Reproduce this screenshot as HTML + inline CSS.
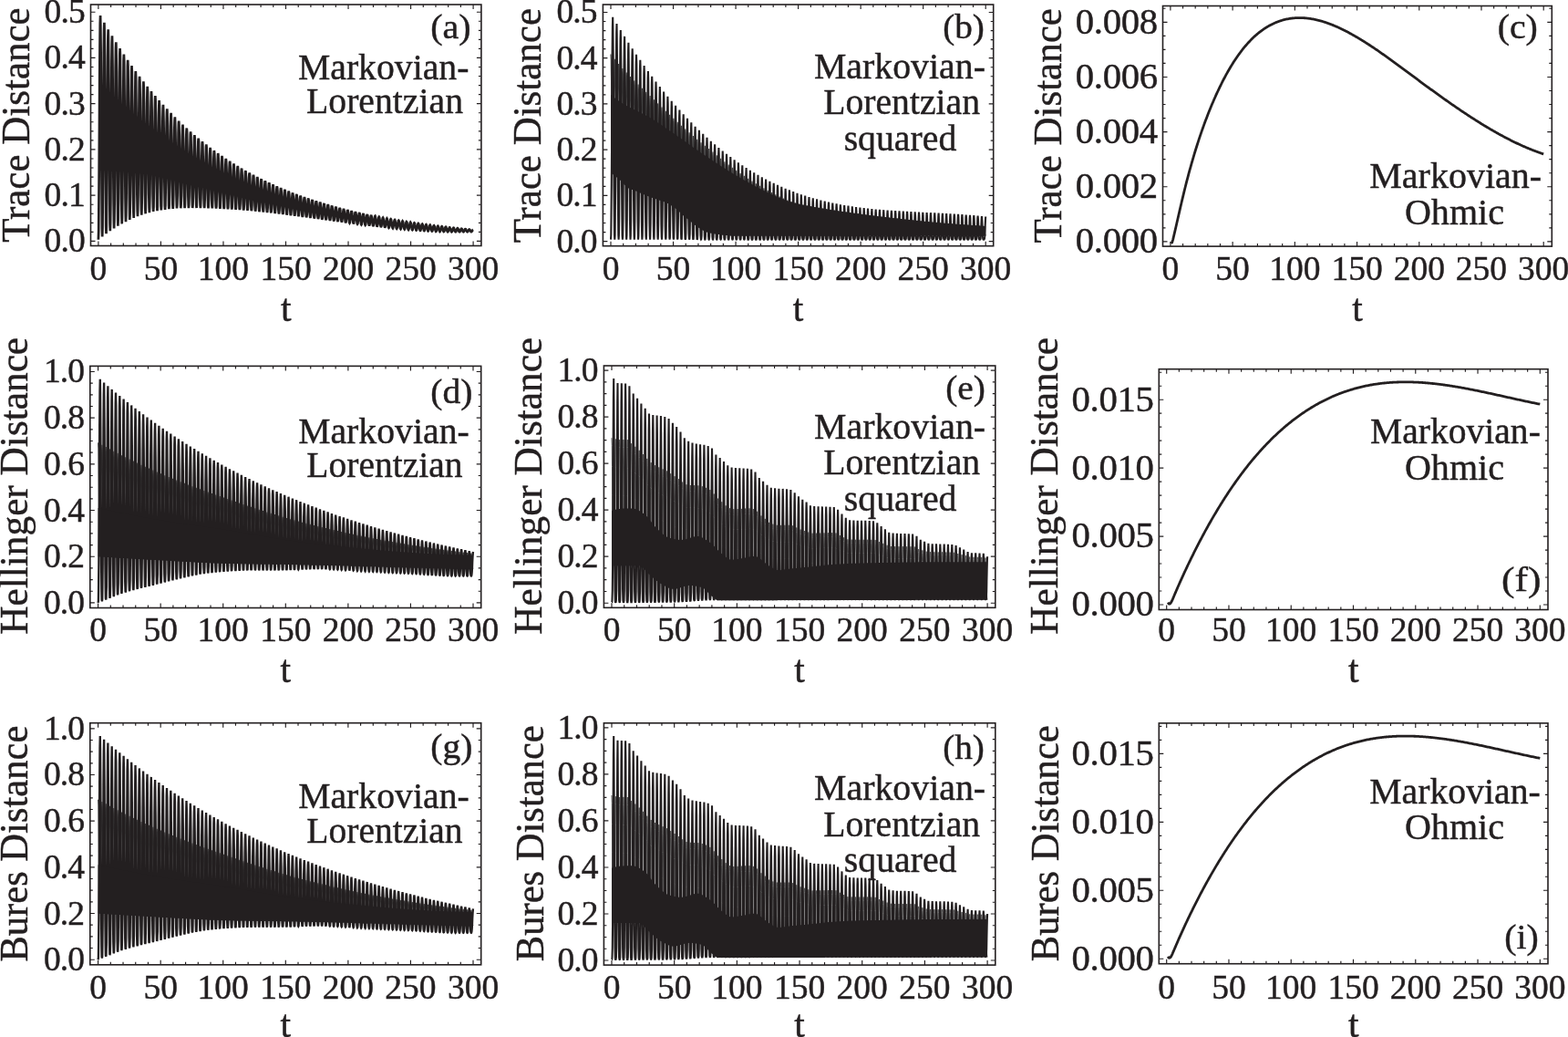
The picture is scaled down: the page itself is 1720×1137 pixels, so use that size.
<!DOCTYPE html><html><head><meta charset="utf-8"><title>Distance measures</title><style>html,body{margin:0;padding:0;background:#fff;overflow:hidden}svg{display:block}text{font-family:'Liberation Serif', 'Times New Roman', serif;fill:#231f20;stroke:#231f20;stroke-width:0.45px}</style></head><body>
<svg width="1720" height="1137" viewBox="0 0 1720 1137">
<rect width="1720" height="1137" fill="#fff"/>
<path d="M107.9 262.7 108.2 253.0 108.4 226.0 108.7 185.7 109.0 138.5 109.2 91.6 109.5 52.1 109.8 25.9 110.1 17.1 110.3 26.9 110.6 53.6 110.9 93.2 111.1 139.6 111.4 185.8 111.7 224.7 111.9 250.5 112.2 259.4 112.5 250.2 112.7 224.3 113.0 185.8 113.3 140.7 113.6 95.9 113.8 58.1 114.1 33.2 114.4 24.8 114.6 34.1 114.9 59.6 115.2 97.5 115.4 141.8 115.7 185.9 116.0 223.1 116.2 247.8 116.5 256.3 116.8 247.4 117.1 222.7 117.3 186.0 117.6 142.9 117.9 100.1 118.1 64.0 118.4 40.2 118.7 32.2 118.9 41.1 119.2 65.5 119.5 101.6 119.7 144.0 120.0 186.1 120.3 221.6 120.5 245.2 120.8 253.3 121.1 244.9 121.4 221.3 121.6 186.2 121.9 145.1 122.2 104.2 122.4 69.8 122.7 47.0 123.0 39.4 123.2 47.9 123.5 71.2 123.8 105.7 124.0 146.1 124.3 186.4 124.6 220.2 124.9 242.7 125.1 250.5 125.4 242.4 125.7 219.9 125.9 186.4 126.2 147.2 126.5 108.2 126.7 75.3 127.0 53.6 127.3 46.3 127.5 54.4 127.8 76.7 128.1 109.7 128.4 148.3 128.6 186.6 128.9 219.0 129.2 240.4 129.4 247.8 129.7 240.2 130.0 218.7 130.2 186.7 130.5 149.3 130.8 112.1 131.0 80.7 131.3 60.0 131.6 53.1 131.9 60.8 132.1 82.1 132.4 113.5 132.7 150.3 132.9 187.0 133.2 217.8 133.5 238.3 133.7 245.4 134.0 238.1 134.3 217.6 134.5 187.1 134.8 151.4 135.1 115.9 135.4 86.0 135.6 66.2 135.9 59.6 136.2 67.0 136.4 87.3 136.7 117.3 137.0 152.4 137.2 187.4 137.5 216.8 137.8 236.3 138.0 243.1 138.3 236.1 138.6 216.6 138.8 187.5 139.1 153.5 139.4 119.6 139.7 91.1 139.9 72.3 140.2 65.9 140.5 73.0 140.7 92.3 141.0 121.0 141.3 154.5 141.5 187.8 141.8 215.9 142.1 234.5 142.3 241.0 142.6 234.3 142.9 215.7 143.2 188.0 143.4 155.5 143.7 123.2 144.0 96.0 144.2 78.1 144.5 72.1 144.8 78.8 145.0 97.3 145.3 124.6 145.6 156.5 145.8 188.3 146.1 215.1 146.4 232.9 146.7 239.0 146.9 232.7 147.2 214.9 147.5 188.5 147.7 157.6 148.0 126.8 148.3 100.9 148.5 83.8 148.8 78.0 149.1 84.5 149.3 102.1 149.6 128.1 149.9 158.6 150.2 188.9 150.4 214.5 150.7 231.4 151.0 237.3 151.2 231.2 151.5 214.3 151.8 189.1 152.0 159.6 152.3 130.3 152.6 105.6 152.8 89.3 153.1 83.8 153.4 89.9 153.7 106.7 153.9 131.6 154.2 160.6 154.5 189.5 154.7 213.9 155.0 230.1 155.3 235.7 155.5 230.0 155.8 213.8 156.1 189.8 156.3 161.7 156.6 133.7 156.9 110.1 157.2 94.6 157.4 89.4 157.7 95.2 158.0 111.3 158.2 134.9 158.5 162.7 158.8 190.3 159.0 213.5 159.3 229.0 159.6 234.3 159.8 228.8 160.1 213.4 160.4 190.6 160.6 163.7 160.9 137.0 161.2 114.6 161.5 99.8 161.7 94.8 162.0 100.4 162.3 115.7 162.5 138.3 162.8 164.7 163.1 191.1 163.3 213.3 163.6 228.0 163.9 233.1 164.1 227.9 164.4 213.2 164.7 191.4 165.0 165.8 165.2 140.3 165.5 118.9 165.8 104.8 166.0 100.0 166.3 105.4 166.6 120.0 166.8 141.5 167.1 166.8 167.4 191.9 167.6 213.1 167.9 227.2 168.2 232.0 168.5 227.1 168.7 213.1 169.0 192.3 169.3 167.8 169.5 143.5 169.8 123.1 170.1 109.6 170.3 105.1 170.6 110.2 170.9 124.1 171.1 144.7 171.4 168.9 171.7 192.8 172.0 213.0 172.2 226.5 172.5 231.1 172.8 226.4 173.0 213.1 173.3 193.2 173.6 169.9 173.8 146.7 174.1 127.2 174.4 114.3 174.6 110.0 174.9 114.9 175.2 128.2 175.5 147.9 175.7 170.9 176.0 193.8 176.3 213.1 176.5 225.9 176.8 230.4 177.1 225.9 177.3 213.1 177.6 194.2 177.9 171.9 178.1 149.8 178.4 131.2 178.7 118.9 179.0 114.8 179.2 119.5 179.5 132.2 179.8 151.0 180.0 172.9 180.3 194.8 180.6 213.2 180.8 225.5 181.1 229.8 181.4 225.4 181.6 213.3 181.9 195.2 182.2 174.0 182.4 152.8 182.7 135.1 183.0 123.4 183.3 119.4 183.5 123.9 183.8 136.0 184.1 154.0 184.3 175.0 184.6 195.8 184.9 213.5 185.1 225.2 185.4 229.2 185.7 225.1 185.9 213.5 186.2 196.2 186.5 176.0 186.8 155.8 187.0 138.8 187.3 127.7 187.6 123.9 187.8 128.2 188.1 139.8 188.4 156.9 188.6 177.0 188.9 196.9 189.2 213.8 189.4 224.9 189.7 228.8 190.0 224.9 190.3 213.8 190.5 197.3 190.8 178.0 191.1 158.7 191.3 142.5 191.6 131.8 191.9 128.3 192.1 132.3 192.4 143.4 192.7 159.8 192.9 179.0 193.2 198.0 193.5 214.1 193.8 224.8 194.0 228.5 194.3 224.8 194.6 214.2 194.8 198.4 195.1 180.0 195.4 161.6 195.6 146.1 195.9 135.9 196.2 132.5 196.4 136.4 196.7 147.0 197.0 162.6 197.3 180.9 197.5 199.2 197.8 214.5 198.1 224.7 198.3 228.3 198.6 224.7 198.9 214.6 199.1 199.6 199.4 181.9 199.7 164.3 199.9 149.6 200.2 139.8 200.5 136.6 200.7 140.3 201.0 150.4 201.3 165.4 201.6 182.9 201.8 200.3 202.1 215.0 202.4 224.7 202.6 228.2 202.9 224.8 203.2 215.1 203.4 200.7 203.7 183.8 204.0 167.0 204.2 152.9 204.5 143.6 204.8 140.5 205.1 144.1 205.3 153.8 205.6 168.0 205.9 184.8 206.1 201.4 206.4 215.5 206.7 224.8 206.9 228.1 207.2 224.8 207.5 215.6 207.7 201.9 208.0 185.7 208.3 169.7 208.6 156.2 208.8 147.3 209.1 144.3 209.4 147.8 209.6 157.0 209.9 170.7 210.2 186.7 210.4 202.6 210.7 216.0 211.0 224.9 211.2 228.0 211.5 224.9 211.8 216.1 212.1 203.0 212.3 187.6 212.6 172.3 212.9 159.4 213.1 150.9 213.4 148.1 213.7 151.3 213.9 160.2 214.2 173.2 214.5 188.5 214.7 203.7 215.0 216.5 215.3 225.1 215.6 228.0 215.8 225.1 216.1 216.7 216.4 204.1 216.6 189.4 216.9 174.8 217.2 162.5 217.4 154.3 217.7 151.7 218.0 154.8 218.2 163.2 218.5 175.7 218.8 190.3 219.1 204.8 219.3 217.1 219.6 225.2 219.9 228.1 220.1 225.3 220.4 217.2 220.7 205.2 220.9 191.2 221.2 177.2 221.5 165.5 221.7 157.7 222.0 155.1 222.3 158.1 222.5 166.2 222.8 178.1 223.1 192.1 223.4 205.9 223.6 217.6 223.9 225.4 224.2 228.2 224.4 225.5 224.7 217.8 225.0 206.3 225.2 192.9 225.5 179.6 225.8 168.4 226.0 161.0 226.3 158.5 226.6 161.4 226.9 169.1 227.1 180.5 227.4 193.8 227.7 207.0 227.9 218.2 228.2 225.6 228.5 228.3 228.7 225.7 229.0 218.4 229.3 207.4 229.5 194.6 229.8 181.9 230.1 171.2 230.4 164.1 230.6 161.8 230.9 164.5 231.2 171.9 231.4 182.8 231.7 195.5 232.0 208.1 232.2 218.8 232.5 225.9 232.8 228.4 233.0 225.9 233.3 218.9 233.6 208.5 233.9 196.3 234.1 184.2 234.4 173.9 234.7 167.2 234.9 165.0 235.2 167.6 235.5 174.6 235.7 185.0 236.0 197.1 236.3 209.2 236.5 219.4 236.8 226.2 237.1 228.6 237.4 226.2 237.6 219.5 237.9 209.6 238.2 197.9 238.4 186.3 238.7 176.6 239.0 170.2 239.2 168.0 239.5 170.5 239.8 177.2 240.0 187.2 240.3 198.7 240.6 210.3 240.9 220.0 241.1 226.5 241.4 228.7 241.7 226.5 241.9 220.2 242.2 210.7 242.5 199.5 242.7 188.5 243.0 179.2 243.3 173.0 243.5 171.0 243.8 173.4 244.1 179.8 244.3 189.3 244.6 200.3 244.9 211.3 245.2 220.6 245.4 226.8 245.7 229.0 246.0 226.8 246.2 220.8 246.5 211.7 246.8 201.1 247.0 190.6 247.3 181.7 247.6 175.8 247.8 173.9 248.1 176.2 248.4 182.3 248.7 191.3 248.9 201.9 249.2 212.4 249.5 221.2 249.7 227.1 250.0 229.2 250.3 227.2 250.5 221.4 250.8 212.8 251.1 202.7 251.3 192.6 251.6 184.1 251.9 178.5 252.2 176.7 252.4 178.9 252.7 184.7 253.0 193.3 253.2 203.4 253.5 213.4 253.8 221.9 254.0 227.5 254.3 229.5 254.6 227.6 254.8 222.0 255.1 213.8 255.4 204.2 255.7 194.6 255.9 186.5 256.2 181.2 256.5 179.4 256.7 181.5 257.0 187.1 257.3 195.3 257.5 204.9 257.8 214.5 258.1 222.5 258.3 227.9 258.6 229.8 258.9 228.0 259.2 222.7 259.4 214.8 259.7 205.6 260.0 196.5 260.2 188.8 260.5 183.7 260.8 182.0 261.0 184.0 261.3 189.3 261.6 197.2 261.8 206.4 262.1 215.5 262.4 223.2 262.6 228.3 262.9 230.1 263.2 228.4 263.5 223.3 263.7 215.9 264.0 207.1 264.3 198.4 264.5 191.0 264.8 186.2 265.1 184.6 265.3 186.5 265.6 191.6 265.9 199.0 266.1 207.8 266.4 216.5 266.7 223.8 267.0 228.7 267.2 230.5 267.5 228.8 267.8 224.0 268.0 216.9 268.3 208.5 268.6 200.2 268.8 193.2 269.1 188.6 269.4 187.1 269.6 188.9 269.9 193.7 270.2 200.9 270.5 209.2 270.7 217.5 271.0 224.5 271.3 229.2 271.5 230.8 271.8 229.2 272.1 224.7 272.3 217.9 272.6 209.9 272.9 202.0 273.1 195.3 273.4 190.9 273.7 189.5 274.0 191.2 274.2 195.8 274.5 202.6 274.8 210.6 275.0 218.5 275.3 225.2 275.6 229.6 275.8 231.2 276.1 229.7 276.4 225.4 276.6 218.9 276.9 211.3 277.2 203.7 277.5 197.3 277.7 193.1 278.0 191.8 278.3 193.4 278.5 197.8 278.8 204.3 279.1 211.9 279.3 219.5 279.6 225.9 279.9 230.1 280.1 231.6 280.4 230.2 280.7 226.0 281.0 219.9 281.2 212.6 281.5 205.4 281.8 199.3 282.0 195.3 282.3 194.0 282.6 195.6 282.8 199.8 283.1 206.0 283.4 213.3 283.6 220.5 283.9 226.6 284.2 230.6 284.4 232.1 284.7 230.7 285.0 226.7 285.3 220.8 285.5 213.9 285.8 207.0 286.1 201.2 286.3 197.4 286.6 196.2 286.9 197.7 287.1 201.7 287.4 207.6 287.7 214.6 287.9 221.4 288.2 227.2 288.5 231.1 288.8 232.5 289.0 231.2 289.3 227.4 289.6 221.8 289.8 215.2 290.1 208.6 290.4 203.1 290.6 199.5 290.9 198.3 291.2 199.7 291.4 203.6 291.7 209.2 292.0 215.8 292.3 222.4 292.5 227.9 292.8 231.6 293.1 233.0 293.3 231.7 293.6 228.1 293.9 222.8 294.1 216.5 294.4 210.2 294.7 204.9 294.9 201.5 295.2 200.4 295.5 201.7 295.8 205.4 296.0 210.8 296.3 217.1 296.6 223.4 296.8 228.6 297.1 232.2 297.4 233.4 297.6 232.2 297.9 228.8 298.2 223.7 298.4 217.7 298.7 211.7 299.0 206.7 299.3 203.4 299.5 202.3 299.8 203.6 300.1 207.1 300.3 212.3 300.6 218.3 300.9 224.3 301.1 229.3 301.4 232.7 301.7 233.9 301.9 232.8 302.2 229.5 302.5 224.6 302.7 218.9 303.0 213.2 303.3 208.4 303.6 205.3 303.8 204.3 304.1 205.5 304.4 208.8 304.6 213.8 304.9 219.5 305.2 225.2 305.4 230.1 305.7 233.3 306.0 234.4 306.2 233.3 306.5 230.2 306.8 225.6 307.1 220.1 307.3 214.7 307.6 210.1 307.9 207.1 308.1 206.1 308.4 207.3 308.7 210.5 308.9 215.2 309.2 220.7 309.5 226.2 309.7 230.8 310.0 233.8 310.3 234.9 310.6 233.9 310.8 230.9 311.1 226.5 311.4 221.3 311.6 216.1 311.9 211.7 312.2 208.8 312.4 207.9 312.7 209.1 313.0 212.1 313.2 216.6 313.5 221.8 313.8 227.1 314.1 231.5 314.3 234.4 314.6 235.5 314.9 234.5 315.1 231.7 315.4 227.4 315.7 222.4 315.9 217.5 316.2 213.3 316.5 210.5 316.7 209.7 317.0 210.8 317.3 213.7 317.6 218.0 317.8 223.0 318.1 228.0 318.4 232.2 318.6 235.0 318.9 236.0 319.2 235.1 319.4 232.4 319.7 228.3 320.0 223.5 320.2 218.8 320.5 214.8 320.8 212.2 321.1 211.4 321.3 212.4 321.6 215.2 321.9 219.3 322.1 224.1 322.4 228.9 322.7 232.9 322.9 235.6 323.2 236.6 323.5 235.7 323.7 233.1 324.0 229.2 324.3 224.6 324.5 220.1 324.8 216.3 325.1 213.8 325.4 213.0 325.6 214.0 325.9 216.7 326.2 220.6 326.4 225.2 326.7 229.8 327.0 233.6 327.2 236.2 327.5 237.1 327.8 236.3 328.0 233.8 328.3 230.1 328.6 225.7 328.9 221.4 329.1 217.7 329.4 215.4 329.7 214.6 329.9 215.5 330.2 218.1 330.5 221.9 330.7 226.3 331.0 230.6 331.3 234.3 331.5 236.8 331.8 237.7 332.1 236.9 332.4 234.5 332.6 230.9 332.9 226.8 333.2 222.6 333.4 219.1 333.7 216.9 334.0 216.1 334.2 217.0 334.5 219.5 334.8 223.1 335.0 227.3 335.3 231.5 335.6 235.0 335.9 237.4 336.1 238.2 336.4 237.5 336.7 235.2 336.9 231.8 337.2 227.8 337.5 223.8 337.7 220.5 338.0 218.3 338.3 217.6 338.5 218.5 338.8 220.8 339.1 224.3 339.4 228.3 339.6 232.3 339.9 235.7 340.2 238.0 340.4 238.8 340.7 238.1 341.0 235.9 341.2 232.7 341.5 228.8 341.8 225.0 342.0 221.8 342.3 219.7 342.6 219.1 342.9 219.9 343.1 222.2 343.4 225.5 343.7 229.3 343.9 233.2 344.2 236.4 344.5 238.6 344.7 239.4 345.0 238.7 345.3 236.6 345.5 233.5 345.8 229.8 346.1 226.2 346.3 223.1 346.6 221.1 346.9 220.5 347.2 221.3 347.4 223.4 347.7 226.6 348.0 230.3 348.2 234.0 348.5 237.1 348.8 239.2 349.0 240.0 349.3 239.3 349.6 237.3 349.8 234.3 350.1 230.8 350.4 227.3 350.7 224.4 350.9 222.4 351.2 221.8 351.5 222.6 351.7 224.7 352.0 227.7 352.3 231.3 352.5 234.8 352.8 237.8 353.1 239.8 353.3 240.6 353.6 239.9 353.9 238.0 354.2 235.1 354.4 231.8 354.7 228.4 355.0 225.6 355.2 223.7 355.5 223.1 355.8 223.9 356.0 225.9 356.3 228.8 356.6 232.2 356.8 235.6 357.1 238.5 357.4 240.4 357.7 241.1 357.9 240.5 358.2 238.7 358.5 235.9 358.7 232.7 359.0 229.5 359.3 226.8 359.5 225.0 359.8 224.4 360.1 225.1 360.3 227.1 360.6 229.9 360.9 233.2 361.2 236.4 361.4 239.2 361.7 241.1 362.0 241.7 362.2 241.1 362.5 239.4 362.8 236.7 363.0 233.6 363.3 230.5 363.6 227.9 363.8 226.2 364.1 225.7 364.4 226.4 364.6 228.2 364.9 230.9 365.2 234.1 365.5 237.2 365.7 239.9 366.0 241.7 366.3 242.3 366.5 241.7 366.8 240.1 367.1 237.5 367.3 234.5 367.6 231.5 367.9 229.0 368.1 227.4 368.4 226.9 368.7 227.5 369.0 229.3 369.2 231.9 369.5 235.0 369.8 238.0 370.0 240.6 370.3 242.3 370.6 242.9 370.8 242.3 371.1 240.7 371.4 238.3 371.6 235.4 371.9 232.5 372.2 230.1 372.5 228.5 372.7 228.0 373.0 228.7 373.3 230.4 373.5 232.9 373.8 235.8 374.1 238.7 374.3 241.2 374.6 242.9 374.9 243.5 375.1 242.9 375.4 241.4 375.7 239.0 376.0 236.2 376.2 233.5 376.5 231.2 376.8 229.6 377.0 229.1 377.3 229.8 377.6 231.4 377.8 233.8 378.1 236.7 378.4 239.5 378.6 241.9 378.9 243.5 379.2 244.1 379.5 243.5 379.7 242.0 380.0 239.8 380.3 237.1 380.5 234.4 380.8 232.2 381.1 230.7 381.3 230.2 381.6 230.8 381.9 232.4 382.1 234.8 382.4 237.5 382.7 240.2 383.0 242.5 383.2 244.1 383.5 244.6 383.8 244.1 384.0 242.7 384.3 240.5 384.6 237.9 384.8 235.3 385.1 233.2 385.4 231.7 385.6 231.3 385.9 231.9 386.2 233.4 386.4 235.7 386.7 238.3 387.0 240.9 387.3 243.1 387.5 244.6 387.8 245.2 388.1 244.7 388.3 243.3 388.6 241.2 388.9 238.7 389.1 236.2 389.4 234.1 389.7 232.7 389.9 232.3 390.2 232.9 390.5 234.4 390.8 236.5 391.0 239.1 391.3 241.6 391.6 243.8 391.8 245.2 392.1 245.7 392.4 245.3 392.6 243.9 392.9 241.9 393.2 239.5 393.4 237.1 393.7 235.1 394.0 233.7 394.3 233.3 394.5 233.8 394.8 235.3 395.1 237.4 395.3 239.9 395.6 242.3 395.9 244.4 396.1 245.8 396.4 246.3 396.7 245.9 396.9 244.5 397.2 242.6 397.5 240.2 397.8 237.9 398.0 236.0 398.3 234.7 398.6 234.3 398.8 234.8 399.1 236.2 399.4 238.2 399.6 240.6 399.9 243.0 400.2 245.0 400.4 246.3 400.7 246.8 401.0 246.4 401.3 245.1 401.5 243.2 401.8 241.0 402.1 238.7 402.3 236.8 402.6 235.6 402.9 235.2 403.1 235.7 403.4 237.0 403.7 239.0 403.9 241.3 404.2 243.6 404.5 245.6 404.8 246.9 405.0 247.4 405.3 246.9 405.6 245.7 405.8 243.9 406.1 241.7 406.4 239.5 406.6 237.7 406.9 236.5 407.2 236.1 407.4 236.6 407.7 237.9 408.0 239.8 408.2 242.0 408.5 244.3 408.8 246.1 409.1 247.4 409.3 247.9 409.6 247.5 409.9 246.3 410.1 244.5 410.4 242.4 410.7 240.3 410.9 238.5 411.2 237.3 411.5 237.0 411.7 237.5 412.0 238.7 412.3 240.6 412.6 242.7 412.8 244.9 413.1 246.7 413.4 247.9 413.6 248.4 413.9 248.0 414.2 246.8 414.4 245.1 414.7 243.1 415.0 241.0 415.2 239.3 415.5 238.2 415.8 237.8 416.1 238.3 416.3 239.5 416.6 241.3 416.9 243.4 417.1 245.5 417.4 247.3 417.7 248.4 417.9 248.9 418.2 248.5 418.5 247.4 418.7 245.7 419.0 243.7 419.3 241.7 419.6 240.1 419.8 239.0 420.1 238.6 420.4 239.1 420.6 240.3 420.9 242.0 421.2 244.0 421.4 246.1 421.7 247.8 422.0 248.9 422.2 249.4 422.5 249.0 422.8 247.9 423.1 246.3 423.3 244.4 423.6 242.4 423.9 240.8 424.1 239.8 424.4 239.4 424.7 239.9 424.9 241.0 425.2 242.7 425.5 244.7 425.7 246.6 426.0 248.3 426.3 249.4 426.5 249.8 426.8 249.5 427.1 248.4 427.4 246.8 427.6 245.0 427.9 243.1 428.2 241.6 428.4 240.5 428.7 240.2 429.0 240.6 429.2 241.7 429.5 243.4 429.8 245.3 430.0 247.2 430.3 248.8 430.6 249.9 430.9 250.3 431.1 249.9 431.4 248.9 431.7 247.4 431.9 245.6 432.2 243.8 432.5 242.3 432.7 241.3 433.0 241.0 433.3 241.4 433.5 242.4 433.8 244.0 434.1 245.9 434.4 247.7 434.6 249.3 434.9 250.3 435.2 250.7 435.4 250.4 435.7 249.4 436.0 247.9 436.2 246.2 436.5 244.4 436.8 243.0 437.0 242.0 437.3 241.7 437.6 242.1 437.9 243.1 438.1 244.6 438.4 246.4 438.7 248.2 438.9 249.7 439.2 250.7 439.5 251.1 439.7 250.8 440.0 249.8 440.3 248.4 440.5 246.7 440.8 245.0 441.1 243.6 441.4 242.7 441.6 242.4 441.9 242.8 442.2 243.8 442.4 245.3 442.7 247.0 443.0 248.7 443.2 250.2 443.5 251.1 443.8 251.5 444.0 251.2 444.3 250.3 444.6 248.9 444.9 247.2 445.1 245.6 445.4 244.3 445.7 243.4 445.9 243.1 446.2 243.4 446.5 244.4 446.7 245.8 447.0 247.5 447.3 249.2 447.5 250.6 447.8 251.5 448.1 251.9 448.3 251.6 448.6 250.7 448.9 249.3 449.2 247.8 449.4 246.2 449.7 244.9 450.0 244.0 450.2 243.7 450.5 244.1 450.8 245.0 451.0 246.4 451.3 248.0 451.6 249.6 451.8 251.0 452.1 251.9 452.4 252.2 452.7 251.9 452.9 251.1 453.2 249.8 453.5 248.3 453.7 246.7 454.0 245.5 454.3 244.6 454.5 244.4 454.8 244.7 455.1 245.6 455.3 246.9 455.6 248.5 455.9 250.0 456.2 251.3 456.4 252.2 456.7 252.5 457.0 252.3 457.2 251.4 457.5 250.2 457.8 248.7 458.0 247.3 458.3 246.0 458.6 245.2 458.8 245.0 459.1 245.3 459.4 246.2 459.7 247.5 459.9 249.0 460.2 250.4 460.5 251.7 460.7 252.5 461.0 252.8 461.3 252.6 461.5 251.8 461.8 250.6 462.1 249.2 462.3 247.8 462.6 246.6 462.9 245.8 463.2 245.6 463.4 245.9 463.7 246.7 464.0 248.0 464.2 249.4 464.5 250.8 464.8 252.0 465.0 252.8 465.3 253.1 465.6 252.9 465.8 252.1 466.1 251.0 466.4 249.6 466.6 248.3 466.9 247.1 467.2 246.4 467.5 246.2 467.7 246.5 468.0 247.3 468.3 248.4 468.5 249.8 468.8 251.2 469.1 252.3 469.3 253.1 469.6 253.4 469.9 253.1 470.1 252.4 470.4 251.3 470.7 250.0 471.0 248.7 471.2 247.7 471.5 247.0 471.8 246.7 472.0 247.0 472.3 247.8 472.6 248.9 472.8 250.2 473.1 251.5 473.4 252.6 473.6 253.3 473.9 253.6 474.2 253.4 474.5 252.7 474.7 251.6 475.0 250.4 475.3 249.2 475.5 248.2 475.8 247.5 476.1 247.3 476.3 247.6 476.6 248.3 476.9 249.3 477.1 250.6 477.4 251.8 477.7 252.8 478.0 253.5 478.2 253.8 478.5 253.6 478.8 252.9 479.0 251.9 479.3 250.8 479.6 249.6 479.8 248.6 480.1 248.0 480.4 247.8 480.6 248.1 480.9 248.8 481.2 249.8 481.5 250.9 481.7 252.1 482.0 253.1 482.3 253.7 482.5 254.0 482.8 253.7 483.1 253.1 483.3 252.2 483.6 251.1 483.9 250.0 484.1 249.1 484.4 248.5 484.7 248.3 485.0 248.6 485.2 249.2 485.5 250.2 485.8 251.3 486.0 252.3 486.3 253.3 486.6 253.9 486.8 254.1 487.1 253.9 487.4 253.3 487.6 252.4 487.9 251.4 488.2 250.4 488.4 249.5 488.7 249.0 489.0 248.8 489.3 249.1 489.5 249.7 489.8 250.5 490.1 251.6 490.3 252.6 490.6 253.4 490.9 254.0 491.1 254.2 491.4 254.0 491.7 253.5 491.9 252.7 492.2 251.7 492.5 250.8 492.8 250.0 493.0 249.5 493.3 249.3 493.6 249.5 493.8 250.1 494.1 250.9 494.4 251.8 494.6 252.8 494.9 253.6 495.2 254.1 495.4 254.3 495.7 254.1 496.0 253.6 496.3 252.9 496.5 252.0 496.8 251.1 497.1 250.4 497.3 249.9 497.6 249.8 497.9 250.0 498.1 250.5 498.4 251.2 498.7 252.1 498.9 253.0 499.2 253.7 499.5 254.2 499.8 254.3 500.0 254.2 500.3 253.7 500.6 253.0 500.8 252.2 501.1 251.4 501.4 250.8 501.6 250.4 501.9 250.2 502.2 250.4 502.4 250.9 502.7 251.5 503.0 252.3 503.3 253.1 503.5 253.8 503.8 254.2 504.1 254.3 504.3 254.2 504.6 253.8 504.9 253.2 505.1 252.4 505.4 251.7 505.7 251.2 505.9 250.8 506.2 250.7 506.5 250.8 506.8 251.2 507.0 251.8 507.3 252.5 507.6 253.2 507.8 253.8 508.1 254.2 508.4 254.3 508.6 254.2 508.9 253.8 509.2 253.3 509.4 252.6 509.7 252.0 510.0 251.5 510.2 251.2 510.5 251.1 510.8 251.2 511.1 251.6 511.3 252.1 511.6 252.7 511.9 253.3 512.1 253.8 512.4 254.1 512.7 254.2 512.9 254.1 513.2 253.8 513.5 253.3 513.7 252.8 514.0 252.3 514.3 251.9 514.6 251.6 514.8 251.5 515.1 251.6 515.4 251.9 515.6 252.4 515.9 252.9 516.2 253.4 516.4 253.8 516.7 254.1 517.0 254.1 517.2 254.0 517.5 253.8 517.8 253.4 518.1 253.0 518.3 252.5 518.6 252.2 518.9 252.0 519.1 251.9" stroke="#231f20" stroke-width="2.7" fill="none" stroke-linejoin="miter" stroke-miterlimit="2"/>
<path d="M670.0 59.5 670.3 65.7 670.5 82.6 670.8 106.8 671.1 133.8 671.3 158.8 671.6 177.7 671.9 188.2 672.2 191.0 672.4 188.7 672.7 178.6 673.0 160.3 673.2 136.0 673.5 109.7 673.8 86.3 674.0 70.3 674.3 64.8 674.6 71.0 674.8 87.6 675.1 111.4 675.4 138.1 675.7 162.6 675.9 181.2 676.2 191.6 676.5 194.3 676.7 192.0 677.0 182.1 677.3 164.0 677.5 140.1 677.8 114.2 678.1 91.2 678.3 75.4 678.6 70.0 678.9 76.0 679.2 92.4 679.4 115.9 679.7 142.2 680.0 166.4 680.2 184.7 680.5 195.0 680.8 197.7 681.0 195.5 681.3 185.8 681.6 168.0 681.8 144.4 682.1 118.8 682.4 96.0 682.6 80.3 682.9 75.0 683.2 80.9 683.5 97.2 683.7 120.6 684.0 146.8 684.3 171.0 684.5 189.3 684.8 199.6 685.1 202.4 685.3 200.2 685.6 190.5 685.9 172.8 686.1 149.1 686.4 123.5 686.7 100.7 687.0 85.0 687.2 79.6 687.5 85.6 687.8 101.8 688.0 125.2 688.3 151.3 688.6 175.3 688.8 193.5 689.1 203.7 689.4 206.3 689.6 204.0 689.9 194.2 690.2 176.4 690.5 152.9 690.7 127.5 691.0 104.9 691.3 89.4 691.5 84.1 691.8 90.0 692.1 105.9 692.3 128.8 692.6 154.4 692.9 177.9 693.1 195.7 693.4 205.5 693.7 208.0 694.0 205.7 694.2 196.1 694.5 178.7 694.8 155.7 695.0 130.8 695.3 108.8 695.6 93.6 695.8 88.4 696.1 94.1 696.4 109.7 696.6 132.1 696.9 157.0 697.2 180.0 697.5 197.4 697.7 207.0 698.0 209.5 698.3 207.2 698.5 197.9 698.8 180.9 699.1 158.4 699.3 134.1 699.6 112.5 699.9 97.7 700.1 92.6 700.4 98.2 700.7 113.4 700.9 135.4 701.2 159.8 701.5 182.4 701.8 199.4 702.0 208.9 702.3 211.3 702.6 209.1 702.8 199.9 703.1 183.3 703.4 161.3 703.6 137.4 703.9 116.3 704.2 101.7 704.4 96.7 704.7 102.2 705.0 117.2 705.3 138.7 705.5 162.7 705.8 184.8 706.1 201.5 706.3 210.8 706.6 213.2 706.9 211.0 707.1 202.0 707.4 185.7 707.7 164.1 707.9 140.8 708.2 120.0 708.5 105.8 708.8 100.9 709.0 106.3 709.3 120.9 709.6 142.0 709.8 165.5 710.1 187.2 710.4 203.6 710.6 212.7 710.9 215.0 711.2 212.9 711.4 204.1 711.7 188.1 712.0 166.9 712.3 144.1 712.5 123.8 712.8 109.8 713.1 105.0 713.3 110.3 713.6 124.7 713.9 145.3 714.1 168.3 714.4 189.5 714.7 205.5 714.9 214.4 715.2 216.7 715.5 214.6 715.8 206.0 716.0 190.4 716.3 169.7 716.6 147.3 716.8 127.5 717.1 113.9 717.4 109.2 717.6 114.4 717.9 128.4 718.2 148.5 718.4 171.0 718.7 191.7 719.0 207.2 719.3 215.9 719.5 218.1 719.8 216.1 720.1 207.7 720.3 192.4 720.6 172.3 720.9 150.5 721.1 131.2 721.4 118.0 721.7 113.4 721.9 118.5 722.2 132.1 722.5 151.7 722.7 173.6 723.0 193.7 723.3 208.9 723.6 217.4 723.8 219.5 724.1 217.6 724.4 209.4 724.6 194.5 724.9 174.9 725.2 153.7 725.4 134.9 725.7 122.0 726.0 117.6 726.2 122.5 726.5 135.8 726.8 154.9 727.1 176.2 727.3 195.9 727.6 210.7 727.9 218.9 728.1 221.0 728.4 219.1 728.7 211.1 728.9 196.7 729.2 177.6 729.5 156.9 729.7 138.6 730.0 126.1 730.3 121.8 730.6 126.6 730.8 139.5 731.1 158.2 731.4 179.0 731.6 198.1 731.9 212.6 732.2 220.7 732.4 222.8 732.7 221.0 733.0 213.2 733.2 199.1 733.5 180.5 733.8 160.3 734.1 142.3 734.3 130.0 734.6 125.8 734.9 130.5 735.1 143.3 735.4 161.6 735.7 182.1 735.9 200.9 736.2 215.2 736.5 223.2 736.7 225.3 737.0 223.6 737.3 216.0 737.6 202.1 737.8 183.7 738.1 163.8 738.4 146.1 738.6 134.0 738.9 129.8 739.2 134.5 739.4 147.1 739.7 165.2 740.0 185.5 740.2 204.2 740.5 218.3 740.8 226.3 741.1 228.4 741.3 226.7 741.6 219.2 741.9 205.5 742.1 187.3 742.4 167.6 742.7 150.0 742.9 137.9 743.2 133.8 743.5 138.4 743.7 150.9 744.0 169.0 744.3 189.2 744.5 208.0 744.8 222.1 745.1 230.1 745.4 232.3 745.6 230.6 745.9 223.2 746.2 209.5 746.4 191.2 746.7 171.5 747.0 153.9 747.2 141.8 747.5 137.7 747.8 142.3 748.0 154.9 748.3 173.0 748.6 193.2 748.9 211.9 749.1 226.1 749.4 234.0 749.7 236.2 749.9 234.5 750.2 227.0 750.5 213.3 750.7 195.1 751.0 175.3 751.3 157.7 751.5 145.7 751.8 141.5 752.1 146.1 752.4 158.7 752.6 176.7 752.9 196.9 753.2 215.6 753.4 229.7 753.7 237.6 754.0 239.7 754.2 238.0 754.5 230.6 754.8 216.9 755.0 198.7 755.3 179.0 755.6 161.5 755.9 149.4 756.1 145.3 756.4 149.9 756.7 162.4 756.9 180.4 757.2 200.5 757.5 219.1 757.7 233.2 758.0 241.0 758.3 243.2 758.5 241.5 758.8 234.0 759.1 220.4 759.4 202.3 759.6 182.7 759.9 165.2 760.2 153.2 760.4 149.0 760.7 153.6 761.0 166.1 761.2 184.0 761.5 204.1 761.8 222.6 762.0 236.7 762.3 244.6 762.6 246.7 762.8 245.0 763.1 237.5 763.4 223.9 763.7 205.8 763.9 186.2 764.2 168.8 764.5 156.8 764.7 152.7 765.0 157.2 765.3 169.7 765.5 187.5 765.8 207.5 766.1 225.9 766.3 239.9 766.6 247.7 766.9 249.7 767.2 248.0 767.4 240.6 767.7 227.1 768.0 209.1 768.2 189.6 768.5 172.2 768.8 160.3 769.0 156.2 769.3 160.8 769.6 173.1 769.8 190.8 770.1 210.6 770.4 228.9 770.7 242.7 770.9 250.5 771.2 252.5 771.5 250.8 771.7 243.4 772.0 229.9 772.3 212.1 772.5 192.7 772.8 175.5 773.1 163.7 773.3 159.7 773.6 164.2 773.9 176.3 774.2 193.8 774.4 213.3 774.7 231.3 775.0 244.9 775.2 252.4 775.5 254.3 775.8 252.6 776.0 245.3 776.3 232.0 776.6 214.4 776.8 195.5 777.1 178.6 777.4 167.1 777.7 163.1 777.9 167.5 778.2 179.3 778.5 196.4 778.7 215.5 779.0 233.1 779.3 246.3 779.5 253.6 779.8 255.5 780.1 253.8 780.3 246.6 780.6 233.7 780.9 216.5 781.2 198.1 781.4 181.7 781.7 170.5 782.0 166.6 782.2 170.9 782.5 182.5 782.8 199.1 783.0 217.6 783.3 234.6 783.6 247.4 783.8 254.5 784.1 256.3 784.4 254.6 784.6 247.7 784.9 235.1 785.2 218.6 785.5 200.7 785.7 184.8 786.0 174.0 786.3 170.3 786.5 174.4 786.8 185.6 787.1 201.7 787.3 219.5 787.6 236.0 787.9 248.4 788.1 255.2 788.4 256.9 788.7 255.3 789.0 248.6 789.2 236.5 789.5 220.5 789.8 203.2 790.0 187.9 790.3 177.4 790.6 173.8 790.8 177.8 791.1 188.6 791.4 204.1 791.6 221.4 791.9 237.3 792.2 249.2 792.5 255.8 792.7 257.5 793.0 255.9 793.3 249.4 793.5 237.7 793.8 222.3 794.1 205.6 794.3 190.8 794.6 180.7 794.9 177.3 795.1 181.1 795.4 191.6 795.7 206.5 796.0 223.2 796.2 238.5 796.5 250.0 796.8 256.4 797.0 258.0 797.3 256.5 797.6 250.2 797.8 238.9 798.1 224.0 798.4 208.0 798.6 193.7 798.9 183.9 799.2 180.6 799.5 184.3 799.7 194.4 800.0 208.8 800.3 224.8 800.5 239.6 800.8 250.7 801.1 256.8 801.3 258.4 801.6 256.9 801.9 250.8 802.1 240.0 802.4 225.6 802.7 210.1 803.0 196.4 803.2 187.0 803.5 183.8 803.8 187.4 804.0 197.1 804.3 210.9 804.6 226.4 804.8 240.5 805.1 251.2 805.4 257.1 805.6 258.6 805.9 257.1 806.2 251.3 806.4 240.9 806.7 227.1 807.0 212.2 807.3 199.0 807.5 190.0 807.8 186.9 808.1 190.4 808.3 199.6 808.6 212.9 808.9 227.7 809.1 241.3 809.4 251.5 809.7 257.2 809.9 258.6 810.2 257.2 810.5 251.6 810.8 241.6 811.0 228.4 811.3 214.2 811.6 201.5 811.8 192.9 812.1 190.0 812.4 193.3 812.6 202.2 812.9 214.9 813.2 229.0 813.4 242.1 813.7 251.8 814.0 257.2 814.3 258.6 814.5 257.2 814.8 251.9 815.1 242.3 815.3 229.7 815.6 216.1 815.9 204.0 816.1 195.7 816.4 192.9 816.7 196.1 816.9 204.6 817.2 216.8 817.5 230.3 817.8 242.8 818.0 252.1 818.3 257.3 818.6 258.6 818.8 257.3 819.1 252.2 819.4 243.0 819.6 230.9 819.9 217.9 820.2 206.4 820.4 198.5 820.7 195.8 821.0 198.8 821.3 207.0 821.5 218.6 821.8 231.6 822.1 243.5 822.3 252.4 822.6 257.4 822.9 258.6 823.1 257.4 823.4 252.5 823.7 243.7 823.9 232.2 824.2 219.7 824.5 208.7 824.7 201.2 825.0 198.6 825.3 201.5 825.6 209.3 825.8 220.4 826.1 232.8 826.4 244.1 826.6 252.7 826.9 257.4 827.2 258.6 827.4 257.4 827.7 252.8 828.0 244.4 828.2 233.3 828.5 221.5 828.8 210.9 829.1 203.7 829.3 201.3 829.6 204.0 829.9 211.5 830.1 222.1 830.4 233.9 830.7 244.8 830.9 253.0 831.2 257.5 831.5 258.6 831.7 257.5 832.0 253.0 832.3 245.0 832.6 234.5 832.8 223.1 833.1 213.1 833.4 206.2 833.6 203.8 833.9 206.5 834.2 213.6 834.4 223.7 834.7 235.0 835.0 245.4 835.2 253.2 835.5 257.5 835.8 258.6 836.1 257.5 836.3 253.3 836.6 245.6 836.9 235.6 837.1 224.7 837.4 215.1 837.7 208.5 837.9 206.3 838.2 208.8 838.5 215.6 838.7 225.3 839.0 236.1 839.3 246.0 839.6 253.4 839.8 257.6 840.1 258.6 840.4 257.6 840.6 253.5 840.9 246.2 841.2 236.6 841.4 226.3 841.7 217.1 842.0 210.8 842.2 208.7 842.5 211.1 842.8 217.6 843.1 226.8 843.3 237.1 843.6 246.6 843.9 253.7 844.1 257.6 844.4 258.6 844.7 257.6 844.9 253.7 845.2 246.8 845.5 237.6 845.7 227.8 846.0 219.0 846.3 213.1 846.5 211.0 846.8 213.4 847.1 219.5 847.4 228.3 847.6 238.1 847.9 247.2 848.2 253.9 848.4 257.7 848.7 258.6 849.0 257.7 849.2 254.0 849.5 247.4 849.8 238.6 850.0 229.3 850.3 220.9 850.6 215.3 850.9 213.3 851.1 215.5 851.4 221.4 851.7 229.8 851.9 239.1 852.2 247.7 852.5 254.1 852.7 257.7 853.0 258.6 853.3 257.7 853.5 254.2 853.8 247.9 854.1 239.6 854.4 230.7 854.6 222.8 854.9 217.4 855.2 215.5 855.4 217.6 855.7 223.2 856.0 231.2 856.2 240.1 856.5 248.2 856.8 254.4 857.0 257.7 857.3 258.6 857.6 257.7 857.9 254.4 858.1 248.4 858.4 240.5 858.7 232.0 858.9 224.5 859.2 219.3 859.5 217.6 859.7 219.6 860.0 224.9 860.3 232.5 860.5 240.9 860.8 248.7 861.1 254.6 861.4 257.8 861.6 258.6 861.9 257.8 862.2 254.6 862.4 248.9 862.7 241.4 863.0 233.2 863.2 226.0 863.5 221.1 863.8 219.5 864.0 221.4 864.3 226.4 864.6 233.7 864.8 241.7 865.1 249.2 865.4 254.7 865.7 257.8 865.9 258.6 866.2 257.8 866.5 254.8 866.7 249.3 867.0 242.1 867.3 234.3 867.5 227.4 867.8 222.7 868.1 221.1 868.3 222.9 868.6 227.8 868.9 234.7 869.2 242.4 869.4 249.5 869.7 254.9 870.0 257.8 870.2 258.6 870.5 257.8 870.8 254.9 871.0 249.7 871.3 242.7 871.6 235.3 871.8 228.6 872.1 224.1 872.4 222.5 872.7 224.3 872.9 228.9 873.2 235.6 873.5 243.0 873.7 249.9 874.0 255.0 874.3 257.9 874.5 258.6 874.8 257.9 875.1 255.1 875.3 250.0 875.6 243.3 875.9 236.1 876.2 229.7 876.4 225.3 876.7 223.8 877.0 225.4 877.2 229.9 877.5 236.3 877.8 243.5 878.0 250.2 878.3 255.1 878.6 257.9 878.8 258.6 879.1 257.9 879.4 255.2 879.7 250.2 879.9 243.7 880.2 236.7 880.5 230.5 880.7 226.2 881.0 224.7 881.3 226.3 881.5 230.6 881.8 236.9 882.1 243.9 882.3 250.4 882.6 255.2 882.9 257.9 883.2 258.6 883.4 257.9 883.7 255.2 884.0 250.5 884.2 244.1 884.5 237.3 884.8 231.2 885.0 227.0 885.3 225.5 885.6 227.1 885.8 231.3 886.1 237.5 886.4 244.3 886.6 250.6 886.9 255.3 887.2 257.9 887.5 258.6 887.7 257.9 888.0 255.3 888.3 250.6 888.5 244.5 888.8 237.8 889.1 231.8 889.3 227.8 889.6 226.3 889.9 227.9 890.1 232.0 890.4 238.0 890.7 244.6 891.0 250.8 891.2 255.4 891.5 257.9 891.8 258.6 892.0 257.9 892.3 255.4 892.6 250.8 892.8 244.8 893.1 238.3 893.4 232.5 893.6 228.5 893.9 227.1 894.2 228.6 894.5 232.6 894.7 238.5 895.0 245.0 895.3 251.0 895.5 255.5 895.8 258.0 896.1 258.6 896.3 258.0 896.6 255.5 896.9 251.0 897.1 245.1 897.4 238.8 897.7 233.1 898.0 229.2 898.2 227.8 898.5 229.3 898.8 233.2 899.0 238.9 899.3 245.3 899.6 251.1 899.8 255.5 900.1 258.0 900.4 258.6 900.6 258.0 900.9 255.6 901.2 251.2 901.5 245.4 901.7 239.2 902.0 233.7 902.3 229.9 902.5 228.6 902.8 230.0 903.1 233.9 903.3 239.4 903.6 245.6 903.9 251.3 904.1 255.6 904.4 258.0 904.7 258.6 905.0 258.0 905.2 255.6 905.5 251.4 905.8 245.8 906.0 239.7 906.3 234.3 906.6 230.6 906.8 229.3 907.1 230.7 907.4 234.5 907.6 239.9 907.9 245.9 908.2 251.5 908.4 255.7 908.7 258.0 909.0 258.6 909.3 258.0 909.5 255.7 909.8 251.6 910.1 246.1 910.3 240.2 910.6 234.9 910.9 231.3 911.1 230.0 911.4 231.4 911.7 235.0 911.9 240.3 912.2 246.2 912.5 251.7 912.8 255.8 913.0 258.0 913.3 258.6 913.6 258.0 913.8 255.8 914.1 251.7 914.4 246.4 914.6 240.6 914.9 235.5 915.2 231.9 915.4 230.7 915.7 232.0 916.0 235.6 916.3 240.8 916.5 246.5 916.8 251.8 917.1 255.8 917.3 258.0 917.6 258.6 917.9 258.0 918.1 255.8 918.4 251.9 918.7 246.7 918.9 241.0 919.2 236.0 919.5 232.6 919.8 231.4 920.0 232.6 920.3 236.1 920.6 241.2 920.8 246.8 921.1 252.0 921.4 255.9 921.6 258.0 921.9 258.6 922.2 258.0 922.4 255.9 922.7 252.0 923.0 246.9 923.3 241.4 923.5 236.5 923.8 233.2 924.1 232.0 924.3 233.3 924.6 236.7 924.9 241.6 925.1 247.1 925.4 252.1 925.7 255.9 925.9 258.1 926.2 258.6 926.5 258.1 926.7 256.0 927.0 252.2 927.3 247.2 927.6 241.8 927.8 237.1 928.1 233.8 928.4 232.6 928.6 233.8 928.9 237.2 929.2 242.0 929.4 247.3 929.7 252.3 930.0 256.0 930.2 258.1 930.5 258.6 930.8 258.1 931.1 256.0 931.3 252.3 931.6 247.5 931.9 242.2 932.1 237.6 932.4 234.4 932.7 233.2 932.9 234.4 933.2 237.7 933.5 242.4 933.7 247.6 934.0 252.4 934.3 256.1 934.6 258.1 934.8 258.6 935.1 258.1 935.4 256.1 935.6 252.5 935.9 247.7 936.2 242.6 936.4 238.1 936.7 234.9 937.0 233.8 937.2 235.0 937.5 238.2 937.8 242.8 938.1 247.9 938.3 252.6 938.6 256.1 938.9 258.1 939.1 258.6 939.4 258.1 939.7 256.1 939.9 252.6 940.2 248.0 940.5 243.0 940.7 238.5 941.0 235.5 941.3 234.4 941.6 235.5 941.8 238.7 942.1 243.1 942.4 248.1 942.6 252.7 942.9 256.2 943.2 258.1 943.4 258.6 943.7 258.1 944.0 256.2 944.2 252.8 944.5 248.2 944.8 243.4 945.1 239.0 945.3 236.0 945.6 235.0 945.9 236.1 946.1 239.1 946.4 243.5 946.7 248.4 946.9 252.9 947.2 256.2 947.5 258.1 947.7 258.6 948.0 258.1 948.3 256.3 948.5 252.9 948.8 248.5 949.1 243.7 949.4 239.5 949.6 236.5 949.9 235.5 950.2 236.6 950.4 239.6 950.7 243.8 951.0 248.6 951.2 253.0 951.5 256.3 951.8 258.1 952.0 258.6 952.3 258.1 952.6 256.3 952.9 253.0 953.1 248.7 953.4 244.1 953.7 239.9 953.9 237.1 954.2 236.1 954.5 237.1 954.7 240.0 955.0 244.2 955.3 248.8 955.5 253.1 955.8 256.3 956.1 258.1 956.4 258.6 956.6 258.1 956.9 256.4 957.2 253.2 957.4 249.0 957.7 244.4 958.0 240.4 958.2 237.6 958.5 236.6 958.8 237.6 959.0 240.5 959.3 244.5 959.6 249.1 959.9 253.3 960.1 256.4 960.4 258.1 960.7 258.6 960.9 258.1 961.2 256.4 961.5 253.3 961.7 249.2 962.0 244.7 962.3 240.8 962.5 238.1 962.8 237.1 963.1 238.1 963.4 240.9 963.6 244.9 963.9 249.3 964.2 253.4 964.4 256.5 964.7 258.2 965.0 258.6 965.2 258.2 965.5 256.5 965.8 253.4 966.0 249.4 966.3 245.1 966.6 241.2 966.9 238.6 967.1 237.6 967.4 238.6 967.7 241.3 967.9 245.2 968.2 249.5 968.5 253.5 968.7 256.5 969.0 258.2 969.3 258.6 969.5 258.2 969.8 256.5 970.1 253.6 970.3 249.6 970.6 245.4 970.9 241.6 971.2 239.1 971.4 238.2 971.7 239.1 972.0 241.7 972.2 245.5 972.5 249.7 972.8 253.6 973.0 256.6 973.3 258.2 973.6 258.6 973.8 258.2 974.1 256.6 974.4 253.7 974.7 249.8 974.9 245.7 975.2 242.0 975.5 239.5 975.7 238.7 976.0 239.6 976.3 242.2 976.5 245.8 976.8 250.0 977.1 253.8 977.3 256.6 977.6 258.2 977.9 258.6 978.2 258.2 978.4 256.6 978.7 253.8 979.0 250.1 979.2 246.0 979.5 242.5 979.8 240.0 980.0 239.1 980.3 240.1 980.6 242.6 980.8 246.2 981.1 250.2 981.4 253.9 981.7 256.7 981.9 258.2 982.2 258.6 982.5 258.2 982.7 256.7 983.0 253.9 983.3 250.3 983.5 246.4 983.8 242.9 984.1 240.5 984.3 239.6 984.6 240.5 984.9 243.0 985.2 246.5 985.4 250.4 985.7 254.0 986.0 256.7 986.2 258.2 986.5 258.6 986.8 258.2 987.0 256.7 987.3 254.0 987.6 250.5 987.8 246.7 988.1 243.3 988.4 240.9 988.6 240.1 988.9 241.0 989.2 243.4 989.5 246.8 989.7 250.6 990.0 254.1 990.3 256.7 990.5 258.2 990.8 258.6 991.1 258.2 991.3 256.8 991.6 254.1 991.9 250.7 992.1 247.0 992.4 243.7 992.7 241.4 993.0 240.6 993.2 241.4 993.5 243.8 993.8 247.1 994.0 250.8 994.3 254.2 994.6 256.8 994.8 258.2 995.1 258.6 995.4 258.2 995.6 256.8 995.9 254.3 996.2 250.9 996.5 247.3 996.7 244.0 997.0 241.8 997.3 241.1 997.5 241.9 997.8 244.1 998.1 247.4 998.3 251.0 998.6 254.3 998.9 256.8 999.1 258.2 999.4 258.6 999.7 258.2 1000.0 256.9 1000.2 254.4 1000.5 251.1 1000.8 247.6 1001.0 244.4 1001.3 242.3 1001.6 241.5 1001.8 242.3 1002.1 244.5 1002.4 247.7 1002.6 251.2 1002.9 254.5 1003.2 256.9 1003.5 258.2 1003.7 258.6 1004.0 258.2 1004.3 256.9 1004.5 254.5 1004.8 251.3 1005.1 247.9 1005.3 244.8 1005.6 242.7 1005.9 242.0 1006.1 242.8 1006.4 244.9 1006.7 248.0 1007.0 251.4 1007.2 254.6 1007.5 256.9 1007.8 258.2 1008.0 258.6 1008.3 258.2 1008.6 256.9 1008.8 254.6 1009.1 251.5 1009.4 248.2 1009.6 245.2 1009.9 243.2 1010.2 242.5 1010.4 243.2 1010.7 245.3 1011.0 248.3 1011.3 251.6 1011.5 254.7 1011.8 257.0 1012.1 258.3 1012.3 258.6 1012.6 258.3 1012.9 257.0 1013.1 254.7 1013.4 251.7 1013.7 248.5 1013.9 245.6 1014.2 243.6 1014.5 242.9 1014.8 243.6 1015.0 245.7 1015.3 248.6 1015.6 251.8 1015.8 254.8 1016.1 257.0 1016.4 258.3 1016.6 258.6 1016.9 258.3 1017.2 257.0 1017.4 254.8 1017.7 251.9 1018.0 248.7 1018.3 245.9 1018.5 244.0 1018.8 243.3 1019.1 244.0 1019.3 246.0 1019.6 248.8 1019.9 252.0 1020.1 254.9 1020.4 257.1 1020.7 258.3 1020.9 258.6 1021.2 258.3 1021.5 257.1 1021.8 254.9 1022.0 252.1 1022.3 249.0 1022.6 246.3 1022.8 244.4 1023.1 243.7 1023.4 244.4 1023.6 246.3 1023.9 249.1 1024.2 252.2 1024.4 255.0 1024.7 257.1 1025.0 258.3 1025.3 258.6 1025.5 258.3 1025.8 257.1 1026.1 255.0 1026.3 252.2 1026.6 249.2 1026.9 246.6 1027.1 244.8 1027.4 244.1 1027.7 244.8 1027.9 246.7 1028.2 249.3 1028.5 252.3 1028.7 255.1 1029.0 257.1 1029.3 258.3 1029.6 258.6 1029.8 258.3 1030.1 257.2 1030.4 255.1 1030.6 252.4 1030.9 249.5 1031.2 246.9 1031.4 245.1 1031.7 244.5 1032.0 245.2 1032.2 247.0 1032.5 249.6 1032.8 252.5 1033.1 255.2 1033.3 257.2 1033.6 258.3 1033.9 258.6 1034.1 258.3 1034.4 257.2 1034.7 255.2 1034.9 252.6 1035.2 249.7 1035.5 247.2 1035.7 245.5 1036.0 244.9 1036.3 245.5 1036.6 247.3 1036.8 249.8 1037.1 252.6 1037.4 255.3 1037.6 257.2 1037.9 258.3 1038.2 258.6 1038.4 258.3 1038.7 257.2 1039.0 255.3 1039.2 252.7 1039.5 249.9 1039.8 247.5 1040.1 245.8 1040.3 245.2 1040.6 245.8 1040.9 247.6 1041.1 250.0 1041.4 252.8 1041.7 255.3 1041.9 257.3 1042.2 258.3 1042.5 258.6 1042.7 258.3 1043.0 257.3 1043.3 255.4 1043.6 252.9 1043.8 250.2 1044.1 247.8 1044.4 246.1 1044.6 245.5 1044.9 246.2 1045.2 247.8 1045.4 250.3 1045.7 252.9 1046.0 255.4 1046.2 257.3 1046.5 258.3 1046.8 258.6 1047.1 258.3 1047.3 257.3 1047.6 255.5 1047.9 253.0 1048.1 250.4 1048.4 248.0 1048.7 246.4 1048.9 245.9 1049.2 246.5 1049.5 248.1 1049.7 250.5 1050.0 253.1 1050.3 255.5 1050.5 257.3 1050.8 258.3 1051.1 258.6 1051.4 258.3 1051.6 257.3 1051.9 255.5 1052.2 253.2 1052.4 250.6 1052.7 248.3 1053.0 246.7 1053.2 246.2 1053.5 246.8 1053.8 248.4 1054.0 250.7 1054.3 253.2 1054.6 255.6 1054.9 257.4 1055.1 258.3 1055.4 258.6 1055.7 258.3 1055.9 257.4 1056.2 255.6 1056.5 253.3 1056.7 250.8 1057.0 248.6 1057.3 247.0 1057.5 246.5 1057.8 247.1 1058.1 248.6 1058.4 250.9 1058.6 253.4 1058.9 255.7 1059.2 257.4 1059.4 258.3 1059.7 258.6 1060.0 258.3 1060.2 257.4 1060.5 255.7 1060.8 253.4 1061.0 251.0 1061.3 248.8 1061.6 247.3 1061.9 246.8 1062.1 247.4 1062.4 248.9 1062.7 251.1 1062.9 253.5 1063.2 255.7 1063.5 257.4 1063.7 258.3 1064.0 258.6 1064.3 258.3 1064.5 257.4 1064.8 255.8 1065.1 253.6 1065.4 251.2 1065.6 249.1 1065.9 247.6 1066.2 247.1 1066.4 247.6 1066.7 249.1 1067.0 251.2 1067.2 253.6 1067.5 255.8 1067.8 257.4 1068.0 258.3 1068.3 258.6 1068.6 258.3 1068.9 257.4 1069.1 255.8 1069.4 253.7 1069.7 251.4 1069.9 249.3 1070.2 247.9 1070.5 247.4 1070.7 247.9 1071.0 249.4 1071.3 251.4 1071.5 253.7 1071.8 255.9 1072.1 257.5 1072.3 258.4 1072.6 258.6 1072.9 258.4 1073.2 257.5 1073.4 255.9 1073.7 253.8 1074.0 251.5 1074.2 249.5 1074.5 248.1 1074.8 247.7 1075.0 248.2 1075.3 249.6 1075.6 251.6 1075.8 253.8 1076.1 255.9 1076.4 257.5 1076.7 258.4 1076.9 258.6 1077.2 258.4 1077.5 257.5 1077.7 256.0 1078.0 253.9 1078.3 251.7 1078.5 249.7 1078.8 248.4 1079.1 247.9 1079.3 248.4 1079.6 249.8 1079.9 251.8 1080.2 254.0 1080.4 256.0 1080.7 257.5 1081.0 258.4 1081.2 258.6" stroke="#444" stroke-width="1.2" fill="none" stroke-linejoin="miter" stroke-miterlimit="2"/>
<path d="M670.0 262.6 670.3 257.7 670.5 238.0 670.8 202.5 671.1 155.6 671.3 105.1 671.6 60.2 671.9 29.4 672.2 18.7 672.4 30.2 672.7 61.7 673.0 106.9 673.2 157.2 673.5 203.6 673.8 238.5 674.0 257.8 674.3 262.6 674.6 257.8 674.8 238.7 675.1 204.3 675.4 158.8 675.7 109.8 675.9 66.2 676.2 36.3 676.5 26.0 676.7 37.1 677.0 67.6 677.3 111.5 677.5 160.4 677.8 205.4 678.1 239.3 678.3 258.0 678.6 262.6 678.9 258.0 679.2 239.4 679.4 206.0 679.7 161.9 680.0 114.3 680.2 72.0 680.5 43.0 680.8 33.0 681.0 43.9 681.3 73.5 681.6 116.0 681.8 163.4 682.1 207.1 682.4 240.0 682.6 258.1 682.9 262.6 683.2 258.1 683.5 240.1 683.7 207.7 684.0 164.9 684.3 118.8 684.5 77.7 684.8 49.6 685.1 39.9 685.3 50.5 685.6 79.2 685.9 120.4 686.1 166.4 686.4 208.8 686.7 240.6 687.0 258.2 687.2 262.6 687.5 258.3 687.8 240.8 688.0 209.4 688.3 167.9 688.6 123.1 688.8 83.3 689.1 56.1 689.4 46.7 689.6 56.9 689.9 84.7 690.2 124.7 690.5 169.3 690.7 210.4 691.0 241.3 691.3 258.4 691.5 262.6 691.8 258.4 692.1 241.5 692.3 211.0 692.6 170.8 692.9 127.4 693.1 88.8 693.4 62.4 693.7 53.2 694.0 63.2 694.2 90.1 694.5 128.9 694.8 172.2 695.0 212.0 695.3 242.0 695.6 258.5 695.8 262.6 696.1 258.5 696.4 242.1 696.6 212.6 696.9 173.6 697.2 131.5 697.5 94.1 697.7 68.5 698.0 59.7 698.3 69.3 698.5 95.4 698.8 133.1 699.1 175.0 699.3 213.6 699.6 242.6 699.9 258.6 700.1 262.6 700.4 258.6 700.7 242.7 700.9 214.1 701.2 176.3 701.5 135.6 701.8 99.3 702.0 74.5 702.3 65.9 702.6 75.3 702.8 100.6 703.1 137.1 703.4 177.7 703.6 215.1 703.9 243.2 704.2 258.8 704.4 262.6 704.7 258.8 705.0 243.4 705.3 215.6 705.5 179.0 705.8 139.5 706.1 104.4 706.3 80.4 706.6 72.1 706.9 81.1 707.1 105.7 707.4 141.0 707.7 180.3 707.9 216.6 708.2 243.8 708.5 258.9 708.8 262.6 709.0 258.9 709.3 244.0 709.6 217.1 709.8 181.6 710.1 143.4 710.4 109.4 710.6 86.1 710.9 78.0 711.2 86.8 711.4 110.6 711.7 144.8 712.0 182.9 712.3 218.0 712.5 244.4 712.8 259.0 713.1 262.6 713.3 259.0 713.6 244.6 713.9 218.5 714.1 184.2 714.4 147.1 714.7 114.2 714.9 91.6 715.2 83.9 715.5 92.3 715.8 115.4 716.0 148.5 716.3 185.4 716.6 219.4 716.8 245.0 717.1 259.1 717.4 262.6 717.6 259.1 717.9 245.1 718.2 219.9 718.4 186.7 718.7 150.8 719.0 118.9 719.3 97.1 719.5 89.5 719.8 97.7 720.1 120.1 720.3 152.1 720.6 187.9 720.9 220.8 721.1 245.5 721.4 259.2 721.7 262.6 721.9 259.2 722.2 245.7 722.5 221.3 722.7 189.1 723.0 154.4 723.3 123.5 723.6 102.4 723.8 95.1 724.1 103.0 724.4 124.6 724.6 155.7 724.9 190.3 725.2 222.3 725.4 246.3 725.7 259.4 726.0 262.6 726.2 259.5 726.5 246.8 726.8 223.7 727.1 192.7 727.3 159.0 727.6 128.7 727.9 107.7 728.1 100.5 728.4 108.4 728.7 130.0 728.9 161.0 729.2 195.1 729.5 225.9 729.7 248.3 730.0 260.0 730.3 262.6 730.6 260.1 730.8 248.8 731.1 227.2 731.4 197.4 731.6 164.2 731.9 134.0 732.2 113.0 732.4 105.7 732.7 113.7 733.0 135.4 733.2 166.1 733.5 199.6 733.8 229.2 734.1 250.1 734.3 260.5 734.6 262.6 734.9 260.5 735.1 250.5 735.4 230.3 735.7 201.7 735.9 169.2 736.2 139.2 736.5 118.2 736.7 110.8 737.0 118.8 737.3 140.5 737.6 171.0 737.8 203.7 738.1 232.2 738.4 251.6 738.6 260.9 738.9 262.6 739.2 260.9 739.4 252.0 739.7 233.2 740.0 205.7 740.2 174.0 740.5 144.2 740.8 123.2 741.1 115.8 741.3 123.8 741.6 145.5 741.9 175.7 742.1 207.7 742.4 234.9 742.7 253.0 742.9 261.2 743.2 262.6 743.5 261.2 743.7 253.3 744.0 235.8 744.3 209.5 744.5 178.5 744.8 149.1 745.1 128.1 745.4 120.6 745.6 128.7 745.9 150.2 746.2 180.1 746.4 211.3 746.7 237.4 747.0 254.2 747.2 261.4 747.5 262.6 747.8 261.5 748.0 254.5 748.3 238.2 748.6 213.1 748.9 182.8 749.1 153.7 749.4 132.8 749.7 125.3 749.9 133.4 750.2 154.8 750.5 184.4 750.7 214.8 751.0 239.6 751.3 255.2 751.5 261.6 751.8 262.6 752.1 261.7 752.4 255.5 752.6 240.4 752.9 216.4 753.2 186.9 753.4 158.2 753.7 137.3 754.0 129.9 754.2 137.9 754.5 159.3 754.8 188.4 755.0 218.0 755.3 241.7 755.6 256.1 755.9 261.8 756.1 262.6 756.4 261.8 756.7 256.3 756.9 242.4 757.2 219.5 757.5 190.8 757.7 162.5 758.0 141.8 758.3 134.3 758.5 142.3 758.8 163.6 759.1 192.2 759.4 221.0 759.6 243.6 759.9 256.9 760.2 262.0 760.4 262.6 760.7 262.0 761.0 257.1 761.2 244.3 761.5 222.4 761.8 194.5 762.0 166.7 762.3 146.1 762.6 138.7 762.8 146.6 763.1 167.7 763.4 195.9 763.7 223.8 763.9 245.3 764.2 257.6 764.5 262.1 764.7 262.6 765.0 262.1 765.3 257.8 765.5 245.9 765.8 225.1 766.1 198.1 766.3 170.7 766.6 150.3 766.9 142.9 767.2 150.8 767.4 171.6 767.7 199.3 768.0 226.4 768.2 246.9 768.5 258.3 768.8 262.2 769.0 262.6 769.3 262.2 769.6 258.4 769.8 247.4 770.1 227.7 770.4 201.4 770.7 174.5 770.9 154.3 771.2 146.9 771.5 154.8 771.7 175.4 772.0 202.6 772.3 228.9 772.5 248.3 772.8 258.8 773.1 262.2 773.3 262.6 773.6 262.3 773.9 258.9 774.2 248.8 774.4 230.1 774.7 204.6 775.0 178.2 775.2 158.2 775.5 150.9 775.8 158.7 776.0 179.1 776.3 205.8 776.6 231.2 776.8 249.6 777.1 259.3 777.4 262.3 777.7 262.6 777.9 262.3 778.2 259.4 778.5 250.1 778.7 232.3 779.0 207.7 779.3 181.7 779.5 162.0 779.8 154.7 780.1 162.4 780.3 182.6 780.6 208.8 780.9 233.3 781.2 250.8 781.4 259.7 781.7 262.4 782.0 262.6 782.2 262.4 782.5 259.8 782.8 251.2 783.0 234.3 783.3 210.5 783.6 185.2 783.8 165.6 784.1 158.4 784.4 166.1 784.6 186.0 784.9 211.6 785.2 235.3 785.5 251.9 785.7 260.1 786.0 262.4 786.3 262.6 786.5 262.4 786.8 260.1 787.1 252.2 787.3 236.3 787.6 213.3 787.9 188.4 788.1 169.1 788.4 162.0 788.7 169.6 789.0 189.2 789.2 214.3 789.5 237.2 789.8 252.8 790.0 260.4 790.3 262.4 790.6 262.6 790.8 262.4 791.1 260.4 791.4 253.2 791.6 238.1 791.9 215.9 792.2 191.6 792.5 172.6 792.7 165.5 793.0 173.0 793.3 192.3 793.5 216.8 793.8 238.9 794.1 253.7 794.3 260.6 794.6 262.5 794.9 262.6 795.1 262.5 795.4 260.7 795.7 254.0 796.0 239.7 796.2 218.3 796.5 194.6 796.8 175.8 797.0 168.8 797.3 176.2 797.6 195.3 797.8 219.2 798.1 240.5 798.4 254.5 798.6 260.9 798.9 262.5 799.2 262.6 799.5 262.5 799.7 260.9 800.0 254.8 800.3 241.3 800.5 220.7 800.8 197.5 801.1 179.0 801.3 172.1 801.6 179.4 801.9 198.2 802.1 221.5 802.4 242.0 802.7 255.3 803.0 261.1 803.2 262.5 803.5 262.6 803.8 262.5 804.0 261.2 804.3 255.5 804.6 242.8 804.8 222.9 805.1 200.2 805.4 182.1 805.6 175.2 805.9 182.4 806.2 200.9 806.4 223.7 806.7 243.4 807.0 255.9 807.3 261.3 807.5 262.5 807.8 262.6 808.1 262.5 808.3 261.3 808.6 256.2 808.9 244.1 809.1 225.0 809.4 202.9 809.7 185.0 809.9 178.2 810.2 185.4 810.5 203.5 810.8 225.7 811.0 244.8 811.3 256.5 811.6 261.5 811.8 262.5 812.1 262.6 812.4 262.5 812.6 261.5 812.9 256.8 813.2 245.4 813.4 227.0 813.7 205.4 814.0 187.9 814.3 181.2 814.5 188.2 814.8 206.0 815.1 227.7 815.3 246.0 815.6 257.1 815.9 261.6 816.1 262.5 816.4 262.6 816.7 262.5 816.9 261.6 817.2 257.3 817.5 246.6 817.8 228.9 818.0 207.8 818.3 190.6 818.6 184.0 818.8 190.9 819.1 208.4 819.4 229.5 819.6 247.1 819.9 257.6 820.2 261.7 820.4 262.6 820.7 262.6 821.0 262.6 821.3 261.8 821.5 257.8 821.8 247.7 822.1 230.6 822.3 210.2 822.6 193.2 822.9 186.7 823.1 193.5 823.4 210.7 823.7 231.3 823.9 248.2 824.2 258.1 824.5 261.8 824.7 262.6 825.0 262.6 825.3 262.6 825.6 261.9 825.8 258.2 826.1 248.7 826.4 232.3 826.6 212.4 826.9 195.7 827.2 189.3 827.4 196.0 827.7 212.9 828.0 232.9 828.2 249.2 828.5 258.5 828.8 261.9 829.1 262.6 829.3 262.6 829.6 262.6 829.9 261.9 830.1 258.6 830.4 249.6 830.7 233.9 830.9 214.5 831.2 198.1 831.5 191.8 831.7 198.4 832.0 215.0 832.3 234.5 832.6 250.1 832.8 258.8 833.1 262.0 833.4 262.6 833.6 262.6 833.9 262.6 834.2 262.0 834.4 259.0 834.7 250.5 835.0 235.4 835.2 216.5 835.5 200.5 835.8 194.2 836.1 200.7 836.3 217.0 836.6 235.9 836.9 250.9 837.1 259.2 837.4 262.1 837.7 262.6 837.9 262.6 838.2 262.6 838.5 262.1 838.7 259.3 839.0 251.3 839.3 236.8 839.6 218.4 839.8 202.7 840.1 196.5 840.4 202.9 840.6 218.9 840.9 237.3 841.2 251.7 841.4 259.5 841.7 262.1 842.0 262.6 842.2 262.6 842.5 262.6 842.8 262.2 843.1 259.6 843.3 252.1 843.6 238.1 843.9 220.3 844.1 204.8 844.4 198.7 844.7 205.1 844.9 220.7 845.2 238.6 845.5 252.4 845.7 259.8 846.0 262.2 846.3 262.6 846.5 262.6 846.8 262.6 847.1 262.2 847.4 259.9 847.6 252.8 847.9 239.4 848.2 222.0 848.4 206.8 848.7 200.9 849.0 207.1 849.2 222.4 849.5 239.9 849.8 253.1 850.0 260.0 850.3 262.2 850.6 262.6 850.9 262.6 851.1 262.6 851.4 262.3 851.7 260.1 851.9 253.4 852.2 240.6 852.5 223.6 852.7 208.8 853.0 202.9 853.3 209.0 853.5 224.0 853.8 241.0 854.1 253.7 854.4 260.2 854.6 262.3 854.9 262.6 855.2 262.6 855.4 262.6 855.7 262.3 856.0 260.3 856.2 254.0 856.5 241.7 856.8 225.2 857.0 210.6 857.3 204.8 857.6 210.8 857.9 225.6 858.1 242.1 858.4 254.3 858.7 260.5 858.9 262.3 859.2 262.6 859.5 262.6 859.7 262.6 860.0 262.3 860.3 260.5 860.5 254.6 860.8 242.7 861.1 226.7 861.4 212.4 861.6 206.7 861.9 212.6 862.2 227.1 862.4 243.1 862.7 254.9 863.0 260.6 863.2 262.4 863.5 262.6 863.8 262.6 864.0 262.6 864.3 262.4 864.6 260.7 864.8 255.1 865.1 243.7 865.4 228.1 865.7 214.1 865.9 208.4 866.2 214.3 866.5 228.5 866.7 244.1 867.0 255.4 867.3 260.8 867.5 262.4 867.8 262.6 868.1 262.6 868.3 262.6 868.6 262.4 868.9 260.9 869.2 255.6 869.4 244.7 869.7 229.4 870.0 215.6 870.2 210.1 870.5 215.8 870.8 229.8 871.0 245.0 871.3 255.8 871.6 261.0 871.8 262.4 872.1 262.6 872.4 262.6 872.7 262.6 872.9 262.4 873.2 261.0 873.5 256.1 873.7 245.5 874.0 230.7 874.3 217.2 874.5 211.7 874.8 217.3 875.1 231.0 875.3 245.8 875.6 256.3 875.9 261.1 876.2 262.4 876.4 262.6 876.7 262.6 877.0 262.6 877.2 262.4 877.5 261.1 877.8 256.4 878.0 246.2 878.3 231.8 878.6 218.5 878.8 213.2 879.1 218.7 879.4 232.0 879.7 246.4 879.9 256.5 880.2 261.2 880.5 262.4 880.7 262.6 881.0 262.6 881.3 262.6 881.5 262.4 881.8 261.2 882.1 256.5 882.3 246.6 882.6 232.6 882.9 219.8 883.2 214.6 883.4 220.0 883.7 232.9 884.0 246.8 884.2 256.6 884.5 261.2 884.8 262.4 885.0 262.6 885.3 262.6 885.6 262.6 885.8 262.4 886.1 261.2 886.4 256.7 886.6 247.1 886.9 233.5 887.2 221.0 887.5 216.0 887.7 221.1 888.0 233.7 888.3 247.3 888.5 256.8 888.8 261.2 889.1 262.4 889.3 262.6 889.6 262.6 889.9 262.6 890.1 262.4 890.4 261.2 890.7 256.9 891.0 247.5 891.2 234.3 891.5 222.1 891.8 217.2 892.0 222.3 892.3 234.5 892.6 247.7 892.8 257.0 893.1 261.3 893.4 262.4 893.6 262.6 893.9 262.6 894.2 262.6 894.5 262.5 894.7 261.3 895.0 257.0 895.3 247.9 895.5 235.0 895.8 223.2 896.1 218.4 896.3 223.3 896.6 235.2 896.9 248.1 897.1 257.1 897.4 261.3 897.7 262.5 898.0 262.6 898.2 262.6 898.5 262.6 898.8 262.5 899.0 261.3 899.3 257.2 899.6 248.3 899.8 235.7 900.1 224.2 900.4 219.6 900.6 224.3 900.9 235.9 901.2 248.4 901.5 257.2 901.7 261.3 902.0 262.5 902.3 262.6 902.5 262.6 902.8 262.6 903.1 262.5 903.3 261.3 903.6 257.3 903.9 248.7 904.1 236.4 904.4 225.2 904.7 220.6 905.0 225.3 905.2 236.6 905.5 248.8 905.8 257.4 906.0 261.4 906.3 262.5 906.6 262.6 906.8 262.6 907.1 262.6 907.4 262.5 907.6 261.4 907.9 257.4 908.2 249.0 908.4 237.0 908.7 226.1 909.0 221.6 909.3 226.2 909.5 237.2 909.8 249.1 910.1 257.5 910.3 261.4 910.6 262.5 910.9 262.6 911.1 262.6 911.4 262.6 911.7 262.5 911.9 261.4 912.2 257.6 912.5 249.3 912.8 237.6 913.0 226.9 913.3 222.6 913.6 227.0 913.8 237.8 914.1 249.4 914.4 257.6 914.6 261.4 914.9 262.5 915.2 262.6 915.4 262.6 915.7 262.6 916.0 262.5 916.3 261.4 916.5 257.7 916.8 249.6 917.1 238.2 917.3 227.7 917.6 223.4 917.9 227.8 918.1 238.3 918.4 249.7 918.7 257.7 918.9 261.4 919.2 262.5 919.5 262.6 919.8 262.6 920.0 262.6 920.3 262.5 920.6 261.5 920.8 257.8 921.1 249.9 921.4 238.7 921.6 228.4 921.9 224.3 922.2 228.5 922.4 238.8 922.7 250.0 923.0 257.8 923.3 261.5 923.5 262.5 923.8 262.6 924.1 262.6 924.3 262.6 924.6 262.5 924.9 261.5 925.1 257.9 925.4 250.1 925.7 239.2 925.9 229.1 926.2 225.0 926.5 229.2 926.7 239.3 927.0 250.2 927.3 257.9 927.6 261.5 927.8 262.5 928.1 262.6 928.4 262.6 928.6 262.6 928.9 262.5 929.2 261.5 929.4 258.0 929.7 250.4 930.0 239.6 930.2 229.7 930.5 225.7 930.8 229.8 931.1 239.7 931.3 250.5 931.6 258.0 931.9 261.5 932.1 262.5 932.4 262.6 932.7 262.6 932.9 262.6 933.2 262.5 933.5 261.5 933.7 258.0 934.0 250.6 934.3 240.0 934.6 230.3 934.8 226.4 935.1 230.4 935.4 240.1 935.6 250.7 935.9 258.1 936.2 261.5 936.4 262.5 936.7 262.6 937.0 262.6 937.2 262.6 937.5 262.5 937.8 261.5 938.1 258.1 938.3 250.8 938.6 240.4 938.9 230.9 939.1 227.0 939.4 231.0 939.7 240.5 939.9 250.9 940.2 258.2 940.5 261.6 940.7 262.5 941.0 262.6 941.3 262.6 941.6 262.6 941.8 262.5 942.1 261.6 942.4 258.2 942.6 251.0 942.9 240.8 943.2 231.4 943.4 227.6 943.7 231.5 944.0 240.9 944.2 251.1 944.5 258.2 944.8 261.6 945.1 262.5 945.3 262.6 945.6 262.6 945.9 262.6 946.1 262.5 946.4 261.6 946.7 258.3 946.9 251.2 947.2 241.1 947.5 231.9 947.7 228.1 948.0 231.9 948.3 241.2 948.5 251.2 948.8 258.3 949.1 261.6 949.4 262.5 949.6 262.6 949.9 262.6 950.2 262.6 950.4 262.5 950.7 261.6 951.0 258.3 951.2 251.3 951.5 241.4 951.8 232.3 952.0 228.6 952.3 232.4 952.6 241.5 952.9 251.4 953.1 258.4 953.4 261.6 953.7 262.5 953.9 262.6 954.2 262.6 954.5 262.6 954.7 262.5 955.0 261.6 955.3 258.4 955.5 251.5 955.8 241.7 956.1 232.7 956.4 229.1 956.6 232.8 956.9 241.8 957.2 251.5 957.4 258.4 957.7 261.6 958.0 262.5 958.2 262.6 958.5 262.6 958.8 262.6 959.0 262.5 959.3 261.6 959.6 258.4 959.9 251.6 960.1 242.0 960.4 233.1 960.7 229.5 960.9 233.1 961.2 242.0 961.5 251.7 961.7 258.5 962.0 261.6 962.3 262.5 962.5 262.6 962.8 262.6 963.1 262.6 963.4 262.5 963.6 261.6 963.9 258.5 964.2 251.8 964.4 242.2 964.7 233.4 965.0 229.9 965.2 233.5 965.5 242.3 965.8 251.8 966.0 258.5 966.3 261.6 966.6 262.5 966.9 262.6 967.1 262.6 967.4 262.6 967.7 262.5 967.9 261.6 968.2 258.5 968.5 251.9 968.7 242.4 969.0 233.8 969.3 230.2 969.5 233.8 969.8 242.5 970.1 251.9 970.3 258.6 970.6 261.6 970.9 262.5 971.2 262.6 971.4 262.6 971.7 262.6 972.0 262.5 972.2 261.6 972.5 258.6 972.8 252.0 973.0 242.7 973.3 234.1 973.6 230.6 973.8 234.1 974.1 242.7 974.4 252.0 974.7 258.6 974.9 261.7 975.2 262.5 975.5 262.6 975.7 262.6 976.0 262.6 976.3 262.5 976.5 261.7 976.8 258.6 977.1 252.1 977.3 242.8 977.6 234.3 977.9 230.9 978.2 234.4 978.4 242.9 978.7 252.1 979.0 258.6 979.2 261.7 979.5 262.5 979.8 262.6 980.0 262.6 980.3 262.6 980.6 262.5 980.8 261.7 981.1 258.7 981.4 252.2 981.7 243.0 981.9 234.6 982.2 231.2 982.5 234.6 982.7 243.1 983.0 252.2 983.3 258.7 983.5 261.7 983.8 262.5 984.1 262.6 984.3 262.6 984.6 262.6 984.9 262.5 985.2 261.7 985.4 258.7 985.7 252.3 986.0 243.2 986.2 234.8 986.5 231.4 986.8 234.9 987.0 243.2 987.3 252.3 987.6 258.7 987.8 261.7 988.1 262.5 988.4 262.6 988.6 262.6 988.9 262.6 989.2 262.5 989.5 261.7 989.7 258.7 990.0 252.4 990.3 243.3 990.5 235.1 990.8 231.7 991.1 235.1 991.3 243.4 991.6 252.4 991.9 258.7 992.1 261.7 992.4 262.5 992.7 262.6 993.0 262.6 993.2 262.6 993.5 262.5 993.8 261.7 994.0 258.7 994.3 252.4 994.6 243.5 994.8 235.3 995.1 231.9 995.4 235.3 995.6 243.5 995.9 252.5 996.2 258.8 996.5 261.7 996.7 262.5 997.0 262.6 997.3 262.6 997.5 262.6 997.8 262.5 998.1 261.7 998.3 258.8 998.6 252.5 998.9 243.6 999.1 235.5 999.4 232.1 999.7 235.5 1000.0 243.7 1000.2 252.5 1000.5 258.8 1000.8 261.7 1001.0 262.5 1001.3 262.6 1001.6 262.6 1001.8 262.6 1002.1 262.5 1002.4 261.7 1002.6 258.8 1002.9 252.6 1003.2 243.8 1003.5 235.7 1003.7 232.4 1004.0 235.7 1004.3 243.8 1004.5 252.6 1004.8 258.8 1005.1 261.7 1005.3 262.5 1005.6 262.6 1005.9 262.6 1006.1 262.6 1006.4 262.5 1006.7 261.7 1007.0 258.8 1007.2 252.7 1007.5 243.9 1007.8 235.9 1008.0 232.6 1008.3 235.9 1008.6 243.9 1008.8 252.7 1009.1 258.8 1009.4 261.7 1009.6 262.5 1009.9 262.6 1010.2 262.6 1010.4 262.6 1010.7 262.5 1011.0 261.7 1011.3 258.9 1011.5 252.7 1011.8 244.0 1012.1 236.0 1012.3 232.8 1012.6 236.1 1012.9 244.1 1013.1 252.7 1013.4 258.9 1013.7 261.7 1013.9 262.5 1014.2 262.6 1014.5 262.6 1014.8 262.6 1015.0 262.5 1015.3 261.7 1015.6 258.9 1015.8 252.8 1016.1 244.2 1016.4 236.2 1016.6 233.0 1016.9 236.2 1017.2 244.2 1017.4 252.8 1017.7 258.9 1018.0 261.7 1018.3 262.5 1018.5 262.6 1018.8 262.6 1019.1 262.6 1019.3 262.5 1019.6 261.7 1019.9 258.9 1020.1 252.9 1020.4 244.3 1020.7 236.4 1020.9 233.2 1021.2 236.4 1021.5 244.3 1021.8 252.9 1022.0 258.9 1022.3 261.7 1022.6 262.5 1022.8 262.6 1023.1 262.6 1023.4 262.6 1023.6 262.5 1023.9 261.7 1024.2 258.9 1024.4 252.9 1024.7 244.4 1025.0 236.6 1025.3 233.4 1025.5 236.6 1025.8 244.4 1026.1 253.0 1026.3 258.9 1026.6 261.7 1026.9 262.5 1027.1 262.6 1027.4 262.6 1027.7 262.6 1027.9 262.5 1028.2 261.7 1028.5 259.0 1028.7 253.0 1029.0 244.5 1029.3 236.8 1029.6 233.6 1029.8 236.8 1030.1 244.6 1030.4 253.0 1030.6 259.0 1030.9 261.7 1031.2 262.5 1031.4 262.6 1031.7 262.6 1032.0 262.6 1032.2 262.5 1032.5 261.7 1032.8 259.0 1033.1 253.1 1033.3 244.7 1033.6 237.0 1033.9 233.8 1034.1 237.0 1034.4 244.7 1034.7 253.1 1034.9 259.0 1035.2 261.7 1035.5 262.5 1035.7 262.6 1036.0 262.6 1036.3 262.6 1036.6 262.5 1036.8 261.7 1037.1 259.0 1037.4 253.1 1037.6 244.8 1037.9 237.2 1038.2 234.0 1038.4 237.2 1038.7 244.9 1039.0 253.2 1039.2 259.0 1039.5 261.8 1039.8 262.5 1040.1 262.6 1040.3 262.6 1040.6 262.6 1040.9 262.5 1041.1 261.8 1041.4 259.0 1041.7 253.2 1041.9 245.0 1042.2 237.4 1042.5 234.3 1042.7 237.4 1043.0 245.0 1043.3 253.3 1043.6 259.1 1043.8 261.8 1044.1 262.5 1044.4 262.6 1044.6 262.6 1044.9 262.6 1045.2 262.5 1045.4 261.8 1045.7 259.1 1046.0 253.3 1046.2 245.1 1046.5 237.6 1046.8 234.6 1047.1 237.6 1047.3 245.2 1047.6 253.3 1047.9 259.1 1048.1 261.8 1048.4 262.5 1048.7 262.6 1048.9 262.6 1049.2 262.6 1049.5 262.5 1049.7 261.8 1050.0 259.1 1050.3 253.4 1050.5 245.3 1050.8 237.9 1051.1 234.8 1051.4 237.9 1051.6 245.4 1051.9 253.4 1052.2 259.1 1052.4 261.8 1052.7 262.5 1053.0 262.6 1053.2 262.6 1053.5 262.6 1053.8 262.5 1054.0 261.8 1054.3 259.1 1054.6 253.5 1054.9 245.5 1055.1 238.1 1055.4 235.1 1055.7 238.2 1055.9 245.5 1056.2 253.5 1056.5 259.2 1056.7 261.8 1057.0 262.5 1057.3 262.6 1057.5 262.6 1057.8 262.6 1058.1 262.5 1058.4 261.8 1058.6 259.2 1058.9 253.6 1059.2 245.7 1059.4 238.4 1059.7 235.5 1060.0 238.5 1060.2 245.7 1060.5 253.6 1060.8 259.2 1061.0 261.8 1061.3 262.5 1061.6 262.6 1061.9 262.6 1062.1 262.6 1062.4 262.5 1062.7 261.8 1062.9 259.2 1063.2 253.7 1063.5 245.9 1063.7 238.7 1064.0 235.8 1064.3 238.8 1064.5 246.0 1064.8 253.8 1065.1 259.3 1065.4 261.8 1065.6 262.5 1065.9 262.6 1066.2 262.6 1066.4 262.6 1066.7 262.5 1067.0 261.8 1067.2 259.3 1067.5 253.8 1067.8 246.1 1068.0 239.1 1068.3 236.2 1068.6 239.1 1068.9 246.2 1069.1 253.9 1069.4 259.3 1069.7 261.8 1069.9 262.5 1070.2 262.6 1070.5 262.6 1070.7 262.6 1071.0 262.5 1071.3 261.8 1071.5 259.3 1071.8 254.0 1072.1 246.4 1072.3 239.4 1072.6 236.6 1072.9 239.5 1073.2 246.5 1073.4 254.0 1073.7 259.4 1074.0 261.8 1074.2 262.5 1074.5 262.6 1074.8 262.6 1075.0 262.6 1075.3 262.5 1075.6 261.8 1075.8 259.4 1076.1 254.1 1076.4 246.7 1076.7 239.8 1076.9 237.0 1077.2 239.9 1077.5 246.7 1077.7 254.2 1078.0 259.4 1078.3 261.8 1078.5 262.5 1078.8 262.6 1079.1 262.6 1079.3 262.6 1079.6 262.5 1079.9 261.8 1080.2 259.4 1080.4 254.3 1080.7 247.0 1081.0 240.2 1081.2 237.5" stroke="#231f20" stroke-width="2.1" fill="none" stroke-linejoin="miter" stroke-miterlimit="2"/>
<path d="M670.00 103.87 672.07 105.53 674.13 107.15 676.20 108.73 678.27 110.26 680.33 111.71 682.40 113.09 684.46 114.38 686.53 115.58 688.60 116.72 690.66 117.80 692.73 118.83 694.80 119.84 696.86 120.82 698.93 121.79 700.99 122.77 703.06 123.76 705.13 124.77 707.19 125.83 709.26 126.93 711.33 128.10 713.39 129.32 715.46 130.58 717.53 131.87 719.59 133.20 721.66 134.56 723.72 135.94 725.79 137.33 727.86 138.74 729.92 140.16 731.99 141.59 734.06 143.02 736.12 144.44 738.19 145.86 740.26 147.27 742.32 148.70 744.39 150.13 746.45 151.59 748.52 153.05 750.59 154.51 752.65 155.99 754.72 157.46 756.79 158.94 758.85 160.41 760.92 161.88 762.98 163.34 765.05 164.79 767.12 166.22 769.18 167.64 771.25 169.05 773.32 170.44 775.38 171.83 777.45 173.21 779.52 174.59 781.58 175.97 783.65 177.34 785.71 178.70 787.78 180.05 789.85 181.39 791.91 182.73 793.98 184.05 796.05 185.35 798.11 186.64 800.18 187.92 802.25 189.18 804.31 190.42 806.38 191.65 808.44 192.88 810.51 194.10 812.58 195.32 814.64 196.52 816.71 197.72 818.78 198.90 820.84 200.07 822.91 201.22 824.97 202.35 827.04 203.46 829.11 204.56 831.17 205.63 833.24 206.67 835.31 207.69 837.37 208.68 839.44 209.67 841.51 210.66 843.57 211.64 845.64 212.63 847.70 213.59 849.77 214.55 851.84 215.48 853.90 216.39 855.97 217.27 858.04 218.11 860.10 218.92 862.17 219.69 864.24 220.41 866.30 221.07 868.37 221.69 870.43 222.25 872.50 222.78 874.57 223.28 876.63 223.76 878.70 224.21 880.77 224.65 882.83 225.07 884.90 225.47 886.96 225.86 889.03 226.24 891.10 226.61 893.16 226.97 895.23 227.33 897.30 227.68 899.36 228.04 901.43 228.40 903.50 228.76 905.56 229.11 907.63 229.45 909.69 229.79 911.76 230.13 913.83 230.45 915.89 230.78 917.96 231.10 920.03 231.41 922.09 231.72 924.16 232.02 926.23 232.32 928.29 232.62 930.36 232.91 932.42 233.20 934.49 233.49 936.56 233.77 938.62 234.05 940.69 234.33 942.76 234.61 944.82 234.88 946.89 235.15 948.95 235.41 951.02 235.68 953.09 235.94 955.15 236.20 957.22 236.45 959.29 236.71 961.35 236.96 963.42 237.21 965.49 237.45 967.55 237.70 969.62 237.94 971.68 238.19 973.75 238.43 975.82 238.66 977.88 238.90 979.95 239.14 982.02 239.37 984.08 239.60 986.15 239.83 988.22 240.06 990.28 240.30 992.35 240.53 994.41 240.76 996.48 240.98 998.55 241.21 1000.61 241.44 1002.68 241.66 1004.75 241.88 1006.81 242.10 1008.88 242.32 1010.94 242.53 1013.01 242.74 1015.08 242.95 1017.14 243.16 1019.21 243.36 1021.28 243.56 1023.34 243.75 1025.41 243.94 1027.48 244.13 1029.54 244.31 1031.61 244.49 1033.67 244.66 1035.74 244.83 1037.81 245.00 1039.87 245.17 1041.94 245.34 1044.01 245.50 1046.07 245.66 1048.14 245.82 1050.21 245.98 1052.27 246.13 1054.34 246.29 1056.40 246.44 1058.47 246.58 1060.54 246.73 1062.60 246.87 1064.67 247.01 1066.74 247.15 1068.80 247.28 1070.87 247.41 1072.93 247.54 1075.00 247.67 1077.07 247.79 1079.13 247.91 1081.20 248.02 1081.20 258.57 1079.13 258.57 1077.07 258.57 1075.00 258.57 1072.93 258.57 1070.87 258.57 1068.80 258.57 1066.74 258.57 1064.67 258.57 1062.60 258.57 1060.54 258.57 1058.47 258.57 1056.40 258.57 1054.34 258.57 1052.27 258.57 1050.21 258.57 1048.14 258.57 1046.07 258.57 1044.01 258.57 1041.94 258.57 1039.87 258.57 1037.81 258.57 1035.74 258.57 1033.67 258.57 1031.61 258.57 1029.54 258.57 1027.48 258.57 1025.41 258.57 1023.34 258.57 1021.28 258.57 1019.21 258.57 1017.14 258.57 1015.08 258.57 1013.01 258.57 1010.94 258.57 1008.88 258.57 1006.81 258.57 1004.75 258.57 1002.68 258.57 1000.61 258.57 998.55 258.57 996.48 258.57 994.41 258.57 992.35 258.57 990.28 258.57 988.22 258.57 986.15 258.57 984.08 258.57 982.02 258.57 979.95 258.57 977.88 258.57 975.82 258.57 973.75 258.57 971.68 258.57 969.62 258.57 967.55 258.57 965.49 258.57 963.42 258.57 961.35 258.57 959.29 258.57 957.22 258.57 955.15 258.57 953.09 258.57 951.02 258.57 948.95 258.57 946.89 258.57 944.82 258.57 942.76 258.57 940.69 258.57 938.62 258.57 936.56 258.57 934.49 258.57 932.42 258.57 930.36 258.57 928.29 258.57 926.23 258.57 924.16 258.57 922.09 258.57 920.03 258.57 917.96 258.57 915.89 258.57 913.83 258.57 911.76 258.57 909.69 258.57 907.63 258.57 905.56 258.57 903.50 258.57 901.43 258.57 899.36 258.57 897.30 258.57 895.23 258.57 893.16 258.57 891.10 258.57 889.03 258.57 886.96 258.57 884.90 258.57 882.83 258.57 880.77 258.57 878.70 258.57 876.63 258.57 874.57 258.57 872.50 258.57 870.43 258.57 868.37 258.57 866.30 258.57 864.24 258.57 862.17 258.57 860.10 258.57 858.04 258.57 855.97 258.57 853.90 258.57 851.84 258.57 849.77 258.57 847.70 258.57 845.64 258.57 843.57 258.57 841.51 258.57 839.44 258.57 837.37 258.57 835.31 258.57 833.24 258.57 831.17 258.57 829.11 258.57 827.04 258.57 824.97 258.57 822.91 258.57 820.84 258.57 818.78 258.57 816.71 258.57 814.64 258.57 812.58 258.57 810.51 258.57 808.44 258.57 806.38 258.57 804.31 258.52 802.25 258.43 800.18 258.29 798.11 258.11 796.05 257.89 793.98 257.65 791.91 257.39 789.85 257.12 787.78 256.84 785.71 256.55 783.65 256.23 781.58 255.86 779.52 255.42 777.45 254.90 775.38 254.31 773.32 253.57 771.25 252.53 769.18 251.27 767.12 249.90 765.05 248.51 762.98 246.98 760.92 245.33 758.85 243.64 756.79 241.97 754.72 240.32 752.65 238.66 750.59 236.96 748.52 235.21 746.45 233.32 744.39 231.35 742.32 229.45 740.26 227.79 738.19 226.29 736.12 224.90 734.06 223.64 731.99 222.55 729.92 221.66 727.86 220.89 725.79 220.18 723.72 219.49 721.66 218.79 719.59 218.12 717.53 217.46 715.46 216.76 713.39 216.00 711.33 215.17 709.26 214.30 707.19 213.43 705.13 212.55 703.06 211.64 700.99 210.73 698.93 209.85 696.86 209.04 694.80 208.36 692.73 207.70 690.66 206.91 688.60 205.80 686.53 203.99 684.46 201.73 682.40 199.40 680.33 197.34 678.27 195.65 676.20 194.09 674.13 192.55 672.07 190.95 670.00 189.26Z" fill="#231f20"/>
<path d="M107.6 485.4 107.9 491.7 108.1 508.9 108.4 533.3 108.7 559.8 108.9 583.4 109.2 600.1 109.5 608.6 109.8 610.4 110.0 608.6 110.3 600.2 110.6 583.6 110.8 560.4 111.1 534.3 111.4 510.4 111.6 493.7 111.9 487.8 112.2 494.0 112.4 510.9 112.7 534.9 113.0 560.9 113.3 584.1 113.5 600.6 113.8 608.9 114.1 610.6 114.3 608.9 114.6 600.7 114.9 584.4 115.1 561.5 115.4 535.8 115.7 512.3 115.9 495.9 116.2 490.1 116.5 496.2 116.8 512.8 117.0 536.4 117.3 562.0 117.6 584.8 117.8 601.0 118.1 609.2 118.4 610.9 118.6 609.2 118.9 601.1 119.2 585.1 119.4 562.6 119.7 537.4 120.0 514.3 120.3 498.1 120.5 492.4 120.8 498.4 121.1 514.7 121.3 537.9 121.6 563.1 121.9 585.5 122.1 601.4 122.4 609.5 122.7 611.2 122.9 609.5 123.2 601.5 123.5 585.8 123.8 563.7 124.0 538.9 124.3 516.2 124.6 500.3 124.8 494.7 125.1 500.6 125.4 516.6 125.6 539.4 125.9 564.2 126.2 586.2 126.4 601.9 126.7 609.8 127.0 611.4 127.3 609.8 127.5 602.0 127.8 586.5 128.1 564.7 128.3 540.4 128.6 518.0 128.9 502.5 129.1 496.9 129.4 502.7 129.7 518.5 129.9 540.9 130.2 565.3 130.5 586.9 130.8 602.3 131.0 610.0 131.3 611.7 131.6 610.1 131.8 602.4 132.1 587.2 132.4 565.8 132.6 541.8 132.9 519.9 133.2 504.6 133.4 499.2 133.7 504.8 134.0 520.3 134.3 542.4 134.5 566.3 134.8 587.6 135.1 602.7 135.3 610.3 135.6 611.9 135.9 610.4 136.1 602.8 136.4 587.8 136.7 566.8 136.9 543.3 137.2 521.7 137.5 506.6 137.8 501.3 138.0 506.9 138.3 522.1 138.6 543.8 138.8 567.3 139.1 588.3 139.4 603.1 139.6 610.6 139.9 612.2 140.2 610.7 140.4 603.2 140.7 588.5 141.0 567.9 141.3 544.7 141.5 523.5 141.8 508.7 142.1 503.5 142.3 508.9 142.6 523.9 142.9 545.2 143.1 568.4 143.4 588.9 143.7 603.5 144.0 610.9 144.2 612.5 144.5 610.9 144.8 603.6 145.0 589.2 145.3 568.9 145.6 546.1 145.8 525.3 146.1 510.7 146.4 505.6 146.6 510.9 146.9 525.7 147.2 546.6 147.5 569.4 147.7 589.6 148.0 603.9 148.3 611.2 148.5 612.7 148.8 611.2 149.1 604.0 149.3 589.8 149.6 569.9 149.9 547.5 150.1 527.0 150.4 512.7 150.7 507.6 151.0 512.9 151.2 527.4 151.5 548.0 151.8 570.3 152.0 590.2 152.3 604.3 152.6 611.4 152.8 613.0 153.1 611.5 153.4 604.4 153.6 590.4 153.9 570.8 154.2 548.8 154.5 528.7 154.7 514.6 155.0 509.7 155.3 514.9 155.5 529.1 155.8 549.3 156.1 571.3 156.3 590.8 156.6 604.7 156.9 611.7 157.1 613.2 157.4 611.8 157.7 604.8 158.0 591.1 158.2 571.8 158.5 550.2 158.8 530.4 159.0 516.5 159.3 511.7 159.6 516.8 159.8 530.8 160.1 550.7 160.4 572.3 160.6 591.5 160.9 605.1 161.2 612.0 161.5 613.4 161.7 612.0 162.0 605.2 162.3 591.7 162.5 572.7 162.8 551.5 163.1 532.0 163.3 518.4 163.6 513.6 163.9 518.7 164.1 532.4 164.4 552.0 164.7 573.2 165.0 592.1 165.2 605.5 165.5 612.2 165.8 613.7 166.0 612.3 166.3 605.6 166.6 592.3 166.8 573.7 167.1 552.8 167.4 533.6 167.6 520.3 167.9 515.6 168.2 520.5 168.5 534.0 168.7 553.2 169.0 574.1 169.3 592.7 169.5 605.9 169.8 612.5 170.1 613.9 170.3 612.5 170.6 605.9 170.9 592.9 171.1 574.6 171.4 554.0 171.7 535.2 172.0 522.1 172.2 517.5 172.5 522.3 172.8 535.6 173.0 554.5 173.3 575.0 173.6 593.3 173.8 606.2 174.1 612.8 174.4 614.1 174.6 612.8 174.9 606.3 175.2 593.5 175.5 575.5 175.7 555.3 176.0 536.8 176.3 523.9 176.5 519.3 176.8 524.1 177.1 537.2 177.3 555.8 177.6 575.9 177.9 593.9 178.1 606.6 178.4 613.0 178.7 614.4 179.0 613.1 179.2 606.7 179.5 594.1 179.8 576.4 180.0 556.5 180.3 538.3 180.6 525.7 180.8 521.2 181.1 525.9 181.4 538.7 181.6 557.0 181.9 576.8 182.2 594.4 182.5 607.0 182.7 613.3 183.0 614.6 183.3 613.3 183.5 607.1 183.8 594.7 184.1 577.3 184.3 557.7 184.6 539.9 184.9 527.4 185.1 523.0 185.4 527.6 185.7 540.2 186.0 558.2 186.2 577.7 186.5 595.0 186.8 607.3 187.0 613.6 187.3 614.9 187.6 613.6 187.8 607.4 188.1 595.2 188.4 578.1 188.6 558.9 188.9 541.4 189.2 529.1 189.5 524.7 189.7 529.3 190.0 541.7 190.3 559.4 190.5 578.6 190.8 595.6 191.1 607.7 191.3 613.8 191.6 615.1 191.9 613.9 192.1 607.8 192.4 595.8 192.7 579.0 193.0 560.1 193.2 542.8 193.5 530.8 193.8 526.5 194.0 531.0 194.3 543.2 194.6 560.5 194.8 579.4 195.1 596.2 195.4 608.1 195.6 614.1 195.9 615.4 196.2 614.1 196.5 608.2 196.7 596.4 197.0 579.8 197.3 561.3 197.5 544.3 197.8 532.4 198.1 528.2 198.3 532.6 198.6 544.6 198.9 561.7 199.1 580.3 199.4 596.7 199.7 608.5 200.0 614.4 200.2 615.6 200.5 614.4 200.8 608.5 201.0 597.0 201.3 580.7 201.6 562.4 201.8 545.7 202.1 534.0 202.4 529.9 202.6 534.2 202.9 546.0 203.2 562.8 203.5 581.1 203.7 597.3 204.0 608.8 204.3 614.6 204.5 615.9 204.8 614.7 205.1 608.9 205.3 597.5 205.6 581.5 205.9 563.5 206.1 547.1 206.4 535.6 206.7 531.6 207.0 535.8 207.2 547.4 207.5 563.9 207.8 581.9 208.0 597.8 208.3 609.2 208.6 614.9 208.8 616.1 209.1 614.9 209.4 609.3 209.6 598.0 209.9 582.3 210.2 564.6 210.5 548.5 210.7 537.2 211.0 533.2 211.3 537.4 211.5 548.8 211.8 565.0 212.1 582.7 212.3 598.4 212.6 609.5 212.9 615.2 213.2 616.3 213.4 615.2 213.7 609.6 214.0 598.6 214.2 583.1 214.5 565.7 214.8 549.8 215.0 538.7 215.3 534.8 215.6 538.9 215.8 550.2 216.1 566.1 216.4 583.5 216.7 598.9 216.9 609.9 217.2 615.4 217.5 616.6 217.7 615.4 218.0 610.0 218.3 599.1 218.5 583.9 218.8 566.8 219.1 551.2 219.3 540.3 219.6 536.4 219.9 540.4 220.2 551.5 220.4 567.2 220.7 584.3 221.0 599.4 221.2 610.2 221.5 615.6 221.8 616.8 222.0 615.7 222.3 610.3 222.6 599.6 222.8 584.7 223.1 567.9 223.4 552.5 223.7 541.8 223.9 538.0 224.2 542.0 224.5 552.8 224.7 568.3 225.0 585.0 225.3 599.9 225.5 610.5 225.8 615.9 226.1 617.0 226.3 615.9 226.6 610.6 226.9 600.1 227.2 585.4 227.4 568.9 227.7 553.8 228.0 543.3 228.2 539.5 228.5 543.4 228.8 554.1 229.0 569.3 229.3 585.8 229.6 600.4 229.8 610.8 230.1 616.1 230.4 617.2 230.7 616.1 230.9 610.9 231.2 600.6 231.5 586.1 231.7 569.9 232.0 555.1 232.3 544.7 232.5 541.1 232.8 544.9 233.1 555.4 233.3 570.3 233.6 586.5 233.9 600.9 234.2 611.1 234.4 616.3 234.7 617.4 235.0 616.3 235.2 611.2 235.5 601.1 235.8 586.9 236.0 570.9 236.3 556.4 236.6 546.2 236.8 542.6 237.1 546.4 237.4 556.7 237.7 571.3 237.9 587.2 238.2 601.4 238.5 611.4 238.7 616.5 239.0 617.5 239.3 616.5 239.5 611.5 239.8 601.5 240.1 587.6 240.3 571.9 240.6 557.6 240.9 547.6 241.2 544.1 241.4 547.8 241.7 557.9 242.0 572.3 242.2 587.9 242.5 601.8 242.8 611.6 243.0 616.6 243.3 617.7 243.6 616.6 243.8 611.7 244.1 602.0 244.4 588.3 244.7 572.9 244.9 558.9 245.2 549.1 245.5 545.6 245.7 549.3 246.0 559.2 246.3 573.3 246.5 588.6 246.8 602.2 247.1 611.9 247.3 616.8 247.6 617.8 247.9 616.8 248.2 611.9 248.4 602.4 248.7 589.0 249.0 573.9 249.2 560.1 249.5 550.5 249.8 547.1 250.0 550.7 250.3 560.4 250.6 574.3 250.8 589.3 251.1 602.6 251.4 612.1 251.7 616.9 251.9 617.9 252.2 616.9 252.5 612.2 252.7 602.8 253.0 589.6 253.3 574.9 253.5 561.4 253.8 551.9 254.1 548.6 254.3 552.1 254.6 561.7 254.9 575.2 255.2 589.9 255.4 603.0 255.7 612.3 256.0 617.0 256.2 618.0 256.5 617.0 256.8 612.4 257.0 603.2 257.3 590.3 257.6 575.8 257.8 562.6 258.1 553.3 258.4 550.1 258.7 553.5 258.9 562.9 259.2 576.2 259.5 590.6 259.7 603.4 260.0 612.5 260.3 617.1 260.5 618.1 260.8 617.1 261.1 612.6 261.3 603.6 261.6 590.9 261.9 576.7 262.2 563.8 262.4 554.7 262.7 551.6 263.0 554.9 263.2 564.1 263.5 577.1 263.8 591.2 264.0 603.8 264.3 612.7 264.6 617.2 264.8 618.2 265.1 617.2 265.4 612.8 265.7 603.9 265.9 591.6 266.2 577.7 266.5 565.0 266.7 556.1 267.0 553.0 267.3 556.3 267.5 565.3 267.8 578.0 268.1 591.9 268.3 604.2 268.6 612.9 268.9 617.3 269.2 618.2 269.4 617.3 269.7 613.0 270.0 604.3 270.2 592.2 270.5 578.6 270.8 566.2 271.0 557.5 271.3 554.5 271.6 557.7 271.8 566.5 272.1 579.0 272.4 592.5 272.7 604.5 272.9 613.1 273.2 617.4 273.5 618.3 273.7 617.4 274.0 613.1 274.3 604.7 274.5 592.8 274.8 579.5 275.1 567.4 275.3 558.9 275.6 555.9 275.9 559.1 276.2 567.7 276.4 579.9 276.7 593.1 277.0 604.9 277.2 613.3 277.5 617.5 277.8 618.4 278.0 617.5 278.3 613.3 278.6 605.0 278.8 593.4 279.1 580.4 279.4 568.5 279.7 560.2 279.9 557.3 280.2 560.4 280.5 568.8 280.7 580.8 281.0 593.7 281.3 605.3 281.5 613.4 281.8 617.6 282.1 618.4 282.4 617.6 282.6 613.5 282.9 605.4 283.2 594.0 283.4 581.3 283.7 569.7 284.0 561.6 284.2 558.7 284.5 561.7 284.8 570.0 285.0 581.7 285.3 594.4 285.6 605.6 285.9 613.6 286.1 617.6 286.4 618.5 286.7 617.7 286.9 613.7 287.2 605.7 287.5 594.7 287.7 582.2 288.0 570.8 288.3 562.9 288.5 560.1 288.8 563.1 289.1 571.1 289.4 582.5 289.6 594.9 289.9 606.0 290.2 613.8 290.4 617.7 290.7 618.6 291.0 617.7 291.2 613.8 291.5 606.1 291.8 595.2 292.0 583.1 292.3 572.0 292.6 564.2 292.9 561.5 293.1 564.4 293.4 572.2 293.7 583.4 293.9 595.5 294.2 606.3 294.5 613.9 294.7 617.8 295.0 618.6 295.3 617.8 295.5 614.0 295.8 606.4 296.1 595.8 296.4 583.9 296.6 573.1 296.9 565.5 297.2 562.8 297.4 565.6 297.7 573.3 298.0 584.3 298.2 596.1 298.5 606.6 298.8 614.1 299.0 617.9 299.3 618.7 299.6 617.9 299.9 614.2 300.1 606.8 300.4 596.4 300.7 584.8 300.9 574.2 301.2 566.7 301.5 564.1 301.7 566.9 302.0 574.4 302.3 585.1 302.5 596.7 302.8 607.0 303.1 614.3 303.4 618.0 303.6 618.7 303.9 618.0 304.2 614.3 304.4 607.1 304.7 597.0 305.0 585.6 305.2 575.2 305.5 568.0 305.8 565.4 306.0 568.1 306.3 575.5 306.6 585.9 306.9 597.2 307.1 607.3 307.4 614.4 307.7 618.0 307.9 618.8 308.2 618.0 308.5 614.5 308.7 607.4 309.0 597.5 309.3 586.4 309.5 576.3 309.8 569.2 310.1 566.7 310.4 569.4 310.6 576.5 310.9 586.7 311.2 597.8 311.4 607.6 311.7 614.6 312.0 618.1 312.2 618.9 312.5 618.1 312.8 614.6 313.0 607.7 313.3 598.1 313.6 587.2 313.9 577.3 314.1 570.4 314.4 568.0 314.7 570.5 314.9 577.6 315.2 587.5 315.5 598.3 315.7 607.9 316.0 614.8 316.3 618.2 316.5 618.9 316.8 618.2 317.1 614.8 317.4 608.1 317.6 598.6 317.9 588.0 318.2 578.3 318.4 571.6 318.7 569.2 319.0 571.7 319.2 578.6 319.5 588.3 319.8 598.9 320.0 608.3 320.3 614.9 320.6 618.3 320.9 619.0 321.1 618.3 321.4 615.0 321.7 608.4 321.9 599.1 322.2 588.8 322.5 579.3 322.7 572.7 323.0 570.4 323.3 572.8 323.5 579.6 323.8 589.1 324.1 599.4 324.4 608.6 324.6 615.1 324.9 618.4 325.2 619.1 325.4 618.4 325.7 615.1 326.0 608.7 326.2 599.7 326.5 589.5 326.8 580.3 327.0 573.8 327.3 571.5 327.6 574.0 327.9 580.5 328.1 589.8 328.4 599.9 328.7 608.9 328.9 615.3 329.2 618.5 329.5 619.2 329.7 618.5 330.0 615.3 330.3 609.0 330.5 600.2 330.8 590.3 331.1 581.2 331.4 574.9 331.6 572.7 331.9 575.0 332.2 581.5 332.4 590.6 332.7 600.4 333.0 609.2 333.2 615.4 333.5 618.6 333.8 619.3 334.0 618.6 334.3 615.5 334.6 609.3 334.9 600.7 335.1 591.0 335.4 582.2 335.7 576.0 335.9 573.8 336.2 576.1 336.5 582.4 336.7 591.3 337.0 600.9 337.3 609.5 337.5 615.6 337.8 618.7 338.1 619.3 338.4 618.7 338.6 615.7 338.9 609.6 339.2 601.2 339.4 591.7 339.7 583.1 340.0 577.0 340.2 574.9 340.5 577.2 340.8 583.3 341.0 592.0 341.3 601.4 341.6 609.8 341.9 615.8 342.1 618.8 342.4 619.4 342.7 618.8 342.9 615.8 343.2 609.9 343.5 601.7 343.7 592.4 344.0 584.0 344.3 578.1 344.5 576.0 344.8 578.2 345.1 584.2 345.4 592.7 345.6 601.9 345.9 610.1 346.2 616.0 346.4 618.9 346.7 619.5 347.0 618.9 347.2 616.0 347.5 610.3 347.8 602.2 348.0 593.1 348.3 584.9 348.6 579.1 348.9 577.1 349.1 579.2 349.4 585.1 349.7 593.4 349.9 602.4 350.2 610.4 350.5 616.1 350.7 619.0 351.0 619.6 351.3 619.0 351.6 616.2 351.8 610.6 352.1 602.7 352.4 593.8 352.6 585.7 352.9 580.1 353.2 578.1 353.4 580.2 353.7 586.0 354.0 594.1 354.2 602.9 354.5 610.8 354.8 616.3 355.1 619.1 355.3 619.7 355.6 619.1 355.9 616.4 356.1 610.9 356.4 603.2 356.7 594.5 356.9 586.6 357.2 581.1 357.5 579.1 357.7 581.2 358.0 586.8 358.3 594.8 358.6 603.4 358.8 611.1 359.1 616.5 359.4 619.2 359.6 619.8 359.9 619.3 360.2 616.5 360.4 611.2 360.7 603.6 361.0 595.2 361.2 587.4 361.5 582.1 361.8 580.2 362.1 582.2 362.3 587.7 362.6 595.4 362.9 603.9 363.1 611.3 363.4 616.7 363.7 619.4 363.9 619.9 364.2 619.4 364.5 616.7 364.7 611.5 365.0 604.1 365.3 595.8 365.6 588.3 365.8 583.0 366.1 581.2 366.4 583.1 366.6 588.5 366.9 596.1 367.2 604.3 367.4 611.6 367.7 616.8 368.0 619.5 368.2 620.0 368.5 619.5 368.8 616.9 369.1 611.8 369.3 604.6 369.6 596.5 369.9 589.1 370.1 583.9 370.4 582.1 370.7 584.1 370.9 589.3 371.2 596.7 371.5 604.8 371.7 611.9 372.0 617.0 372.3 619.6 372.6 620.1 372.8 619.6 373.1 617.1 373.4 612.0 373.6 605.0 373.9 597.1 374.2 589.9 374.4 584.9 374.7 583.1 375.0 585.0 375.2 590.1 375.5 597.4 375.8 605.2 376.1 612.2 376.3 617.2 376.6 619.7 376.9 620.2 377.1 619.7 377.4 617.2 377.7 612.3 377.9 605.5 378.2 597.7 378.5 590.7 378.7 585.8 379.0 584.0 379.3 585.9 379.6 590.9 379.8 598.0 380.1 605.7 380.4 612.5 380.6 617.4 380.9 619.8 381.2 620.3 381.4 619.8 381.7 617.4 382.0 612.6 382.2 605.9 382.5 598.4 382.8 591.5 383.1 586.7 383.3 585.0 383.6 586.8 383.9 591.7 384.1 598.6 384.4 606.1 384.7 612.8 384.9 617.5 385.2 619.9 385.5 620.4 385.7 620.0 386.0 617.6 386.3 612.9 386.6 606.3 386.8 599.0 387.1 592.2 387.4 587.5 387.6 585.9 387.9 587.6 388.2 592.4 388.4 599.2 388.7 606.5 389.0 613.1 389.2 617.7 389.5 620.1 389.8 620.6 390.1 620.1 390.3 617.8 390.6 613.2 390.9 606.8 391.1 599.6 391.4 593.0 391.7 588.4 391.9 586.8 392.2 588.5 392.5 593.2 392.7 599.8 393.0 607.0 393.3 613.4 393.6 617.9 393.8 620.2 394.1 620.7 394.4 620.2 394.6 617.9 394.9 613.5 395.2 607.2 395.4 600.1 395.7 593.7 396.0 589.2 396.2 587.7 396.5 589.3 396.8 593.9 397.1 600.4 397.3 607.4 397.6 613.6 397.9 618.1 398.1 620.3 398.4 620.8 398.7 620.3 398.9 618.1 399.2 613.7 399.5 607.6 399.7 600.7 400.0 594.4 400.3 590.1 400.6 588.5 400.8 590.2 401.1 594.6 401.4 600.9 401.6 607.8 401.9 613.9 402.2 618.2 402.4 620.4 402.7 620.9 403.0 620.4 403.2 618.3 403.5 614.0 403.8 608.0 404.1 601.3 404.3 595.1 404.6 590.9 404.9 589.4 405.1 591.0 405.4 595.3 405.7 601.5 405.9 608.2 406.2 614.2 406.5 618.4 406.7 620.5 407.0 621.0 407.3 620.5 407.6 618.4 407.8 614.3 408.1 608.4 408.4 601.8 408.6 595.8 408.9 591.7 409.2 590.2 409.4 591.8 409.7 596.0 410.0 602.1 410.2 608.6 410.5 614.4 410.8 618.6 411.1 620.6 411.3 621.1 411.6 620.7 411.9 618.6 412.1 614.5 412.4 608.8 412.7 602.4 412.9 596.5 413.2 592.5 413.5 591.0 413.7 592.5 414.0 596.7 414.3 602.6 414.6 609.0 414.8 614.7 415.1 618.7 415.4 620.8 415.6 621.2 415.9 620.8 416.2 618.8 416.4 614.8 416.7 609.2 417.0 602.9 417.2 597.2 417.5 593.2 417.8 591.8 418.1 593.3 418.3 597.4 418.6 603.1 418.9 609.4 419.1 615.0 419.4 618.9 419.7 620.9 419.9 621.3 420.2 620.9 420.5 618.9 420.8 615.0 421.0 609.6 421.3 603.5 421.6 597.9 421.8 594.0 422.1 592.6 422.4 594.1 422.6 598.1 422.9 603.7 423.2 609.8 423.4 615.2 423.7 619.1 424.0 621.0 424.3 621.4 424.5 621.0 424.8 619.1 425.1 615.3 425.3 610.0 425.6 604.0 425.9 598.5 426.1 594.7 426.4 593.4 426.7 594.8 426.9 598.7 427.2 604.2 427.5 610.2 427.8 615.5 428.0 619.2 428.3 621.1 428.6 621.5 428.8 621.1 429.1 619.3 429.4 615.6 429.6 610.4 429.9 604.5 430.2 599.2 430.4 595.5 430.7 594.2 431.0 595.6 431.3 599.4 431.5 604.7 431.8 610.6 432.1 615.7 432.3 619.4 432.6 621.3 432.9 621.7 433.1 621.3 433.4 619.4 433.7 615.8 433.9 610.7 434.2 605.0 434.5 599.8 434.8 596.2 435.0 594.9 435.3 596.3 435.6 600.0 435.8 605.2 436.1 610.9 436.4 616.0 436.6 619.6 436.9 621.4 437.2 621.8 437.4 621.4 437.7 619.6 438.0 616.1 438.3 611.1 438.5 605.6 438.8 600.5 439.1 596.9 439.3 595.7 439.6 597.0 439.9 600.6 440.1 605.7 440.4 611.3 440.7 616.2 440.9 619.7 441.2 621.5 441.5 621.9 441.8 621.5 442.0 619.8 442.3 616.3 442.6 611.5 442.8 606.0 443.1 601.1 443.4 597.6 443.6 596.4 443.9 597.7 444.2 601.2 444.4 606.2 444.7 611.7 445.0 616.5 445.3 619.9 445.5 621.6 445.8 622.0 446.1 621.6 446.3 619.9 446.6 616.6 446.9 611.8 447.1 606.5 447.4 601.7 447.7 598.3 447.9 597.1 448.2 598.4 448.5 601.8 448.8 606.7 449.0 612.0 449.3 616.7 449.6 620.1 449.8 621.8 450.1 622.1 450.4 621.8 450.6 620.1 450.9 616.8 451.2 612.2 451.4 607.0 451.7 602.3 452.0 599.0 452.3 597.8 452.5 599.1 452.8 602.4 453.1 607.2 453.3 612.4 453.6 617.0 453.9 620.2 454.1 621.9 454.4 622.2 454.7 621.9 454.9 620.3 455.2 617.1 455.5 612.5 455.8 607.5 456.0 602.9 456.3 599.6 456.6 598.5 456.8 599.7 457.1 603.0 457.4 607.7 457.6 612.7 457.9 617.2 458.2 620.4 458.4 622.0 458.7 622.3 459.0 622.0 459.3 620.4 459.5 617.3 459.8 612.9 460.1 608.0 460.3 603.4 460.6 600.3 460.9 599.2 461.1 600.4 461.4 603.6 461.7 608.1 461.9 613.1 462.2 617.4 462.5 620.6 462.8 622.1 463.0 622.5 463.3 622.1 463.6 620.6 463.8 617.5 464.1 613.2 464.4 608.4 464.6 604.0 464.9 600.9 465.2 599.8 465.4 601.0 465.7 604.1 466.0 608.6 466.3 613.4 466.5 617.7 466.8 620.7 467.1 622.2 467.3 622.6 467.6 622.3 467.9 620.8 468.1 617.8 468.4 613.6 468.7 608.8 468.9 604.5 469.2 601.5 469.5 600.5 469.8 601.6 470.0 604.7 470.3 609.0 470.6 613.7 470.8 617.9 471.1 620.9 471.4 622.4 471.6 622.7 471.9 622.4 472.2 620.9 472.4 618.0 472.7 613.9 473.0 609.3 473.3 605.1 473.5 602.1 473.8 601.1 474.1 602.2 474.3 605.2 474.6 609.4 474.9 614.0 475.1 618.1 475.4 621.0 475.7 622.5 475.9 622.8 476.2 622.5 476.5 621.1 476.8 618.2 477.0 614.2 477.3 609.7 477.6 605.6 477.8 602.7 478.1 601.7 478.4 602.8 478.6 605.7 478.9 609.8 479.2 614.3 479.4 618.3 479.7 621.2 480.0 622.6 480.3 622.9 480.5 622.6 480.8 621.2 481.1 618.4 481.3 614.5 481.6 610.1 481.9 606.1 482.1 603.3 482.4 602.3 482.7 603.4 482.9 606.2 483.2 610.3 483.5 614.7 483.8 618.6 484.0 621.3 484.3 622.7 484.6 623.0 484.8 622.7 485.1 621.4 485.4 618.6 485.6 614.8 485.9 610.5 486.2 606.6 486.4 603.8 486.7 602.9 487.0 603.9 487.3 606.7 487.5 610.7 487.8 615.0 488.1 618.8 488.3 621.5 488.6 622.8 488.9 623.1 489.1 622.9 489.4 621.5 489.7 618.8 490.0 615.1 490.2 610.9 490.5 607.1 490.8 604.4 491.0 603.4 491.3 604.5 491.6 607.2 491.8 611.0 492.1 615.2 492.4 619.0 492.6 621.6 492.9 623.0 493.2 623.2 493.5 623.0 493.7 621.7 494.0 619.1 494.3 615.4 494.5 611.3 494.8 607.5 495.1 604.9 495.3 604.0 495.6 605.0 495.9 607.7 496.1 611.4 496.4 615.5 496.7 619.2 497.0 621.8 497.2 623.1 497.5 623.4 497.8 623.1 498.0 621.8 498.3 619.3 498.6 615.7 498.8 611.7 499.1 608.0 499.4 605.4 499.6 604.5 499.9 605.5 500.2 608.1 500.5 611.8 500.7 615.8 501.0 619.4 501.3 621.9 501.5 623.2 501.8 623.5 502.1 623.2 502.3 622.0 502.6 619.5 502.9 616.0 503.1 612.0 503.4 608.4 503.7 605.9 504.0 605.1 504.2 606.0 504.5 608.6 504.8 612.2 505.0 616.1 505.3 619.6 505.6 622.1 505.8 623.3 506.1 623.6 506.4 623.3 506.6 622.1 506.9 619.7 507.2 616.2 507.5 612.4 507.7 608.9 508.0 606.4 508.3 605.6 508.5 606.5 508.8 609.0 509.1 612.5 509.3 616.4 509.6 619.8 509.9 622.2 510.1 623.4 510.4 623.7 510.7 623.4 511.0 622.2 511.2 619.9 511.5 616.5 511.8 612.8 512.0 609.3 512.3 606.9 512.6 606.1 512.8 607.0 513.1 609.4 513.4 612.9 513.6 616.6 513.9 620.0 514.2 622.3 514.5 623.5 514.7 623.8 515.0 623.6 515.3 622.4 515.5 620.0 515.8 616.8 516.1 613.1 516.3 609.7 516.6 607.4 516.9 606.6 517.1 607.5 517.4 609.8 517.7 613.2 518.0 616.9 518.2 620.2 518.5 622.5 518.8 623.7 519.0 623.9" stroke="#454545" stroke-width="1.1" fill="none" stroke-linejoin="miter" stroke-miterlimit="2"/>
<path d="M107.6 660.9 107.9 659.0 108.1 646.9 108.4 618.4 108.7 573.6 108.9 519.3 109.2 467.1 109.5 429.3 109.8 415.7 110.0 429.8 110.3 467.7 110.6 519.9 110.8 573.7 111.1 617.9 111.4 645.9 111.6 657.5 111.9 659.2 112.2 657.3 112.4 645.5 112.7 617.7 113.0 573.9 113.3 520.8 113.5 469.7 113.8 432.8 114.1 419.5 114.3 433.3 114.6 470.4 114.9 521.4 115.1 574.0 115.4 617.2 115.7 644.5 115.9 655.9 116.2 657.5 116.5 655.7 116.8 644.1 117.0 616.9 117.3 574.1 117.6 522.2 117.8 472.3 118.1 436.2 118.4 423.3 118.6 436.7 118.9 472.9 119.2 522.8 119.4 574.2 119.7 616.4 120.0 643.1 120.3 654.3 120.5 655.9 120.8 654.1 121.1 642.8 121.3 616.2 121.6 574.3 121.9 523.6 122.1 474.8 122.4 439.6 122.7 426.9 122.9 440.0 123.2 475.5 123.5 524.2 123.8 574.4 124.0 615.6 124.3 641.7 124.6 652.6 124.8 654.1 125.1 652.4 125.4 641.3 125.6 615.3 125.9 574.5 126.2 525.0 126.4 477.3 126.7 442.9 127.0 430.5 127.3 443.3 127.5 477.9 127.8 525.5 128.1 574.6 128.3 614.8 128.6 640.3 128.9 650.9 129.1 652.4 129.4 650.7 129.7 639.9 129.9 614.5 130.2 574.6 130.5 526.3 130.8 479.8 131.0 446.2 131.3 434.1 131.6 446.6 131.8 480.4 132.1 526.8 132.4 574.8 132.6 614.1 132.9 638.9 133.2 649.3 133.4 650.8 133.7 649.1 134.0 638.6 134.3 613.9 134.5 574.9 134.8 527.7 135.1 482.2 135.3 449.4 135.6 437.6 135.9 449.8 136.1 482.8 136.4 528.2 136.7 575.1 136.9 613.5 137.2 637.8 137.5 648.0 137.8 649.5 138.0 647.8 138.3 637.6 138.6 613.3 138.8 575.3 139.1 529.1 139.4 484.7 139.6 452.6 139.9 441.0 140.2 453.0 140.4 485.3 140.7 529.6 141.0 575.5 141.3 613.0 141.5 636.8 141.8 646.7 142.1 648.2 142.3 646.6 142.6 636.6 142.9 612.9 143.1 575.7 143.4 530.5 143.7 487.1 144.0 455.7 144.2 444.4 144.5 456.1 144.8 487.7 145.0 531.1 145.3 575.9 145.6 612.6 145.8 635.9 146.1 645.6 146.4 647.0 146.6 645.4 146.9 635.6 147.2 612.5 147.5 576.1 147.7 532.0 148.0 489.5 148.3 458.8 148.5 447.8 148.8 459.2 149.1 490.1 149.3 532.5 149.6 576.3 149.9 612.2 150.1 635.0 150.4 644.5 150.7 645.9 151.0 644.3 151.2 634.8 151.5 612.1 151.8 576.5 152.0 533.4 152.3 491.8 152.6 461.9 152.8 451.1 153.1 462.2 153.4 492.4 153.6 533.9 153.9 576.8 154.2 611.9 154.5 634.1 154.7 643.4 155.0 644.8 155.3 643.3 155.5 633.9 155.8 611.8 156.1 577.0 156.3 534.8 156.6 494.2 156.9 464.8 157.1 454.3 157.4 465.2 157.7 494.7 158.0 535.3 158.2 577.2 158.5 611.6 158.8 633.3 159.0 642.4 159.3 643.7 159.6 642.3 159.8 633.1 160.1 611.5 160.4 577.4 160.6 536.2 160.9 496.5 161.2 467.8 161.5 457.5 161.7 468.2 162.0 497.0 162.3 536.7 162.5 577.7 162.8 611.3 163.1 632.5 163.3 641.4 163.6 642.7 163.9 641.3 164.1 632.3 164.4 611.2 164.7 577.9 165.0 537.6 165.2 498.7 165.5 470.7 165.8 460.6 166.0 471.1 166.3 499.3 166.6 538.1 166.8 578.1 167.1 611.0 167.4 631.7 167.6 640.4 167.9 641.7 168.2 640.3 168.5 631.5 168.7 610.8 169.0 578.3 169.3 538.9 169.5 500.9 169.8 473.6 170.1 463.7 170.3 473.9 170.6 501.5 170.9 539.4 171.1 578.5 171.4 610.6 171.7 630.9 172.0 639.4 172.2 640.6 172.5 639.3 172.8 630.7 173.0 610.5 173.3 578.7 173.6 540.2 173.8 503.1 174.1 476.4 174.4 466.8 174.6 476.7 174.9 503.7 175.2 540.7 175.5 578.9 175.7 610.2 176.0 630.0 176.3 638.3 176.5 639.5 176.8 638.2 177.1 629.8 177.3 610.1 177.6 579.1 177.9 541.5 178.1 505.3 178.4 479.1 178.7 469.7 179.0 479.5 179.2 505.8 179.5 541.9 179.8 579.2 180.0 609.8 180.3 629.2 180.6 637.3 180.8 638.4 181.1 637.1 181.4 629.0 181.6 609.7 181.9 579.4 182.2 542.7 182.5 507.4 182.7 481.9 183.0 472.7 183.3 482.2 183.5 507.9 183.8 543.2 184.1 579.6 184.3 609.4 184.6 628.3 184.9 636.2 185.1 637.3 185.4 636.1 185.7 628.1 186.0 609.3 186.2 579.7 186.5 543.9 186.8 509.4 187.0 484.6 187.3 475.6 187.6 484.9 187.8 509.9 188.1 544.4 188.4 579.9 188.6 609.0 188.9 627.4 189.2 635.1 189.5 636.3 189.7 635.0 190.0 627.2 190.3 608.9 190.5 580.0 190.8 545.1 191.1 511.5 191.3 487.2 191.6 478.5 191.9 487.5 192.1 512.0 192.4 545.5 192.7 580.2 193.0 608.6 193.2 626.6 193.5 634.1 193.8 635.2 194.0 634.0 194.3 626.4 194.6 608.5 194.8 580.4 195.1 546.3 195.4 513.5 195.6 489.8 195.9 481.3 196.2 490.1 196.5 514.0 196.7 546.7 197.0 580.5 197.3 608.3 197.5 625.8 197.8 633.1 198.1 634.2 198.3 633.0 198.6 625.6 198.9 608.2 199.1 580.7 199.4 547.5 199.7 515.4 200.0 492.4 200.2 484.0 200.5 492.7 200.8 515.9 201.0 547.9 201.3 580.9 201.6 607.9 201.8 625.0 202.1 632.2 202.4 633.2 202.6 632.1 202.9 624.8 203.2 607.8 203.5 581.0 203.7 548.6 204.0 517.4 204.3 494.9 204.5 486.8 204.8 495.2 205.1 517.9 205.3 549.0 205.6 581.2 205.9 607.6 206.1 624.2 206.4 631.2 206.7 632.2 207.0 631.1 207.2 624.0 207.5 607.4 207.8 581.3 208.0 549.7 208.3 519.3 208.6 497.4 208.8 489.5 209.1 497.7 209.4 519.8 209.6 550.2 209.9 581.5 210.2 607.2 210.5 623.5 210.7 630.2 211.0 631.2 211.3 630.1 211.5 623.3 211.8 607.1 212.1 581.7 212.3 550.9 212.6 521.2 212.9 499.8 213.2 492.1 213.4 500.1 213.7 521.7 214.0 551.3 214.2 581.8 214.5 606.9 214.8 622.7 215.0 629.4 215.3 630.3 215.6 629.3 215.8 622.6 216.1 606.8 216.4 582.0 216.7 552.0 216.9 523.1 217.2 502.2 217.5 494.7 217.7 502.5 218.0 523.5 218.3 552.4 218.5 582.2 218.8 606.7 219.1 622.1 219.3 628.6 219.6 629.5 219.9 628.5 220.2 622.0 220.4 606.6 220.7 582.4 221.0 553.1 221.2 524.9 221.5 504.6 221.8 497.3 222.0 504.9 222.3 525.4 222.6 553.6 222.8 582.7 223.1 606.6 223.4 621.6 223.7 628.0 223.9 628.9 224.2 627.9 224.5 621.5 224.7 606.5 225.0 582.9 225.3 554.3 225.5 526.8 225.8 506.9 226.1 499.8 226.3 507.2 226.6 527.3 226.9 554.8 227.2 583.2 227.4 606.5 227.7 621.3 228.0 627.4 228.2 628.3 228.5 627.4 228.8 621.2 229.0 606.5 229.3 583.5 229.6 555.6 229.8 528.7 230.1 509.3 230.4 502.3 230.7 509.5 230.9 529.1 231.2 556.0 231.5 583.8 231.7 606.5 232.0 620.9 232.3 627.0 232.5 627.9 232.8 626.9 233.1 620.8 233.3 606.5 233.6 584.0 233.9 556.8 234.2 530.5 234.4 511.5 234.7 504.7 235.0 511.8 235.2 530.9 235.5 557.2 235.8 584.3 236.0 606.6 236.3 620.6 236.6 626.5 236.8 627.4 237.1 626.5 237.4 620.6 237.7 606.6 237.9 584.6 238.2 558.0 238.5 532.3 238.7 513.8 239.0 507.1 239.3 514.1 239.5 532.8 239.8 558.4 240.1 584.9 240.3 606.6 240.6 620.4 240.9 626.2 241.2 627.0 241.4 626.1 241.7 620.3 242.0 606.7 242.2 585.2 242.5 559.2 242.8 534.1 243.0 516.0 243.3 509.5 243.6 516.3 243.8 534.5 244.1 559.6 244.4 585.5 244.7 606.8 244.9 620.2 245.2 625.8 245.5 626.7 245.7 625.8 246.0 620.2 246.3 606.8 246.5 585.8 246.8 560.4 247.1 535.9 247.3 518.2 247.6 511.9 247.9 518.5 248.2 536.3 248.4 560.8 248.7 586.1 249.0 606.9 249.2 620.0 249.5 625.6 249.8 626.4 250.0 625.5 250.3 620.0 250.6 607.0 250.8 586.5 251.1 561.6 251.4 537.6 251.7 520.4 251.9 514.2 252.2 520.6 252.5 538.1 252.7 562.0 253.0 586.8 253.3 607.1 253.5 619.9 253.8 625.3 254.1 626.1 254.3 625.2 254.6 619.9 254.9 607.1 255.2 587.1 255.4 562.8 255.7 539.4 256.0 522.5 256.2 516.4 256.5 522.7 256.8 539.8 257.0 563.2 257.3 587.4 257.6 607.2 257.8 619.7 258.1 625.0 258.4 625.8 258.7 625.0 258.9 619.7 259.2 607.3 259.5 587.7 259.7 563.9 260.0 541.1 260.3 524.6 260.5 518.6 260.8 524.8 261.1 541.5 261.3 564.4 261.6 588.0 261.9 607.4 262.2 619.6 262.4 624.8 262.7 625.5 263.0 624.7 263.2 619.6 263.5 607.4 263.8 588.3 264.0 565.1 264.3 542.7 264.6 526.6 264.8 520.8 265.1 526.9 265.4 543.2 265.7 565.5 265.9 588.6 266.2 607.6 266.5 619.5 266.7 624.6 267.0 625.3 267.3 624.6 267.5 619.5 267.8 607.6 268.1 588.9 268.3 566.3 268.6 544.4 268.9 528.7 269.2 523.0 269.4 528.9 269.7 544.8 270.0 566.7 270.2 589.3 270.5 607.8 270.8 619.5 271.0 624.5 271.3 625.2 271.6 624.4 271.8 619.5 272.1 607.9 272.4 589.6 272.7 567.4 272.9 546.1 273.2 530.7 273.5 525.1 273.7 530.9 274.0 546.5 274.3 567.9 274.5 590.0 274.8 608.1 275.1 619.6 275.3 624.4 275.6 625.2 275.9 624.4 276.2 619.6 276.4 608.3 276.7 590.4 277.0 568.6 277.2 547.7 277.5 532.6 277.8 527.2 278.0 532.9 278.3 548.1 278.6 569.1 278.8 590.7 279.1 608.5 279.4 619.7 279.7 624.5 279.9 625.2 280.2 624.5 280.5 619.8 280.7 608.6 281.0 591.1 281.3 569.8 281.5 549.4 281.8 534.6 282.1 529.3 282.4 534.8 282.6 549.8 282.9 570.3 283.2 591.5 283.4 608.8 283.7 619.8 284.0 624.5 284.2 625.2 284.5 624.5 284.8 619.9 285.0 609.0 285.3 591.8 285.6 571.0 285.9 551.0 286.1 536.5 286.4 531.3 286.7 536.7 286.9 551.4 287.2 571.4 287.5 592.2 287.7 609.2 288.0 620.0 288.3 624.5 288.5 625.2 288.8 624.5 289.1 620.0 289.4 609.3 289.6 592.5 289.9 572.2 290.2 552.5 290.4 538.4 290.7 533.3 291.0 538.6 291.2 552.9 291.5 572.6 291.8 592.9 292.0 609.5 292.3 620.1 292.6 624.5 292.9 625.2 293.1 624.5 293.4 620.1 293.7 609.7 293.9 593.2 294.2 573.3 294.5 554.1 294.7 540.3 295.0 535.3 295.3 540.5 295.5 554.5 295.8 573.7 296.1 593.6 296.4 609.9 296.6 620.2 296.9 624.5 297.2 625.2 297.4 624.5 297.7 620.2 298.0 610.0 298.2 593.9 298.5 574.4 298.8 555.6 299.0 542.1 299.3 537.2 299.6 542.3 299.9 556.0 300.1 574.8 300.4 594.2 300.7 610.2 300.9 620.3 301.2 624.5 301.5 625.2 301.7 624.5 302.0 620.3 302.3 610.3 302.5 594.6 302.8 575.5 303.1 557.1 303.4 543.9 303.6 539.1 303.9 544.1 304.2 557.5 304.4 575.9 304.7 594.9 305.0 610.5 305.2 620.3 305.5 624.5 305.8 625.1 306.0 624.5 306.3 620.4 306.6 610.6 306.9 595.2 307.1 576.6 307.4 558.6 307.7 545.7 307.9 541.0 308.2 545.9 308.5 559.0 308.7 576.9 309.0 595.5 309.3 610.7 309.5 620.4 309.8 624.4 310.1 625.0 310.4 624.4 310.6 620.4 310.9 610.8 311.2 595.8 311.4 577.6 311.7 560.0 312.0 547.4 312.2 542.9 312.5 547.6 312.8 560.4 313.0 578.0 313.3 596.1 313.6 611.0 313.9 620.4 314.1 624.3 314.4 624.9 314.7 624.3 314.9 620.4 315.2 611.0 315.5 596.4 315.7 578.6 316.0 561.5 316.3 549.1 316.5 544.7 316.8 549.3 317.1 561.8 317.4 578.9 317.6 596.6 317.9 611.2 318.2 620.3 318.4 624.2 318.7 624.8 319.0 624.2 319.2 620.3 319.5 611.2 319.8 596.9 320.0 579.6 320.3 562.8 320.6 550.8 320.9 546.5 321.1 551.0 321.4 563.2 321.7 579.9 321.9 597.2 322.2 611.3 322.5 620.3 322.7 624.0 323.0 624.6 323.3 624.0 323.5 620.3 323.8 611.4 324.1 597.4 324.4 580.5 324.6 564.2 324.9 552.5 325.2 548.2 325.4 552.7 325.7 564.5 326.0 580.9 326.2 597.7 326.5 611.5 326.8 620.2 327.0 623.9 327.3 624.4 327.6 623.9 327.9 620.2 328.1 611.6 328.4 597.9 328.7 581.4 328.9 565.5 329.2 554.1 329.5 550.0 329.7 554.3 330.0 565.9 330.3 581.8 330.5 598.2 330.8 611.7 331.1 620.2 331.4 623.8 331.6 624.3 331.9 623.7 332.2 620.2 332.4 611.7 332.7 598.5 333.0 582.4 333.2 566.9 333.5 555.7 333.8 551.7 334.0 555.9 334.3 567.2 334.6 582.7 334.9 598.7 335.1 611.8 335.4 620.1 335.7 623.6 335.9 624.2 336.2 623.6 336.5 620.1 336.7 611.9 337.0 599.0 337.3 583.3 337.5 568.2 337.8 557.3 338.1 553.4 338.4 557.5 338.6 568.5 338.9 583.6 339.2 599.2 339.4 612.0 339.7 620.1 340.0 623.5 340.2 624.0 340.5 623.5 340.8 620.1 341.0 612.1 341.3 599.5 341.6 584.2 341.9 569.5 342.1 558.8 342.4 555.0 342.7 559.0 342.9 569.8 343.2 584.5 343.5 599.7 343.7 612.2 344.0 620.1 344.3 623.4 344.5 623.9 344.8 623.4 345.1 620.1 345.4 612.3 345.6 600.0 345.9 585.1 346.2 570.7 346.4 560.4 346.7 556.7 347.0 560.6 347.2 571.0 347.5 585.4 347.8 600.3 348.0 612.5 348.3 620.2 348.6 623.4 348.9 623.9 349.1 623.4 349.4 620.2 349.7 612.6 349.9 600.6 350.2 586.0 350.5 572.0 350.7 561.9 351.0 558.3 351.3 562.1 351.6 572.3 351.8 586.4 352.1 600.8 352.4 612.7 352.6 620.3 352.9 623.4 353.2 623.9 353.4 623.4 353.7 620.3 354.0 612.9 354.2 601.1 354.5 586.9 354.8 573.3 355.1 563.4 355.3 559.9 355.6 563.6 355.9 573.6 356.1 587.3 356.4 601.4 356.7 613.1 356.9 620.4 357.2 623.5 357.5 624.0 357.7 623.5 358.0 620.5 358.3 613.2 358.6 601.8 358.8 587.9 359.1 574.5 359.4 564.9 359.6 561.4 359.9 565.1 360.2 574.8 360.4 588.2 360.7 602.1 361.0 613.4 361.2 620.6 361.5 623.7 361.8 624.1 362.1 623.7 362.3 620.7 362.6 613.6 362.9 602.4 363.1 588.8 363.4 575.8 363.7 566.3 363.9 563.0 364.2 566.5 364.5 576.1 364.7 589.2 365.0 602.7 365.3 613.8 365.6 620.9 365.8 623.9 366.1 624.3 366.4 623.9 366.6 621.0 366.9 614.0 367.2 603.1 367.4 589.8 367.7 577.0 368.0 567.8 368.2 564.5 368.5 567.9 368.8 577.3 369.1 590.1 369.3 603.4 369.6 614.3 369.9 621.2 370.1 624.1 370.4 624.5 370.7 624.1 370.9 621.3 371.2 614.5 371.5 603.7 371.7 590.7 372.0 578.2 372.3 569.2 372.6 566.0 372.8 569.4 373.1 578.5 373.4 591.1 373.6 604.1 373.9 614.7 374.2 621.5 374.4 624.3 374.7 624.8 375.0 624.4 375.2 621.6 375.5 614.9 375.8 604.4 376.1 591.7 376.3 579.4 376.6 570.6 376.9 567.4 377.1 570.8 377.4 579.7 377.7 592.1 377.9 604.8 378.2 615.2 378.5 621.8 378.7 624.6 379.0 625.1 379.3 624.7 379.6 621.9 379.8 615.4 380.1 605.1 380.4 592.6 380.6 580.6 380.9 572.0 381.2 568.9 381.4 572.1 381.7 580.9 382.0 593.0 382.2 605.5 382.5 615.7 382.8 622.2 383.1 624.9 383.3 625.4 383.6 625.0 383.9 622.3 384.1 615.9 384.4 605.8 384.7 593.6 384.9 581.8 385.2 573.3 385.5 570.3 385.7 573.5 386.0 582.1 386.3 593.9 386.6 606.1 386.8 616.2 387.1 622.5 387.4 625.2 387.6 625.6 387.9 625.3 388.2 622.6 388.4 616.4 388.7 606.5 389.0 594.5 389.2 583.0 389.5 574.7 389.8 571.7 390.1 574.8 390.3 583.3 390.6 594.9 390.9 606.8 391.1 616.7 391.4 622.9 391.7 625.5 391.9 625.9 392.2 625.5 392.5 623.0 392.7 616.8 393.0 607.2 393.3 595.4 393.6 584.1 393.8 576.0 394.1 573.1 394.4 576.1 394.6 584.4 394.9 595.8 395.2 607.5 395.4 617.1 395.7 623.2 396.0 625.8 396.2 626.2 396.5 625.8 396.8 623.3 397.1 617.3 397.3 607.8 397.6 596.3 397.9 585.2 398.1 577.3 398.4 574.4 398.7 577.4 398.9 585.5 399.2 596.6 399.5 608.1 399.7 617.5 400.0 623.5 400.3 626.0 400.6 626.4 400.8 626.0 401.1 623.6 401.4 617.7 401.6 608.4 401.9 597.2 402.2 586.3 402.4 578.5 402.7 575.7 403.0 578.7 403.2 586.6 403.5 597.5 403.8 608.7 404.1 617.9 404.3 623.8 404.6 626.2 404.9 626.6 405.1 626.3 405.4 623.8 405.7 618.1 405.9 609.0 406.2 598.0 406.5 587.4 406.7 579.8 407.0 577.1 407.3 579.9 407.6 587.7 407.8 598.3 408.1 609.3 408.4 618.3 408.6 624.0 408.9 626.5 409.2 626.8 409.4 626.5 409.7 624.1 410.0 618.5 410.2 609.6 410.5 598.9 410.8 588.5 411.1 581.0 411.3 578.4 411.6 581.2 411.9 588.8 412.1 599.2 412.4 609.9 412.7 618.7 412.9 624.3 413.2 626.7 413.5 627.0 413.7 626.7 414.0 624.4 414.3 618.9 414.6 610.2 414.8 599.7 415.1 589.5 415.4 582.2 415.6 579.6 415.9 582.4 416.2 589.8 416.4 600.0 416.7 610.5 417.0 619.1 417.2 624.6 417.5 626.9 417.8 627.3 418.1 626.9 418.3 624.7 418.6 619.3 418.9 610.8 419.1 600.5 419.4 590.6 419.7 583.4 419.9 580.9 420.2 583.6 420.5 590.8 420.8 600.8 421.0 611.1 421.3 619.5 421.6 624.9 421.8 627.1 422.1 627.5 422.4 627.1 422.6 624.9 422.9 619.7 423.2 611.4 423.4 601.3 423.7 591.6 424.0 584.6 424.3 582.1 424.5 584.8 424.8 591.9 425.1 601.6 425.3 611.6 425.6 619.9 425.9 625.1 426.1 627.3 426.4 627.7 426.7 627.3 426.9 625.2 427.2 620.0 427.5 611.9 427.8 602.1 428.0 592.6 428.3 585.8 428.6 583.3 428.8 585.9 429.1 592.9 429.4 602.4 429.6 612.2 429.9 620.3 430.2 625.4 430.4 627.5 430.7 627.9 431.0 627.6 431.3 625.4 431.5 620.4 431.8 612.5 432.1 602.9 432.3 593.6 432.6 586.9 432.9 584.5 433.1 587.1 433.4 593.8 433.7 603.2 433.9 612.8 434.2 620.6 434.5 625.6 434.8 627.8 435.0 628.1 435.3 627.8 435.6 625.7 435.8 620.8 436.1 613.0 436.4 603.6 436.6 594.6 436.9 588.0 437.2 585.7 437.4 588.2 437.7 594.8 438.0 603.9 438.3 613.3 438.5 621.0 438.8 625.9 439.1 628.0 439.3 628.3 439.6 628.0 439.9 626.0 440.1 621.2 440.4 613.6 440.7 604.4 440.9 595.5 441.2 589.2 441.5 586.9 441.8 589.3 442.0 595.8 442.3 604.7 442.6 613.9 442.8 621.4 443.1 626.2 443.4 628.2 443.6 628.5 443.9 628.2 444.2 626.2 444.4 621.5 444.7 614.1 445.0 605.1 445.3 596.5 445.5 590.2 445.8 588.0 446.1 590.4 446.3 596.7 446.6 605.4 446.9 614.4 447.1 621.8 447.4 626.4 447.7 628.4 447.9 628.7 448.2 628.4 448.5 626.5 448.8 621.9 449.0 614.7 449.3 605.9 449.6 597.4 449.8 591.3 450.1 589.1 450.4 591.4 450.6 597.6 450.9 606.1 451.2 614.9 451.4 622.1 451.7 626.7 452.0 628.6 452.3 628.9 452.5 628.6 452.8 626.8 453.1 622.3 453.3 615.2 453.6 606.6 453.9 598.3 454.1 592.4 454.4 590.2 454.7 592.5 454.9 598.6 455.2 606.9 455.5 615.5 455.8 622.5 456.0 627.0 456.3 628.8 456.6 629.1 456.8 628.9 457.1 627.0 457.4 622.6 457.6 615.7 457.9 607.3 458.2 599.2 458.4 593.4 458.7 591.3 459.0 593.5 459.3 599.5 459.5 607.6 459.8 616.0 460.1 622.9 460.3 627.3 460.6 629.1 460.9 629.4 461.1 629.1 461.4 627.3 461.7 623.0 461.9 616.3 462.2 608.1 462.5 600.1 462.8 594.4 463.0 592.4 463.3 594.6 463.6 600.4 463.8 608.3 464.1 616.5 464.4 623.3 464.6 627.6 464.9 629.4 465.2 629.7 465.4 629.4 465.7 627.7 466.0 623.5 466.3 616.8 466.5 608.8 466.8 601.0 467.1 595.5 467.3 593.5 467.6 595.6 467.9 601.3 468.1 609.1 468.4 617.1 468.7 623.7 468.9 627.9 469.2 629.7 469.5 630.0 469.8 629.7 470.0 628.0 470.3 623.9 470.6 617.4 470.8 609.5 471.1 601.9 471.4 596.5 471.6 594.5 471.9 596.6 472.2 602.1 472.4 609.8 472.7 617.7 473.0 624.1 473.3 628.2 473.5 630.0 473.8 630.2 474.1 630.0 474.3 628.3 474.6 624.3 474.9 617.9 475.1 610.2 475.4 602.8 475.7 597.4 475.9 595.5 476.2 597.6 476.5 603.0 476.8 610.5 477.0 618.2 477.3 624.5 477.6 628.6 477.8 630.2 478.1 630.5 478.4 630.3 478.6 628.6 478.9 624.7 479.2 618.5 479.4 610.9 479.7 603.6 480.0 598.4 480.3 596.5 480.5 598.5 480.8 603.9 481.1 611.2 481.3 618.7 481.6 624.9 481.9 628.9 482.1 630.5 482.4 630.8 482.7 630.6 482.9 628.9 483.2 625.1 483.5 619.0 483.8 611.6 484.0 604.5 484.3 599.4 484.6 597.5 484.8 599.5 485.1 604.7 485.4 611.8 485.6 619.2 485.9 625.3 486.2 629.1 486.4 630.8 486.7 631.0 487.0 630.8 487.3 629.2 487.5 625.4 487.8 619.5 488.1 612.3 488.3 605.3 488.6 600.3 488.9 598.5 489.1 600.4 489.4 605.5 489.7 612.5 490.0 619.7 490.2 625.6 490.5 629.4 490.8 631.0 491.0 631.2 491.3 631.0 491.6 629.4 491.8 625.8 492.1 619.9 492.4 612.9 492.6 606.1 492.9 601.2 493.2 599.5 493.5 601.3 493.7 606.3 494.0 613.1 494.3 620.2 494.5 625.9 494.8 629.6 495.1 631.1 495.3 631.4 495.6 631.1 495.9 629.6 496.1 626.0 496.4 620.4 496.7 613.5 497.0 606.9 497.2 602.1 497.5 600.4 497.8 602.2 498.0 607.1 498.3 613.7 498.6 620.6 498.8 626.2 499.1 629.7 499.4 631.2 499.6 631.5 499.9 631.2 500.2 629.8 500.5 626.3 500.7 620.8 501.0 614.1 501.3 607.6 501.5 603.0 501.8 601.4 502.1 603.1 502.3 607.8 502.6 614.3 502.9 620.9 503.1 626.4 503.4 629.8 503.7 631.3 504.0 631.5 504.2 631.3 504.5 629.8 504.8 626.4 505.0 621.1 505.3 614.6 505.6 608.4 505.8 603.9 506.1 602.3 506.4 604.0 506.6 608.5 506.9 614.8 507.2 621.3 507.5 626.5 507.7 629.9 508.0 631.3 508.3 631.5 508.5 631.3 508.8 629.9 509.1 626.6 509.3 621.4 509.6 615.1 509.9 609.1 510.1 604.7 510.4 603.2 510.7 604.8 511.0 609.3 511.2 615.3 511.5 621.6 511.8 626.7 512.0 629.9 512.3 631.3 512.6 631.5 512.8 631.3 513.1 629.9 513.4 626.8 513.6 621.7 513.9 615.6 514.2 609.8 514.5 605.6 514.7 604.1 515.0 605.7 515.3 610.0 515.5 615.8 515.8 621.9 516.1 626.8 516.3 630.0 516.6 631.3 516.9 631.5 517.1 631.3 517.4 630.0 517.7 626.9 518.0 622.0 518.2 616.1 518.5 610.5 518.8 606.4 519.0 605.0" stroke="#231f20" stroke-width="2.35" fill="none" stroke-linejoin="miter" stroke-miterlimit="2"/>
<path d="M107.60 557.01 109.67 557.46 111.73 557.90 113.80 558.35 115.87 558.79 117.94 559.24 120.00 559.67 122.07 560.11 124.14 560.54 126.21 560.97 128.27 561.40 130.34 561.82 132.41 562.25 134.48 562.66 136.54 563.08 138.61 563.49 140.68 563.90 142.74 564.31 144.81 564.71 146.88 565.11 148.95 565.50 151.01 565.90 153.08 566.29 155.15 566.67 157.22 567.05 159.28 567.43 161.35 567.80 163.42 568.17 165.49 568.54 167.55 568.90 169.62 569.26 171.69 569.61 173.75 569.96 175.82 570.31 177.89 570.65 179.96 570.98 182.02 571.31 184.09 571.63 186.16 571.96 188.23 572.27 190.29 572.59 192.36 572.90 194.43 573.20 196.50 573.51 198.56 573.81 200.63 574.11 202.70 574.41 204.76 574.70 206.83 575.00 208.90 575.29 210.97 575.58 213.03 575.87 215.10 576.16 217.17 576.45 219.24 576.74 221.30 577.04 223.37 577.33 225.44 577.62 227.51 577.91 229.57 578.21 231.64 578.51 233.71 578.81 235.77 579.11 237.84 579.41 239.91 579.72 241.98 580.03 244.04 580.34 246.11 580.65 248.18 580.97 250.25 581.30 252.31 581.63 254.38 581.96 256.45 582.30 258.52 582.65 260.58 582.99 262.65 583.34 264.72 583.70 266.78 584.06 268.85 584.41 270.92 584.78 272.99 585.14 275.05 585.50 277.12 585.87 279.19 586.23 281.26 586.60 283.32 586.96 285.39 587.33 287.46 587.69 289.53 588.05 291.59 588.41 293.66 588.77 295.73 589.13 297.79 589.48 299.86 589.83 301.93 590.18 304.00 590.52 306.06 590.85 308.13 591.19 310.20 591.51 312.27 591.83 314.33 592.15 316.40 592.46 318.47 592.76 320.54 593.05 322.60 593.34 324.67 593.62 326.74 593.89 328.81 594.16 330.87 594.43 332.94 594.69 335.01 594.95 337.07 595.21 339.14 595.47 341.21 595.73 343.28 595.98 345.34 596.23 347.41 596.48 349.48 596.72 351.55 596.96 353.61 597.20 355.68 597.44 357.75 597.68 359.82 597.91 361.88 598.14 363.95 598.37 366.02 598.59 368.08 598.81 370.15 599.03 372.22 599.25 374.29 599.47 376.35 599.68 378.42 599.89 380.49 600.09 382.56 600.30 384.62 600.50 386.69 600.69 388.76 600.89 390.83 601.08 392.89 601.27 394.96 601.46 397.03 601.64 399.09 601.82 401.16 602.00 403.23 602.18 405.30 602.35 407.36 602.53 409.43 602.70 411.50 602.87 413.57 603.05 415.63 603.22 417.70 603.39 419.77 603.55 421.84 603.72 423.90 603.89 425.97 604.05 428.04 604.22 430.10 604.38 432.17 604.54 434.24 604.69 436.31 604.85 438.37 605.00 440.44 605.15 442.51 605.30 444.58 605.45 446.64 605.59 448.71 605.73 450.78 605.87 452.85 606.01 454.91 606.14 456.98 606.27 459.05 606.39 461.11 606.52 463.18 606.64 465.25 606.75 467.32 606.86 469.38 606.97 471.45 607.08 473.52 607.18 475.59 607.27 477.65 607.37 479.72 607.45 481.79 607.54 483.86 607.62 485.92 607.70 487.99 607.78 490.06 607.86 492.12 607.94 494.19 608.01 496.26 608.08 498.33 608.15 500.39 608.22 502.46 608.29 504.53 608.35 506.60 608.41 508.66 608.46 510.73 608.52 512.80 608.57 514.87 608.61 516.93 608.66 519.00 608.70 519.00 623.90 516.93 623.85 514.87 623.80 512.80 623.75 510.73 623.69 508.66 623.64 506.60 623.59 504.53 623.54 502.46 623.49 500.39 623.43 498.33 623.38 496.26 623.33 494.19 623.27 492.12 623.22 490.06 623.17 487.99 623.12 485.92 623.06 483.86 623.01 481.79 622.96 479.72 622.90 477.65 622.85 475.59 622.80 473.52 622.74 471.45 622.69 469.38 622.63 467.32 622.58 465.25 622.52 463.18 622.47 461.11 622.41 459.05 622.36 456.98 622.30 454.91 622.24 452.85 622.19 450.78 622.13 448.71 622.08 446.64 622.02 444.58 621.97 442.51 621.91 440.44 621.85 438.37 621.80 436.31 621.74 434.24 621.69 432.17 621.63 430.10 621.58 428.04 621.52 425.97 621.47 423.90 621.41 421.84 621.36 419.77 621.30 417.70 621.25 415.63 621.20 413.57 621.14 411.50 621.09 409.43 621.04 407.36 620.99 405.30 620.93 403.23 620.88 401.16 620.83 399.09 620.78 397.03 620.73 394.96 620.68 392.89 620.63 390.83 620.58 388.76 620.52 386.69 620.47 384.62 620.42 382.56 620.37 380.49 620.32 378.42 620.27 376.35 620.22 374.29 620.17 372.22 620.12 370.15 620.07 368.08 620.02 366.02 619.97 363.95 619.92 361.88 619.87 359.82 619.82 357.75 619.78 355.68 619.73 353.61 619.68 351.55 619.63 349.48 619.59 347.41 619.54 345.34 619.50 343.28 619.45 341.21 619.41 339.14 619.36 337.07 619.32 335.01 619.28 332.94 619.23 330.87 619.19 328.81 619.15 326.74 619.11 324.67 619.07 322.60 619.03 320.54 619.00 318.47 618.96 316.40 618.92 314.33 618.89 312.27 618.86 310.20 618.83 308.13 618.80 306.06 618.77 304.00 618.74 301.93 618.71 299.86 618.68 297.79 618.65 295.73 618.62 293.66 618.60 291.59 618.57 289.53 618.54 287.46 618.51 285.39 618.48 283.32 618.45 281.26 618.42 279.19 618.39 277.12 618.36 275.05 618.33 272.99 618.30 270.92 618.27 268.85 618.23 266.78 618.20 264.72 618.16 262.65 618.12 260.58 618.08 258.52 618.04 256.45 618.00 254.38 617.95 252.31 617.90 250.25 617.86 248.18 617.81 246.11 617.75 244.04 617.69 241.98 617.63 239.91 617.56 237.84 617.48 235.77 617.41 233.71 617.32 231.64 617.24 229.57 617.15 227.51 617.06 225.44 616.97 223.37 616.87 221.30 616.77 219.24 616.66 217.17 616.56 215.10 616.45 213.03 616.34 210.97 616.23 208.90 616.12 206.83 616.00 204.76 615.89 202.70 615.77 200.63 615.65 198.56 615.53 196.50 615.41 194.43 615.29 192.36 615.17 190.29 615.05 188.23 614.93 186.16 614.81 184.09 614.69 182.02 614.58 179.96 614.46 177.89 614.34 175.82 614.23 173.75 614.11 171.69 614.00 169.62 613.89 167.55 613.78 165.49 613.66 163.42 613.55 161.35 613.43 159.28 613.32 157.22 613.20 155.15 613.08 153.08 612.97 151.01 612.85 148.95 612.73 146.88 612.61 144.81 612.49 142.74 612.37 140.68 612.25 138.61 612.12 136.54 612.00 134.48 611.88 132.41 611.75 130.34 611.63 128.27 611.50 126.21 611.38 124.14 611.25 122.07 611.12 120.00 611.00 117.94 610.87 115.87 610.74 113.80 610.61 111.73 610.48 109.67 610.35 107.60 610.22Z" fill="#231f20"/>
<path d="M107.6 876.7 107.9 883.0 108.1 900.2 108.4 924.6 108.7 951.1 108.9 974.7 109.2 991.4 109.5 999.9 109.8 1001.7 110.0 999.9 110.3 991.5 110.6 974.9 110.8 951.7 111.1 925.6 111.4 901.7 111.6 885.0 111.9 879.1 112.2 885.3 112.4 902.2 112.7 926.2 113.0 952.2 113.3 975.4 113.5 991.9 113.8 1000.2 114.1 1001.9 114.3 1000.2 114.6 992.0 114.9 975.7 115.1 952.8 115.4 927.1 115.7 903.6 115.9 887.2 116.2 881.4 116.5 887.5 116.8 904.1 117.0 927.7 117.3 953.3 117.6 976.1 117.8 992.3 118.1 1000.5 118.4 1002.2 118.6 1000.5 118.9 992.4 119.2 976.4 119.4 953.9 119.7 928.7 120.0 905.6 120.3 889.4 120.5 883.7 120.8 889.7 121.1 906.0 121.3 929.2 121.6 954.4 121.9 976.8 122.1 992.7 122.4 1000.8 122.7 1002.5 122.9 1000.8 123.2 992.8 123.5 977.1 123.8 955.0 124.0 930.2 124.3 907.5 124.6 891.6 124.8 886.0 125.1 891.9 125.4 907.9 125.6 930.7 125.9 955.5 126.2 977.5 126.4 993.2 126.7 1001.1 127.0 1002.7 127.3 1001.1 127.5 993.3 127.8 977.8 128.1 956.0 128.3 931.7 128.6 909.3 128.9 893.8 129.1 888.2 129.4 894.0 129.7 909.8 129.9 932.2 130.2 956.6 130.5 978.2 130.8 993.6 131.0 1001.3 131.3 1003.0 131.6 1001.4 131.8 993.7 132.1 978.5 132.4 957.1 132.6 933.1 132.9 911.2 133.2 895.9 133.4 890.5 133.7 896.1 134.0 911.6 134.3 933.7 134.5 957.6 134.8 978.9 135.1 994.0 135.3 1001.6 135.6 1003.2 135.9 1001.7 136.1 994.1 136.4 979.1 136.7 958.1 136.9 934.6 137.2 913.0 137.5 897.9 137.8 892.6 138.0 898.2 138.3 913.4 138.6 935.1 138.8 958.6 139.1 979.6 139.4 994.4 139.6 1001.9 139.9 1003.5 140.2 1002.0 140.4 994.5 140.7 979.8 141.0 959.2 141.3 936.0 141.5 914.8 141.8 900.0 142.1 894.8 142.3 900.2 142.6 915.2 142.9 936.5 143.1 959.7 143.4 980.2 143.7 994.8 144.0 1002.2 144.2 1003.8 144.5 1002.2 144.8 994.9 145.0 980.5 145.3 960.2 145.6 937.4 145.8 916.6 146.1 902.0 146.4 896.9 146.6 902.2 146.9 917.0 147.2 937.9 147.5 960.7 147.7 980.9 148.0 995.2 148.3 1002.5 148.5 1004.0 148.8 1002.5 149.1 995.3 149.3 981.1 149.6 961.2 149.9 938.8 150.1 918.3 150.4 904.0 150.7 898.9 151.0 904.2 151.2 918.7 151.5 939.3 151.8 961.6 152.0 981.5 152.3 995.6 152.6 1002.7 152.8 1004.3 153.1 1002.8 153.4 995.7 153.6 981.7 153.9 962.1 154.2 940.1 154.5 920.0 154.7 905.9 155.0 901.0 155.3 906.2 155.5 920.4 155.8 940.6 156.1 962.6 156.3 982.1 156.6 996.0 156.9 1003.0 157.1 1004.5 157.4 1003.1 157.7 996.1 158.0 982.4 158.2 963.1 158.5 941.5 158.8 921.7 159.0 907.8 159.3 903.0 159.6 908.1 159.8 922.1 160.1 942.0 160.4 963.6 160.6 982.8 160.9 996.4 161.2 1003.3 161.5 1004.7 161.7 1003.3 162.0 996.5 162.3 983.0 162.5 964.0 162.8 942.8 163.1 923.3 163.3 909.7 163.6 904.9 163.9 910.0 164.1 923.7 164.4 943.3 164.7 964.5 165.0 983.4 165.2 996.8 165.5 1003.5 165.8 1005.0 166.0 1003.6 166.3 996.9 166.6 983.6 166.8 965.0 167.1 944.1 167.4 924.9 167.6 911.6 167.9 906.9 168.2 911.8 168.5 925.3 168.7 944.5 169.0 965.4 169.3 984.0 169.5 997.2 169.8 1003.8 170.1 1005.2 170.3 1003.8 170.6 997.2 170.9 984.2 171.1 965.9 171.4 945.3 171.7 926.5 172.0 913.4 172.2 908.8 172.5 913.6 172.8 926.9 173.0 945.8 173.3 966.3 173.6 984.6 173.8 997.5 174.1 1004.1 174.4 1005.4 174.6 1004.1 174.9 997.6 175.2 984.8 175.5 966.8 175.7 946.6 176.0 928.1 176.3 915.2 176.5 910.6 176.8 915.4 177.1 928.5 177.3 947.1 177.6 967.2 177.9 985.2 178.1 997.9 178.4 1004.3 178.7 1005.7 179.0 1004.4 179.2 998.0 179.5 985.4 179.8 967.7 180.0 947.8 180.3 929.6 180.6 917.0 180.8 912.5 181.1 917.2 181.4 930.0 181.6 948.3 181.9 968.1 182.2 985.7 182.5 998.3 182.7 1004.6 183.0 1005.9 183.3 1004.6 183.5 998.4 183.8 986.0 184.1 968.6 184.3 949.0 184.6 931.2 184.9 918.7 185.1 914.3 185.4 918.9 185.7 931.5 186.0 949.5 186.2 969.0 186.5 986.3 186.8 998.6 187.0 1004.9 187.3 1006.2 187.6 1004.9 187.8 998.7 188.1 986.5 188.4 969.4 188.6 950.2 188.9 932.7 189.2 920.4 189.5 916.0 189.7 920.6 190.0 933.0 190.3 950.7 190.5 969.9 190.8 986.9 191.1 999.0 191.3 1005.1 191.6 1006.4 191.9 1005.2 192.1 999.1 192.4 987.1 192.7 970.3 193.0 951.4 193.2 934.1 193.5 922.1 193.8 917.8 194.0 922.3 194.3 934.5 194.6 951.8 194.8 970.7 195.1 987.5 195.4 999.4 195.6 1005.4 195.9 1006.7 196.2 1005.4 196.5 999.5 196.7 987.7 197.0 971.1 197.3 952.6 197.5 935.6 197.8 923.7 198.1 919.5 198.3 923.9 198.6 935.9 198.9 953.0 199.1 971.6 199.4 988.0 199.7 999.8 200.0 1005.7 200.2 1006.9 200.5 1005.7 200.8 999.8 201.0 988.3 201.3 972.0 201.6 953.7 201.8 937.0 202.1 925.3 202.4 921.2 202.6 925.5 202.9 937.3 203.2 954.1 203.5 972.4 203.7 988.6 204.0 1000.1 204.3 1005.9 204.5 1007.2 204.8 1006.0 205.1 1000.2 205.3 988.8 205.6 972.8 205.9 954.8 206.1 938.4 206.4 926.9 206.7 922.9 207.0 927.1 207.2 938.7 207.5 955.2 207.8 973.2 208.0 989.1 208.3 1000.5 208.6 1006.2 208.8 1007.4 209.1 1006.2 209.4 1000.6 209.6 989.3 209.9 973.6 210.2 955.9 210.5 939.8 210.7 928.5 211.0 924.5 211.3 928.7 211.5 940.1 211.8 956.3 212.1 974.0 212.3 989.7 212.6 1000.8 212.9 1006.5 213.2 1007.6 213.4 1006.5 213.7 1000.9 214.0 989.9 214.2 974.4 214.5 957.0 214.8 941.1 215.0 930.0 215.3 926.1 215.6 930.2 215.8 941.5 216.1 957.4 216.4 974.8 216.7 990.2 216.9 1001.2 217.2 1006.7 217.5 1007.9 217.7 1006.7 218.0 1001.3 218.3 990.4 218.5 975.2 218.8 958.1 219.1 942.5 219.3 931.6 219.6 927.7 219.9 931.7 220.2 942.8 220.4 958.5 220.7 975.6 221.0 990.7 221.2 1001.5 221.5 1006.9 221.8 1008.1 222.0 1007.0 222.3 1001.6 222.6 990.9 222.8 976.0 223.1 959.2 223.4 943.8 223.7 933.1 223.9 929.3 224.2 933.3 224.5 944.1 224.7 959.6 225.0 976.3 225.3 991.2 225.5 1001.8 225.8 1007.2 226.1 1008.3 226.3 1007.2 226.6 1001.9 226.9 991.4 227.2 976.7 227.4 960.2 227.7 945.1 228.0 934.6 228.2 930.8 228.5 934.7 228.8 945.4 229.0 960.6 229.3 977.1 229.6 991.7 229.8 1002.1 230.1 1007.4 230.4 1008.5 230.7 1007.4 230.9 1002.2 231.2 991.9 231.5 977.4 231.7 961.2 232.0 946.4 232.3 936.0 232.5 932.4 232.8 936.2 233.1 946.7 233.3 961.6 233.6 977.8 233.9 992.2 234.2 1002.4 234.4 1007.6 234.7 1008.7 235.0 1007.6 235.2 1002.5 235.5 992.4 235.8 978.2 236.0 962.2 236.3 947.7 236.6 937.5 236.8 933.9 237.1 937.7 237.4 948.0 237.7 962.6 237.9 978.5 238.2 992.7 238.5 1002.7 238.7 1007.8 239.0 1008.8 239.3 1007.8 239.5 1002.8 239.8 992.8 240.1 978.9 240.3 963.2 240.6 948.9 240.9 938.9 241.2 935.4 241.4 939.1 241.7 949.2 242.0 963.6 242.2 979.2 242.5 993.1 242.8 1002.9 243.0 1007.9 243.3 1009.0 243.6 1007.9 243.8 1003.0 244.1 993.3 244.4 979.6 244.7 964.2 244.9 950.2 245.2 940.4 245.5 936.9 245.7 940.6 246.0 950.5 246.3 964.6 246.5 979.9 246.8 993.5 247.1 1003.2 247.3 1008.1 247.6 1009.1 247.9 1008.1 248.2 1003.2 248.4 993.7 248.7 980.3 249.0 965.2 249.2 951.4 249.5 941.8 249.8 938.4 250.0 942.0 250.3 951.7 250.6 965.6 250.8 980.6 251.1 993.9 251.4 1003.4 251.7 1008.2 251.9 1009.2 252.2 1008.2 252.5 1003.5 252.7 994.1 253.0 980.9 253.3 966.2 253.5 952.7 253.8 943.2 254.1 939.9 254.3 943.4 254.6 953.0 254.9 966.5 255.2 981.2 255.4 994.3 255.7 1003.6 256.0 1008.3 256.2 1009.3 256.5 1008.3 256.8 1003.7 257.0 994.5 257.3 981.6 257.6 967.1 257.8 953.9 258.1 944.6 258.4 941.4 258.7 944.8 258.9 954.2 259.2 967.5 259.5 981.9 259.7 994.7 260.0 1003.8 260.3 1008.4 260.5 1009.4 260.8 1008.4 261.1 1003.9 261.3 994.9 261.6 982.2 261.9 968.0 262.2 955.1 262.4 946.0 262.7 942.9 263.0 946.2 263.2 955.4 263.5 968.4 263.8 982.5 264.0 995.1 264.3 1004.0 264.6 1008.5 264.8 1009.5 265.1 1008.5 265.4 1004.1 265.7 995.2 265.9 982.9 266.2 969.0 266.5 956.3 266.7 947.4 267.0 944.3 267.3 947.6 267.5 956.6 267.8 969.3 268.1 983.2 268.3 995.5 268.6 1004.2 268.9 1008.6 269.2 1009.5 269.4 1008.6 269.7 1004.3 270.0 995.6 270.2 983.5 270.5 969.9 270.8 957.5 271.0 948.8 271.3 945.8 271.6 949.0 271.8 957.8 272.1 970.3 272.4 983.8 272.7 995.8 272.9 1004.4 273.2 1008.7 273.5 1009.6 273.7 1008.7 274.0 1004.4 274.3 996.0 274.5 984.1 274.8 970.8 275.1 958.7 275.3 950.2 275.6 947.2 275.9 950.4 276.2 959.0 276.4 971.2 276.7 984.4 277.0 996.2 277.2 1004.6 277.5 1008.8 277.8 1009.7 278.0 1008.8 278.3 1004.6 278.6 996.3 278.8 984.7 279.1 971.7 279.4 959.8 279.7 951.5 279.9 948.6 280.2 951.7 280.5 960.1 280.7 972.1 281.0 985.0 281.3 996.6 281.5 1004.7 281.8 1008.9 282.1 1009.7 282.4 1008.9 282.6 1004.8 282.9 996.7 283.2 985.3 283.4 972.6 283.7 961.0 284.0 952.9 284.2 950.0 284.5 953.0 284.8 961.3 285.0 973.0 285.3 985.7 285.6 996.9 285.9 1004.9 286.1 1008.9 286.4 1009.8 286.7 1009.0 286.9 1005.0 287.2 997.0 287.5 986.0 287.7 973.5 288.0 962.1 288.3 954.2 288.5 951.4 288.8 954.4 289.1 962.4 289.4 973.8 289.6 986.2 289.9 997.3 290.2 1005.1 290.4 1009.0 290.7 1009.9 291.0 1009.0 291.2 1005.1 291.5 997.4 291.8 986.5 292.0 974.4 292.3 963.3 292.6 955.5 292.9 952.8 293.1 955.7 293.4 963.5 293.7 974.7 293.9 986.8 294.2 997.6 294.5 1005.2 294.7 1009.1 295.0 1009.9 295.3 1009.1 295.5 1005.3 295.8 997.7 296.1 987.1 296.4 975.2 296.6 964.4 296.9 956.8 297.2 954.1 297.4 956.9 297.7 964.6 298.0 975.6 298.2 987.4 298.5 997.9 298.8 1005.4 299.0 1009.2 299.3 1010.0 299.6 1009.2 299.9 1005.5 300.1 998.1 300.4 987.7 300.7 976.1 300.9 965.5 301.2 958.0 301.5 955.4 301.7 958.2 302.0 965.7 302.3 976.4 302.5 988.0 302.8 998.3 303.1 1005.6 303.4 1009.3 303.6 1010.0 303.9 1009.3 304.2 1005.6 304.4 998.4 304.7 988.3 305.0 976.9 305.2 966.5 305.5 959.3 305.8 956.7 306.0 959.4 306.3 966.8 306.6 977.2 306.9 988.5 307.1 998.6 307.4 1005.7 307.7 1009.3 307.9 1010.1 308.2 1009.3 308.5 1005.8 308.7 998.7 309.0 988.8 309.3 977.7 309.5 967.6 309.8 960.5 310.1 958.0 310.4 960.7 310.6 967.8 310.9 978.0 311.2 989.1 311.4 998.9 311.7 1005.9 312.0 1009.4 312.2 1010.2 312.5 1009.4 312.8 1005.9 313.0 999.0 313.3 989.4 313.6 978.5 313.9 968.6 314.1 961.7 314.4 959.3 314.7 961.8 314.9 968.9 315.2 978.8 315.5 989.6 315.7 999.2 316.0 1006.1 316.3 1009.5 316.5 1010.2 316.8 1009.5 317.1 1006.1 317.4 999.4 317.6 989.9 317.9 979.3 318.2 969.6 318.4 962.9 318.7 960.5 319.0 963.0 319.2 969.9 319.5 979.6 319.8 990.2 320.0 999.6 320.3 1006.2 320.6 1009.6 320.9 1010.3 321.1 1009.6 321.4 1006.3 321.7 999.7 321.9 990.4 322.2 980.1 322.5 970.6 322.7 964.0 323.0 961.7 323.3 964.1 323.5 970.9 323.8 980.4 324.1 990.7 324.4 999.9 324.6 1006.4 324.9 1009.7 325.2 1010.4 325.4 1009.7 325.7 1006.4 326.0 1000.0 326.2 991.0 326.5 980.8 326.8 971.6 327.0 965.1 327.3 962.8 327.6 965.3 327.9 971.8 328.1 981.1 328.4 991.2 328.7 1000.2 328.9 1006.6 329.2 1009.8 329.5 1010.5 329.7 1009.8 330.0 1006.6 330.3 1000.3 330.5 991.5 330.8 981.6 331.1 972.5 331.4 966.2 331.6 964.0 331.9 966.3 332.2 972.8 332.4 981.9 332.7 991.7 333.0 1000.5 333.2 1006.7 333.5 1009.9 333.8 1010.6 334.0 1009.9 334.3 1006.8 334.6 1000.6 334.9 992.0 335.1 982.3 335.4 973.5 335.7 967.3 335.9 965.1 336.2 967.4 336.5 973.7 336.7 982.6 337.0 992.2 337.3 1000.8 337.5 1006.9 337.8 1010.0 338.1 1010.6 338.4 1010.0 338.6 1007.0 338.9 1000.9 339.2 992.5 339.4 983.0 339.7 974.4 340.0 968.3 340.2 966.2 340.5 968.5 340.8 974.6 341.0 983.3 341.3 992.7 341.6 1001.1 341.9 1007.1 342.1 1010.1 342.4 1010.7 342.7 1010.1 342.9 1007.1 343.2 1001.2 343.5 993.0 343.7 983.7 344.0 975.3 344.3 969.4 344.5 967.3 344.8 969.5 345.1 975.5 345.4 984.0 345.6 993.2 345.9 1001.4 346.2 1007.3 346.4 1010.2 346.7 1010.8 347.0 1010.2 347.2 1007.3 347.5 1001.6 347.8 993.5 348.0 984.4 348.3 976.2 348.6 970.4 348.9 968.4 349.1 970.5 349.4 976.4 349.7 984.7 349.9 993.7 350.2 1001.7 350.5 1007.4 350.7 1010.3 351.0 1010.9 351.3 1010.3 351.6 1007.5 351.8 1001.9 352.1 994.0 352.4 985.1 352.6 977.0 352.9 971.4 353.2 969.4 353.4 971.5 353.7 977.3 354.0 985.4 354.2 994.2 354.5 1002.1 354.8 1007.6 355.1 1010.4 355.3 1011.0 355.6 1010.4 355.9 1007.7 356.1 1002.2 356.4 994.5 356.7 985.8 356.9 977.9 357.2 972.4 357.5 970.4 357.7 972.5 358.0 978.1 358.3 986.1 358.6 994.7 358.8 1002.4 359.1 1007.8 359.4 1010.5 359.6 1011.1 359.9 1010.6 360.2 1007.8 360.4 1002.5 360.7 994.9 361.0 986.5 361.2 978.7 361.5 973.4 361.8 971.5 362.1 973.5 362.3 979.0 362.6 986.7 362.9 995.2 363.1 1002.6 363.4 1008.0 363.7 1010.7 363.9 1011.2 364.2 1010.7 364.5 1008.0 364.7 1002.8 365.0 995.4 365.3 987.1 365.6 979.6 365.8 974.3 366.1 972.5 366.4 974.4 366.6 979.8 366.9 987.4 367.2 995.6 367.4 1002.9 367.7 1008.1 368.0 1010.8 368.2 1011.3 368.5 1010.8 368.8 1008.2 369.1 1003.1 369.3 995.9 369.6 987.8 369.9 980.4 370.1 975.2 370.4 973.4 370.7 975.4 370.9 980.6 371.2 988.0 371.5 996.1 371.7 1003.2 372.0 1008.3 372.3 1010.9 372.6 1011.4 372.8 1010.9 373.1 1008.4 373.4 1003.3 373.6 996.3 373.9 988.4 374.2 981.2 374.4 976.2 374.7 974.4 375.0 976.3 375.2 981.4 375.5 988.7 375.8 996.5 376.1 1003.5 376.3 1008.5 376.6 1011.0 376.9 1011.5 377.1 1011.0 377.4 1008.5 377.7 1003.6 377.9 996.8 378.2 989.0 378.5 982.0 378.7 977.1 379.0 975.3 379.3 977.2 379.6 982.2 379.8 989.3 380.1 997.0 380.4 1003.8 380.6 1008.7 380.9 1011.1 381.2 1011.6 381.4 1011.1 381.7 1008.7 382.0 1003.9 382.2 997.2 382.5 989.7 382.8 982.8 383.1 978.0 383.3 976.3 383.6 978.1 383.9 983.0 384.1 989.9 384.4 997.4 384.7 1004.1 384.9 1008.8 385.2 1011.2 385.5 1011.7 385.7 1011.3 386.0 1008.9 386.3 1004.2 386.6 997.6 386.8 990.3 387.1 983.5 387.4 978.8 387.6 977.2 387.9 978.9 388.2 983.7 388.4 990.5 388.7 997.8 389.0 1004.4 389.2 1009.0 389.5 1011.4 389.8 1011.9 390.1 1011.4 390.3 1009.1 390.6 1004.5 390.9 998.1 391.1 990.9 391.4 984.3 391.7 979.7 391.9 978.1 392.2 979.8 392.5 984.5 392.7 991.1 393.0 998.3 393.3 1004.7 393.6 1009.2 393.8 1011.5 394.1 1012.0 394.4 1011.5 394.6 1009.2 394.9 1004.8 395.2 998.5 395.4 991.4 395.7 985.0 396.0 980.5 396.2 979.0 396.5 980.6 396.8 985.2 397.1 991.7 397.3 998.7 397.6 1004.9 397.9 1009.4 398.1 1011.6 398.4 1012.1 398.7 1011.6 398.9 1009.4 399.2 1005.0 399.5 998.9 399.7 992.0 400.0 985.7 400.3 981.4 400.6 979.8 400.8 981.5 401.1 985.9 401.4 992.2 401.6 999.1 401.9 1005.2 402.2 1009.5 402.4 1011.7 402.7 1012.2 403.0 1011.7 403.2 1009.6 403.5 1005.3 403.8 999.3 404.1 992.6 404.3 986.4 404.6 982.2 404.9 980.7 405.1 982.3 405.4 986.6 405.7 992.8 405.9 999.5 406.2 1005.5 406.5 1009.7 406.7 1011.8 407.0 1012.3 407.3 1011.8 407.6 1009.7 407.8 1005.6 408.1 999.7 408.4 993.1 408.6 987.1 408.9 983.0 409.2 981.5 409.4 983.1 409.7 987.3 410.0 993.4 410.2 999.9 410.5 1005.7 410.8 1009.9 411.1 1011.9 411.3 1012.4 411.6 1012.0 411.9 1009.9 412.1 1005.8 412.4 1000.1 412.7 993.7 412.9 987.8 413.2 983.8 413.5 982.3 413.7 983.8 414.0 988.0 414.3 993.9 414.6 1000.3 414.8 1006.0 415.1 1010.0 415.4 1012.1 415.6 1012.5 415.9 1012.1 416.2 1010.1 416.4 1006.1 416.7 1000.5 417.0 994.2 417.2 988.5 417.5 984.5 417.8 983.1 418.1 984.6 418.3 988.7 418.6 994.4 418.9 1000.7 419.1 1006.3 419.4 1010.2 419.7 1012.2 419.9 1012.6 420.2 1012.2 420.5 1010.2 420.8 1006.3 421.0 1000.9 421.3 994.8 421.6 989.2 421.8 985.3 422.1 983.9 422.4 985.4 422.6 989.4 422.9 995.0 423.2 1001.1 423.4 1006.5 423.7 1010.4 424.0 1012.3 424.3 1012.7 424.5 1012.3 424.8 1010.4 425.1 1006.6 425.3 1001.3 425.6 995.3 425.9 989.8 426.1 986.0 426.4 984.7 426.7 986.1 426.9 990.0 427.2 995.5 427.5 1001.5 427.8 1006.8 428.0 1010.5 428.3 1012.4 428.6 1012.8 428.8 1012.4 429.1 1010.6 429.4 1006.9 429.6 1001.7 429.9 995.8 430.2 990.5 430.4 986.8 430.7 985.5 431.0 986.9 431.3 990.7 431.5 996.0 431.8 1001.9 432.1 1007.0 432.3 1010.7 432.6 1012.6 432.9 1013.0 433.1 1012.6 433.4 1010.7 433.7 1007.1 433.9 1002.0 434.2 996.3 434.5 991.1 434.8 987.5 435.0 986.2 435.3 987.6 435.6 991.3 435.8 996.5 436.1 1002.2 436.4 1007.3 436.6 1010.9 436.9 1012.7 437.2 1013.1 437.4 1012.7 437.7 1010.9 438.0 1007.4 438.3 1002.4 438.5 996.9 438.8 991.8 439.1 988.2 439.3 987.0 439.6 988.3 439.9 991.9 440.1 997.0 440.4 1002.6 440.7 1007.5 440.9 1011.0 441.2 1012.8 441.5 1013.2 441.8 1012.8 442.0 1011.1 442.3 1007.6 442.6 1002.8 442.8 997.3 443.1 992.4 443.4 988.9 443.6 987.7 443.9 989.0 444.2 992.5 444.4 997.5 444.7 1003.0 445.0 1007.8 445.3 1011.2 445.5 1012.9 445.8 1013.3 446.1 1012.9 446.3 1011.2 446.6 1007.9 446.9 1003.1 447.1 997.8 447.4 993.0 447.7 989.6 447.9 988.4 448.2 989.7 448.5 993.1 448.8 998.0 449.0 1003.3 449.3 1008.0 449.6 1011.4 449.8 1013.1 450.1 1013.4 450.4 1013.1 450.6 1011.4 450.9 1008.1 451.2 1003.5 451.4 998.3 451.7 993.6 452.0 990.3 452.3 989.1 452.5 990.4 452.8 993.7 453.1 998.5 453.3 1003.7 453.6 1008.3 453.9 1011.5 454.1 1013.2 454.4 1013.5 454.7 1013.2 454.9 1011.6 455.2 1008.4 455.5 1003.8 455.8 998.8 456.0 994.2 456.3 990.9 456.6 989.8 456.8 991.0 457.1 994.3 457.4 999.0 457.6 1004.0 457.9 1008.5 458.2 1011.7 458.4 1013.3 458.7 1013.6 459.0 1013.3 459.3 1011.7 459.5 1008.6 459.8 1004.2 460.1 999.3 460.3 994.7 460.6 991.6 460.9 990.5 461.1 991.7 461.4 994.9 461.7 999.4 461.9 1004.4 462.2 1008.7 462.5 1011.9 462.8 1013.4 463.0 1013.8 463.3 1013.4 463.6 1011.9 463.8 1008.8 464.1 1004.5 464.4 999.7 464.6 995.3 464.9 992.2 465.2 991.1 465.4 992.3 465.7 995.4 466.0 999.9 466.3 1004.7 466.5 1009.0 466.8 1012.0 467.1 1013.5 467.3 1013.9 467.6 1013.6 467.9 1012.1 468.1 1009.1 468.4 1004.9 468.7 1000.1 468.9 995.8 469.2 992.8 469.5 991.8 469.8 992.9 470.0 996.0 470.3 1000.3 470.6 1005.0 470.8 1009.2 471.1 1012.2 471.4 1013.7 471.6 1014.0 471.9 1013.7 472.2 1012.2 472.4 1009.3 472.7 1005.2 473.0 1000.6 473.3 996.4 473.5 993.4 473.8 992.4 474.1 993.5 474.3 996.5 474.6 1000.7 474.9 1005.3 475.1 1009.4 475.4 1012.3 475.7 1013.8 475.9 1014.1 476.2 1013.8 476.5 1012.4 476.8 1009.5 477.0 1005.5 477.3 1001.0 477.6 996.9 477.8 994.0 478.1 993.0 478.4 994.1 478.6 997.0 478.9 1001.1 479.2 1005.6 479.4 1009.6 479.7 1012.5 480.0 1013.9 480.3 1014.2 480.5 1013.9 480.8 1012.5 481.1 1009.7 481.3 1005.8 481.6 1001.4 481.9 997.4 482.1 994.6 482.4 993.6 482.7 994.7 482.9 997.5 483.2 1001.6 483.5 1006.0 483.8 1009.9 484.0 1012.6 484.3 1014.0 484.6 1014.3 484.8 1014.0 485.1 1012.7 485.4 1009.9 485.6 1006.1 485.9 1001.8 486.2 997.9 486.4 995.1 486.7 994.2 487.0 995.2 487.3 998.0 487.5 1002.0 487.8 1006.3 488.1 1010.1 488.3 1012.8 488.6 1014.1 488.9 1014.4 489.1 1014.2 489.4 1012.8 489.7 1010.1 490.0 1006.4 490.2 1002.2 490.5 998.4 490.8 995.7 491.0 994.7 491.3 995.8 491.6 998.5 491.8 1002.3 492.1 1006.5 492.4 1010.3 492.6 1012.9 492.9 1014.3 493.2 1014.5 493.5 1014.3 493.7 1013.0 494.0 1010.4 494.3 1006.7 494.5 1002.6 494.8 998.8 495.1 996.2 495.3 995.3 495.6 996.3 495.9 999.0 496.1 1002.7 496.4 1006.8 496.7 1010.5 497.0 1013.1 497.2 1014.4 497.5 1014.7 497.8 1014.4 498.0 1013.1 498.3 1010.6 498.6 1007.0 498.8 1003.0 499.1 999.3 499.4 996.7 499.6 995.8 499.9 996.8 500.2 999.4 500.5 1003.1 500.7 1007.1 501.0 1010.7 501.3 1013.2 501.5 1014.5 501.8 1014.8 502.1 1014.5 502.3 1013.3 502.6 1010.8 502.9 1007.3 503.1 1003.3 503.4 999.7 503.7 997.2 504.0 996.4 504.2 997.3 504.5 999.9 504.8 1003.5 505.0 1007.4 505.3 1010.9 505.6 1013.4 505.8 1014.6 506.1 1014.9 506.4 1014.6 506.6 1013.4 506.9 1011.0 507.2 1007.5 507.5 1003.7 507.7 1000.2 508.0 997.7 508.3 996.9 508.5 997.8 508.8 1000.3 509.1 1003.8 509.3 1007.7 509.6 1011.1 509.9 1013.5 510.1 1014.7 510.4 1015.0 510.7 1014.7 511.0 1013.5 511.2 1011.2 511.5 1007.8 511.8 1004.1 512.0 1000.6 512.3 998.2 512.6 997.4 512.8 998.3 513.1 1000.7 513.4 1004.2 513.6 1007.9 513.9 1011.3 514.2 1013.6 514.5 1014.8 514.7 1015.1 515.0 1014.9 515.3 1013.7 515.5 1011.3 515.8 1008.1 516.1 1004.4 516.3 1001.0 516.6 998.7 516.9 997.9 517.1 998.8 517.4 1001.1 517.7 1004.5 518.0 1008.2 518.2 1011.5 518.5 1013.8 518.8 1015.0 519.0 1015.2" stroke="#454545" stroke-width="1.1" fill="none" stroke-linejoin="miter" stroke-miterlimit="2"/>
<path d="M107.6 1052.2 107.9 1050.3 108.1 1038.2 108.4 1009.7 108.7 964.9 108.9 910.6 109.2 858.4 109.5 820.6 109.8 807.0 110.0 821.1 110.3 859.0 110.6 911.2 110.8 965.0 111.1 1009.2 111.4 1037.2 111.6 1048.8 111.9 1050.5 112.2 1048.6 112.4 1036.8 112.7 1009.0 113.0 965.2 113.3 912.1 113.5 861.0 113.8 824.1 114.1 810.8 114.3 824.6 114.6 861.7 114.9 912.7 115.1 965.3 115.4 1008.5 115.7 1035.8 115.9 1047.2 116.2 1048.8 116.5 1047.0 116.8 1035.4 117.0 1008.2 117.3 965.4 117.6 913.5 117.8 863.6 118.1 827.5 118.4 814.6 118.6 828.0 118.9 864.2 119.2 914.1 119.4 965.5 119.7 1007.7 120.0 1034.4 120.3 1045.6 120.5 1047.2 120.8 1045.4 121.1 1034.1 121.3 1007.5 121.6 965.6 121.9 914.9 122.1 866.1 122.4 830.9 122.7 818.2 122.9 831.3 123.2 866.8 123.5 915.5 123.8 965.7 124.0 1006.9 124.3 1033.0 124.6 1043.9 124.8 1045.4 125.1 1043.7 125.4 1032.6 125.6 1006.6 125.9 965.8 126.2 916.3 126.4 868.6 126.7 834.2 127.0 821.8 127.3 834.6 127.5 869.2 127.8 916.8 128.1 965.9 128.3 1006.1 128.6 1031.6 128.9 1042.2 129.1 1043.7 129.4 1042.0 129.7 1031.2 129.9 1005.8 130.2 965.9 130.5 917.6 130.8 871.1 131.0 837.5 131.3 825.4 131.6 837.9 131.8 871.7 132.1 918.1 132.4 966.1 132.6 1005.4 132.9 1030.2 133.2 1040.6 133.4 1042.1 133.7 1040.4 134.0 1029.9 134.3 1005.2 134.5 966.2 134.8 919.0 135.1 873.5 135.3 840.7 135.6 828.9 135.9 841.1 136.1 874.1 136.4 919.5 136.7 966.4 136.9 1004.8 137.2 1029.1 137.5 1039.3 137.8 1040.8 138.0 1039.1 138.3 1028.9 138.6 1004.6 138.8 966.6 139.1 920.4 139.4 876.0 139.6 843.9 139.9 832.3 140.2 844.3 140.4 876.6 140.7 920.9 141.0 966.8 141.3 1004.3 141.5 1028.1 141.8 1038.0 142.1 1039.5 142.3 1037.9 142.6 1027.9 142.9 1004.2 143.1 967.0 143.4 921.8 143.7 878.4 144.0 847.0 144.2 835.7 144.5 847.4 144.8 879.0 145.0 922.4 145.3 967.2 145.6 1003.9 145.8 1027.2 146.1 1036.9 146.4 1038.3 146.6 1036.7 146.9 1026.9 147.2 1003.8 147.5 967.4 147.7 923.3 148.0 880.8 148.3 850.1 148.5 839.1 148.8 850.5 149.1 881.4 149.3 923.8 149.6 967.6 149.9 1003.5 150.1 1026.3 150.4 1035.8 150.7 1037.2 151.0 1035.6 151.2 1026.1 151.5 1003.4 151.8 967.8 152.0 924.7 152.3 883.1 152.6 853.2 152.8 842.4 153.1 853.5 153.4 883.7 153.6 925.2 153.9 968.1 154.2 1003.2 154.5 1025.4 154.7 1034.7 155.0 1036.1 155.3 1034.6 155.5 1025.2 155.8 1003.1 156.1 968.3 156.3 926.1 156.6 885.5 156.9 856.1 157.1 845.6 157.4 856.5 157.7 886.0 158.0 926.6 158.2 968.5 158.5 1002.9 158.8 1024.6 159.0 1033.7 159.3 1035.0 159.6 1033.6 159.8 1024.4 160.1 1002.8 160.4 968.7 160.6 927.5 160.9 887.8 161.2 859.1 161.5 848.8 161.7 859.5 162.0 888.3 162.3 928.0 162.5 969.0 162.8 1002.6 163.1 1023.8 163.3 1032.7 163.6 1034.0 163.9 1032.6 164.1 1023.6 164.4 1002.5 164.7 969.2 165.0 928.9 165.2 890.0 165.5 862.0 165.8 851.9 166.0 862.4 166.3 890.6 166.6 929.4 166.8 969.4 167.1 1002.3 167.4 1023.0 167.6 1031.7 167.9 1033.0 168.2 1031.6 168.5 1022.8 168.7 1002.1 169.0 969.6 169.3 930.2 169.5 892.2 169.8 864.9 170.1 855.0 170.3 865.2 170.6 892.8 170.9 930.7 171.1 969.8 171.4 1001.9 171.7 1022.2 172.0 1030.7 172.2 1031.9 172.5 1030.6 172.8 1022.0 173.0 1001.8 173.3 970.0 173.6 931.5 173.8 894.4 174.1 867.7 174.4 858.1 174.6 868.0 174.9 895.0 175.2 932.0 175.5 970.2 175.7 1001.5 176.0 1021.3 176.3 1029.6 176.5 1030.8 176.8 1029.5 177.1 1021.1 177.3 1001.4 177.6 970.4 177.9 932.8 178.1 896.6 178.4 870.4 178.7 861.0 179.0 870.8 179.2 897.1 179.5 933.2 179.8 970.5 180.0 1001.1 180.3 1020.5 180.6 1028.6 180.8 1029.7 181.1 1028.4 181.4 1020.3 181.6 1001.0 181.9 970.7 182.2 934.0 182.5 898.7 182.7 873.2 183.0 864.0 183.3 873.5 183.5 899.2 183.8 934.5 184.1 970.9 184.3 1000.7 184.6 1019.6 184.9 1027.5 185.1 1028.6 185.4 1027.4 185.7 1019.4 186.0 1000.6 186.2 971.0 186.5 935.2 186.8 900.7 187.0 875.9 187.3 866.9 187.6 876.2 187.8 901.2 188.1 935.7 188.4 971.2 188.6 1000.3 188.9 1018.7 189.2 1026.4 189.5 1027.6 189.7 1026.3 190.0 1018.5 190.3 1000.2 190.5 971.3 190.8 936.4 191.1 902.8 191.3 878.5 191.6 869.8 191.9 878.8 192.1 903.3 192.4 936.8 192.7 971.5 193.0 999.9 193.2 1017.9 193.5 1025.4 193.8 1026.5 194.0 1025.3 194.3 1017.7 194.6 999.8 194.8 971.7 195.1 937.6 195.4 904.8 195.6 881.1 195.9 872.6 196.2 881.4 196.5 905.3 196.7 938.0 197.0 971.8 197.3 999.6 197.5 1017.1 197.8 1024.4 198.1 1025.5 198.3 1024.3 198.6 1016.9 198.9 999.5 199.1 972.0 199.4 938.8 199.7 906.7 200.0 883.7 200.2 875.3 200.5 884.0 200.8 907.2 201.0 939.2 201.3 972.2 201.6 999.2 201.8 1016.3 202.1 1023.5 202.4 1024.5 202.6 1023.4 202.9 1016.1 203.2 999.1 203.5 972.3 203.7 939.9 204.0 908.7 204.3 886.2 204.5 878.1 204.8 886.5 205.1 909.2 205.3 940.3 205.6 972.5 205.9 998.9 206.1 1015.5 206.4 1022.5 206.7 1023.5 207.0 1022.4 207.2 1015.3 207.5 998.7 207.8 972.6 208.0 941.0 208.3 910.6 208.6 888.7 208.8 880.8 209.1 889.0 209.4 911.1 209.6 941.5 209.9 972.8 210.2 998.5 210.5 1014.8 210.7 1021.5 211.0 1022.5 211.3 1021.4 211.5 1014.6 211.8 998.4 212.1 973.0 212.3 942.2 212.6 912.5 212.9 891.1 213.2 883.4 213.4 891.4 213.7 913.0 214.0 942.6 214.2 973.1 214.5 998.2 214.8 1014.0 215.0 1020.7 215.3 1021.6 215.6 1020.6 215.8 1013.9 216.1 998.1 216.4 973.3 216.7 943.3 216.9 914.4 217.2 893.5 217.5 886.0 217.7 893.8 218.0 914.8 218.3 943.7 218.5 973.5 218.8 998.0 219.1 1013.4 219.3 1019.9 219.6 1020.8 219.9 1019.8 220.2 1013.3 220.4 997.9 220.7 973.7 221.0 944.4 221.2 916.2 221.5 895.9 221.8 888.6 222.0 896.2 222.3 916.7 222.6 944.9 222.8 974.0 223.1 997.9 223.4 1012.9 223.7 1019.3 223.9 1020.2 224.2 1019.2 224.5 1012.8 224.7 997.8 225.0 974.2 225.3 945.6 225.5 918.1 225.8 898.2 226.1 891.1 226.3 898.5 226.6 918.6 226.9 946.1 227.2 974.5 227.4 997.8 227.7 1012.6 228.0 1018.7 228.2 1019.6 228.5 1018.7 228.8 1012.5 229.0 997.8 229.3 974.8 229.6 946.9 229.8 920.0 230.1 900.6 230.4 893.6 230.7 900.8 230.9 920.4 231.2 947.3 231.5 975.1 231.7 997.8 232.0 1012.2 232.3 1018.3 232.5 1019.2 232.8 1018.2 233.1 1012.1 233.3 997.8 233.6 975.3 233.9 948.1 234.2 921.8 234.4 902.8 234.7 896.0 235.0 903.1 235.2 922.2 235.5 948.5 235.8 975.6 236.0 997.9 236.3 1011.9 236.6 1017.8 236.8 1018.7 237.1 1017.8 237.4 1011.9 237.7 997.9 237.9 975.9 238.2 949.3 238.5 923.6 238.7 905.1 239.0 898.4 239.3 905.4 239.5 924.1 239.8 949.7 240.1 976.2 240.3 997.9 240.6 1011.7 240.9 1017.5 241.2 1018.3 241.4 1017.4 241.7 1011.6 242.0 998.0 242.2 976.5 242.5 950.5 242.8 925.4 243.0 907.3 243.3 900.8 243.6 907.6 243.8 925.8 244.1 950.9 244.4 976.8 244.7 998.1 244.9 1011.5 245.2 1017.1 245.5 1018.0 245.7 1017.1 246.0 1011.5 246.3 998.1 246.5 977.1 246.8 951.7 247.1 927.2 247.3 909.5 247.6 903.2 247.9 909.8 248.2 927.6 248.4 952.1 248.7 977.4 249.0 998.2 249.2 1011.3 249.5 1016.9 249.8 1017.7 250.0 1016.8 250.3 1011.3 250.6 998.3 250.8 977.8 251.1 952.9 251.4 928.9 251.7 911.7 251.9 905.5 252.2 911.9 252.5 929.4 252.7 953.3 253.0 978.1 253.3 998.4 253.5 1011.2 253.8 1016.6 254.1 1017.4 254.3 1016.5 254.6 1011.2 254.9 998.4 255.2 978.4 255.4 954.1 255.7 930.7 256.0 913.8 256.2 907.7 256.5 914.0 256.8 931.1 257.0 954.5 257.3 978.7 257.6 998.5 257.8 1011.0 258.1 1016.3 258.4 1017.1 258.7 1016.3 258.9 1011.0 259.2 998.6 259.5 979.0 259.7 955.2 260.0 932.4 260.3 915.9 260.5 909.9 260.8 916.1 261.1 932.8 261.3 955.7 261.6 979.3 261.9 998.7 262.2 1010.9 262.4 1016.1 262.7 1016.8 263.0 1016.0 263.2 1010.9 263.5 998.7 263.8 979.6 264.0 956.4 264.3 934.0 264.6 917.9 264.8 912.1 265.1 918.2 265.4 934.5 265.7 956.8 265.9 979.9 266.2 998.9 266.5 1010.8 266.7 1015.9 267.0 1016.6 267.3 1015.9 267.5 1010.8 267.8 998.9 268.1 980.2 268.3 957.6 268.6 935.7 268.9 920.0 269.2 914.3 269.4 920.2 269.7 936.1 270.0 958.0 270.2 980.6 270.5 999.1 270.8 1010.8 271.0 1015.8 271.3 1016.5 271.6 1015.7 271.8 1010.8 272.1 999.2 272.4 980.9 272.7 958.7 272.9 937.4 273.2 922.0 273.5 916.4 273.7 922.2 274.0 937.8 274.3 959.2 274.5 981.3 274.8 999.4 275.1 1010.9 275.3 1015.7 275.6 1016.5 275.9 1015.7 276.2 1010.9 276.4 999.6 276.7 981.7 277.0 959.9 277.2 939.0 277.5 923.9 277.8 918.5 278.0 924.2 278.3 939.4 278.6 960.4 278.8 982.0 279.1 999.8 279.4 1011.0 279.7 1015.8 279.9 1016.5 280.2 1015.8 280.5 1011.1 280.7 999.9 281.0 982.4 281.3 961.1 281.5 940.7 281.8 925.9 282.1 920.6 282.4 926.1 282.6 941.1 282.9 961.6 283.2 982.8 283.4 1000.1 283.7 1011.1 284.0 1015.8 284.2 1016.5 284.5 1015.8 284.8 1011.2 285.0 1000.3 285.3 983.1 285.6 962.3 285.9 942.3 286.1 927.8 286.4 922.6 286.7 928.0 286.9 942.7 287.2 962.7 287.5 983.5 287.7 1000.5 288.0 1011.3 288.3 1015.8 288.5 1016.5 288.8 1015.8 289.1 1011.3 289.4 1000.6 289.6 983.8 289.9 963.5 290.2 943.8 290.4 929.7 290.7 924.6 291.0 929.9 291.2 944.2 291.5 963.9 291.8 984.2 292.0 1000.8 292.3 1011.4 292.6 1015.8 292.9 1016.5 293.1 1015.8 293.4 1011.4 293.7 1001.0 293.9 984.5 294.2 964.6 294.5 945.4 294.7 931.6 295.0 926.6 295.3 931.8 295.5 945.8 295.8 965.0 296.1 984.9 296.4 1001.2 296.6 1011.5 296.9 1015.8 297.2 1016.5 297.4 1015.8 297.7 1011.5 298.0 1001.3 298.2 985.2 298.5 965.7 298.8 946.9 299.0 933.4 299.3 928.5 299.6 933.6 299.9 947.3 300.1 966.1 300.4 985.5 300.7 1001.5 300.9 1011.6 301.2 1015.8 301.5 1016.5 301.7 1015.8 302.0 1011.6 302.3 1001.6 302.5 985.9 302.8 966.8 303.1 948.4 303.4 935.2 303.6 930.4 303.9 935.4 304.2 948.8 304.4 967.2 304.7 986.2 305.0 1001.8 305.2 1011.6 305.5 1015.8 305.8 1016.4 306.0 1015.8 306.3 1011.7 306.6 1001.9 306.9 986.5 307.1 967.9 307.4 949.9 307.7 937.0 307.9 932.3 308.2 937.2 308.5 950.3 308.7 968.2 309.0 986.8 309.3 1002.0 309.5 1011.7 309.8 1015.7 310.1 1016.3 310.4 1015.7 310.6 1011.7 310.9 1002.1 311.2 987.1 311.4 968.9 311.7 951.3 312.0 938.7 312.2 934.2 312.5 938.9 312.8 951.7 313.0 969.3 313.3 987.4 313.6 1002.3 313.9 1011.7 314.1 1015.6 314.4 1016.2 314.7 1015.6 314.9 1011.7 315.2 1002.3 315.5 987.7 315.7 969.9 316.0 952.8 316.3 940.4 316.5 936.0 316.8 940.6 317.1 953.1 317.4 970.2 317.6 987.9 317.9 1002.5 318.2 1011.6 318.4 1015.5 318.7 1016.1 319.0 1015.5 319.2 1011.6 319.5 1002.5 319.8 988.2 320.0 970.9 320.3 954.1 320.6 942.1 320.9 937.8 321.1 942.3 321.4 954.5 321.7 971.2 321.9 988.5 322.2 1002.6 322.5 1011.6 322.7 1015.3 323.0 1015.9 323.3 1015.3 323.5 1011.6 323.8 1002.7 324.1 988.7 324.4 971.8 324.6 955.5 324.9 943.8 325.2 939.5 325.4 944.0 325.7 955.8 326.0 972.2 326.2 989.0 326.5 1002.8 326.8 1011.5 327.0 1015.2 327.3 1015.7 327.6 1015.2 327.9 1011.5 328.1 1002.9 328.4 989.2 328.7 972.7 328.9 956.8 329.2 945.4 329.5 941.3 329.7 945.6 330.0 957.2 330.3 973.1 330.5 989.5 330.8 1003.0 331.1 1011.5 331.4 1015.1 331.6 1015.6 331.9 1015.0 332.2 1011.5 332.4 1003.0 332.7 989.8 333.0 973.7 333.2 958.2 333.5 947.0 333.8 943.0 334.0 947.2 334.3 958.5 334.6 974.0 334.9 990.0 335.1 1003.1 335.4 1011.4 335.7 1014.9 335.9 1015.5 336.2 1014.9 336.5 1011.4 336.7 1003.2 337.0 990.3 337.3 974.6 337.5 959.5 337.8 948.6 338.1 944.7 338.4 948.8 338.6 959.8 338.9 974.9 339.2 990.5 339.4 1003.3 339.7 1011.4 340.0 1014.8 340.2 1015.3 340.5 1014.8 340.8 1011.4 341.0 1003.4 341.3 990.8 341.6 975.5 341.9 960.8 342.1 950.1 342.4 946.3 342.7 950.3 342.9 961.1 343.2 975.8 343.5 991.0 343.7 1003.5 344.0 1011.4 344.3 1014.7 344.5 1015.2 344.8 1014.7 345.1 1011.4 345.4 1003.6 345.6 991.3 345.9 976.4 346.2 962.0 346.4 951.7 346.7 948.0 347.0 951.9 347.2 962.3 347.5 976.7 347.8 991.6 348.0 1003.8 348.3 1011.5 348.6 1014.7 348.9 1015.2 349.1 1014.7 349.4 1011.5 349.7 1003.9 349.9 991.9 350.2 977.3 350.5 963.3 350.7 953.2 351.0 949.6 351.3 953.4 351.6 963.6 351.8 977.7 352.1 992.1 352.4 1004.0 352.6 1011.6 352.9 1014.7 353.2 1015.2 353.4 1014.7 353.7 1011.6 354.0 1004.2 354.2 992.4 354.5 978.2 354.8 964.6 355.1 954.7 355.3 951.2 355.6 954.9 355.9 964.9 356.1 978.6 356.4 992.7 356.7 1004.4 356.9 1011.7 357.2 1014.8 357.5 1015.3 357.7 1014.8 358.0 1011.8 358.3 1004.5 358.6 993.1 358.8 979.2 359.1 965.8 359.4 956.2 359.6 952.7 359.9 956.4 360.2 966.1 360.4 979.5 360.7 993.4 361.0 1004.7 361.2 1011.9 361.5 1015.0 361.8 1015.4 362.1 1015.0 362.3 1012.0 362.6 1004.9 362.9 993.7 363.1 980.1 363.4 967.1 363.7 957.6 363.9 954.3 364.2 957.8 364.5 967.4 364.7 980.5 365.0 994.0 365.3 1005.1 365.6 1012.2 365.8 1015.2 366.1 1015.6 366.4 1015.2 366.6 1012.3 366.9 1005.3 367.2 994.4 367.4 981.1 367.7 968.3 368.0 959.1 368.2 955.8 368.5 959.2 368.8 968.6 369.1 981.4 369.3 994.7 369.6 1005.6 369.9 1012.5 370.1 1015.4 370.4 1015.8 370.7 1015.4 370.9 1012.6 371.2 1005.8 371.5 995.0 371.7 982.0 372.0 969.5 372.3 960.5 372.6 957.3 372.8 960.7 373.1 969.8 373.4 982.4 373.6 995.4 373.9 1006.0 374.2 1012.8 374.4 1015.6 374.7 1016.1 375.0 1015.7 375.2 1012.9 375.5 1006.2 375.8 995.7 376.1 983.0 376.3 970.7 376.6 961.9 376.9 958.7 377.1 962.1 377.4 971.0 377.7 983.4 377.9 996.1 378.2 1006.5 378.5 1013.1 378.7 1015.9 379.0 1016.4 379.3 1016.0 379.6 1013.2 379.8 1006.7 380.1 996.4 380.4 983.9 380.6 971.9 380.9 963.3 381.2 960.2 381.4 963.4 381.7 972.2 382.0 984.3 382.2 996.8 382.5 1007.0 382.8 1013.5 383.1 1016.2 383.3 1016.7 383.6 1016.3 383.9 1013.6 384.1 1007.2 384.4 997.1 384.7 984.9 384.9 973.1 385.2 964.6 385.5 961.6 385.7 964.8 386.0 973.4 386.3 985.2 386.6 997.4 386.8 1007.5 387.1 1013.8 387.4 1016.5 387.6 1016.9 387.9 1016.6 388.2 1013.9 388.4 1007.7 388.7 997.8 389.0 985.8 389.2 974.3 389.5 966.0 389.8 963.0 390.1 966.1 390.3 974.6 390.6 986.2 390.9 998.1 391.1 1008.0 391.4 1014.2 391.7 1016.8 391.9 1017.2 392.2 1016.8 392.5 1014.3 392.7 1008.1 393.0 998.5 393.3 986.7 393.6 975.4 393.8 967.3 394.1 964.4 394.4 967.4 394.6 975.7 394.9 987.1 395.2 998.8 395.4 1008.4 395.7 1014.5 396.0 1017.1 396.2 1017.5 396.5 1017.1 396.8 1014.6 397.1 1008.6 397.3 999.1 397.6 987.6 397.9 976.5 398.1 968.6 398.4 965.7 398.7 968.7 398.9 976.8 399.2 987.9 399.5 999.4 399.7 1008.8 400.0 1014.8 400.3 1017.3 400.6 1017.7 400.8 1017.3 401.1 1014.9 401.4 1009.0 401.6 999.7 401.9 988.5 402.2 977.6 402.4 969.8 402.7 967.0 403.0 970.0 403.2 977.9 403.5 988.8 403.8 1000.0 404.1 1009.2 404.3 1015.1 404.6 1017.5 404.9 1017.9 405.1 1017.6 405.4 1015.1 405.7 1009.4 405.9 1000.3 406.2 989.3 406.5 978.7 406.7 971.1 407.0 968.4 407.3 971.2 407.6 979.0 407.8 989.6 408.1 1000.6 408.4 1009.6 408.6 1015.3 408.9 1017.8 409.2 1018.1 409.4 1017.8 409.7 1015.4 410.0 1009.8 410.2 1000.9 410.5 990.2 410.8 979.8 411.1 972.3 411.3 969.7 411.6 972.5 411.9 980.1 412.1 990.5 412.4 1001.2 412.7 1010.0 412.9 1015.6 413.2 1018.0 413.5 1018.3 413.7 1018.0 414.0 1015.7 414.3 1010.2 414.6 1001.5 414.8 991.0 415.1 980.8 415.4 973.5 415.6 970.9 415.9 973.7 416.2 981.1 416.4 991.3 416.7 1001.8 417.0 1010.4 417.2 1015.9 417.5 1018.2 417.8 1018.6 418.1 1018.2 418.3 1016.0 418.6 1010.6 418.9 1002.1 419.1 991.8 419.4 981.9 419.7 974.7 419.9 972.2 420.2 974.9 420.5 982.1 420.8 992.1 421.0 1002.4 421.3 1010.8 421.6 1016.2 421.8 1018.4 422.1 1018.8 422.4 1018.4 422.6 1016.2 422.9 1011.0 423.2 1002.7 423.4 992.6 423.7 982.9 424.0 975.9 424.3 973.4 424.5 976.1 424.8 983.2 425.1 992.9 425.3 1002.9 425.6 1011.2 425.9 1016.4 426.1 1018.6 426.4 1019.0 426.7 1018.6 426.9 1016.5 427.2 1011.3 427.5 1003.2 427.8 993.4 428.0 983.9 428.3 977.1 428.6 974.6 428.8 977.2 429.1 984.2 429.4 993.7 429.6 1003.5 429.9 1011.6 430.2 1016.7 430.4 1018.8 430.7 1019.2 431.0 1018.9 431.3 1016.7 431.5 1011.7 431.8 1003.8 432.1 994.2 432.3 984.9 432.6 978.2 432.9 975.8 433.1 978.4 433.4 985.1 433.7 994.5 433.9 1004.1 434.2 1011.9 434.5 1016.9 434.8 1019.1 435.0 1019.4 435.3 1019.1 435.6 1017.0 435.8 1012.1 436.1 1004.3 436.4 994.9 436.6 985.9 436.9 979.3 437.2 977.0 437.4 979.5 437.7 986.1 438.0 995.2 438.3 1004.6 438.5 1012.3 438.8 1017.2 439.1 1019.3 439.3 1019.6 439.6 1019.3 439.9 1017.3 440.1 1012.5 440.4 1004.9 440.7 995.7 440.9 986.8 441.2 980.5 441.5 978.2 441.8 980.6 442.0 987.1 442.3 996.0 442.6 1005.2 442.8 1012.7 443.1 1017.5 443.4 1019.5 443.6 1019.8 443.9 1019.5 444.2 1017.5 444.4 1012.8 444.7 1005.4 445.0 996.4 445.3 987.8 445.5 981.5 445.8 979.3 446.1 981.7 446.3 988.0 446.6 996.7 446.9 1005.7 447.1 1013.1 447.4 1017.7 447.7 1019.7 447.9 1020.0 448.2 1019.7 448.5 1017.8 448.8 1013.2 449.0 1006.0 449.3 997.2 449.6 988.7 449.8 982.6 450.1 980.4 450.4 982.7 450.6 988.9 450.9 997.4 451.2 1006.2 451.4 1013.4 451.7 1018.0 452.0 1019.9 452.3 1020.2 452.5 1019.9 452.8 1018.1 453.1 1013.6 453.3 1006.5 453.6 997.9 453.9 989.6 454.1 983.7 454.4 981.5 454.7 983.8 454.9 989.9 455.2 998.2 455.5 1006.8 455.8 1013.8 456.0 1018.3 456.3 1020.1 456.6 1020.4 456.8 1020.2 457.1 1018.3 457.4 1013.9 457.6 1007.0 457.9 998.6 458.2 990.5 458.4 984.7 458.7 982.6 459.0 984.8 459.3 990.8 459.5 998.9 459.8 1007.3 460.1 1014.2 460.3 1018.6 460.6 1020.4 460.9 1020.7 461.1 1020.4 461.4 1018.6 461.7 1014.3 461.9 1007.6 462.2 999.4 462.5 991.4 462.8 985.7 463.0 983.7 463.3 985.9 463.6 991.7 463.8 999.6 464.1 1007.8 464.4 1014.6 464.6 1018.9 464.9 1020.7 465.2 1021.0 465.4 1020.7 465.7 1019.0 466.0 1014.8 466.3 1008.1 466.5 1000.1 466.8 992.3 467.1 986.8 467.3 984.8 467.6 986.9 467.9 992.6 468.1 1000.4 468.4 1008.4 468.7 1015.0 468.9 1019.2 469.2 1021.0 469.5 1021.3 469.8 1021.0 470.0 1019.3 470.3 1015.2 470.6 1008.7 470.8 1000.8 471.1 993.2 471.4 987.8 471.6 985.8 471.9 987.9 472.2 993.4 472.4 1001.1 472.7 1009.0 473.0 1015.4 473.3 1019.5 473.5 1021.3 473.8 1021.5 474.1 1021.3 474.3 1019.6 474.6 1015.6 474.9 1009.2 475.1 1001.5 475.4 994.1 475.7 988.7 475.9 986.8 476.2 988.9 476.5 994.3 476.8 1001.8 477.0 1009.5 477.3 1015.8 477.6 1019.9 477.8 1021.5 478.1 1021.8 478.4 1021.6 478.6 1019.9 478.9 1016.0 479.2 1009.8 479.4 1002.2 479.7 994.9 480.0 989.7 480.3 987.8 480.5 989.8 480.8 995.2 481.1 1002.5 481.3 1010.0 481.6 1016.2 481.9 1020.2 482.1 1021.8 482.4 1022.1 482.7 1021.9 482.9 1020.2 483.2 1016.4 483.5 1010.3 483.8 1002.9 484.0 995.8 484.3 990.7 484.6 988.8 484.8 990.8 485.1 996.0 485.4 1003.1 485.6 1010.5 485.9 1016.6 486.2 1020.4 486.4 1022.1 486.7 1022.3 487.0 1022.1 487.3 1020.5 487.5 1016.7 487.8 1010.8 488.1 1003.6 488.3 996.6 488.6 991.6 488.9 989.8 489.1 991.7 489.4 996.8 489.7 1003.8 490.0 1011.0 490.2 1016.9 490.5 1020.7 490.8 1022.3 491.0 1022.5 491.3 1022.3 491.6 1020.7 491.8 1017.1 492.1 1011.2 492.4 1004.2 492.6 997.4 492.9 992.5 493.2 990.8 493.5 992.6 493.7 997.6 494.0 1004.4 494.3 1011.5 494.5 1017.2 494.8 1020.9 495.1 1022.4 495.3 1022.7 495.6 1022.4 495.9 1020.9 496.1 1017.3 496.4 1011.7 496.7 1004.8 497.0 998.2 497.2 993.4 497.5 991.7 497.8 993.5 498.0 998.4 498.3 1005.0 498.6 1011.9 498.8 1017.5 499.1 1021.0 499.4 1022.5 499.6 1022.8 499.9 1022.5 500.2 1021.1 500.5 1017.6 500.7 1012.1 501.0 1005.4 501.3 998.9 501.5 994.3 501.8 992.7 502.1 994.4 502.3 999.1 502.6 1005.6 502.9 1012.2 503.1 1017.7 503.4 1021.1 503.7 1022.6 504.0 1022.8 504.2 1022.6 504.5 1021.1 504.8 1017.7 505.0 1012.4 505.3 1005.9 505.6 999.7 505.8 995.2 506.1 993.6 506.4 995.3 506.6 999.8 506.9 1006.1 507.2 1012.6 507.5 1017.8 507.7 1021.2 508.0 1022.6 508.3 1022.8 508.5 1022.6 508.8 1021.2 509.1 1017.9 509.3 1012.7 509.6 1006.4 509.9 1000.4 510.1 996.0 510.4 994.5 510.7 996.1 511.0 1000.6 511.2 1006.6 511.5 1012.9 511.8 1018.0 512.0 1021.2 512.3 1022.6 512.6 1022.8 512.8 1022.6 513.1 1021.2 513.4 1018.1 513.6 1013.0 513.9 1006.9 514.2 1001.1 514.5 996.9 514.7 995.4 515.0 997.0 515.3 1001.3 515.5 1007.1 515.8 1013.2 516.1 1018.1 516.3 1021.3 516.6 1022.6 516.9 1022.8 517.1 1022.6 517.4 1021.3 517.7 1018.2 518.0 1013.3 518.2 1007.4 518.5 1001.8 518.8 997.7 519.0 996.3" stroke="#231f20" stroke-width="2.35" fill="none" stroke-linejoin="miter" stroke-miterlimit="2"/>
<path d="M107.60 948.31 109.67 948.76 111.73 949.20 113.80 949.65 115.87 950.09 117.94 950.54 120.00 950.97 122.07 951.41 124.14 951.84 126.21 952.27 128.27 952.70 130.34 953.12 132.41 953.55 134.48 953.96 136.54 954.38 138.61 954.79 140.68 955.20 142.74 955.61 144.81 956.01 146.88 956.41 148.95 956.80 151.01 957.20 153.08 957.59 155.15 957.97 157.22 958.35 159.28 958.73 161.35 959.10 163.42 959.47 165.49 959.84 167.55 960.20 169.62 960.56 171.69 960.91 173.75 961.26 175.82 961.61 177.89 961.95 179.96 962.28 182.02 962.61 184.09 962.93 186.16 963.26 188.23 963.57 190.29 963.89 192.36 964.20 194.43 964.50 196.50 964.81 198.56 965.11 200.63 965.41 202.70 965.71 204.76 966.00 206.83 966.30 208.90 966.59 210.97 966.88 213.03 967.17 215.10 967.46 217.17 967.75 219.24 968.04 221.30 968.34 223.37 968.63 225.44 968.92 227.51 969.21 229.57 969.51 231.64 969.81 233.71 970.11 235.77 970.41 237.84 970.71 239.91 971.02 241.98 971.33 244.04 971.64 246.11 971.95 248.18 972.27 250.25 972.60 252.31 972.93 254.38 973.26 256.45 973.60 258.52 973.95 260.58 974.29 262.65 974.64 264.72 975.00 266.78 975.36 268.85 975.71 270.92 976.08 272.99 976.44 275.05 976.80 277.12 977.17 279.19 977.53 281.26 977.90 283.32 978.26 285.39 978.63 287.46 978.99 289.53 979.35 291.59 979.71 293.66 980.07 295.73 980.43 297.79 980.78 299.86 981.13 301.93 981.48 304.00 981.82 306.06 982.15 308.13 982.49 310.20 982.81 312.27 983.13 314.33 983.45 316.40 983.76 318.47 984.06 320.54 984.35 322.60 984.64 324.67 984.92 326.74 985.19 328.81 985.46 330.87 985.73 332.94 985.99 335.01 986.25 337.07 986.51 339.14 986.77 341.21 987.03 343.28 987.28 345.34 987.53 347.41 987.78 349.48 988.02 351.55 988.26 353.61 988.50 355.68 988.74 357.75 988.98 359.82 989.21 361.88 989.44 363.95 989.67 366.02 989.89 368.08 990.11 370.15 990.33 372.22 990.55 374.29 990.77 376.35 990.98 378.42 991.19 380.49 991.39 382.56 991.60 384.62 991.80 386.69 991.99 388.76 992.19 390.83 992.38 392.89 992.57 394.96 992.76 397.03 992.94 399.09 993.12 401.16 993.30 403.23 993.48 405.30 993.65 407.36 993.83 409.43 994.00 411.50 994.17 413.57 994.35 415.63 994.52 417.70 994.69 419.77 994.85 421.84 995.02 423.90 995.19 425.97 995.35 428.04 995.52 430.10 995.68 432.17 995.84 434.24 995.99 436.31 996.15 438.37 996.30 440.44 996.45 442.51 996.60 444.58 996.75 446.64 996.89 448.71 997.03 450.78 997.17 452.85 997.31 454.91 997.44 456.98 997.57 459.05 997.69 461.11 997.82 463.18 997.94 465.25 998.05 467.32 998.16 469.38 998.27 471.45 998.38 473.52 998.48 475.59 998.57 477.65 998.67 479.72 998.75 481.79 998.84 483.86 998.92 485.92 999.00 487.99 999.08 490.06 999.16 492.12 999.24 494.19 999.31 496.26 999.38 498.33 999.45 500.39 999.52 502.46 999.59 504.53 999.65 506.60 999.71 508.66 999.76 510.73 999.82 512.80 999.87 514.87 999.91 516.93 999.96 519.00 1000.00 519.00 1015.20 516.93 1015.15 514.87 1015.10 512.80 1015.05 510.73 1014.99 508.66 1014.94 506.60 1014.89 504.53 1014.84 502.46 1014.79 500.39 1014.73 498.33 1014.68 496.26 1014.63 494.19 1014.57 492.12 1014.52 490.06 1014.47 487.99 1014.42 485.92 1014.36 483.86 1014.31 481.79 1014.26 479.72 1014.20 477.65 1014.15 475.59 1014.10 473.52 1014.04 471.45 1013.99 469.38 1013.93 467.32 1013.88 465.25 1013.82 463.18 1013.77 461.11 1013.71 459.05 1013.66 456.98 1013.60 454.91 1013.54 452.85 1013.49 450.78 1013.43 448.71 1013.38 446.64 1013.32 444.58 1013.27 442.51 1013.21 440.44 1013.15 438.37 1013.10 436.31 1013.04 434.24 1012.99 432.17 1012.93 430.10 1012.88 428.04 1012.82 425.97 1012.77 423.90 1012.71 421.84 1012.66 419.77 1012.60 417.70 1012.55 415.63 1012.50 413.57 1012.44 411.50 1012.39 409.43 1012.34 407.36 1012.29 405.30 1012.23 403.23 1012.18 401.16 1012.13 399.09 1012.08 397.03 1012.03 394.96 1011.98 392.89 1011.93 390.83 1011.88 388.76 1011.82 386.69 1011.77 384.62 1011.72 382.56 1011.67 380.49 1011.62 378.42 1011.57 376.35 1011.52 374.29 1011.47 372.22 1011.42 370.15 1011.37 368.08 1011.32 366.02 1011.27 363.95 1011.22 361.88 1011.17 359.82 1011.12 357.75 1011.08 355.68 1011.03 353.61 1010.98 351.55 1010.93 349.48 1010.89 347.41 1010.84 345.34 1010.80 343.28 1010.75 341.21 1010.71 339.14 1010.66 337.07 1010.62 335.01 1010.58 332.94 1010.53 330.87 1010.49 328.81 1010.45 326.74 1010.41 324.67 1010.37 322.60 1010.33 320.54 1010.30 318.47 1010.26 316.40 1010.22 314.33 1010.19 312.27 1010.16 310.20 1010.13 308.13 1010.10 306.06 1010.07 304.00 1010.04 301.93 1010.01 299.86 1009.98 297.79 1009.95 295.73 1009.92 293.66 1009.90 291.59 1009.87 289.53 1009.84 287.46 1009.81 285.39 1009.78 283.32 1009.75 281.26 1009.72 279.19 1009.69 277.12 1009.66 275.05 1009.63 272.99 1009.60 270.92 1009.57 268.85 1009.53 266.78 1009.50 264.72 1009.46 262.65 1009.42 260.58 1009.38 258.52 1009.34 256.45 1009.30 254.38 1009.25 252.31 1009.20 250.25 1009.16 248.18 1009.11 246.11 1009.05 244.04 1008.99 241.98 1008.93 239.91 1008.86 237.84 1008.78 235.77 1008.71 233.71 1008.62 231.64 1008.54 229.57 1008.45 227.51 1008.36 225.44 1008.27 223.37 1008.17 221.30 1008.07 219.24 1007.96 217.17 1007.86 215.10 1007.75 213.03 1007.64 210.97 1007.53 208.90 1007.42 206.83 1007.30 204.76 1007.19 202.70 1007.07 200.63 1006.95 198.56 1006.83 196.50 1006.71 194.43 1006.59 192.36 1006.47 190.29 1006.35 188.23 1006.23 186.16 1006.11 184.09 1005.99 182.02 1005.88 179.96 1005.76 177.89 1005.64 175.82 1005.53 173.75 1005.41 171.69 1005.30 169.62 1005.19 167.55 1005.08 165.49 1004.96 163.42 1004.85 161.35 1004.73 159.28 1004.62 157.22 1004.50 155.15 1004.38 153.08 1004.27 151.01 1004.15 148.95 1004.03 146.88 1003.91 144.81 1003.79 142.74 1003.67 140.68 1003.55 138.61 1003.42 136.54 1003.30 134.48 1003.18 132.41 1003.05 130.34 1002.93 128.27 1002.80 126.21 1002.68 124.14 1002.55 122.07 1002.42 120.00 1002.30 117.94 1002.17 115.87 1002.04 113.80 1001.91 111.73 1001.78 109.67 1001.65 107.60 1001.52Z" fill="#231f20"/>
<path d="M671.0 480.2 671.3 488.6 671.5 511.5 671.8 542.6 672.1 573.9 672.3 598.8 672.6 613.6 672.9 619.4 673.2 620.1 673.4 619.4 673.7 613.7 674.0 598.8 674.2 574.1 674.5 542.9 674.8 512.1 675.0 489.6 675.3 481.5 675.6 490.0 675.9 512.8 676.1 543.6 676.4 574.6 676.7 599.1 676.9 613.8 677.2 619.4 677.5 620.1 677.7 619.4 678.0 613.8 678.3 599.1 678.6 574.6 678.8 543.7 679.1 513.1 679.4 490.5 679.6 482.2 679.9 490.5 680.2 513.0 680.4 543.7 680.7 574.6 681.0 599.1 681.2 613.7 681.5 619.4 681.8 620.1 682.1 619.4 682.3 613.7 682.6 599.1 682.9 574.6 683.1 543.7 683.4 513.0 683.7 490.4 683.9 482.1 684.2 490.4 684.5 513.0 684.8 543.6 685.0 574.6 685.3 599.1 685.6 613.7 685.8 619.4 686.1 620.1 686.4 619.4 686.6 613.7 686.9 599.1 687.2 574.6 687.5 543.7 687.7 513.0 688.0 490.5 688.3 482.2 688.5 490.5 688.8 513.2 689.1 543.9 689.3 574.8 689.6 599.2 689.9 613.8 690.2 619.4 690.4 620.1 690.7 619.4 691.0 613.8 691.2 599.5 691.5 575.5 691.8 545.4 692.0 515.8 692.3 494.1 692.6 486.3 692.8 494.6 693.1 516.7 693.4 546.4 693.7 576.3 693.9 599.9 694.2 614.0 694.5 619.4 694.7 620.1 695.0 619.4 695.3 614.0 695.5 600.1 695.8 576.9 696.1 547.6 696.4 518.6 696.6 497.4 696.9 489.8 697.2 497.9 697.4 519.3 697.7 548.3 698.0 577.4 698.2 600.4 698.5 614.2 698.8 619.4 699.1 620.1 699.3 619.4 699.6 614.2 699.9 600.7 700.1 578.1 700.4 549.7 700.7 521.7 700.9 501.1 701.2 493.8 701.5 501.7 701.7 522.5 702.0 550.7 702.3 579.1 702.6 601.5 702.8 614.9 703.1 620.2 703.4 621.0 703.6 620.5 703.9 615.6 704.2 602.5 704.4 580.6 704.7 552.9 705.0 525.4 705.3 505.3 705.5 498.1 705.8 505.8 706.1 526.5 706.3 554.4 706.6 582.5 706.9 604.8 707.1 618.3 707.4 623.6 707.7 624.6 708.0 624.2 708.2 619.4 708.5 606.5 708.8 584.7 709.0 557.2 709.3 530.0 709.6 510.0 709.8 502.9 710.1 510.7 710.4 531.3 710.6 559.2 710.9 587.2 711.2 609.5 711.5 623.0 711.7 628.3 712.0 629.3 712.3 628.9 712.5 624.1 712.8 611.2 713.1 589.5 713.3 561.9 713.6 534.6 713.9 514.5 714.2 507.2 714.4 514.9 714.7 535.5 715.0 563.3 715.2 591.4 715.5 613.7 715.8 627.1 716.0 632.4 716.3 633.3 716.6 632.9 716.9 628.0 717.1 615.0 717.4 593.1 717.7 565.3 717.9 537.8 718.2 517.6 718.5 510.3 718.7 517.9 719.0 538.5 719.3 566.5 719.5 594.7 719.8 617.1 720.1 630.6 720.4 635.9 720.6 636.8 720.9 636.3 721.2 631.4 721.4 618.3 721.7 596.2 722.0 568.2 722.2 540.3 722.5 519.9 722.8 512.4 723.1 520.2 723.3 540.9 723.6 569.1 723.9 597.6 724.1 620.1 724.4 633.7 724.7 639.0 724.9 639.9 725.2 639.4 725.5 634.4 725.8 621.1 726.0 598.8 726.3 570.6 726.6 542.6 726.8 522.0 727.1 514.5 727.4 522.3 727.6 543.1 727.9 571.4 728.2 599.9 728.5 622.5 728.7 636.1 729.0 641.4 729.3 642.3 729.5 641.7 729.8 636.7 730.1 623.4 730.3 601.0 730.6 572.7 730.9 544.7 731.1 524.0 731.4 516.5 731.7 524.3 732.0 545.1 732.2 573.5 732.5 602.1 732.8 624.7 733.0 638.3 733.3 643.6 733.6 644.4 733.8 643.8 734.1 638.8 734.4 625.5 734.7 603.2 734.9 575.0 735.2 547.1 735.5 526.7 735.7 519.3 736.0 527.1 736.3 547.9 736.5 575.9 736.8 604.1 737.1 626.4 737.4 639.7 737.6 644.9 737.9 645.6 738.2 644.9 738.4 639.9 738.7 626.7 739.0 604.7 739.2 577.0 739.5 549.6 739.8 529.5 740.0 522.2 740.3 529.8 740.6 550.1 740.9 577.5 741.1 605.0 741.4 626.8 741.7 639.7 741.9 644.7 742.2 645.3 742.5 644.6 742.7 639.6 743.0 626.7 743.3 605.3 743.6 578.3 743.8 551.7 744.1 532.2 744.4 525.2 744.6 532.6 744.9 552.2 745.2 578.8 745.4 605.4 745.7 626.4 746.0 638.8 746.3 643.6 746.5 644.1 746.8 643.4 747.1 638.6 747.3 626.1 747.6 605.5 747.9 579.5 748.1 554.0 748.4 535.3 748.7 528.6 748.9 535.7 749.2 554.6 749.5 580.1 749.8 605.6 750.0 625.8 750.3 637.7 750.6 642.3 750.8 642.8 751.1 642.1 751.4 637.5 751.6 625.5 751.9 605.7 752.2 580.8 752.5 556.1 752.7 537.9 753.0 531.3 753.3 538.1 753.5 556.2 753.8 580.8 754.1 605.6 754.3 625.2 754.6 636.9 754.9 641.3 755.2 641.9 755.4 641.3 755.7 636.8 756.0 625.1 756.2 605.6 756.5 580.9 756.8 556.5 757.0 538.6 757.3 532.0 757.6 538.6 757.8 556.6 758.1 581.0 758.4 605.6 758.7 625.1 758.9 636.8 759.2 641.3 759.5 641.9 759.7 641.4 760.0 636.9 760.3 625.2 760.5 605.8 760.8 581.2 761.1 556.7 761.4 538.8 761.6 532.2 761.9 538.8 762.2 556.8 762.4 581.3 762.7 606.0 763.0 625.6 763.2 637.3 763.5 641.9 763.8 642.5 764.1 642.0 764.3 637.5 764.6 625.8 764.9 606.3 765.1 581.6 765.4 557.1 765.7 539.0 765.9 532.4 766.2 539.1 766.5 557.2 766.8 581.8 767.0 606.7 767.3 626.4 767.6 638.2 767.8 642.8 768.1 643.5 768.4 642.9 768.6 638.5 768.9 626.8 769.2 607.2 769.4 582.5 769.7 557.9 770.0 539.9 770.3 533.3 770.5 540.1 770.8 558.3 771.1 583.0 771.3 608.0 771.6 627.8 771.9 639.8 772.1 644.5 772.4 645.3 772.7 644.9 773.0 640.6 773.2 628.9 773.5 609.3 773.8 584.5 774.0 559.8 774.3 541.6 774.6 534.9 774.8 541.8 775.1 560.4 775.4 585.5 775.7 611.0 775.9 631.3 776.2 643.6 776.5 648.5 776.7 649.4 777.0 649.0 777.3 644.7 777.5 632.9 777.8 612.9 778.1 587.6 778.3 562.4 778.6 543.9 778.9 537.1 779.2 544.2 779.4 563.1 779.7 588.9 780.0 614.8 780.2 635.5 780.5 647.9 780.8 652.9 781.0 653.7 781.3 653.3 781.6 648.9 781.9 636.9 782.1 616.8 782.4 591.5 782.7 566.4 782.9 548.1 783.2 541.6 783.5 548.9 783.7 567.8 784.0 593.4 784.3 619.0 784.6 639.4 784.8 651.6 785.1 656.5 785.4 657.3 785.6 656.8 785.9 652.4 786.2 640.6 786.4 620.9 786.7 595.9 787.0 571.2 787.2 553.2 787.5 546.7 787.8 553.6 788.1 572.0 788.3 596.8 788.6 621.7 788.9 641.3 789.1 653.1 789.4 657.6 789.7 658.1 789.9 657.6 790.2 653.1 790.5 641.5 790.8 622.3 791.0 598.0 791.3 574.1 791.6 556.6 791.8 550.3 792.1 557.0 792.4 574.8 792.6 598.8 792.9 622.9 793.2 641.9 793.5 653.2 793.7 657.6 794.0 658.1 794.3 657.6 794.5 653.3 794.8 642.1 795.1 623.6 795.3 600.2 795.6 577.2 795.9 560.4 796.1 554.4 796.4 560.9 796.7 578.0 797.0 601.1 797.2 624.2 797.5 642.5 797.8 653.4 798.0 657.6 798.3 658.1 798.6 657.6 798.8 653.4 799.1 642.7 799.4 624.7 799.7 602.1 799.9 579.7 800.2 563.3 800.5 557.4 800.7 563.6 801.0 580.1 801.3 602.5 801.5 625.1 801.8 642.9 802.1 653.5 802.4 657.6 802.6 658.1 802.9 657.6 803.2 653.5 803.4 642.9 803.7 625.2 804.0 602.8 804.2 580.6 804.5 564.2 804.8 558.2 805.1 564.2 805.3 580.6 805.6 602.8 805.9 625.2 806.1 642.9 806.4 653.5 806.7 657.6 806.9 658.1 807.2 657.6 807.5 653.5 807.7 642.9 808.0 625.2 808.3 602.8 808.6 580.5 808.8 564.2 809.1 558.1 809.4 564.1 809.6 580.5 809.9 602.7 810.2 625.1 810.4 642.9 810.7 653.5 811.0 657.6 811.3 658.1 811.5 657.6 811.8 653.5 812.1 642.9 812.3 625.1 812.6 602.6 812.9 580.4 813.1 564.0 813.4 557.9 813.7 563.9 814.0 580.3 814.2 602.6 814.5 625.1 814.8 642.8 815.0 653.5 815.3 657.6 815.6 658.1 815.8 657.6 816.1 653.5 816.4 642.8 816.6 625.0 816.9 602.5 817.2 580.1 817.5 563.7 817.7 557.6 818.0 563.6 818.3 580.1 818.5 602.4 818.8 625.0 819.1 642.8 819.3 653.5 819.6 657.6 819.9 658.1 820.2 657.6 820.4 653.5 820.7 642.8 821.0 624.9 821.2 602.3 821.5 580.0 821.8 563.5 822.0 557.4 822.3 563.5 822.6 579.9 822.9 602.3 823.1 624.9 823.4 642.8 823.7 653.5 823.9 657.6 824.2 658.1 824.5 657.6 824.7 653.5 825.0 642.8 825.3 625.0 825.5 602.6 825.8 580.4 826.1 564.1 826.4 558.1 826.6 564.2 826.9 580.7 827.2 602.9 827.4 625.3 827.7 643.0 828.0 653.5 828.2 657.6 828.5 658.1 828.8 657.6 829.1 653.6 829.3 643.1 829.6 625.7 829.9 603.8 830.1 582.2 830.4 566.4 830.7 560.8 830.9 567.0 831.2 583.1 831.5 604.8 831.8 626.5 832.0 643.5 832.3 653.7 832.6 657.6 832.8 658.1 833.1 657.6 833.4 653.8 833.6 643.8 833.9 627.3 834.2 606.5 834.4 585.9 834.7 570.9 835.0 565.5 835.3 571.3 835.5 586.6 835.8 607.2 836.1 627.9 836.3 644.2 836.6 653.9 836.9 657.6 837.1 658.1 837.4 657.6 837.7 653.9 838.0 644.4 838.2 628.4 838.5 608.3 838.8 588.5 839.0 574.0 839.3 568.9 839.6 574.5 839.8 589.2 840.1 609.1 840.4 629.0 840.7 644.7 840.9 654.1 841.2 657.7 841.5 658.1 841.7 657.7 842.0 654.1 842.3 645.0 842.5 629.7 842.8 610.6 843.1 591.7 843.4 577.9 843.6 572.9 843.9 578.2 844.2 592.2 844.4 611.1 844.7 630.2 845.0 645.2 845.2 654.2 845.5 657.7 845.8 658.1 846.0 657.7 846.3 654.2 846.6 645.3 846.9 630.5 847.1 611.7 847.4 593.2 847.7 579.6 847.9 574.7 848.2 579.8 848.5 593.5 848.7 612.1 849.0 630.7 849.3 645.5 849.6 654.3 849.8 657.7 850.1 658.1 850.4 657.7 850.6 654.3 850.9 645.5 851.2 630.9 851.4 612.5 851.7 594.2 852.0 580.8 852.3 575.8 852.5 580.8 852.8 594.3 853.1 612.6 853.3 631.0 853.6 645.6 853.9 654.3 854.1 657.7 854.4 658.1 854.7 657.7 854.9 654.3 855.2 645.6 855.5 631.0 855.8 612.6 856.0 594.3 856.3 580.9 856.6 575.9 856.8 580.9 857.1 594.3 857.4 612.6 857.6 631.0 857.9 645.6 858.2 654.3 858.5 657.7 858.7 658.1 859.0 657.7 859.3 654.3 859.5 645.6 859.8 631.0 860.1 612.5 860.3 594.2 860.6 580.7 860.9 575.8 861.2 580.7 861.4 594.2 861.7 612.5 862.0 630.9 862.2 645.6 862.5 654.3 862.8 657.7 863.0 658.1 863.3 657.7 863.6 654.3 863.8 645.6 864.1 631.0 864.4 612.5 864.7 594.2 864.9 580.8 865.2 575.8 865.5 580.8 865.7 594.2 866.0 612.5 866.3 631.0 866.5 645.6 866.8 654.3 867.1 657.7 867.4 658.1 867.6 657.7 867.9 654.3 868.2 645.6 868.4 631.1 868.7 612.7 869.0 594.6 869.2 581.3 869.5 576.5 869.8 581.5 870.1 595.0 870.3 613.1 870.6 631.4 870.9 645.8 871.1 654.4 871.4 657.7 871.7 658.1 871.9 657.7 872.2 654.4 872.5 645.9 872.7 631.7 873.0 613.8 873.3 596.1 873.6 583.2 873.8 578.5 874.1 583.4 874.4 596.5 874.6 614.2 874.9 632.0 875.2 646.1 875.4 654.5 875.7 657.7 876.0 658.1 876.3 657.7 876.5 654.5 876.8 646.2 877.1 632.4 877.3 615.0 877.6 597.8 877.9 585.2 878.1 580.6 878.4 585.4 878.7 598.1 879.0 615.3 879.2 632.7 879.5 646.4 879.8 654.5 880.0 657.7 880.3 658.1 880.6 657.7 880.8 654.6 881.1 646.4 881.4 632.9 881.7 615.8 881.9 598.9 882.2 586.5 882.5 582.0 882.7 586.7 883.0 599.2 883.3 616.1 883.5 633.1 883.8 646.6 884.1 654.6 884.3 657.7 884.6 658.1 884.9 657.7 885.2 654.6 885.4 646.6 885.7 633.3 886.0 616.6 886.2 600.0 886.5 587.9 886.8 583.6 887.0 588.2 887.3 600.4 887.6 617.0 887.9 633.7 888.1 646.8 888.4 654.7 888.7 657.7 888.9 658.1 889.2 657.7 889.5 654.7 889.7 646.9 890.0 633.9 890.3 617.5 890.6 601.2 890.8 589.2 891.1 584.7 891.4 589.2 891.6 601.2 891.9 617.5 892.2 633.9 892.4 646.9 892.7 654.7 893.0 657.7 893.2 658.1 893.5 657.7 893.8 654.7 894.1 646.9 894.3 633.9 894.6 617.4 894.9 601.1 895.1 589.1 895.4 584.7 895.7 589.1 895.9 601.1 896.2 617.4 896.5 633.9 896.8 646.9 897.0 654.7 897.3 657.7 897.6 658.1 897.8 657.7 898.1 654.7 898.4 646.9 898.6 633.9 898.9 617.4 899.2 601.1 899.5 589.0 899.7 584.6 900.0 589.0 900.3 601.0 900.5 617.3 900.8 633.8 901.1 646.9 901.3 654.7 901.6 657.7 901.9 658.1 902.1 657.7 902.4 654.7 902.7 646.9 903.0 633.8 903.2 617.3 903.5 600.9 903.8 588.9 904.0 584.4 904.3 588.8 904.6 600.9 904.8 617.3 905.1 633.8 905.4 646.8 905.7 654.7 905.9 657.7 906.2 658.1 906.5 657.7 906.7 654.7 907.0 646.8 907.3 633.7 907.5 617.2 907.8 600.8 908.1 588.7 908.4 584.3 908.6 588.7 908.9 600.8 909.2 617.2 909.4 633.7 909.7 646.8 910.0 654.7 910.2 657.7 910.5 658.1 910.8 657.7 911.0 654.7 911.3 646.8 911.6 633.7 911.9 617.2 912.1 600.8 912.4 588.7 912.7 584.2 912.9 588.7 913.2 600.8 913.5 617.2 913.7 633.7 914.0 646.8 914.3 654.6 914.6 657.7 914.8 658.1 915.1 657.7 915.4 654.6 915.6 646.8 915.9 633.7 916.2 617.2 916.4 600.9 916.7 588.9 917.0 584.5 917.3 589.1 917.5 601.2 917.8 617.5 918.1 634.0 918.3 646.9 918.6 654.7 918.9 657.7 919.1 658.1 919.4 657.7 919.7 654.7 920.0 647.1 920.2 634.4 920.5 618.5 920.8 602.7 921.0 591.2 921.3 587.0 921.6 591.5 921.8 603.2 922.1 619.0 922.4 634.8 922.6 647.3 922.9 654.8 923.2 657.7 923.5 658.0 923.7 657.7 924.0 654.8 924.3 647.5 924.5 635.2 924.8 619.8 925.1 604.5 925.3 593.4 925.6 589.4 925.9 593.6 926.2 604.9 926.4 620.2 926.7 635.6 927.0 647.7 927.2 654.9 927.5 657.7 927.8 658.0 928.0 657.7 928.3 654.9 928.6 647.8 928.9 635.9 929.1 620.9 929.4 606.1 929.7 595.3 929.9 591.4 930.2 595.5 930.5 606.4 930.7 621.2 931.0 636.1 931.3 647.9 931.5 655.0 931.8 657.7 932.1 658.0 932.4 657.7 932.6 655.0 932.9 647.9 933.2 636.1 933.4 621.3 933.7 606.6 934.0 595.7 934.2 591.7 934.5 595.7 934.8 606.6 935.1 621.3 935.3 636.2 935.6 647.9 935.9 655.0 936.1 657.7 936.4 658.0 936.7 657.7 936.9 655.0 937.2 647.9 937.5 636.2 937.8 621.3 938.0 606.6 938.3 595.8 938.6 591.8 938.8 595.8 939.1 606.6 939.4 621.3 939.6 636.2 939.9 647.9 940.2 655.0 940.4 657.7 940.7 658.0 941.0 657.7 941.3 655.0 941.5 647.9 941.8 636.2 942.1 621.3 942.3 606.6 942.6 595.8 942.9 591.8 943.1 595.8 943.4 606.6 943.7 621.3 944.0 636.2 944.2 647.9 944.5 654.9 944.8 657.7 945.0 658.0 945.3 657.7 945.6 654.9 945.8 647.9 946.1 636.2 946.4 621.3 946.7 606.6 946.9 595.8 947.2 591.8 947.5 595.8 947.7 606.6 948.0 621.3 948.3 636.2 948.5 647.9 948.8 654.9 949.1 657.6 949.3 658.0 949.6 657.6 949.9 654.9 950.2 647.9 950.4 636.2 950.7 621.3 951.0 606.6 951.2 595.8 951.5 591.8 951.8 595.8 952.0 606.6 952.3 621.3 952.6 636.2 952.9 647.9 953.1 654.9 953.4 657.6 953.7 658.0 953.9 657.6 954.2 654.9 954.5 647.9 954.7 636.2 955.0 621.3 955.3 606.6 955.6 595.8 955.8 591.9 956.1 595.8 956.4 606.7 956.6 621.4 956.9 636.2 957.2 647.9 957.4 654.9 957.7 657.6 958.0 658.0 958.3 657.6 958.5 654.9 958.8 647.9 959.1 636.2 959.3 621.4 959.6 606.8 959.9 596.0 960.1 592.1 960.4 596.1 960.7 607.0 960.9 621.6 961.2 636.4 961.5 648.0 961.8 655.0 962.0 657.6 962.3 658.0 962.6 657.6 962.8 655.0 963.1 648.1 963.4 636.7 963.6 622.4 963.9 608.2 964.2 597.9 964.5 594.2 964.7 598.1 965.0 608.6 965.3 622.8 965.5 637.1 965.8 648.3 966.1 655.0 966.3 657.6 966.6 658.0 966.9 657.6 967.2 655.1 967.4 648.4 967.7 637.4 968.0 623.4 968.2 609.7 968.5 599.6 968.8 595.9 969.0 599.8 969.3 610.0 969.6 623.8 969.8 637.6 970.1 648.6 970.4 655.1 970.7 657.6 970.9 658.0 971.2 657.6 971.5 655.1 971.7 648.7 972.0 637.9 972.3 624.4 972.5 611.1 972.8 601.3 973.1 597.8 973.4 601.5 973.6 611.4 973.9 624.8 974.2 638.3 974.4 648.9 974.7 655.2 975.0 657.6 975.2 657.9 975.5 657.6 975.8 655.2 976.1 648.9 976.3 638.5 976.6 625.3 976.9 612.2 977.1 602.5 977.4 599.0 977.7 602.6 977.9 612.2 978.2 625.3 978.5 638.5 978.7 649.0 979.0 655.2 979.3 657.6 979.6 657.9 979.8 657.6 980.1 655.2 980.4 649.0 980.6 638.5 980.9 625.4 981.2 612.3 981.4 602.7 981.7 599.2 982.0 602.7 982.3 612.3 982.5 625.4 982.8 638.6 983.1 649.0 983.3 655.2 983.6 657.6 983.9 657.9 984.1 657.6 984.4 655.2 984.7 649.0 985.0 638.6 985.2 625.4 985.5 612.4 985.8 602.8 986.0 599.2 986.3 602.8 986.6 612.4 986.8 625.4 987.1 638.6 987.4 649.0 987.6 655.2 987.9 657.6 988.2 657.9 988.5 657.6 988.7 655.2 989.0 649.0 989.3 638.6 989.5 625.4 989.8 612.4 990.1 602.8 990.3 599.2 990.6 602.8 990.9 612.4 991.2 625.4 991.4 638.6 991.7 649.0 992.0 655.2 992.2 657.6 992.5 657.9 992.8 657.6 993.0 655.2 993.3 649.0 993.6 638.6 993.9 625.4 994.1 612.4 994.4 602.8 994.7 599.3 994.9 602.8 995.2 612.4 995.5 625.4 995.7 638.6 996.0 649.0 996.3 655.2 996.6 657.6 996.8 657.9 997.1 657.6 997.4 655.2 997.6 649.0 997.9 638.6 998.2 625.4 998.4 612.4 998.7 602.9 999.0 599.3 999.2 602.9 999.5 612.5 999.8 625.5 1000.1 638.6 1000.3 649.0 1000.6 655.2 1000.9 657.6 1001.1 657.9 1001.4 657.6 1001.7 655.2 1001.9 649.0 1002.2 638.6 1002.5 625.5 1002.8 612.6 1003.0 603.0 1003.3 599.6 1003.6 603.2 1003.8 612.8 1004.1 625.7 1004.4 638.8 1004.6 649.1 1004.9 655.2 1005.2 657.6 1005.5 657.9 1005.7 657.6 1006.0 655.2 1006.3 649.2 1006.5 639.3 1006.8 626.7 1007.1 614.4 1007.3 605.4 1007.6 602.1 1007.9 605.6 1008.1 614.8 1008.4 627.2 1008.7 639.6 1009.0 649.4 1009.2 655.3 1009.5 657.6 1009.8 657.9 1010.0 657.6 1010.3 655.3 1010.6 649.5 1010.8 639.8 1011.1 627.6 1011.4 615.5 1011.7 606.6 1011.9 603.4 1012.2 606.7 1012.5 615.7 1012.7 627.8 1013.0 640.0 1013.3 649.6 1013.5 655.4 1013.8 657.6 1014.1 657.8 1014.4 657.6 1014.6 655.4 1014.9 649.7 1015.2 640.2 1015.4 628.3 1015.7 616.5 1016.0 607.8 1016.2 604.7 1016.5 608.0 1016.8 616.7 1017.0 628.5 1017.3 640.4 1017.6 649.8 1017.9 655.4 1018.1 657.6 1018.4 657.8 1018.7 657.6 1018.9 655.4 1019.2 649.8 1019.5 640.5 1019.7 628.6 1020.0 617.0 1020.3 608.3 1020.6 605.2 1020.8 608.4 1021.1 617.0 1021.4 628.7 1021.6 640.5 1021.9 649.8 1022.2 655.4 1022.4 657.5 1022.7 657.8 1023.0 657.5 1023.3 655.4 1023.5 649.8 1023.8 640.5 1024.1 628.7 1024.3 617.1 1024.6 608.5 1024.9 605.3 1025.1 608.5 1025.4 617.1 1025.7 628.7 1025.9 640.5 1026.2 649.8 1026.5 655.4 1026.8 657.5 1027.0 657.8 1027.3 657.5 1027.6 655.4 1027.8 649.8 1028.1 640.5 1028.4 628.8 1028.6 617.1 1028.9 608.5 1029.2 605.4 1029.5 608.6 1029.7 617.1 1030.0 628.8 1030.3 640.5 1030.5 649.8 1030.8 655.4 1031.1 657.5 1031.3 657.8 1031.6 657.5 1031.9 655.4 1032.2 649.8 1032.4 640.5 1032.7 628.8 1033.0 617.2 1033.2 608.6 1033.5 605.4 1033.8 608.6 1034.0 617.2 1034.3 628.8 1034.6 640.5 1034.9 649.8 1035.1 655.4 1035.4 657.5 1035.7 657.8 1035.9 657.5 1036.2 655.4 1036.5 649.8 1036.7 640.5 1037.0 628.8 1037.3 617.2 1037.5 608.6 1037.8 605.5 1038.1 608.6 1038.4 617.2 1038.6 628.8 1038.9 640.5 1039.2 649.8 1039.4 655.4 1039.7 657.5 1040.0 657.8 1040.2 657.5 1040.5 655.4 1040.8 649.8 1041.1 640.5 1041.3 628.8 1041.6 617.3 1041.9 608.7 1042.1 605.6 1042.4 608.7 1042.7 617.3 1042.9 628.9 1043.2 640.6 1043.5 649.8 1043.8 655.4 1044.0 657.5 1044.3 657.8 1044.6 657.5 1044.8 655.3 1045.1 649.8 1045.4 640.6 1045.6 628.9 1045.9 617.4 1046.2 608.9 1046.4 605.8 1046.7 608.9 1047.0 617.5 1047.3 629.0 1047.5 640.7 1047.8 649.9 1048.1 655.4 1048.3 657.5 1048.6 657.7 1048.9 657.5 1049.1 655.4 1049.4 649.9 1049.7 640.9 1050.0 629.5 1050.2 618.2 1050.5 609.9 1050.8 607.0 1051.0 610.1 1051.3 618.5 1051.6 629.7 1051.8 641.1 1052.1 650.1 1052.4 655.4 1052.7 657.5 1052.9 657.7 1053.2 657.5 1053.5 655.4 1053.7 650.1 1054.0 641.3 1054.3 630.1 1054.5 619.1 1054.8 611.1 1055.1 608.2 1055.3 611.2 1055.6 619.4 1055.9 630.4 1056.2 641.5 1056.4 650.2 1056.7 655.4 1057.0 657.5 1057.2 657.7 1057.5 657.5 1057.8 655.5 1058.0 650.3 1058.3 641.7 1058.6 630.8 1058.9 620.1 1059.1 612.2 1059.4 609.3 1059.7 612.3 1059.9 620.3 1060.2 631.1 1060.5 641.9 1060.7 650.4 1061.0 655.5 1061.3 657.4 1061.6 657.7 1061.8 657.4 1062.1 655.5 1062.4 650.5 1062.6 642.1 1062.9 631.5 1063.2 621.1 1063.4 613.4 1063.7 610.6 1064.0 613.5 1064.3 621.2 1064.5 631.7 1064.8 642.2 1065.1 650.5 1065.3 655.5 1065.6 657.4 1065.9 657.7 1066.1 657.4 1066.4 655.5 1066.7 650.5 1066.9 642.2 1067.2 631.7 1067.5 621.3 1067.8 613.6 1068.0 610.8 1068.3 613.7 1068.6 621.3 1068.8 631.7 1069.1 642.2 1069.4 650.5 1069.6 655.5 1069.9 657.4 1070.2 657.7 1070.5 657.4 1070.7 655.5 1071.0 650.5 1071.3 642.2 1071.5 631.7 1071.8 621.4 1072.1 613.7 1072.3 610.9 1072.6 613.7 1072.9 621.4 1073.2 631.8 1073.4 642.2 1073.7 650.5 1074.0 655.5 1074.2 657.4 1074.5 657.7 1074.8 657.4 1075.0 655.5 1075.3 650.5 1075.6 642.2 1075.8 631.8 1076.1 621.4 1076.4 613.8 1076.7 611.0 1076.9 613.8 1077.2 621.4 1077.5 631.8 1077.7 642.3 1078.0 650.5 1078.3 655.5 1078.5 657.4 1078.8 657.6 1079.1 657.4 1079.4 655.5 1079.6 650.5 1079.9 642.3 1080.2 631.9 1080.4 621.7 1080.7 614.2 1081.0 611.5 1081.2 614.5 1081.5 622.1 1081.8 632.4 1082.1 642.7 1082.3 650.7 1082.6 655.5 1082.9 657.4 1083.1 657.6" stroke="#555" stroke-width="1.0" fill="none" stroke-linejoin="miter" stroke-miterlimit="2"/>
<path d="M671.0 660.2 671.3 660.1 671.5 658.2 671.8 647.2 672.1 616.8 672.3 562.8 672.6 495.2 672.9 437.7 673.2 415.1 673.4 437.9 673.7 495.5 674.0 563.1 674.2 617.1 674.5 647.3 674.8 658.2 675.0 660.1 675.3 660.2 675.6 660.1 675.9 658.2 676.1 647.4 676.4 617.7 676.7 564.7 676.9 498.4 677.2 442.1 677.5 420.0 677.7 442.2 678.0 498.5 678.3 564.7 678.6 617.7 678.8 647.5 679.1 658.2 679.4 660.1 679.6 660.2 679.9 660.1 680.2 658.2 680.4 647.5 680.7 617.7 681.0 564.8 681.2 498.7 681.5 442.4 681.8 420.2 682.1 442.4 682.3 498.7 682.6 564.8 682.9 617.8 683.1 647.5 683.4 658.2 683.7 660.1 683.9 660.2 684.2 660.1 684.5 658.2 684.8 647.5 685.0 617.8 685.3 564.9 685.6 498.8 685.8 442.6 686.1 420.4 686.4 442.6 686.6 498.8 686.9 564.9 687.2 617.8 687.5 647.5 687.7 658.2 688.0 660.1 688.3 660.1 688.5 660.1 688.8 658.2 689.1 647.5 689.3 617.9 689.6 565.4 689.9 500.0 690.2 444.7 690.4 423.3 690.7 445.8 691.0 501.5 691.2 566.7 691.5 618.7 691.8 647.8 692.0 658.2 692.3 660.1 692.6 660.1 692.8 660.1 693.1 658.2 693.4 647.9 693.7 619.4 693.9 568.8 694.2 505.7 694.5 452.2 694.7 431.4 695.0 452.9 695.3 506.6 695.5 569.6 695.8 619.9 696.1 648.1 696.4 658.2 696.6 660.0 696.9 660.1 697.2 660.0 697.4 658.2 697.7 648.2 698.0 620.4 698.2 570.9 698.5 509.3 698.8 457.0 699.1 436.7 699.3 457.7 699.6 510.2 699.9 571.7 700.1 620.8 700.4 648.4 700.7 658.3 700.9 660.0 701.2 660.1 701.5 660.0 701.7 658.3 702.0 648.5 702.3 621.3 702.6 573.1 702.8 513.1 703.1 462.2 703.4 442.4 703.6 462.8 703.9 514.0 704.2 574.0 704.4 621.8 704.7 648.6 705.0 658.3 705.3 660.0 705.5 660.0 705.8 660.0 706.1 658.3 706.3 648.7 706.6 622.3 706.9 575.3 707.1 516.7 707.4 467.1 707.7 447.8 708.0 467.7 708.2 517.7 708.5 576.1 708.8 622.8 709.0 648.9 709.3 658.3 709.6 660.0 709.8 660.0 710.1 659.9 710.4 658.3 710.6 649.0 710.9 623.3 711.2 577.6 711.5 520.6 711.7 472.3 712.0 453.4 712.3 472.7 712.5 521.2 712.8 578.1 713.1 623.6 713.3 649.1 713.6 658.3 713.9 659.9 714.2 660.0 714.4 659.9 714.7 658.3 715.0 649.1 715.2 623.7 715.5 578.4 715.8 521.9 716.0 473.8 716.3 454.9 716.6 473.9 716.9 522.0 717.1 578.5 717.4 623.7 717.7 649.1 717.9 658.3 718.2 659.9 718.5 659.9 718.7 659.9 719.0 658.2 719.3 649.1 719.5 623.8 719.8 578.7 720.1 522.3 720.4 474.5 720.6 455.6 720.9 474.5 721.2 522.4 721.4 578.7 721.7 623.8 722.0 649.1 722.2 658.2 722.5 659.8 722.8 659.9 723.1 659.8 723.3 658.2 723.6 649.1 723.9 623.8 724.1 578.8 724.4 522.6 724.7 474.9 724.9 456.1 725.2 474.9 725.5 522.7 725.8 578.9 726.0 623.8 726.3 649.1 726.6 658.2 726.8 659.8 727.1 659.8 727.4 659.8 727.6 658.2 727.9 649.1 728.2 623.9 728.5 579.1 728.7 523.1 729.0 475.6 729.3 456.9 729.5 475.7 729.8 523.3 730.1 579.2 730.3 624.0 730.6 649.1 730.9 658.1 731.1 659.7 731.4 659.8 731.7 659.7 732.0 658.1 732.2 649.1 732.5 624.1 732.8 579.7 733.0 524.3 733.3 477.3 733.6 459.0 733.8 477.8 734.1 525.0 734.4 580.3 734.7 624.5 734.9 649.2 735.2 658.1 735.5 659.7 735.7 659.7 736.0 659.7 736.3 658.1 736.5 649.3 736.8 624.9 737.1 581.5 737.4 527.4 737.6 481.6 737.9 463.7 738.2 482.0 738.4 528.1 738.7 582.1 739.0 625.2 739.2 649.4 739.5 658.1 739.8 659.6 740.0 659.7 740.3 659.6 740.6 658.1 740.9 649.4 741.1 625.6 741.4 583.1 741.7 530.3 741.9 485.5 742.2 468.0 742.5 486.0 742.7 531.1 743.0 583.8 743.3 625.9 743.6 649.5 743.8 658.0 744.1 659.5 744.4 659.5 744.6 659.5 744.9 658.0 745.2 649.6 745.4 626.3 745.7 585.1 746.0 533.8 746.3 490.3 746.5 473.4 746.8 491.0 747.1 534.7 747.3 585.9 747.6 626.8 747.9 649.6 748.1 657.8 748.4 659.3 748.7 659.3 748.9 659.2 749.2 657.8 749.5 649.7 749.8 627.3 750.0 587.6 750.3 538.3 750.6 496.5 750.8 480.3 751.1 497.2 751.4 539.3 751.6 588.5 751.9 627.7 752.2 649.7 752.5 657.6 752.7 659.0 753.0 659.0 753.3 659.0 753.5 657.5 753.8 649.7 754.1 627.9 754.3 589.1 754.6 540.8 754.9 499.9 755.2 483.8 755.4 500.1 755.7 541.2 756.0 589.4 756.2 627.9 756.5 649.5 756.8 657.3 757.0 658.7 757.3 658.7 757.6 658.6 757.8 657.2 758.1 649.4 758.4 628.0 758.7 589.7 758.9 542.0 759.2 501.5 759.5 485.6 759.7 501.6 760.0 542.2 760.3 589.8 760.5 627.9 760.8 649.3 761.1 657.0 761.4 658.3 761.6 658.4 761.9 658.3 762.2 656.9 762.4 649.2 762.7 627.9 763.0 590.0 763.2 542.6 763.5 502.4 763.8 486.5 764.1 502.5 764.3 542.7 764.6 590.0 764.9 627.8 765.1 649.0 765.4 656.7 765.7 658.0 765.9 658.0 766.2 658.0 766.5 656.6 766.8 648.9 767.0 627.7 767.3 590.0 767.6 542.9 767.8 502.9 768.1 487.2 768.4 503.0 768.6 543.0 768.9 590.0 769.2 627.7 769.4 648.8 769.7 656.4 770.0 657.7 770.3 657.7 770.5 657.7 770.8 656.3 771.1 648.7 771.3 627.6 771.6 590.1 771.9 543.3 772.1 503.5 772.4 487.8 772.7 503.6 773.0 543.4 773.2 590.2 773.5 627.6 773.8 648.6 774.0 656.2 774.3 657.5 774.6 657.5 774.8 657.5 775.1 656.1 775.4 648.5 775.7 627.6 775.9 590.4 776.2 543.9 776.5 504.5 776.7 489.0 777.0 504.6 777.3 544.2 777.5 590.6 777.8 627.7 778.1 648.5 778.3 656.0 778.6 657.3 778.9 657.4 779.2 657.3 779.4 656.0 779.7 648.5 780.0 627.9 780.2 591.1 780.5 545.3 780.8 506.5 781.0 491.5 781.3 507.1 781.6 546.2 781.9 591.9 782.1 628.3 782.4 648.7 782.7 656.0 782.9 657.3 783.2 657.4 783.5 657.3 783.7 656.0 784.0 648.8 784.3 629.0 784.6 593.8 784.8 549.9 785.1 512.9 785.4 498.5 785.6 513.4 785.9 550.8 786.2 594.6 786.4 629.5 786.7 649.0 787.0 656.1 787.2 657.3 787.5 657.4 787.8 657.3 788.1 656.1 788.3 649.1 788.6 629.8 788.9 595.4 789.1 552.6 789.4 516.3 789.7 502.1 789.9 516.6 790.2 553.1 790.5 595.9 790.8 630.0 791.0 649.2 791.3 656.1 791.6 657.3 791.8 657.4 792.1 657.3 792.4 656.1 792.6 649.3 792.9 630.4 793.2 596.8 793.5 555.0 793.7 519.7 794.0 505.9 794.3 520.2 794.5 555.8 794.8 597.5 795.1 630.8 795.3 649.4 795.6 656.1 795.9 657.3 796.1 657.3 796.4 657.3 796.7 656.1 797.0 649.5 797.2 631.2 797.5 598.6 797.8 558.0 798.0 523.6 798.3 510.2 798.6 523.9 798.8 558.5 799.1 599.1 799.4 631.4 799.7 649.6 799.9 656.1 800.2 657.3 800.5 657.3 800.7 657.3 801.0 656.1 801.3 649.6 801.5 631.7 801.8 599.7 802.1 559.8 802.4 525.9 802.6 512.6 802.9 526.0 803.2 560.0 803.4 599.9 803.7 631.8 804.0 649.7 804.2 656.1 804.5 657.3 804.8 657.3 805.1 657.3 805.3 656.1 805.6 649.7 805.9 631.8 806.1 600.0 806.4 560.2 806.7 526.4 806.9 513.1 807.2 526.4 807.5 560.3 807.7 600.0 808.0 631.8 808.3 649.7 808.6 656.1 808.8 657.3 809.1 657.3 809.4 657.3 809.6 656.1 809.9 649.7 810.2 631.9 810.4 600.1 810.7 560.4 811.0 526.6 811.3 513.3 811.5 526.6 811.8 560.4 812.1 600.1 812.3 631.9 812.6 649.7 812.9 656.1 813.1 657.3 813.4 657.3 813.7 657.3 814.0 656.1 814.2 649.7 814.5 631.9 814.8 600.1 815.0 560.5 815.3 526.7 815.6 513.5 815.8 526.8 816.1 560.5 816.4 600.1 816.6 631.9 816.9 649.7 817.2 656.1 817.5 657.3 817.7 657.3 818.0 657.3 818.3 656.1 818.5 649.7 818.8 631.9 819.1 600.2 819.3 560.6 819.6 527.0 819.9 513.7 820.2 527.0 820.4 560.7 820.7 600.3 821.0 631.9 821.2 649.7 821.5 656.1 821.8 657.3 822.0 657.3 822.3 657.3 822.6 656.1 822.9 649.7 823.1 632.0 823.4 600.4 823.7 561.0 823.9 527.6 824.2 514.5 824.5 527.8 824.7 561.3 825.0 600.7 825.3 632.1 825.5 649.8 825.8 656.1 826.1 657.2 826.4 657.3 826.6 657.2 826.9 656.1 827.2 649.8 827.4 632.4 827.7 601.4 828.0 562.8 828.2 530.2 828.5 517.4 828.8 530.6 829.1 563.5 829.3 602.0 829.6 632.7 829.9 650.0 830.1 656.1 830.4 657.2 830.7 657.3 830.9 657.2 831.2 656.2 831.5 650.1 831.8 633.4 832.0 603.7 832.3 566.9 832.6 535.8 832.8 523.9 833.1 536.6 833.4 568.0 833.6 604.7 833.9 634.0 834.2 650.3 834.4 656.2 834.7 657.2 835.0 657.3 835.3 657.2 835.5 656.2 835.8 650.4 836.1 634.3 836.3 605.6 836.6 569.9 836.9 539.6 837.1 527.8 837.4 539.9 837.7 570.4 838.0 606.0 838.2 634.5 838.5 650.5 838.8 656.2 839.0 657.2 839.3 657.3 839.6 657.2 839.8 656.2 840.1 650.5 840.4 634.8 840.7 607.0 840.9 572.4 841.2 543.1 841.5 531.8 841.7 543.7 842.0 573.3 842.3 607.8 842.5 635.3 842.8 650.7 843.1 656.2 843.4 657.2 843.6 657.3 843.9 657.2 844.2 656.2 844.4 650.8 844.7 635.6 845.0 608.5 845.2 574.7 845.5 546.0 845.8 534.7 846.0 546.1 846.3 574.8 846.6 608.6 846.9 635.6 847.1 650.8 847.4 656.2 847.7 657.2 847.9 657.3 848.2 657.2 848.5 656.2 848.7 650.8 849.0 635.7 849.3 608.8 849.6 575.2 849.8 546.6 850.1 535.3 850.4 546.6 850.6 575.2 850.9 608.8 851.2 635.7 851.4 650.8 851.7 656.2 852.0 657.2 852.3 657.2 852.5 657.2 852.8 656.2 853.1 650.8 853.3 635.7 853.6 608.9 853.9 575.4 854.1 546.9 854.4 535.7 854.7 546.9 854.9 575.4 855.2 608.9 855.5 635.8 855.8 650.8 856.0 656.2 856.3 657.2 856.6 657.2 856.8 657.2 857.1 656.2 857.4 650.8 857.6 635.8 857.9 609.0 858.2 575.5 858.5 547.1 858.7 535.9 859.0 547.1 859.3 575.6 859.5 609.0 859.8 635.8 860.1 650.8 860.3 656.2 860.6 657.2 860.9 657.2 861.2 657.2 861.4 656.2 861.7 650.8 862.0 635.8 862.2 609.1 862.5 575.8 862.8 547.4 863.0 536.2 863.3 547.5 863.6 575.8 863.8 609.2 864.1 635.9 864.4 650.8 864.7 656.2 864.9 657.2 865.2 657.2 865.5 657.2 865.7 656.2 866.0 650.8 866.3 635.9 866.5 609.4 866.8 576.2 867.1 548.0 867.4 537.0 867.6 548.2 867.9 576.4 868.2 609.6 868.4 636.1 868.7 650.9 869.0 656.2 869.2 657.2 869.5 657.2 869.8 657.2 870.1 656.2 870.3 651.0 870.6 636.4 870.9 610.4 871.1 578.1 871.4 550.8 871.7 540.2 871.9 551.2 872.2 578.8 872.5 611.0 872.7 636.7 873.0 651.1 873.3 656.3 873.6 657.2 873.8 657.2 874.1 657.2 874.4 656.3 874.6 651.2 874.9 637.1 875.2 612.1 875.4 580.9 875.7 554.6 876.0 544.4 876.3 555.1 876.5 581.6 876.8 612.7 877.1 637.5 877.3 651.3 877.6 656.3 877.9 657.2 878.1 657.2 878.4 657.2 878.7 656.3 879.0 651.4 879.2 637.7 879.5 613.5 879.8 583.4 880.0 557.8 880.3 547.8 880.6 558.1 880.8 583.8 881.1 614.0 881.4 638.0 881.7 651.5 881.9 656.3 882.2 657.2 882.5 657.2 882.7 657.2 883.0 656.3 883.3 651.5 883.5 638.2 883.8 614.6 884.1 585.2 884.3 560.3 884.6 550.6 884.9 560.6 885.2 585.7 885.4 615.1 885.7 638.5 886.0 651.6 886.2 656.3 886.5 657.2 886.8 657.2 887.0 657.2 887.3 656.3 887.6 651.7 887.9 638.8 888.1 616.0 888.4 587.6 888.7 563.6 888.9 554.2 889.2 563.9 889.5 588.1 889.7 616.4 890.0 639.1 890.3 651.8 890.6 656.4 890.8 657.2 891.1 657.2 891.4 657.2 891.6 656.4 891.9 651.8 892.2 639.1 892.4 616.6 892.7 588.4 893.0 564.5 893.2 555.1 893.5 564.6 893.8 588.5 894.1 616.6 894.3 639.2 894.6 651.8 894.9 656.4 895.1 657.2 895.4 657.2 895.7 657.2 895.9 656.4 896.2 651.8 896.5 639.2 896.8 616.7 897.0 588.6 897.3 564.7 897.6 555.3 897.8 564.8 898.1 588.6 898.4 616.7 898.6 639.2 898.9 651.8 899.2 656.4 899.5 657.2 899.7 657.2 900.0 657.2 900.3 656.4 900.5 651.8 900.8 639.2 901.1 616.7 901.3 588.7 901.6 564.8 901.9 555.4 902.1 564.8 902.4 588.7 902.7 616.8 903.0 639.2 903.2 651.8 903.5 656.4 903.8 657.2 904.0 657.2 904.3 657.2 904.6 656.4 904.8 651.8 905.1 639.2 905.4 616.8 905.7 588.7 905.9 564.9 906.2 555.5 906.5 564.9 906.7 588.8 907.0 616.8 907.3 639.2 907.5 651.8 907.8 656.3 908.1 657.2 908.4 657.2 908.6 657.2 908.9 656.3 909.2 651.8 909.4 639.2 909.7 616.8 910.0 588.8 910.2 565.0 910.5 555.7 910.8 565.1 911.0 588.9 911.3 616.9 911.6 639.2 911.9 651.8 912.1 656.3 912.4 657.1 912.7 657.2 912.9 657.1 913.2 656.3 913.5 651.8 913.7 639.3 914.0 616.9 914.3 589.0 914.6 565.3 914.8 556.0 915.1 565.4 915.4 589.1 915.6 617.0 915.9 639.3 916.2 651.8 916.4 656.3 916.7 657.1 917.0 657.2 917.3 657.1 917.5 656.4 917.8 651.9 918.1 639.6 918.3 617.7 918.6 590.5 918.9 567.6 919.1 558.8 919.4 568.2 919.7 591.4 920.0 618.5 920.2 640.0 920.5 652.1 920.8 656.4 921.0 657.1 921.3 657.2 921.6 657.1 921.8 656.4 922.1 652.1 922.4 640.4 922.6 619.6 922.9 593.8 923.2 572.0 923.5 563.6 923.7 572.5 924.0 594.6 924.3 620.3 924.5 640.8 924.8 652.3 925.1 656.4 925.3 657.1 925.6 657.2 925.9 657.1 926.2 656.4 926.4 652.4 926.7 641.2 927.0 621.3 927.2 596.6 927.5 575.8 927.8 567.8 928.0 576.3 928.3 597.3 928.6 621.9 928.9 641.5 929.1 652.5 929.4 656.4 929.7 657.1 929.9 657.2 930.2 657.1 930.5 656.4 930.7 652.5 931.0 641.8 931.3 622.6 931.5 598.6 931.8 578.2 932.1 570.2 932.4 578.3 932.6 598.7 932.9 622.6 933.2 641.8 933.4 652.6 933.7 656.4 934.0 657.1 934.2 657.2 934.5 657.1 934.8 656.4 935.1 652.6 935.3 641.8 935.6 622.7 935.9 598.8 936.1 578.5 936.4 570.5 936.7 578.5 936.9 598.9 937.2 622.7 937.5 641.9 937.8 652.6 938.0 656.4 938.3 657.1 938.6 657.2 938.8 657.1 939.1 656.4 939.4 652.6 939.6 641.9 939.9 622.8 940.2 598.9 940.4 578.7 940.7 570.7 941.0 578.7 941.3 599.0 941.5 622.8 941.8 641.9 942.1 652.6 942.3 656.4 942.6 657.1 942.9 657.2 943.1 657.1 943.4 656.4 943.7 652.6 944.0 641.9 944.2 622.8 944.5 599.0 944.8 578.7 945.0 570.8 945.3 578.8 945.6 599.0 945.8 622.8 946.1 641.9 946.4 652.6 946.7 656.4 946.9 657.1 947.2 657.2 947.5 657.1 947.7 656.4 948.0 652.6 948.3 641.9 948.5 622.8 948.8 599.0 949.1 578.8 949.3 570.8 949.6 578.8 949.9 599.1 950.2 622.9 950.4 641.9 950.7 652.6 951.0 656.4 951.2 657.1 951.5 657.2 951.8 657.1 952.0 656.4 952.3 652.6 952.6 641.9 952.9 622.9 953.1 599.1 953.4 578.9 953.7 571.0 953.9 579.0 954.2 599.2 954.5 622.9 954.7 641.9 955.0 652.6 955.3 656.4 955.6 657.1 955.8 657.1 956.1 657.1 956.4 656.4 956.6 652.6 956.9 641.9 957.2 623.0 957.4 599.3 957.7 579.2 958.0 571.3 958.3 579.2 958.5 599.4 958.8 623.0 959.1 642.0 959.3 652.6 959.6 656.4 959.9 657.1 960.1 657.1 960.4 657.1 960.7 656.4 960.9 652.6 961.2 642.1 961.5 623.5 961.8 600.4 962.0 580.8 962.3 573.3 962.6 581.3 962.8 601.1 963.1 624.2 963.4 642.5 963.6 652.8 963.9 656.5 964.2 657.1 964.5 657.1 964.7 657.1 965.0 656.5 965.3 652.8 965.5 642.8 965.8 625.1 966.1 603.0 966.3 584.3 966.6 577.1 966.9 584.7 967.2 603.5 967.4 625.6 967.7 643.1 968.0 653.0 968.2 656.5 968.5 657.1 968.8 657.1 969.0 657.1 969.3 656.5 969.6 653.0 969.8 643.4 970.1 626.4 970.4 605.1 970.7 587.2 970.9 580.3 971.2 587.6 971.5 605.7 971.7 626.9 972.0 643.7 972.3 653.1 972.5 656.5 972.8 657.1 973.1 657.1 973.4 657.1 973.6 656.5 973.9 653.2 974.2 644.0 974.4 627.7 974.7 607.5 975.0 590.3 975.2 583.7 975.5 590.6 975.8 607.9 976.1 628.1 976.3 644.2 976.6 653.3 976.9 656.5 977.1 657.1 977.4 657.1 977.7 657.1 977.9 656.5 978.2 653.3 978.5 644.3 978.7 628.3 979.0 608.3 979.3 591.3 979.6 584.6 979.8 591.3 980.1 608.4 980.4 628.3 980.6 644.3 980.9 653.3 981.2 656.5 981.4 657.1 981.7 657.1 982.0 657.1 982.3 656.5 982.5 653.3 982.8 644.4 983.1 628.4 983.3 608.5 983.6 591.5 983.9 584.9 984.1 591.6 984.4 608.5 984.7 628.4 985.0 644.4 985.2 653.3 985.5 656.5 985.8 657.1 986.0 657.1 986.3 657.1 986.6 656.5 986.8 653.3 987.1 644.4 987.4 628.5 987.6 608.6 987.9 591.7 988.2 585.0 988.5 591.7 988.7 608.6 989.0 628.5 989.3 644.4 989.5 653.3 989.8 656.5 990.1 657.1 990.3 657.1 990.6 657.1 990.9 656.5 991.2 653.3 991.4 644.4 991.7 628.5 992.0 608.6 992.2 591.7 992.5 585.1 992.8 591.7 993.0 608.6 993.3 628.5 993.6 644.4 993.9 653.3 994.1 656.5 994.4 657.1 994.7 657.1 994.9 657.1 995.2 656.5 995.5 653.3 995.7 644.4 996.0 628.5 996.3 608.7 996.6 591.8 996.8 585.2 997.1 591.9 997.4 608.7 997.6 628.6 997.9 644.4 998.2 653.3 998.4 656.5 998.7 657.1 999.0 657.1 999.2 657.1 999.5 656.5 999.8 653.3 1000.1 644.5 1000.3 628.6 1000.6 608.9 1000.9 592.1 1001.1 585.5 1001.4 592.2 1001.7 609.0 1001.9 628.7 1002.2 644.5 1002.5 653.3 1002.8 656.5 1003.0 657.1 1003.3 657.1 1003.6 657.1 1003.8 656.5 1004.1 653.4 1004.4 644.7 1004.6 629.2 1004.9 610.1 1005.2 594.0 1005.5 587.9 1005.7 594.7 1006.0 611.0 1006.3 630.1 1006.5 645.1 1006.8 653.6 1007.1 656.6 1007.3 657.1 1007.6 657.1 1007.9 657.1 1008.1 656.6 1008.4 653.6 1008.7 645.5 1009.0 631.0 1009.2 613.0 1009.5 597.7 1009.8 591.8 1010.0 598.0 1010.3 613.3 1010.6 631.3 1010.8 645.7 1011.1 653.7 1011.4 656.6 1011.7 657.1 1011.9 657.1 1012.2 657.1 1012.5 656.6 1012.7 653.7 1013.0 645.8 1013.3 631.8 1013.5 614.4 1013.8 599.6 1014.1 593.9 1014.4 599.9 1014.6 614.8 1014.9 632.2 1015.2 646.1 1015.4 653.8 1015.7 656.6 1016.0 657.1 1016.2 657.1 1016.5 657.1 1016.8 656.6 1017.0 653.9 1017.3 646.3 1017.6 632.7 1017.9 615.9 1018.1 601.5 1018.4 595.9 1018.7 601.6 1018.9 616.0 1019.2 632.8 1019.5 646.3 1019.7 653.9 1020.0 656.6 1020.3 657.1 1020.6 657.1 1020.8 657.1 1021.1 656.6 1021.4 653.9 1021.6 646.3 1021.9 632.9 1022.2 616.1 1022.4 601.9 1022.7 596.2 1023.0 601.9 1023.3 616.2 1023.5 632.9 1023.8 646.4 1024.1 653.9 1024.3 656.6 1024.6 657.1 1024.9 657.1 1025.1 657.1 1025.4 656.6 1025.7 653.9 1025.9 646.4 1026.2 633.0 1026.5 616.3 1026.8 602.0 1027.0 596.4 1027.3 602.0 1027.6 616.3 1027.8 633.0 1028.1 646.4 1028.4 653.9 1028.6 656.6 1028.9 657.1 1029.2 657.1 1029.5 657.1 1029.7 656.6 1030.0 653.9 1030.3 646.4 1030.5 633.0 1030.8 616.3 1031.1 602.1 1031.3 596.5 1031.6 602.1 1031.9 616.3 1032.2 633.0 1032.4 646.4 1032.7 653.9 1033.0 656.6 1033.2 657.1 1033.5 657.1 1033.8 657.1 1034.0 656.6 1034.3 653.9 1034.6 646.4 1034.9 633.1 1035.1 616.4 1035.4 602.2 1035.7 596.6 1035.9 602.2 1036.2 616.4 1036.5 633.1 1036.7 646.4 1037.0 653.9 1037.3 656.6 1037.5 657.1 1037.8 657.1 1038.1 657.1 1038.4 656.6 1038.6 653.9 1038.9 646.4 1039.2 633.1 1039.4 616.5 1039.7 602.3 1040.0 596.7 1040.2 602.3 1040.5 616.5 1040.8 633.1 1041.1 646.5 1041.3 653.9 1041.6 656.6 1041.9 657.1 1042.1 657.1 1042.4 657.1 1042.7 656.6 1042.9 653.9 1043.2 646.5 1043.5 633.2 1043.8 616.6 1044.0 602.5 1044.3 597.0 1044.6 602.6 1044.8 616.7 1045.1 633.2 1045.4 646.5 1045.6 653.9 1045.9 656.6 1046.2 657.1 1046.4 657.1 1046.7 657.1 1047.0 656.6 1047.3 654.0 1047.5 646.6 1047.8 633.5 1048.1 617.1 1048.3 603.3 1048.6 598.0 1048.9 603.6 1049.1 617.5 1049.4 633.8 1049.7 646.8 1050.0 654.0 1050.2 656.6 1050.5 657.1 1050.8 657.1 1051.0 657.1 1051.3 656.6 1051.6 654.1 1051.8 647.0 1052.1 634.4 1052.4 618.8 1052.7 605.5 1052.9 600.4 1053.2 605.8 1053.5 619.1 1053.7 634.7 1054.0 647.2 1054.3 654.2 1054.5 656.7 1054.8 657.1 1055.1 657.1 1055.3 657.1 1055.6 656.7 1055.9 654.2 1056.2 647.4 1056.4 635.3 1056.7 620.2 1057.0 607.5 1057.2 602.6 1057.5 607.7 1057.8 620.6 1058.0 635.6 1058.3 647.6 1058.6 654.3 1058.9 656.7 1059.1 657.1 1059.4 657.1 1059.7 657.1 1059.9 656.7 1060.2 654.3 1060.5 647.8 1060.7 636.2 1061.0 621.8 1061.3 609.6 1061.6 605.0 1061.8 609.9 1062.1 622.2 1062.4 636.6 1062.6 648.0 1062.9 654.4 1063.2 656.7 1063.4 657.1 1063.7 657.1 1064.0 657.1 1064.3 656.7 1064.5 654.4 1064.8 648.1 1065.1 636.9 1065.3 622.8 1065.6 610.9 1065.9 606.2 1066.1 611.0 1066.4 622.9 1066.7 636.9 1066.9 648.1 1067.2 654.4 1067.5 656.7 1067.8 657.1 1068.0 657.1 1068.3 657.1 1068.6 656.7 1068.8 654.4 1069.1 648.2 1069.4 637.0 1069.6 623.0 1069.9 611.1 1070.2 606.4 1070.5 611.1 1070.7 623.0 1071.0 637.0 1071.3 648.2 1071.5 654.4 1071.8 656.7 1072.1 657.1 1072.3 657.1 1072.6 657.1 1072.9 656.7 1073.2 654.4 1073.4 648.2 1073.7 637.0 1074.0 623.0 1074.2 611.2 1074.5 606.5 1074.8 611.2 1075.0 623.1 1075.3 637.0 1075.6 648.2 1075.8 654.4 1076.1 656.7 1076.4 657.1 1076.7 657.1 1076.9 657.1 1077.2 656.7 1077.5 654.4 1077.7 648.2 1078.0 637.1 1078.3 623.2 1078.5 611.4 1078.8 606.8 1079.1 611.5 1079.4 623.3 1079.6 637.1 1079.9 648.2 1080.2 654.5 1080.4 656.7 1080.7 657.1 1081.0 657.1 1081.2 657.1 1081.5 656.7 1081.8 654.5 1082.1 648.6 1082.3 638.1 1082.6 625.1 1082.9 614.3 1083.1 610.2" stroke="#231f20" stroke-width="2.1" fill="none" stroke-linejoin="miter" stroke-miterlimit="2"/>
<path d="M671.00 559.93 673.07 559.28 675.14 558.76 677.21 558.34 679.28 558.01 681.35 557.77 683.43 557.60 685.50 557.49 687.57 557.42 689.64 557.39 691.71 557.38 693.78 557.38 695.85 557.69 697.92 558.38 699.99 559.36 702.06 560.57 704.13 561.91 706.20 563.31 708.28 564.88 710.35 567.02 712.42 569.57 714.49 572.33 716.56 575.06 718.63 577.58 720.70 579.67 722.77 581.62 724.84 583.56 726.91 585.39 728.98 587.03 731.05 588.38 733.13 589.35 735.20 589.98 737.27 590.56 739.34 591.08 741.41 591.51 743.48 591.83 745.55 592.02 747.62 592.06 749.69 591.84 751.76 591.40 753.83 590.80 755.91 590.12 757.98 589.42 760.05 588.80 762.12 588.31 764.19 588.03 766.26 588.05 768.33 588.53 770.40 589.40 772.47 590.56 774.54 591.90 776.61 593.31 778.68 594.70 780.76 596.31 782.83 598.26 784.90 600.42 786.97 602.63 789.04 604.76 791.11 606.65 793.18 608.29 795.25 610.02 797.32 611.68 799.39 612.99 801.46 613.70 803.53 613.71 805.61 613.53 807.68 613.24 809.75 612.91 811.82 612.57 813.89 612.25 815.96 611.85 818.03 611.40 820.10 610.95 822.17 610.53 824.24 610.19 826.31 609.98 828.38 609.95 830.46 610.49 832.53 611.61 834.60 613.13 836.67 614.90 838.74 616.73 840.81 618.46 842.88 619.91 844.95 621.17 847.02 622.55 849.09 623.84 851.16 624.81 853.24 625.23 855.31 625.15 857.38 624.92 859.45 624.60 861.52 624.26 863.59 623.97 865.66 623.74 867.73 623.52 869.80 623.30 871.87 623.09 873.94 622.89 876.01 622.69 878.09 622.49 880.16 622.29 882.23 622.09 884.30 621.89 886.37 621.69 888.44 621.49 890.51 621.28 892.58 621.06 894.65 620.84 896.72 620.61 898.79 620.39 900.86 620.16 902.94 619.94 905.01 619.72 907.08 619.51 909.15 619.32 911.22 619.14 913.29 618.97 915.36 618.83 917.43 618.69 919.50 618.56 921.57 618.44 923.64 618.32 925.72 618.20 927.79 618.09 929.86 617.99 931.93 617.89 934.00 617.81 936.07 617.72 938.14 617.65 940.21 617.59 942.28 617.53 944.35 617.48 946.42 617.43 948.49 617.38 950.57 617.34 952.64 617.30 954.71 617.26 956.78 617.22 958.85 617.19 960.92 617.15 962.99 617.12 965.06 617.08 967.13 617.05 969.20 617.01 971.27 616.97 973.34 616.93 975.42 616.89 977.49 616.85 979.56 616.81 981.63 616.77 983.70 616.73 985.77 616.69 987.84 616.65 989.91 616.61 991.98 616.57 994.05 616.53 996.12 616.50 998.19 616.46 1000.27 616.43 1002.34 616.41 1004.41 616.38 1006.48 616.36 1008.55 616.34 1010.62 616.32 1012.69 616.31 1014.76 616.31 1016.83 616.30 1018.90 616.30 1020.97 616.30 1023.05 616.30 1025.12 616.30 1027.19 616.30 1029.26 616.30 1031.33 616.30 1033.40 616.30 1035.47 616.30 1037.54 616.30 1039.61 616.30 1041.68 616.30 1043.75 616.30 1045.82 616.30 1047.90 616.30 1049.97 616.30 1052.04 616.30 1054.11 616.30 1056.18 616.30 1058.25 616.30 1060.32 616.30 1062.39 616.30 1064.46 616.30 1066.53 616.30 1068.60 616.30 1070.67 616.30 1072.75 616.30 1074.82 616.30 1076.89 616.30 1078.96 616.30 1081.03 616.30 1083.10 616.30 1083.10 657.63 1081.03 657.64 1078.96 657.64 1076.89 657.65 1074.82 657.66 1072.75 657.67 1070.67 657.67 1068.60 657.68 1066.53 657.69 1064.46 657.69 1062.39 657.70 1060.32 657.71 1058.25 657.71 1056.18 657.72 1054.11 657.73 1052.04 657.73 1049.97 657.74 1047.90 657.75 1045.82 657.75 1043.75 657.76 1041.68 657.77 1039.61 657.77 1037.54 657.78 1035.47 657.79 1033.40 657.79 1031.33 657.80 1029.26 657.80 1027.19 657.81 1025.12 657.82 1023.05 657.82 1020.97 657.83 1018.90 657.83 1016.83 657.84 1014.76 657.85 1012.69 657.85 1010.62 657.86 1008.55 657.86 1006.48 657.87 1004.41 657.87 1002.34 657.88 1000.27 657.88 998.19 657.89 996.12 657.90 994.05 657.90 991.98 657.91 989.91 657.91 987.84 657.92 985.77 657.92 983.70 657.93 981.63 657.93 979.56 657.94 977.49 657.94 975.42 657.94 973.34 657.95 971.27 657.95 969.20 657.96 967.13 657.96 965.06 657.97 962.99 657.97 960.92 657.98 958.85 657.98 956.78 657.99 954.71 657.99 952.64 657.99 950.57 658.00 948.49 658.00 946.42 658.01 944.35 658.01 942.28 658.01 940.21 658.02 938.14 658.02 936.07 658.02 934.00 658.03 931.93 658.03 929.86 658.04 927.79 658.04 925.72 658.04 923.64 658.05 921.57 658.05 919.50 658.05 917.43 658.05 915.36 658.06 913.29 658.06 911.22 658.06 909.15 658.07 907.08 658.07 905.01 658.07 902.94 658.08 900.86 658.08 898.79 658.08 896.72 658.08 894.65 658.09 892.58 658.09 890.51 658.09 888.44 658.09 886.37 658.10 884.30 658.10 882.23 658.10 880.16 658.10 878.09 658.10 876.01 658.11 873.94 658.11 871.87 658.11 869.80 658.11 867.73 658.11 865.66 658.12 863.59 658.12 861.52 658.12 859.45 658.12 857.38 658.12 855.31 658.12 853.24 658.12 851.16 658.13 849.09 658.13 847.02 658.13 844.95 658.13 842.88 658.13 840.81 658.13 838.74 658.13 836.67 658.13 834.60 658.13 832.53 658.13 830.46 658.14 828.38 658.14 826.31 658.14 824.24 658.14 822.17 658.14 820.10 658.14 818.03 658.14 815.96 658.14 813.89 658.14 811.82 658.14 809.75 658.14 807.68 658.14 805.61 658.14 803.53 658.14 801.46 658.14 799.39 658.14 797.32 658.14 795.25 658.14 793.18 658.14 791.11 658.14 789.04 658.14 786.97 658.08 784.90 656.90 782.83 655.15 780.76 653.46 778.68 651.42 776.61 649.23 774.54 647.12 772.47 645.34 770.40 644.12 768.33 643.51 766.26 643.02 764.19 642.58 762.12 642.23 760.05 641.98 757.98 641.84 755.91 641.84 753.83 642.08 751.76 642.53 749.69 643.12 747.62 643.78 745.55 644.43 743.48 645.00 741.41 645.43 739.34 645.63 737.27 645.51 735.20 645.01 733.13 644.22 731.05 643.23 728.98 642.12 726.91 640.98 724.84 639.83 722.77 638.44 720.70 636.86 718.63 635.18 716.56 633.50 714.49 631.78 712.42 629.72 710.35 627.46 708.28 625.20 706.20 623.14 704.13 621.48 702.06 620.42 699.99 620.13 697.92 620.13 695.85 620.13 693.78 620.13 691.71 620.13 689.64 620.13 687.57 620.13 685.50 620.13 683.43 620.13 681.35 620.13 679.28 620.13 677.21 620.13 675.14 620.13 673.07 620.13 671.00 620.13Z" fill="#231f20"/>
<path d="M671.0 872.0 671.3 880.4 671.5 903.3 671.8 934.4 672.1 965.7 672.3 990.6 672.6 1005.4 672.9 1011.2 673.2 1011.9 673.4 1011.2 673.7 1005.5 674.0 990.6 674.2 965.9 674.5 934.7 674.8 903.9 675.0 881.4 675.3 873.3 675.6 881.8 675.9 904.6 676.1 935.4 676.4 966.4 676.7 990.9 676.9 1005.6 677.2 1011.2 677.5 1011.9 677.7 1011.2 678.0 1005.6 678.3 990.9 678.6 966.4 678.8 935.5 679.1 904.9 679.4 882.3 679.6 874.0 679.9 882.3 680.2 904.8 680.4 935.5 680.7 966.4 681.0 990.9 681.2 1005.5 681.5 1011.2 681.8 1011.9 682.1 1011.2 682.3 1005.5 682.6 990.9 682.9 966.4 683.1 935.5 683.4 904.8 683.7 882.2 683.9 873.9 684.2 882.2 684.5 904.8 684.8 935.4 685.0 966.4 685.3 990.9 685.6 1005.5 685.8 1011.2 686.1 1011.9 686.4 1011.2 686.6 1005.5 686.9 990.9 687.2 966.4 687.5 935.5 687.7 904.8 688.0 882.3 688.3 874.0 688.5 882.3 688.8 905.0 689.1 935.7 689.3 966.6 689.6 991.0 689.9 1005.6 690.2 1011.2 690.4 1011.9 690.7 1011.2 691.0 1005.6 691.2 991.3 691.5 967.3 691.8 937.2 692.0 907.6 692.3 885.9 692.6 878.1 692.8 886.4 693.1 908.5 693.4 938.2 693.7 968.1 693.9 991.7 694.2 1005.8 694.5 1011.2 694.7 1011.9 695.0 1011.2 695.3 1005.8 695.5 991.9 695.8 968.7 696.1 939.4 696.4 910.4 696.6 889.2 696.9 881.6 697.2 889.7 697.4 911.1 697.7 940.1 698.0 969.2 698.2 992.2 698.5 1006.0 698.8 1011.2 699.1 1011.9 699.3 1011.2 699.6 1006.0 699.9 992.5 700.1 969.9 700.4 941.5 700.7 913.5 700.9 892.9 701.2 885.6 701.5 893.5 701.7 914.3 702.0 942.5 702.3 970.9 702.6 993.3 702.8 1006.7 703.1 1012.0 703.4 1012.8 703.6 1012.3 703.9 1007.4 704.2 994.3 704.4 972.4 704.7 944.7 705.0 917.2 705.3 897.1 705.5 889.9 705.8 897.6 706.1 918.3 706.3 946.2 706.6 974.3 706.9 996.6 707.1 1010.1 707.4 1015.4 707.7 1016.4 708.0 1016.0 708.2 1011.2 708.5 998.3 708.8 976.5 709.0 949.0 709.3 921.8 709.6 901.8 709.8 894.7 710.1 902.5 710.4 923.1 710.6 951.0 710.9 979.0 711.2 1001.3 711.5 1014.8 711.7 1020.1 712.0 1021.1 712.3 1020.7 712.5 1015.9 712.8 1003.0 713.1 981.3 713.3 953.7 713.6 926.4 713.9 906.3 714.2 899.0 714.4 906.7 714.7 927.3 715.0 955.1 715.2 983.2 715.5 1005.5 715.8 1018.9 716.0 1024.2 716.3 1025.1 716.6 1024.7 716.9 1019.8 717.1 1006.8 717.4 984.9 717.7 957.1 717.9 929.6 718.2 909.4 718.5 902.1 718.7 909.7 719.0 930.3 719.3 958.3 719.5 986.5 719.8 1008.9 720.1 1022.4 720.4 1027.7 720.6 1028.6 720.9 1028.1 721.2 1023.2 721.4 1010.1 721.7 988.0 722.0 960.0 722.2 932.1 722.5 911.7 722.8 904.2 723.1 912.0 723.3 932.7 723.6 960.9 723.9 989.4 724.1 1011.9 724.4 1025.5 724.7 1030.8 724.9 1031.7 725.2 1031.2 725.5 1026.2 725.8 1012.9 726.0 990.6 726.3 962.4 726.6 934.4 726.8 913.8 727.1 906.3 727.4 914.1 727.6 934.9 727.9 963.2 728.2 991.7 728.5 1014.3 728.7 1027.9 729.0 1033.2 729.3 1034.1 729.5 1033.5 729.8 1028.5 730.1 1015.2 730.3 992.8 730.6 964.5 730.9 936.5 731.1 915.8 731.4 908.3 731.7 916.1 732.0 936.9 732.2 965.3 732.5 993.9 732.8 1016.5 733.0 1030.1 733.3 1035.4 733.6 1036.2 733.8 1035.6 734.1 1030.6 734.4 1017.3 734.7 995.0 734.9 966.8 735.2 938.9 735.5 918.5 735.7 911.1 736.0 918.9 736.3 939.7 736.5 967.7 736.8 995.9 737.1 1018.2 737.4 1031.5 737.6 1036.7 737.9 1037.4 738.2 1036.7 738.4 1031.7 738.7 1018.5 739.0 996.5 739.2 968.8 739.5 941.4 739.8 921.3 740.0 914.0 740.3 921.6 740.6 941.9 740.9 969.3 741.1 996.8 741.4 1018.6 741.7 1031.5 741.9 1036.5 742.2 1037.1 742.5 1036.4 742.7 1031.4 743.0 1018.5 743.3 997.1 743.6 970.1 743.8 943.5 744.1 924.0 744.4 917.0 744.6 924.4 744.9 944.0 745.2 970.6 745.4 997.2 745.7 1018.2 746.0 1030.6 746.3 1035.4 746.5 1035.9 746.8 1035.2 747.1 1030.4 747.3 1017.9 747.6 997.3 747.9 971.3 748.1 945.8 748.4 927.1 748.7 920.4 748.9 927.5 749.2 946.4 749.5 971.9 749.8 997.4 750.0 1017.6 750.3 1029.5 750.6 1034.1 750.8 1034.6 751.1 1033.9 751.4 1029.3 751.6 1017.3 751.9 997.5 752.2 972.6 752.5 947.9 752.7 929.7 753.0 923.1 753.3 929.9 753.5 948.0 753.8 972.6 754.1 997.4 754.3 1017.0 754.6 1028.7 754.9 1033.1 755.2 1033.7 755.4 1033.1 755.7 1028.6 756.0 1016.9 756.2 997.4 756.5 972.7 756.8 948.3 757.0 930.4 757.3 923.8 757.6 930.4 757.8 948.4 758.1 972.8 758.4 997.4 758.7 1016.9 758.9 1028.6 759.2 1033.1 759.5 1033.7 759.7 1033.2 760.0 1028.7 760.3 1017.0 760.5 997.6 760.8 973.0 761.1 948.5 761.4 930.6 761.6 924.0 761.9 930.6 762.2 948.6 762.4 973.1 762.7 997.8 763.0 1017.4 763.2 1029.1 763.5 1033.7 763.8 1034.3 764.1 1033.8 764.3 1029.3 764.6 1017.6 764.9 998.1 765.1 973.4 765.4 948.9 765.7 930.8 765.9 924.2 766.2 930.9 766.5 949.0 766.8 973.6 767.0 998.5 767.3 1018.2 767.6 1030.0 767.8 1034.6 768.1 1035.3 768.4 1034.7 768.6 1030.3 768.9 1018.6 769.2 999.0 769.4 974.3 769.7 949.7 770.0 931.7 770.3 925.1 770.5 931.9 770.8 950.1 771.1 974.8 771.3 999.8 771.6 1019.6 771.9 1031.6 772.1 1036.3 772.4 1037.1 772.7 1036.7 773.0 1032.4 773.2 1020.7 773.5 1001.1 773.8 976.3 774.0 951.6 774.3 933.4 774.6 926.7 774.8 933.6 775.1 952.2 775.4 977.3 775.7 1002.8 775.9 1023.1 776.2 1035.4 776.5 1040.3 776.7 1041.2 777.0 1040.8 777.3 1036.5 777.5 1024.7 777.8 1004.7 778.1 979.4 778.3 954.2 778.6 935.7 778.9 928.9 779.2 936.0 779.4 954.9 779.7 980.7 780.0 1006.6 780.2 1027.3 780.5 1039.7 780.8 1044.7 781.0 1045.5 781.3 1045.1 781.6 1040.7 781.9 1028.7 782.1 1008.6 782.4 983.3 782.7 958.2 782.9 939.9 783.2 933.4 783.5 940.7 783.7 959.6 784.0 985.2 784.3 1010.8 784.6 1031.2 784.8 1043.4 785.1 1048.3 785.4 1049.1 785.6 1048.6 785.9 1044.2 786.2 1032.4 786.4 1012.7 786.7 987.7 787.0 963.0 787.2 945.0 787.5 938.5 787.8 945.4 788.1 963.8 788.3 988.6 788.6 1013.5 788.9 1033.1 789.1 1044.9 789.4 1049.4 789.7 1049.9 789.9 1049.4 790.2 1044.9 790.5 1033.3 790.8 1014.1 791.0 989.8 791.3 965.9 791.6 948.4 791.8 942.1 792.1 948.8 792.4 966.6 792.6 990.6 792.9 1014.7 793.2 1033.7 793.5 1045.0 793.7 1049.4 794.0 1049.9 794.3 1049.4 794.5 1045.1 794.8 1033.9 795.1 1015.4 795.3 992.0 795.6 969.0 795.9 952.2 796.1 946.2 796.4 952.7 796.7 969.8 797.0 992.9 797.2 1016.0 797.5 1034.3 797.8 1045.2 798.0 1049.4 798.3 1049.9 798.6 1049.4 798.8 1045.2 799.1 1034.5 799.4 1016.5 799.7 993.9 799.9 971.5 800.2 955.1 800.5 949.2 800.7 955.4 801.0 971.9 801.3 994.3 801.5 1016.9 801.8 1034.7 802.1 1045.3 802.4 1049.4 802.6 1049.9 802.9 1049.4 803.2 1045.3 803.4 1034.7 803.7 1017.0 804.0 994.6 804.2 972.4 804.5 956.0 804.8 950.0 805.1 956.0 805.3 972.4 805.6 994.6 805.9 1017.0 806.1 1034.7 806.4 1045.3 806.7 1049.4 806.9 1049.9 807.2 1049.4 807.5 1045.3 807.7 1034.7 808.0 1017.0 808.3 994.6 808.6 972.3 808.8 956.0 809.1 949.9 809.4 955.9 809.6 972.3 809.9 994.5 810.2 1016.9 810.4 1034.7 810.7 1045.3 811.0 1049.4 811.3 1049.9 811.5 1049.4 811.8 1045.3 812.1 1034.7 812.3 1016.9 812.6 994.4 812.9 972.2 813.1 955.8 813.4 949.7 813.7 955.7 814.0 972.1 814.2 994.4 814.5 1016.9 814.8 1034.6 815.0 1045.3 815.3 1049.4 815.6 1049.9 815.8 1049.4 816.1 1045.3 816.4 1034.6 816.6 1016.8 816.9 994.3 817.2 971.9 817.5 955.5 817.7 949.4 818.0 955.4 818.3 971.9 818.5 994.2 818.8 1016.8 819.1 1034.6 819.3 1045.3 819.6 1049.4 819.9 1049.9 820.2 1049.4 820.4 1045.3 820.7 1034.6 821.0 1016.7 821.2 994.1 821.5 971.8 821.8 955.3 822.0 949.2 822.3 955.3 822.6 971.7 822.9 994.1 823.1 1016.7 823.4 1034.6 823.7 1045.3 823.9 1049.4 824.2 1049.9 824.5 1049.4 824.7 1045.3 825.0 1034.6 825.3 1016.8 825.5 994.4 825.8 972.2 826.1 955.9 826.4 949.9 826.6 956.0 826.9 972.5 827.2 994.7 827.4 1017.1 827.7 1034.8 828.0 1045.3 828.2 1049.4 828.5 1049.9 828.8 1049.4 829.1 1045.4 829.3 1034.9 829.6 1017.5 829.9 995.6 830.1 974.0 830.4 958.2 830.7 952.6 830.9 958.8 831.2 974.9 831.5 996.6 831.8 1018.3 832.0 1035.3 832.3 1045.5 832.6 1049.4 832.8 1049.9 833.1 1049.4 833.4 1045.6 833.6 1035.6 833.9 1019.1 834.2 998.3 834.4 977.7 834.7 962.7 835.0 957.3 835.3 963.1 835.5 978.4 835.8 999.0 836.1 1019.7 836.3 1036.0 836.6 1045.7 836.9 1049.4 837.1 1049.9 837.4 1049.4 837.7 1045.7 838.0 1036.2 838.2 1020.2 838.5 1000.1 838.8 980.3 839.0 965.8 839.3 960.7 839.6 966.3 839.8 981.0 840.1 1000.9 840.4 1020.8 840.7 1036.5 840.9 1045.9 841.2 1049.5 841.5 1049.9 841.7 1049.5 842.0 1045.9 842.3 1036.8 842.5 1021.5 842.8 1002.4 843.1 983.5 843.4 969.7 843.6 964.7 843.9 970.0 844.2 984.0 844.4 1002.9 844.7 1022.0 845.0 1037.0 845.2 1046.0 845.5 1049.5 845.8 1049.9 846.0 1049.5 846.3 1046.0 846.6 1037.1 846.9 1022.3 847.1 1003.5 847.4 985.0 847.7 971.4 847.9 966.5 848.2 971.6 848.5 985.3 848.7 1003.9 849.0 1022.5 849.3 1037.3 849.6 1046.1 849.8 1049.5 850.1 1049.9 850.4 1049.5 850.6 1046.1 850.9 1037.3 851.2 1022.7 851.4 1004.3 851.7 986.0 852.0 972.6 852.3 967.6 852.5 972.6 852.8 986.1 853.1 1004.4 853.3 1022.8 853.6 1037.4 853.9 1046.1 854.1 1049.5 854.4 1049.9 854.7 1049.5 854.9 1046.1 855.2 1037.4 855.5 1022.8 855.8 1004.4 856.0 986.1 856.3 972.7 856.6 967.7 856.8 972.7 857.1 986.1 857.4 1004.4 857.6 1022.8 857.9 1037.4 858.2 1046.1 858.5 1049.5 858.7 1049.9 859.0 1049.5 859.3 1046.1 859.5 1037.4 859.8 1022.8 860.1 1004.3 860.3 986.0 860.6 972.5 860.9 967.6 861.2 972.5 861.4 986.0 861.7 1004.3 862.0 1022.7 862.2 1037.4 862.5 1046.1 862.8 1049.5 863.0 1049.9 863.3 1049.5 863.6 1046.1 863.8 1037.4 864.1 1022.8 864.4 1004.3 864.7 986.0 864.9 972.6 865.2 967.6 865.5 972.6 865.7 986.0 866.0 1004.3 866.3 1022.8 866.5 1037.4 866.8 1046.1 867.1 1049.5 867.4 1049.9 867.6 1049.5 867.9 1046.1 868.2 1037.4 868.4 1022.9 868.7 1004.5 869.0 986.4 869.2 973.1 869.5 968.3 869.8 973.3 870.1 986.8 870.3 1004.9 870.6 1023.2 870.9 1037.6 871.1 1046.2 871.4 1049.5 871.7 1049.9 871.9 1049.5 872.2 1046.2 872.5 1037.7 872.7 1023.5 873.0 1005.6 873.3 987.9 873.6 975.0 873.8 970.3 874.1 975.2 874.4 988.3 874.6 1006.0 874.9 1023.8 875.2 1037.9 875.4 1046.3 875.7 1049.5 876.0 1049.9 876.3 1049.5 876.5 1046.3 876.8 1038.0 877.1 1024.2 877.3 1006.8 877.6 989.6 877.9 977.0 878.1 972.4 878.4 977.2 878.7 989.9 879.0 1007.1 879.2 1024.5 879.5 1038.2 879.8 1046.3 880.0 1049.5 880.3 1049.9 880.6 1049.5 880.8 1046.4 881.1 1038.2 881.4 1024.7 881.7 1007.6 881.9 990.7 882.2 978.3 882.5 973.8 882.7 978.5 883.0 991.0 883.3 1007.9 883.5 1024.9 883.8 1038.4 884.1 1046.4 884.3 1049.5 884.6 1049.9 884.9 1049.5 885.2 1046.4 885.4 1038.4 885.7 1025.1 886.0 1008.4 886.2 991.8 886.5 979.7 886.8 975.4 887.0 980.0 887.3 992.2 887.6 1008.8 887.9 1025.5 888.1 1038.6 888.4 1046.5 888.7 1049.5 888.9 1049.9 889.2 1049.5 889.5 1046.5 889.7 1038.7 890.0 1025.7 890.3 1009.3 890.6 993.0 890.8 981.0 891.1 976.5 891.4 981.0 891.6 993.0 891.9 1009.3 892.2 1025.7 892.4 1038.7 892.7 1046.5 893.0 1049.5 893.2 1049.9 893.5 1049.5 893.8 1046.5 894.1 1038.7 894.3 1025.7 894.6 1009.2 894.9 992.9 895.1 980.9 895.4 976.5 895.7 980.9 895.9 992.9 896.2 1009.2 896.5 1025.7 896.8 1038.7 897.0 1046.5 897.3 1049.5 897.6 1049.9 897.8 1049.5 898.1 1046.5 898.4 1038.7 898.6 1025.7 898.9 1009.2 899.2 992.9 899.5 980.8 899.7 976.4 900.0 980.8 900.3 992.8 900.5 1009.1 900.8 1025.6 901.1 1038.7 901.3 1046.5 901.6 1049.5 901.9 1049.9 902.1 1049.5 902.4 1046.5 902.7 1038.7 903.0 1025.6 903.2 1009.1 903.5 992.7 903.8 980.7 904.0 976.2 904.3 980.6 904.6 992.7 904.8 1009.1 905.1 1025.6 905.4 1038.6 905.7 1046.5 905.9 1049.5 906.2 1049.9 906.5 1049.5 906.7 1046.5 907.0 1038.6 907.3 1025.5 907.5 1009.0 907.8 992.6 908.1 980.5 908.4 976.1 908.6 980.5 908.9 992.6 909.2 1009.0 909.4 1025.5 909.7 1038.6 910.0 1046.5 910.2 1049.5 910.5 1049.9 910.8 1049.5 911.0 1046.5 911.3 1038.6 911.6 1025.5 911.9 1009.0 912.1 992.6 912.4 980.5 912.7 976.0 912.9 980.5 913.2 992.6 913.5 1009.0 913.7 1025.5 914.0 1038.6 914.3 1046.4 914.6 1049.5 914.8 1049.9 915.1 1049.5 915.4 1046.4 915.6 1038.6 915.9 1025.5 916.2 1009.0 916.4 992.7 916.7 980.7 917.0 976.3 917.3 980.9 917.5 993.0 917.8 1009.3 918.1 1025.8 918.3 1038.7 918.6 1046.5 918.9 1049.5 919.1 1049.9 919.4 1049.5 919.7 1046.5 920.0 1038.9 920.2 1026.2 920.5 1010.3 920.8 994.5 921.0 983.0 921.3 978.8 921.6 983.3 921.8 995.0 922.1 1010.8 922.4 1026.6 922.6 1039.1 922.9 1046.6 923.2 1049.5 923.5 1049.8 923.7 1049.5 924.0 1046.6 924.3 1039.3 924.5 1027.0 924.8 1011.6 925.1 996.3 925.3 985.2 925.6 981.2 925.9 985.4 926.2 996.7 926.4 1012.0 926.7 1027.4 927.0 1039.5 927.2 1046.7 927.5 1049.5 927.8 1049.8 928.0 1049.5 928.3 1046.7 928.6 1039.6 928.9 1027.7 929.1 1012.7 929.4 997.9 929.7 987.1 929.9 983.2 930.2 987.3 930.5 998.2 930.7 1013.0 931.0 1027.9 931.3 1039.7 931.5 1046.8 931.8 1049.5 932.1 1049.8 932.4 1049.5 932.6 1046.8 932.9 1039.7 933.2 1027.9 933.4 1013.1 933.7 998.4 934.0 987.5 934.2 983.5 934.5 987.5 934.8 998.4 935.1 1013.1 935.3 1028.0 935.6 1039.7 935.9 1046.8 936.1 1049.5 936.4 1049.8 936.7 1049.5 936.9 1046.8 937.2 1039.7 937.5 1028.0 937.8 1013.1 938.0 998.4 938.3 987.6 938.6 983.6 938.8 987.6 939.1 998.4 939.4 1013.1 939.6 1028.0 939.9 1039.7 940.2 1046.8 940.4 1049.5 940.7 1049.8 941.0 1049.5 941.3 1046.8 941.5 1039.7 941.8 1028.0 942.1 1013.1 942.3 998.4 942.6 987.6 942.9 983.6 943.1 987.6 943.4 998.4 943.7 1013.1 944.0 1028.0 944.2 1039.7 944.5 1046.7 944.8 1049.5 945.0 1049.8 945.3 1049.5 945.6 1046.7 945.8 1039.7 946.1 1028.0 946.4 1013.1 946.7 998.4 946.9 987.6 947.2 983.6 947.5 987.6 947.7 998.4 948.0 1013.1 948.3 1028.0 948.5 1039.7 948.8 1046.7 949.1 1049.4 949.3 1049.8 949.6 1049.4 949.9 1046.7 950.2 1039.7 950.4 1028.0 950.7 1013.1 951.0 998.4 951.2 987.6 951.5 983.6 951.8 987.6 952.0 998.4 952.3 1013.1 952.6 1028.0 952.9 1039.7 953.1 1046.7 953.4 1049.4 953.7 1049.8 953.9 1049.4 954.2 1046.7 954.5 1039.7 954.7 1028.0 955.0 1013.1 955.3 998.4 955.6 987.6 955.8 983.7 956.1 987.6 956.4 998.5 956.6 1013.2 956.9 1028.0 957.2 1039.7 957.4 1046.7 957.7 1049.4 958.0 1049.8 958.3 1049.4 958.5 1046.7 958.8 1039.7 959.1 1028.0 959.3 1013.2 959.6 998.6 959.9 987.8 960.1 983.9 960.4 987.9 960.7 998.8 960.9 1013.4 961.2 1028.2 961.5 1039.8 961.8 1046.8 962.0 1049.4 962.3 1049.8 962.6 1049.4 962.8 1046.8 963.1 1039.9 963.4 1028.5 963.6 1014.2 963.9 1000.0 964.2 989.7 964.5 986.0 964.7 989.9 965.0 1000.4 965.3 1014.6 965.5 1028.9 965.8 1040.1 966.1 1046.8 966.3 1049.4 966.6 1049.8 966.9 1049.4 967.2 1046.9 967.4 1040.2 967.7 1029.2 968.0 1015.2 968.2 1001.5 968.5 991.4 968.8 987.7 969.0 991.6 969.3 1001.8 969.6 1015.6 969.8 1029.4 970.1 1040.4 970.4 1046.9 970.7 1049.4 970.9 1049.8 971.2 1049.4 971.5 1046.9 971.7 1040.5 972.0 1029.7 972.3 1016.2 972.5 1002.9 972.8 993.1 973.1 989.6 973.4 993.3 973.6 1003.2 973.9 1016.6 974.2 1030.1 974.4 1040.7 974.7 1047.0 975.0 1049.4 975.2 1049.7 975.5 1049.4 975.8 1047.0 976.1 1040.7 976.3 1030.3 976.6 1017.1 976.9 1004.0 977.1 994.3 977.4 990.8 977.7 994.4 977.9 1004.0 978.2 1017.1 978.5 1030.3 978.7 1040.8 979.0 1047.0 979.3 1049.4 979.6 1049.7 979.8 1049.4 980.1 1047.0 980.4 1040.8 980.6 1030.3 980.9 1017.2 981.2 1004.1 981.4 994.5 981.7 991.0 982.0 994.5 982.3 1004.1 982.5 1017.2 982.8 1030.4 983.1 1040.8 983.3 1047.0 983.6 1049.4 983.9 1049.7 984.1 1049.4 984.4 1047.0 984.7 1040.8 985.0 1030.4 985.2 1017.2 985.5 1004.2 985.8 994.6 986.0 991.0 986.3 994.6 986.6 1004.2 986.8 1017.2 987.1 1030.4 987.4 1040.8 987.6 1047.0 987.9 1049.4 988.2 1049.7 988.5 1049.4 988.7 1047.0 989.0 1040.8 989.3 1030.4 989.5 1017.2 989.8 1004.2 990.1 994.6 990.3 991.0 990.6 994.6 990.9 1004.2 991.2 1017.2 991.4 1030.4 991.7 1040.8 992.0 1047.0 992.2 1049.4 992.5 1049.7 992.8 1049.4 993.0 1047.0 993.3 1040.8 993.6 1030.4 993.9 1017.2 994.1 1004.2 994.4 994.6 994.7 991.1 994.9 994.6 995.2 1004.2 995.5 1017.2 995.7 1030.4 996.0 1040.8 996.3 1047.0 996.6 1049.4 996.8 1049.7 997.1 1049.4 997.4 1047.0 997.6 1040.8 997.9 1030.4 998.2 1017.2 998.4 1004.2 998.7 994.7 999.0 991.1 999.2 994.7 999.5 1004.3 999.8 1017.3 1000.1 1030.4 1000.3 1040.8 1000.6 1047.0 1000.9 1049.4 1001.1 1049.7 1001.4 1049.4 1001.7 1047.0 1001.9 1040.8 1002.2 1030.4 1002.5 1017.3 1002.8 1004.4 1003.0 994.8 1003.3 991.4 1003.6 995.0 1003.8 1004.6 1004.1 1017.5 1004.4 1030.6 1004.6 1040.9 1004.9 1047.0 1005.2 1049.4 1005.5 1049.7 1005.7 1049.4 1006.0 1047.0 1006.3 1041.0 1006.5 1031.1 1006.8 1018.5 1007.1 1006.2 1007.3 997.2 1007.6 993.9 1007.9 997.4 1008.1 1006.6 1008.4 1019.0 1008.7 1031.4 1009.0 1041.2 1009.2 1047.1 1009.5 1049.4 1009.8 1049.7 1010.0 1049.4 1010.3 1047.1 1010.6 1041.3 1010.8 1031.6 1011.1 1019.4 1011.4 1007.3 1011.7 998.4 1011.9 995.2 1012.2 998.5 1012.5 1007.5 1012.7 1019.6 1013.0 1031.8 1013.3 1041.4 1013.5 1047.2 1013.8 1049.4 1014.1 1049.6 1014.4 1049.4 1014.6 1047.2 1014.9 1041.5 1015.2 1032.0 1015.4 1020.1 1015.7 1008.3 1016.0 999.6 1016.2 996.5 1016.5 999.8 1016.8 1008.5 1017.0 1020.3 1017.3 1032.2 1017.6 1041.6 1017.9 1047.2 1018.1 1049.4 1018.4 1049.6 1018.7 1049.4 1018.9 1047.2 1019.2 1041.6 1019.5 1032.3 1019.7 1020.4 1020.0 1008.8 1020.3 1000.1 1020.6 997.0 1020.8 1000.2 1021.1 1008.8 1021.4 1020.5 1021.6 1032.3 1021.9 1041.6 1022.2 1047.2 1022.4 1049.3 1022.7 1049.6 1023.0 1049.3 1023.3 1047.2 1023.5 1041.6 1023.8 1032.3 1024.1 1020.5 1024.3 1008.9 1024.6 1000.3 1024.9 997.1 1025.1 1000.3 1025.4 1008.9 1025.7 1020.5 1025.9 1032.3 1026.2 1041.6 1026.5 1047.2 1026.8 1049.3 1027.0 1049.6 1027.3 1049.3 1027.6 1047.2 1027.8 1041.6 1028.1 1032.3 1028.4 1020.6 1028.6 1008.9 1028.9 1000.3 1029.2 997.2 1029.5 1000.4 1029.7 1008.9 1030.0 1020.6 1030.3 1032.3 1030.5 1041.6 1030.8 1047.2 1031.1 1049.3 1031.3 1049.6 1031.6 1049.3 1031.9 1047.2 1032.2 1041.6 1032.4 1032.3 1032.7 1020.6 1033.0 1009.0 1033.2 1000.4 1033.5 997.2 1033.8 1000.4 1034.0 1009.0 1034.3 1020.6 1034.6 1032.3 1034.9 1041.6 1035.1 1047.2 1035.4 1049.3 1035.7 1049.6 1035.9 1049.3 1036.2 1047.2 1036.5 1041.6 1036.7 1032.3 1037.0 1020.6 1037.3 1009.0 1037.5 1000.4 1037.8 997.3 1038.1 1000.4 1038.4 1009.0 1038.6 1020.6 1038.9 1032.3 1039.2 1041.6 1039.4 1047.2 1039.7 1049.3 1040.0 1049.6 1040.2 1049.3 1040.5 1047.2 1040.8 1041.6 1041.1 1032.3 1041.3 1020.6 1041.6 1009.1 1041.9 1000.5 1042.1 997.4 1042.4 1000.5 1042.7 1009.1 1042.9 1020.7 1043.2 1032.4 1043.5 1041.6 1043.8 1047.2 1044.0 1049.3 1044.3 1049.6 1044.6 1049.3 1044.8 1047.1 1045.1 1041.6 1045.4 1032.4 1045.6 1020.7 1045.9 1009.2 1046.2 1000.7 1046.4 997.6 1046.7 1000.7 1047.0 1009.3 1047.3 1020.8 1047.5 1032.5 1047.8 1041.7 1048.1 1047.2 1048.3 1049.3 1048.6 1049.5 1048.9 1049.3 1049.1 1047.2 1049.4 1041.7 1049.7 1032.7 1050.0 1021.3 1050.2 1010.0 1050.5 1001.7 1050.8 998.8 1051.0 1001.9 1051.3 1010.3 1051.6 1021.5 1051.8 1032.9 1052.1 1041.9 1052.4 1047.2 1052.7 1049.3 1052.9 1049.5 1053.2 1049.3 1053.5 1047.2 1053.7 1041.9 1054.0 1033.1 1054.3 1021.9 1054.5 1010.9 1054.8 1002.9 1055.1 1000.0 1055.3 1003.0 1055.6 1011.2 1055.9 1022.2 1056.2 1033.3 1056.4 1042.0 1056.7 1047.2 1057.0 1049.3 1057.2 1049.5 1057.5 1049.3 1057.8 1047.3 1058.0 1042.1 1058.3 1033.5 1058.6 1022.6 1058.9 1011.9 1059.1 1004.0 1059.4 1001.1 1059.7 1004.1 1059.9 1012.1 1060.2 1022.9 1060.5 1033.7 1060.7 1042.2 1061.0 1047.3 1061.3 1049.2 1061.6 1049.5 1061.8 1049.2 1062.1 1047.3 1062.4 1042.3 1062.6 1033.9 1062.9 1023.3 1063.2 1012.9 1063.4 1005.2 1063.7 1002.4 1064.0 1005.3 1064.3 1013.0 1064.5 1023.5 1064.8 1034.0 1065.1 1042.3 1065.3 1047.3 1065.6 1049.2 1065.9 1049.5 1066.1 1049.2 1066.4 1047.3 1066.7 1042.3 1066.9 1034.0 1067.2 1023.5 1067.5 1013.1 1067.8 1005.4 1068.0 1002.6 1068.3 1005.5 1068.6 1013.1 1068.8 1023.5 1069.1 1034.0 1069.4 1042.3 1069.6 1047.3 1069.9 1049.2 1070.2 1049.5 1070.5 1049.2 1070.7 1047.3 1071.0 1042.3 1071.3 1034.0 1071.5 1023.5 1071.8 1013.2 1072.1 1005.5 1072.3 1002.7 1072.6 1005.5 1072.9 1013.2 1073.2 1023.6 1073.4 1034.0 1073.7 1042.3 1074.0 1047.3 1074.2 1049.2 1074.5 1049.5 1074.8 1049.2 1075.0 1047.3 1075.3 1042.3 1075.6 1034.0 1075.8 1023.6 1076.1 1013.2 1076.4 1005.6 1076.7 1002.8 1076.9 1005.6 1077.2 1013.2 1077.5 1023.6 1077.7 1034.1 1078.0 1042.3 1078.3 1047.3 1078.5 1049.2 1078.8 1049.4 1079.1 1049.2 1079.4 1047.3 1079.6 1042.3 1079.9 1034.1 1080.2 1023.7 1080.4 1013.5 1080.7 1006.0 1081.0 1003.3 1081.2 1006.3 1081.5 1013.9 1081.8 1024.2 1082.1 1034.5 1082.3 1042.5 1082.6 1047.3 1082.9 1049.2 1083.1 1049.4" stroke="#555" stroke-width="1.0" fill="none" stroke-linejoin="miter" stroke-miterlimit="2"/>
<path d="M671.0 1052.0 671.3 1051.9 671.5 1050.0 671.8 1039.0 672.1 1008.6 672.3 954.6 672.6 887.0 672.9 829.5 673.2 806.9 673.4 829.7 673.7 887.3 674.0 954.9 674.2 1008.9 674.5 1039.1 674.8 1050.0 675.0 1051.9 675.3 1052.0 675.6 1051.9 675.9 1050.0 676.1 1039.2 676.4 1009.5 676.7 956.5 676.9 890.2 677.2 833.9 677.5 811.8 677.7 834.0 678.0 890.3 678.3 956.5 678.6 1009.5 678.8 1039.3 679.1 1050.0 679.4 1051.9 679.6 1052.0 679.9 1051.9 680.2 1050.0 680.4 1039.3 680.7 1009.5 681.0 956.6 681.2 890.5 681.5 834.2 681.8 812.0 682.1 834.2 682.3 890.5 682.6 956.6 682.9 1009.6 683.1 1039.3 683.4 1050.0 683.7 1051.9 683.9 1052.0 684.2 1051.9 684.5 1050.0 684.8 1039.3 685.0 1009.6 685.3 956.7 685.6 890.6 685.8 834.4 686.1 812.2 686.4 834.4 686.6 890.6 686.9 956.7 687.2 1009.6 687.5 1039.3 687.7 1050.0 688.0 1051.9 688.3 1051.9 688.5 1051.9 688.8 1050.0 689.1 1039.3 689.3 1009.7 689.6 957.2 689.9 891.8 690.2 836.5 690.4 815.1 690.7 837.6 691.0 893.3 691.2 958.5 691.5 1010.5 691.8 1039.6 692.0 1050.0 692.3 1051.9 692.6 1051.9 692.8 1051.9 693.1 1050.0 693.4 1039.7 693.7 1011.2 693.9 960.6 694.2 897.5 694.5 844.0 694.7 823.2 695.0 844.7 695.3 898.4 695.5 961.4 695.8 1011.7 696.1 1039.9 696.4 1050.0 696.6 1051.8 696.9 1051.9 697.2 1051.8 697.4 1050.0 697.7 1040.0 698.0 1012.2 698.2 962.7 698.5 901.1 698.8 848.8 699.1 828.5 699.3 849.5 699.6 902.0 699.9 963.5 700.1 1012.6 700.4 1040.2 700.7 1050.1 700.9 1051.8 701.2 1051.9 701.5 1051.8 701.7 1050.1 702.0 1040.3 702.3 1013.1 702.6 964.9 702.8 904.9 703.1 854.0 703.4 834.2 703.6 854.6 703.9 905.8 704.2 965.8 704.4 1013.6 704.7 1040.4 705.0 1050.1 705.3 1051.8 705.5 1051.8 705.8 1051.8 706.1 1050.1 706.3 1040.5 706.6 1014.1 706.9 967.1 707.1 908.5 707.4 858.9 707.7 839.6 708.0 859.5 708.2 909.5 708.5 967.9 708.8 1014.6 709.0 1040.7 709.3 1050.1 709.6 1051.8 709.8 1051.8 710.1 1051.7 710.4 1050.1 710.6 1040.8 710.9 1015.1 711.2 969.4 711.5 912.4 711.7 864.1 712.0 845.2 712.3 864.5 712.5 913.0 712.8 969.9 713.1 1015.4 713.3 1040.9 713.6 1050.1 713.9 1051.7 714.2 1051.8 714.4 1051.7 714.7 1050.1 715.0 1040.9 715.2 1015.5 715.5 970.2 715.8 913.7 716.0 865.6 716.3 846.7 716.6 865.7 716.9 913.8 717.1 970.3 717.4 1015.5 717.7 1040.9 717.9 1050.1 718.2 1051.7 718.5 1051.7 718.7 1051.7 719.0 1050.0 719.3 1040.9 719.5 1015.6 719.8 970.5 720.1 914.1 720.4 866.3 720.6 847.4 720.9 866.3 721.2 914.2 721.4 970.5 721.7 1015.6 722.0 1040.9 722.2 1050.0 722.5 1051.6 722.8 1051.7 723.1 1051.6 723.3 1050.0 723.6 1040.9 723.9 1015.6 724.1 970.6 724.4 914.4 724.7 866.7 724.9 847.9 725.2 866.7 725.5 914.5 725.8 970.7 726.0 1015.6 726.3 1040.9 726.6 1050.0 726.8 1051.6 727.1 1051.6 727.4 1051.6 727.6 1050.0 727.9 1040.9 728.2 1015.7 728.5 970.9 728.7 914.9 729.0 867.4 729.3 848.7 729.5 867.5 729.8 915.1 730.1 971.0 730.3 1015.8 730.6 1040.9 730.9 1049.9 731.1 1051.5 731.4 1051.6 731.7 1051.5 732.0 1049.9 732.2 1040.9 732.5 1015.9 732.8 971.5 733.0 916.1 733.3 869.1 733.6 850.8 733.8 869.6 734.1 916.8 734.4 972.1 734.7 1016.3 734.9 1041.0 735.2 1049.9 735.5 1051.5 735.7 1051.5 736.0 1051.5 736.3 1049.9 736.5 1041.1 736.8 1016.7 737.1 973.3 737.4 919.2 737.6 873.4 737.9 855.5 738.2 873.8 738.4 919.9 738.7 973.9 739.0 1017.0 739.2 1041.2 739.5 1049.9 739.8 1051.4 740.0 1051.5 740.3 1051.4 740.6 1049.9 740.9 1041.2 741.1 1017.4 741.4 974.9 741.7 922.1 741.9 877.3 742.2 859.8 742.5 877.8 742.7 922.9 743.0 975.6 743.3 1017.7 743.6 1041.3 743.8 1049.8 744.1 1051.3 744.4 1051.3 744.6 1051.3 744.9 1049.8 745.2 1041.4 745.4 1018.1 745.7 976.9 746.0 925.6 746.3 882.1 746.5 865.2 746.8 882.8 747.1 926.5 747.3 977.7 747.6 1018.6 747.9 1041.4 748.1 1049.6 748.4 1051.1 748.7 1051.1 748.9 1051.0 749.2 1049.6 749.5 1041.5 749.8 1019.1 750.0 979.4 750.3 930.1 750.6 888.3 750.8 872.1 751.1 889.0 751.4 931.1 751.6 980.3 751.9 1019.5 752.2 1041.5 752.5 1049.4 752.7 1050.8 753.0 1050.8 753.3 1050.8 753.5 1049.3 753.8 1041.5 754.1 1019.7 754.3 980.9 754.6 932.6 754.9 891.7 755.2 875.6 755.4 891.9 755.7 933.0 756.0 981.2 756.2 1019.7 756.5 1041.3 756.8 1049.1 757.0 1050.5 757.3 1050.5 757.6 1050.4 757.8 1049.0 758.1 1041.2 758.4 1019.8 758.7 981.5 758.9 933.8 759.2 893.3 759.5 877.4 759.7 893.4 760.0 934.0 760.3 981.6 760.5 1019.7 760.8 1041.1 761.1 1048.8 761.4 1050.1 761.6 1050.2 761.9 1050.1 762.2 1048.7 762.4 1041.0 762.7 1019.7 763.0 981.8 763.2 934.4 763.5 894.2 763.8 878.3 764.1 894.3 764.3 934.5 764.6 981.8 764.9 1019.6 765.1 1040.8 765.4 1048.5 765.7 1049.8 765.9 1049.8 766.2 1049.8 766.5 1048.4 766.8 1040.7 767.0 1019.5 767.3 981.8 767.6 934.7 767.8 894.7 768.1 879.0 768.4 894.8 768.6 934.8 768.9 981.8 769.2 1019.5 769.4 1040.6 769.7 1048.2 770.0 1049.5 770.3 1049.5 770.5 1049.5 770.8 1048.1 771.1 1040.5 771.3 1019.4 771.6 981.9 771.9 935.1 772.1 895.3 772.4 879.6 772.7 895.4 773.0 935.2 773.2 982.0 773.5 1019.4 773.8 1040.4 774.0 1048.0 774.3 1049.3 774.6 1049.3 774.8 1049.3 775.1 1047.9 775.4 1040.3 775.7 1019.4 775.9 982.2 776.2 935.7 776.5 896.3 776.7 880.8 777.0 896.4 777.3 936.0 777.5 982.4 777.8 1019.5 778.1 1040.3 778.3 1047.8 778.6 1049.1 778.9 1049.2 779.2 1049.1 779.4 1047.8 779.7 1040.3 780.0 1019.7 780.2 982.9 780.5 937.1 780.8 898.3 781.0 883.3 781.3 898.9 781.6 938.0 781.9 983.7 782.1 1020.1 782.4 1040.5 782.7 1047.8 782.9 1049.1 783.2 1049.2 783.5 1049.1 783.7 1047.8 784.0 1040.6 784.3 1020.8 784.6 985.6 784.8 941.7 785.1 904.7 785.4 890.3 785.6 905.2 785.9 942.6 786.2 986.4 786.4 1021.3 786.7 1040.8 787.0 1047.9 787.2 1049.1 787.5 1049.2 787.8 1049.1 788.1 1047.9 788.3 1040.9 788.6 1021.6 788.9 987.2 789.1 944.4 789.4 908.1 789.7 893.9 789.9 908.4 790.2 944.9 790.5 987.7 790.8 1021.8 791.0 1041.0 791.3 1047.9 791.6 1049.1 791.8 1049.2 792.1 1049.1 792.4 1047.9 792.6 1041.1 792.9 1022.2 793.2 988.6 793.5 946.8 793.7 911.5 794.0 897.7 794.3 912.0 794.5 947.6 794.8 989.3 795.1 1022.6 795.3 1041.2 795.6 1047.9 795.9 1049.1 796.1 1049.1 796.4 1049.1 796.7 1047.9 797.0 1041.3 797.2 1023.0 797.5 990.4 797.8 949.8 798.0 915.4 798.3 902.0 798.6 915.7 798.8 950.3 799.1 990.9 799.4 1023.2 799.7 1041.4 799.9 1047.9 800.2 1049.1 800.5 1049.1 800.7 1049.1 801.0 1047.9 801.3 1041.4 801.5 1023.5 801.8 991.5 802.1 951.6 802.4 917.7 802.6 904.4 802.9 917.8 803.2 951.8 803.4 991.7 803.7 1023.6 804.0 1041.5 804.2 1047.9 804.5 1049.1 804.8 1049.1 805.1 1049.1 805.3 1047.9 805.6 1041.5 805.9 1023.6 806.1 991.8 806.4 952.0 806.7 918.2 806.9 904.9 807.2 918.2 807.5 952.1 807.7 991.8 808.0 1023.6 808.3 1041.5 808.6 1047.9 808.8 1049.1 809.1 1049.1 809.4 1049.1 809.6 1047.9 809.9 1041.5 810.2 1023.7 810.4 991.9 810.7 952.2 811.0 918.4 811.3 905.1 811.5 918.4 811.8 952.2 812.1 991.9 812.3 1023.7 812.6 1041.5 812.9 1047.9 813.1 1049.1 813.4 1049.1 813.7 1049.1 814.0 1047.9 814.2 1041.5 814.5 1023.7 814.8 991.9 815.0 952.3 815.3 918.5 815.6 905.3 815.8 918.6 816.1 952.3 816.4 991.9 816.6 1023.7 816.9 1041.5 817.2 1047.9 817.5 1049.1 817.7 1049.1 818.0 1049.1 818.3 1047.9 818.5 1041.5 818.8 1023.7 819.1 992.0 819.3 952.4 819.6 918.8 819.9 905.5 820.2 918.8 820.4 952.5 820.7 992.1 821.0 1023.7 821.2 1041.5 821.5 1047.9 821.8 1049.1 822.0 1049.1 822.3 1049.1 822.6 1047.9 822.9 1041.5 823.1 1023.8 823.4 992.2 823.7 952.8 823.9 919.4 824.2 906.3 824.5 919.6 824.7 953.1 825.0 992.5 825.3 1023.9 825.5 1041.6 825.8 1047.9 826.1 1049.0 826.4 1049.1 826.6 1049.0 826.9 1047.9 827.2 1041.6 827.4 1024.2 827.7 993.2 828.0 954.6 828.2 922.0 828.5 909.2 828.8 922.4 829.1 955.3 829.3 993.8 829.6 1024.5 829.9 1041.8 830.1 1047.9 830.4 1049.0 830.7 1049.1 830.9 1049.0 831.2 1048.0 831.5 1041.9 831.8 1025.2 832.0 995.5 832.3 958.7 832.6 927.6 832.8 915.7 833.1 928.4 833.4 959.8 833.6 996.5 833.9 1025.8 834.2 1042.1 834.4 1048.0 834.7 1049.0 835.0 1049.1 835.3 1049.0 835.5 1048.0 835.8 1042.2 836.1 1026.1 836.3 997.4 836.6 961.7 836.9 931.4 837.1 919.6 837.4 931.7 837.7 962.2 838.0 997.8 838.2 1026.3 838.5 1042.3 838.8 1048.0 839.0 1049.0 839.3 1049.1 839.6 1049.0 839.8 1048.0 840.1 1042.3 840.4 1026.6 840.7 998.8 840.9 964.2 841.2 934.9 841.5 923.6 841.7 935.5 842.0 965.1 842.3 999.6 842.5 1027.1 842.8 1042.5 843.1 1048.0 843.4 1049.0 843.6 1049.1 843.9 1049.0 844.2 1048.0 844.4 1042.6 844.7 1027.4 845.0 1000.3 845.2 966.5 845.5 937.8 845.8 926.5 846.0 937.9 846.3 966.6 846.6 1000.4 846.9 1027.4 847.1 1042.6 847.4 1048.0 847.7 1049.0 847.9 1049.1 848.2 1049.0 848.5 1048.0 848.7 1042.6 849.0 1027.5 849.3 1000.6 849.6 967.0 849.8 938.4 850.1 927.1 850.4 938.4 850.6 967.0 850.9 1000.6 851.2 1027.5 851.4 1042.6 851.7 1048.0 852.0 1049.0 852.3 1049.0 852.5 1049.0 852.8 1048.0 853.1 1042.6 853.3 1027.5 853.6 1000.7 853.9 967.2 854.1 938.7 854.4 927.5 854.7 938.7 854.9 967.2 855.2 1000.7 855.5 1027.6 855.8 1042.6 856.0 1048.0 856.3 1049.0 856.6 1049.0 856.8 1049.0 857.1 1048.0 857.4 1042.6 857.6 1027.6 857.9 1000.8 858.2 967.3 858.5 938.9 858.7 927.7 859.0 938.9 859.3 967.4 859.5 1000.8 859.8 1027.6 860.1 1042.6 860.3 1048.0 860.6 1049.0 860.9 1049.0 861.2 1049.0 861.4 1048.0 861.7 1042.6 862.0 1027.6 862.2 1000.9 862.5 967.6 862.8 939.2 863.0 928.0 863.3 939.3 863.6 967.6 863.8 1001.0 864.1 1027.7 864.4 1042.6 864.7 1048.0 864.9 1049.0 865.2 1049.0 865.5 1049.0 865.7 1048.0 866.0 1042.6 866.3 1027.7 866.5 1001.2 866.8 968.0 867.1 939.8 867.4 928.8 867.6 940.0 867.9 968.2 868.2 1001.4 868.4 1027.9 868.7 1042.7 869.0 1048.0 869.2 1049.0 869.5 1049.0 869.8 1049.0 870.1 1048.0 870.3 1042.8 870.6 1028.2 870.9 1002.2 871.1 969.9 871.4 942.6 871.7 932.0 871.9 943.0 872.2 970.6 872.5 1002.8 872.7 1028.5 873.0 1042.9 873.3 1048.1 873.6 1049.0 873.8 1049.0 874.1 1049.0 874.4 1048.1 874.6 1043.0 874.9 1028.9 875.2 1003.9 875.4 972.7 875.7 946.4 876.0 936.2 876.3 946.9 876.5 973.4 876.8 1004.5 877.1 1029.3 877.3 1043.1 877.6 1048.1 877.9 1049.0 878.1 1049.0 878.4 1049.0 878.7 1048.1 879.0 1043.2 879.2 1029.5 879.5 1005.3 879.8 975.2 880.0 949.6 880.3 939.6 880.6 949.9 880.8 975.6 881.1 1005.8 881.4 1029.8 881.7 1043.3 881.9 1048.1 882.2 1049.0 882.5 1049.0 882.7 1049.0 883.0 1048.1 883.3 1043.3 883.5 1030.0 883.8 1006.4 884.1 977.0 884.3 952.1 884.6 942.4 884.9 952.4 885.2 977.5 885.4 1006.9 885.7 1030.3 886.0 1043.4 886.2 1048.1 886.5 1049.0 886.8 1049.0 887.0 1049.0 887.3 1048.1 887.6 1043.5 887.9 1030.6 888.1 1007.8 888.4 979.4 888.7 955.4 888.9 946.0 889.2 955.7 889.5 979.9 889.7 1008.2 890.0 1030.9 890.3 1043.6 890.6 1048.2 890.8 1049.0 891.1 1049.0 891.4 1049.0 891.6 1048.2 891.9 1043.6 892.2 1030.9 892.4 1008.4 892.7 980.2 893.0 956.3 893.2 946.9 893.5 956.4 893.8 980.3 894.1 1008.4 894.3 1031.0 894.6 1043.6 894.9 1048.2 895.1 1049.0 895.4 1049.0 895.7 1049.0 895.9 1048.2 896.2 1043.6 896.5 1031.0 896.8 1008.5 897.0 980.4 897.3 956.5 897.6 947.1 897.8 956.6 898.1 980.4 898.4 1008.5 898.6 1031.0 898.9 1043.6 899.2 1048.2 899.5 1049.0 899.7 1049.0 900.0 1049.0 900.3 1048.2 900.5 1043.6 900.8 1031.0 901.1 1008.5 901.3 980.5 901.6 956.6 901.9 947.2 902.1 956.6 902.4 980.5 902.7 1008.6 903.0 1031.0 903.2 1043.6 903.5 1048.2 903.8 1049.0 904.0 1049.0 904.3 1049.0 904.6 1048.2 904.8 1043.6 905.1 1031.0 905.4 1008.6 905.7 980.5 905.9 956.7 906.2 947.3 906.5 956.7 906.7 980.6 907.0 1008.6 907.3 1031.0 907.5 1043.6 907.8 1048.1 908.1 1049.0 908.4 1049.0 908.6 1049.0 908.9 1048.1 909.2 1043.6 909.4 1031.0 909.7 1008.6 910.0 980.6 910.2 956.8 910.5 947.5 910.8 956.9 911.0 980.7 911.3 1008.7 911.6 1031.0 911.9 1043.6 912.1 1048.1 912.4 1048.9 912.7 1049.0 912.9 1048.9 913.2 1048.1 913.5 1043.6 913.7 1031.1 914.0 1008.7 914.3 980.8 914.6 957.1 914.8 947.8 915.1 957.2 915.4 980.9 915.6 1008.8 915.9 1031.1 916.2 1043.6 916.4 1048.1 916.7 1048.9 917.0 1049.0 917.3 1048.9 917.5 1048.2 917.8 1043.7 918.1 1031.4 918.3 1009.5 918.6 982.3 918.9 959.4 919.1 950.6 919.4 960.0 919.7 983.2 920.0 1010.3 920.2 1031.8 920.5 1043.9 920.8 1048.2 921.0 1048.9 921.3 1049.0 921.6 1048.9 921.8 1048.2 922.1 1043.9 922.4 1032.2 922.6 1011.4 922.9 985.6 923.2 963.8 923.5 955.4 923.7 964.3 924.0 986.4 924.3 1012.1 924.5 1032.6 924.8 1044.1 925.1 1048.2 925.3 1048.9 925.6 1049.0 925.9 1048.9 926.2 1048.2 926.4 1044.2 926.7 1033.0 927.0 1013.1 927.2 988.4 927.5 967.6 927.8 959.6 928.0 968.1 928.3 989.1 928.6 1013.7 928.9 1033.3 929.1 1044.3 929.4 1048.2 929.7 1048.9 929.9 1049.0 930.2 1048.9 930.5 1048.2 930.7 1044.3 931.0 1033.6 931.3 1014.4 931.5 990.4 931.8 970.0 932.1 962.0 932.4 970.1 932.6 990.5 932.9 1014.4 933.2 1033.6 933.4 1044.4 933.7 1048.2 934.0 1048.9 934.2 1049.0 934.5 1048.9 934.8 1048.2 935.1 1044.4 935.3 1033.6 935.6 1014.5 935.9 990.6 936.1 970.3 936.4 962.3 936.7 970.3 936.9 990.7 937.2 1014.5 937.5 1033.7 937.8 1044.4 938.0 1048.2 938.3 1048.9 938.6 1049.0 938.8 1048.9 939.1 1048.2 939.4 1044.4 939.6 1033.7 939.9 1014.6 940.2 990.7 940.4 970.5 940.7 962.5 941.0 970.5 941.3 990.8 941.5 1014.6 941.8 1033.7 942.1 1044.4 942.3 1048.2 942.6 1048.9 942.9 1049.0 943.1 1048.9 943.4 1048.2 943.7 1044.4 944.0 1033.7 944.2 1014.6 944.5 990.8 944.8 970.5 945.0 962.6 945.3 970.6 945.6 990.8 945.8 1014.6 946.1 1033.7 946.4 1044.4 946.7 1048.2 946.9 1048.9 947.2 1049.0 947.5 1048.9 947.7 1048.2 948.0 1044.4 948.3 1033.7 948.5 1014.6 948.8 990.8 949.1 970.6 949.3 962.6 949.6 970.6 949.9 990.9 950.2 1014.7 950.4 1033.7 950.7 1044.4 951.0 1048.2 951.2 1048.9 951.5 1049.0 951.8 1048.9 952.0 1048.2 952.3 1044.4 952.6 1033.7 952.9 1014.7 953.1 990.9 953.4 970.7 953.7 962.8 953.9 970.8 954.2 991.0 954.5 1014.7 954.7 1033.7 955.0 1044.4 955.3 1048.2 955.6 1048.9 955.8 1048.9 956.1 1048.9 956.4 1048.2 956.6 1044.4 956.9 1033.7 957.2 1014.8 957.4 991.1 957.7 971.0 958.0 963.1 958.3 971.0 958.5 991.2 958.8 1014.8 959.1 1033.8 959.3 1044.4 959.6 1048.2 959.9 1048.9 960.1 1048.9 960.4 1048.9 960.7 1048.2 960.9 1044.4 961.2 1033.9 961.5 1015.3 961.8 992.2 962.0 972.6 962.3 965.1 962.6 973.1 962.8 992.9 963.1 1016.0 963.4 1034.3 963.6 1044.6 963.9 1048.3 964.2 1048.9 964.5 1048.9 964.7 1048.9 965.0 1048.3 965.3 1044.6 965.5 1034.6 965.8 1016.9 966.1 994.8 966.3 976.1 966.6 968.9 966.9 976.5 967.2 995.3 967.4 1017.4 967.7 1034.9 968.0 1044.8 968.2 1048.3 968.5 1048.9 968.8 1048.9 969.0 1048.9 969.3 1048.3 969.6 1044.8 969.8 1035.2 970.1 1018.2 970.4 996.9 970.7 979.0 970.9 972.1 971.2 979.4 971.5 997.5 971.7 1018.7 972.0 1035.5 972.3 1044.9 972.5 1048.3 972.8 1048.9 973.1 1048.9 973.4 1048.9 973.6 1048.3 973.9 1045.0 974.2 1035.8 974.4 1019.5 974.7 999.3 975.0 982.1 975.2 975.5 975.5 982.4 975.8 999.7 976.1 1019.9 976.3 1036.0 976.6 1045.1 976.9 1048.3 977.1 1048.9 977.4 1048.9 977.7 1048.9 977.9 1048.3 978.2 1045.1 978.5 1036.1 978.7 1020.1 979.0 1000.1 979.3 983.1 979.6 976.4 979.8 983.1 980.1 1000.2 980.4 1020.1 980.6 1036.1 980.9 1045.1 981.2 1048.3 981.4 1048.9 981.7 1048.9 982.0 1048.9 982.3 1048.3 982.5 1045.1 982.8 1036.2 983.1 1020.2 983.3 1000.3 983.6 983.3 983.9 976.7 984.1 983.4 984.4 1000.3 984.7 1020.2 985.0 1036.2 985.2 1045.1 985.5 1048.3 985.8 1048.9 986.0 1048.9 986.3 1048.9 986.6 1048.3 986.8 1045.1 987.1 1036.2 987.4 1020.3 987.6 1000.4 987.9 983.5 988.2 976.8 988.5 983.5 988.7 1000.4 989.0 1020.3 989.3 1036.2 989.5 1045.1 989.8 1048.3 990.1 1048.9 990.3 1048.9 990.6 1048.9 990.9 1048.3 991.2 1045.1 991.4 1036.2 991.7 1020.3 992.0 1000.4 992.2 983.5 992.5 976.9 992.8 983.5 993.0 1000.4 993.3 1020.3 993.6 1036.2 993.9 1045.1 994.1 1048.3 994.4 1048.9 994.7 1048.9 994.9 1048.9 995.2 1048.3 995.5 1045.1 995.7 1036.2 996.0 1020.3 996.3 1000.5 996.6 983.6 996.8 977.0 997.1 983.7 997.4 1000.5 997.6 1020.4 997.9 1036.2 998.2 1045.1 998.4 1048.3 998.7 1048.9 999.0 1048.9 999.2 1048.9 999.5 1048.3 999.8 1045.1 1000.1 1036.3 1000.3 1020.4 1000.6 1000.7 1000.9 983.9 1001.1 977.3 1001.4 984.0 1001.7 1000.8 1001.9 1020.5 1002.2 1036.3 1002.5 1045.1 1002.8 1048.3 1003.0 1048.9 1003.3 1048.9 1003.6 1048.9 1003.8 1048.3 1004.1 1045.2 1004.4 1036.5 1004.6 1021.0 1004.9 1001.9 1005.2 985.8 1005.5 979.7 1005.7 986.5 1006.0 1002.8 1006.3 1021.9 1006.5 1036.9 1006.8 1045.4 1007.1 1048.4 1007.3 1048.9 1007.6 1048.9 1007.9 1048.9 1008.1 1048.4 1008.4 1045.4 1008.7 1037.3 1009.0 1022.8 1009.2 1004.8 1009.5 989.5 1009.8 983.6 1010.0 989.8 1010.3 1005.1 1010.6 1023.1 1010.8 1037.5 1011.1 1045.5 1011.4 1048.4 1011.7 1048.9 1011.9 1048.9 1012.2 1048.9 1012.5 1048.4 1012.7 1045.5 1013.0 1037.6 1013.3 1023.6 1013.5 1006.2 1013.8 991.4 1014.1 985.7 1014.4 991.7 1014.6 1006.6 1014.9 1024.0 1015.2 1037.9 1015.4 1045.6 1015.7 1048.4 1016.0 1048.9 1016.2 1048.9 1016.5 1048.9 1016.8 1048.4 1017.0 1045.7 1017.3 1038.1 1017.6 1024.5 1017.9 1007.7 1018.1 993.3 1018.4 987.7 1018.7 993.4 1018.9 1007.8 1019.2 1024.6 1019.5 1038.1 1019.7 1045.7 1020.0 1048.4 1020.3 1048.9 1020.6 1048.9 1020.8 1048.9 1021.1 1048.4 1021.4 1045.7 1021.6 1038.1 1021.9 1024.7 1022.2 1007.9 1022.4 993.7 1022.7 988.0 1023.0 993.7 1023.3 1008.0 1023.5 1024.7 1023.8 1038.2 1024.1 1045.7 1024.3 1048.4 1024.6 1048.9 1024.9 1048.9 1025.1 1048.9 1025.4 1048.4 1025.7 1045.7 1025.9 1038.2 1026.2 1024.8 1026.5 1008.1 1026.8 993.8 1027.0 988.2 1027.3 993.8 1027.6 1008.1 1027.8 1024.8 1028.1 1038.2 1028.4 1045.7 1028.6 1048.4 1028.9 1048.9 1029.2 1048.9 1029.5 1048.9 1029.7 1048.4 1030.0 1045.7 1030.3 1038.2 1030.5 1024.8 1030.8 1008.1 1031.1 993.9 1031.3 988.3 1031.6 993.9 1031.9 1008.1 1032.2 1024.8 1032.4 1038.2 1032.7 1045.7 1033.0 1048.4 1033.2 1048.9 1033.5 1048.9 1033.8 1048.9 1034.0 1048.4 1034.3 1045.7 1034.6 1038.2 1034.9 1024.9 1035.1 1008.2 1035.4 994.0 1035.7 988.4 1035.9 994.0 1036.2 1008.2 1036.5 1024.9 1036.7 1038.2 1037.0 1045.7 1037.3 1048.4 1037.5 1048.9 1037.8 1048.9 1038.1 1048.9 1038.4 1048.4 1038.6 1045.7 1038.9 1038.2 1039.2 1024.9 1039.4 1008.3 1039.7 994.1 1040.0 988.5 1040.2 994.1 1040.5 1008.3 1040.8 1024.9 1041.1 1038.3 1041.3 1045.7 1041.6 1048.4 1041.9 1048.9 1042.1 1048.9 1042.4 1048.9 1042.7 1048.4 1042.9 1045.7 1043.2 1038.3 1043.5 1025.0 1043.8 1008.4 1044.0 994.3 1044.3 988.8 1044.6 994.4 1044.8 1008.5 1045.1 1025.0 1045.4 1038.3 1045.6 1045.7 1045.9 1048.4 1046.2 1048.9 1046.4 1048.9 1046.7 1048.9 1047.0 1048.4 1047.3 1045.8 1047.5 1038.4 1047.8 1025.3 1048.1 1008.9 1048.3 995.1 1048.6 989.8 1048.9 995.4 1049.1 1009.3 1049.4 1025.6 1049.7 1038.6 1050.0 1045.8 1050.2 1048.4 1050.5 1048.9 1050.8 1048.9 1051.0 1048.9 1051.3 1048.4 1051.6 1045.9 1051.8 1038.8 1052.1 1026.2 1052.4 1010.6 1052.7 997.3 1052.9 992.2 1053.2 997.6 1053.5 1010.9 1053.7 1026.5 1054.0 1039.0 1054.3 1046.0 1054.5 1048.5 1054.8 1048.9 1055.1 1048.9 1055.3 1048.9 1055.6 1048.5 1055.9 1046.0 1056.2 1039.2 1056.4 1027.1 1056.7 1012.0 1057.0 999.3 1057.2 994.4 1057.5 999.5 1057.8 1012.4 1058.0 1027.4 1058.3 1039.4 1058.6 1046.1 1058.9 1048.5 1059.1 1048.9 1059.4 1048.9 1059.7 1048.9 1059.9 1048.5 1060.2 1046.1 1060.5 1039.6 1060.7 1028.0 1061.0 1013.6 1061.3 1001.4 1061.6 996.8 1061.8 1001.7 1062.1 1014.0 1062.4 1028.4 1062.6 1039.8 1062.9 1046.2 1063.2 1048.5 1063.4 1048.9 1063.7 1048.9 1064.0 1048.9 1064.3 1048.5 1064.5 1046.2 1064.8 1039.9 1065.1 1028.7 1065.3 1014.6 1065.6 1002.7 1065.9 998.0 1066.1 1002.8 1066.4 1014.7 1066.7 1028.7 1066.9 1039.9 1067.2 1046.2 1067.5 1048.5 1067.8 1048.9 1068.0 1048.9 1068.3 1048.9 1068.6 1048.5 1068.8 1046.2 1069.1 1040.0 1069.4 1028.8 1069.6 1014.8 1069.9 1002.9 1070.2 998.2 1070.5 1002.9 1070.7 1014.8 1071.0 1028.8 1071.3 1040.0 1071.5 1046.2 1071.8 1048.5 1072.1 1048.9 1072.3 1048.9 1072.6 1048.9 1072.9 1048.5 1073.2 1046.2 1073.4 1040.0 1073.7 1028.8 1074.0 1014.8 1074.2 1003.0 1074.5 998.3 1074.8 1003.0 1075.0 1014.9 1075.3 1028.8 1075.6 1040.0 1075.8 1046.2 1076.1 1048.5 1076.4 1048.9 1076.7 1048.9 1076.9 1048.9 1077.2 1048.5 1077.5 1046.2 1077.7 1040.0 1078.0 1028.9 1078.3 1015.0 1078.5 1003.2 1078.8 998.6 1079.1 1003.3 1079.4 1015.1 1079.6 1028.9 1079.9 1040.0 1080.2 1046.3 1080.4 1048.5 1080.7 1048.9 1081.0 1048.9 1081.2 1048.9 1081.5 1048.5 1081.8 1046.3 1082.1 1040.4 1082.3 1029.9 1082.6 1016.9 1082.9 1006.1 1083.1 1002.0" stroke="#231f20" stroke-width="2.1" fill="none" stroke-linejoin="miter" stroke-miterlimit="2"/>
<path d="M671.00 951.73 673.07 951.08 675.14 950.56 677.21 950.14 679.28 949.81 681.35 949.57 683.43 949.40 685.50 949.29 687.57 949.22 689.64 949.19 691.71 949.18 693.78 949.18 695.85 949.49 697.92 950.18 699.99 951.16 702.06 952.37 704.13 953.71 706.20 955.11 708.28 956.68 710.35 958.82 712.42 961.37 714.49 964.13 716.56 966.86 718.63 969.38 720.70 971.47 722.77 973.42 724.84 975.36 726.91 977.19 728.98 978.83 731.05 980.18 733.13 981.15 735.20 981.78 737.27 982.36 739.34 982.88 741.41 983.31 743.48 983.63 745.55 983.82 747.62 983.86 749.69 983.64 751.76 983.20 753.83 982.60 755.91 981.92 757.98 981.22 760.05 980.60 762.12 980.11 764.19 979.83 766.26 979.85 768.33 980.33 770.40 981.20 772.47 982.36 774.54 983.70 776.61 985.11 778.68 986.50 780.76 988.11 782.83 990.06 784.90 992.22 786.97 994.43 789.04 996.56 791.11 998.45 793.18 1000.09 795.25 1001.82 797.32 1003.48 799.39 1004.79 801.46 1005.50 803.53 1005.51 805.61 1005.33 807.68 1005.04 809.75 1004.71 811.82 1004.37 813.89 1004.05 815.96 1003.65 818.03 1003.20 820.10 1002.75 822.17 1002.33 824.24 1001.99 826.31 1001.78 828.38 1001.75 830.46 1002.29 832.53 1003.41 834.60 1004.93 836.67 1006.70 838.74 1008.53 840.81 1010.26 842.88 1011.71 844.95 1012.97 847.02 1014.35 849.09 1015.64 851.16 1016.61 853.24 1017.03 855.31 1016.95 857.38 1016.72 859.45 1016.40 861.52 1016.06 863.59 1015.77 865.66 1015.54 867.73 1015.32 869.80 1015.10 871.87 1014.89 873.94 1014.69 876.01 1014.49 878.09 1014.29 880.16 1014.09 882.23 1013.89 884.30 1013.69 886.37 1013.49 888.44 1013.29 890.51 1013.08 892.58 1012.86 894.65 1012.64 896.72 1012.41 898.79 1012.19 900.86 1011.96 902.94 1011.74 905.01 1011.52 907.08 1011.31 909.15 1011.12 911.22 1010.94 913.29 1010.77 915.36 1010.63 917.43 1010.49 919.50 1010.36 921.57 1010.24 923.64 1010.12 925.72 1010.00 927.79 1009.89 929.86 1009.79 931.93 1009.69 934.00 1009.61 936.07 1009.52 938.14 1009.45 940.21 1009.39 942.28 1009.33 944.35 1009.28 946.42 1009.23 948.49 1009.18 950.57 1009.14 952.64 1009.10 954.71 1009.06 956.78 1009.02 958.85 1008.99 960.92 1008.95 962.99 1008.92 965.06 1008.88 967.13 1008.85 969.20 1008.81 971.27 1008.77 973.34 1008.73 975.42 1008.69 977.49 1008.65 979.56 1008.61 981.63 1008.57 983.70 1008.53 985.77 1008.49 987.84 1008.45 989.91 1008.41 991.98 1008.37 994.05 1008.33 996.12 1008.30 998.19 1008.26 1000.27 1008.23 1002.34 1008.21 1004.41 1008.18 1006.48 1008.16 1008.55 1008.14 1010.62 1008.12 1012.69 1008.11 1014.76 1008.11 1016.83 1008.10 1018.90 1008.10 1020.97 1008.10 1023.05 1008.10 1025.12 1008.10 1027.19 1008.10 1029.26 1008.10 1031.33 1008.10 1033.40 1008.10 1035.47 1008.10 1037.54 1008.10 1039.61 1008.10 1041.68 1008.10 1043.75 1008.10 1045.82 1008.10 1047.90 1008.10 1049.97 1008.10 1052.04 1008.10 1054.11 1008.10 1056.18 1008.10 1058.25 1008.10 1060.32 1008.10 1062.39 1008.10 1064.46 1008.10 1066.53 1008.10 1068.60 1008.10 1070.67 1008.10 1072.75 1008.10 1074.82 1008.10 1076.89 1008.10 1078.96 1008.10 1081.03 1008.10 1083.10 1008.10 1083.10 1049.43 1081.03 1049.44 1078.96 1049.44 1076.89 1049.45 1074.82 1049.46 1072.75 1049.47 1070.67 1049.47 1068.60 1049.48 1066.53 1049.49 1064.46 1049.49 1062.39 1049.50 1060.32 1049.51 1058.25 1049.51 1056.18 1049.52 1054.11 1049.53 1052.04 1049.53 1049.97 1049.54 1047.90 1049.55 1045.82 1049.55 1043.75 1049.56 1041.68 1049.57 1039.61 1049.57 1037.54 1049.58 1035.47 1049.59 1033.40 1049.59 1031.33 1049.60 1029.26 1049.60 1027.19 1049.61 1025.12 1049.62 1023.05 1049.62 1020.97 1049.63 1018.90 1049.63 1016.83 1049.64 1014.76 1049.65 1012.69 1049.65 1010.62 1049.66 1008.55 1049.66 1006.48 1049.67 1004.41 1049.67 1002.34 1049.68 1000.27 1049.68 998.19 1049.69 996.12 1049.70 994.05 1049.70 991.98 1049.71 989.91 1049.71 987.84 1049.72 985.77 1049.72 983.70 1049.73 981.63 1049.73 979.56 1049.74 977.49 1049.74 975.42 1049.74 973.34 1049.75 971.27 1049.75 969.20 1049.76 967.13 1049.76 965.06 1049.77 962.99 1049.77 960.92 1049.78 958.85 1049.78 956.78 1049.79 954.71 1049.79 952.64 1049.79 950.57 1049.80 948.49 1049.80 946.42 1049.81 944.35 1049.81 942.28 1049.81 940.21 1049.82 938.14 1049.82 936.07 1049.82 934.00 1049.83 931.93 1049.83 929.86 1049.84 927.79 1049.84 925.72 1049.84 923.64 1049.85 921.57 1049.85 919.50 1049.85 917.43 1049.85 915.36 1049.86 913.29 1049.86 911.22 1049.86 909.15 1049.87 907.08 1049.87 905.01 1049.87 902.94 1049.88 900.86 1049.88 898.79 1049.88 896.72 1049.88 894.65 1049.89 892.58 1049.89 890.51 1049.89 888.44 1049.89 886.37 1049.90 884.30 1049.90 882.23 1049.90 880.16 1049.90 878.09 1049.90 876.01 1049.91 873.94 1049.91 871.87 1049.91 869.80 1049.91 867.73 1049.91 865.66 1049.92 863.59 1049.92 861.52 1049.92 859.45 1049.92 857.38 1049.92 855.31 1049.92 853.24 1049.92 851.16 1049.93 849.09 1049.93 847.02 1049.93 844.95 1049.93 842.88 1049.93 840.81 1049.93 838.74 1049.93 836.67 1049.93 834.60 1049.93 832.53 1049.93 830.46 1049.94 828.38 1049.94 826.31 1049.94 824.24 1049.94 822.17 1049.94 820.10 1049.94 818.03 1049.94 815.96 1049.94 813.89 1049.94 811.82 1049.94 809.75 1049.94 807.68 1049.94 805.61 1049.94 803.53 1049.94 801.46 1049.94 799.39 1049.94 797.32 1049.94 795.25 1049.94 793.18 1049.94 791.11 1049.94 789.04 1049.94 786.97 1049.88 784.90 1048.70 782.83 1046.95 780.76 1045.26 778.68 1043.22 776.61 1041.03 774.54 1038.92 772.47 1037.14 770.40 1035.92 768.33 1035.31 766.26 1034.82 764.19 1034.38 762.12 1034.03 760.05 1033.78 757.98 1033.64 755.91 1033.64 753.83 1033.88 751.76 1034.33 749.69 1034.92 747.62 1035.58 745.55 1036.23 743.48 1036.80 741.41 1037.23 739.34 1037.43 737.27 1037.31 735.20 1036.81 733.13 1036.02 731.05 1035.03 728.98 1033.92 726.91 1032.78 724.84 1031.63 722.77 1030.24 720.70 1028.66 718.63 1026.98 716.56 1025.30 714.49 1023.58 712.42 1021.52 710.35 1019.26 708.28 1017.00 706.20 1014.94 704.13 1013.28 702.06 1012.22 699.99 1011.93 697.92 1011.93 695.85 1011.93 693.78 1011.93 691.71 1011.93 689.64 1011.93 687.57 1011.93 685.50 1011.93 683.43 1011.93 681.35 1011.93 679.28 1011.93 677.21 1011.93 675.14 1011.93 673.07 1011.93 671.00 1011.93Z" fill="#231f20"/>
<path d="M1284.58 264.92 1285.61 266.04 1286.63 262.87 1287.65 258.54 1288.68 254.14 1289.7 249.71 1290.73 245.25 1291.75 240.78 1292.78 236.31 1293.8 231.84 1294.82 227.41 1295.85 223.01 1296.87 218.65 1297.9 214.37 1298.92 210.15 1299.94 206.01 1300.97 201.95 1301.99 197.97 1303.02 194.06 1304.04 190.22 1305.06 186.46 1306.09 182.76 1307.11 179.13 1308.14 175.57 1309.16 172.08 1310.18 168.65 1311.21 165.28 1312.23 161.98 1313.26 158.74 1314.28 155.56 1315.31 152.43 1316.33 149.36 1317.35 146.35 1318.38 143.4 1319.4 140.49 1320.43 137.64 1321.45 134.84 1322.47 132.09 1323.5 129.38 1324.52 126.72 1325.55 124.11 1326.57 121.54 1327.59 119.01 1328.62 116.53 1329.64 114.08 1330.67 111.68 1331.69 109.31 1332.72 106.98 1333.74 104.69 1334.76 102.44 1335.79 100.23 1336.81 98.05 1337.84 95.91 1338.86 93.81 1339.88 91.75 1340.91 89.72 1341.93 87.73 1342.96 85.77 1343.98 83.85 1345 81.96 1346.03 80.11 1347.05 78.3 1348.08 76.52 1349.1 74.77 1350.12 73.06 1351.15 71.38 1352.17 69.73 1353.2 68.11 1354.22 66.53 1355.25 64.98 1356.27 63.47 1357.29 61.98 1358.32 60.53 1359.34 59.11 1360.37 57.71 1361.39 56.35 1362.41 55.02 1363.44 53.72 1364.46 52.45 1365.49 51.21 1366.51 49.99 1367.53 48.81 1368.56 47.65 1369.58 46.53 1370.61 45.43 1371.63 44.36 1372.66 43.31 1373.68 42.29 1374.7 41.3 1375.73 40.34 1376.75 39.4 1377.78 38.49 1378.8 37.6 1379.82 36.74 1380.85 35.9 1381.87 35.09 1382.9 34.3 1383.92 33.54 1384.94 32.8 1385.97 32.09 1386.99 31.39 1388.02 30.72 1389.04 30.08 1390.06 29.45 1391.09 28.85 1392.11 28.27 1393.14 27.71 1394.16 27.17 1395.19 26.65 1396.21 26.15 1397.23 25.68 1398.26 25.22 1399.28 24.78 1400.31 24.37 1401.33 23.97 1402.35 23.59 1403.38 23.23 1404.4 22.88 1405.43 22.56 1406.45 22.25 1407.47 21.96 1408.5 21.69 1409.52 21.43 1410.55 21.19 1411.57 20.97 1412.6 20.77 1413.62 20.58 1414.64 20.41 1415.67 20.25 1416.69 20.11 1417.72 19.99 1418.74 19.88 1419.76 19.78 1420.79 19.71 1421.81 19.64 1422.84 19.6 1423.86 19.56 1424.88 19.55 1425.91 19.54 1426.93 19.55 1427.96 19.58 1428.98 19.62 1430.01 19.67 1431.03 19.74 1432.05 19.82 1433.08 19.92 1434.1 20.03 1435.13 20.15 1436.15 20.28 1437.17 20.43 1438.2 20.59 1439.22 20.76 1440.25 20.95 1441.27 21.14 1442.29 21.35 1443.32 21.57 1444.34 21.81 1445.37 22.05 1446.39 22.31 1447.41 22.57 1448.44 22.85 1449.46 23.14 1450.49 23.44 1451.51 23.75 1452.54 24.07 1453.56 24.41 1454.58 24.75 1455.61 25.1 1456.63 25.46 1457.66 25.83 1458.68 26.22 1459.7 26.61 1460.73 27.01 1461.75 27.42 1462.78 27.83 1463.8 28.26 1464.82 28.69 1465.85 29.14 1466.87 29.59 1467.9 30.05 1468.92 30.52 1469.95 31 1470.97 31.48 1471.99 31.97 1473.02 32.47 1474.04 32.98 1475.07 33.49 1476.09 34.01 1477.11 34.54 1478.14 35.07 1479.16 35.61 1480.19 36.16 1481.21 36.72 1482.23 37.28 1483.26 37.85 1484.28 38.42 1485.31 39 1486.33 39.59 1487.35 40.18 1488.38 40.78 1489.4 41.38 1490.43 41.99 1491.45 42.61 1492.48 43.23 1493.5 43.85 1494.52 44.48 1495.55 45.12 1496.57 45.76 1497.6 46.41 1498.62 47.06 1499.64 47.72 1500.67 48.38 1501.69 49.04 1502.72 49.71 1503.74 50.39 1504.76 51.06 1505.79 51.75 1506.81 52.43 1507.84 53.12 1508.86 53.82 1509.89 54.51 1510.91 55.22 1511.93 55.92 1512.96 56.63 1513.98 57.34 1515.01 58.05 1516.03 58.77 1517.05 59.49 1518.08 60.21 1519.1 60.94 1520.13 61.67 1521.15 62.4 1522.17 63.13 1523.2 63.87 1524.22 64.61 1525.25 65.35 1526.27 66.09 1527.3 66.83 1528.32 67.58 1529.34 68.32 1530.37 69.07 1531.39 69.82 1532.42 70.58 1533.44 71.33 1534.46 72.08 1535.49 72.84 1536.51 73.59 1537.54 74.35 1538.56 75.11 1539.58 75.86 1540.61 76.62 1541.63 77.38 1542.66 78.14 1543.68 78.9 1544.7 79.66 1545.73 80.42 1546.75 81.18 1547.78 81.94 1548.8 82.7 1549.83 83.45 1550.85 84.21 1551.87 84.97 1552.9 85.73 1553.92 86.48 1554.95 87.24 1555.97 88 1556.99 88.75 1558.02 89.51 1559.04 90.26 1560.07 91.01 1561.09 91.77 1562.11 92.52 1563.14 93.27 1564.16 94.02 1565.19 94.77 1566.21 95.52 1567.24 96.26 1568.26 97.01 1569.28 97.76 1570.31 98.5 1571.33 99.24 1572.36 99.99 1573.38 100.73 1574.4 101.47 1575.43 102.21 1576.45 102.94 1577.48 103.68 1578.5 104.41 1579.52 105.15 1580.55 105.88 1581.57 106.61 1582.6 107.34 1583.62 108.06 1584.64 108.79 1585.67 109.51 1586.69 110.24 1587.72 110.96 1588.74 111.68 1589.77 112.39 1590.79 113.11 1591.81 113.82 1592.84 114.53 1593.86 115.24 1594.89 115.95 1595.91 116.66 1596.93 117.36 1597.96 118.06 1598.98 118.76 1600.01 119.46 1601.03 120.15 1602.05 120.85 1603.08 121.54 1604.1 122.22 1605.13 122.91 1606.15 123.59 1607.18 124.27 1608.2 124.95 1609.22 125.63 1610.25 126.3 1611.27 126.97 1612.3 127.64 1613.32 128.31 1614.34 128.97 1615.37 129.63 1616.39 130.29 1617.42 130.94 1618.44 131.59 1619.46 132.24 1620.49 132.89 1621.51 133.53 1622.54 134.17 1623.56 134.81 1624.58 135.44 1625.61 136.07 1626.63 136.7 1627.66 137.33 1628.68 137.95 1629.71 138.56 1630.73 139.18 1631.75 139.79 1632.78 140.4 1633.8 141 1634.83 141.6 1635.85 142.2 1636.87 142.8 1637.9 143.39 1638.92 143.97 1639.95 144.56 1640.97 145.14 1641.99 145.71 1643.02 146.28 1644.04 146.85 1645.07 147.42 1646.09 147.98 1647.12 148.53 1648.14 149.09 1649.16 149.63 1650.19 150.18 1651.21 150.72 1652.24 151.26 1653.26 151.79 1654.28 152.32 1655.31 152.84 1656.33 153.36 1657.36 153.88 1658.38 154.39 1659.4 154.89 1660.43 155.4 1661.45 155.89 1662.48 156.39 1663.5 156.88 1664.53 157.36 1665.55 157.84 1666.57 158.32 1667.6 158.79 1668.62 159.25 1669.65 159.71 1670.67 160.17 1671.69 160.62 1672.72 161.07 1673.74 161.51 1674.77 161.95 1675.79 162.38 1676.81 162.8 1677.84 163.23 1678.86 163.64 1679.89 164.05 1680.91 164.46 1681.93 164.86 1682.96 165.26 1683.98 165.65 1685.01 166.03 1686.03 166.41 1687.06 166.79 1688.08 167.16 1689.1 167.52 1690.13 167.88 1691.15 168.23 1692.18 168.58 1693.2 168.92" stroke="#231f20" stroke-width="2.8" fill="none" stroke-linejoin="round"/>
<path d="M1281.07 660.63 1282.09 662.01 1283.11 662.12 1284.13 661.2 1285.16 659.54 1286.18 657.37 1287.2 654.96 1288.23 652.54 1289.25 650.13 1290.27 647.75 1291.3 645.39 1292.32 643.05 1293.34 640.73 1294.37 638.43 1295.39 636.14 1296.41 633.88 1297.44 631.64 1298.46 629.41 1299.48 627.2 1300.51 625.01 1301.53 622.83 1302.55 620.67 1303.57 618.52 1304.6 616.39 1305.62 614.28 1306.64 612.18 1307.67 610.09 1308.69 608.02 1309.71 605.97 1310.74 603.93 1311.76 601.9 1312.78 599.89 1313.81 597.89 1314.83 595.91 1315.85 593.94 1316.88 591.99 1317.9 590.05 1318.92 588.13 1319.94 586.22 1320.97 584.32 1321.99 582.44 1323.01 580.57 1324.04 578.72 1325.06 576.88 1326.08 575.05 1327.11 573.24 1328.13 571.44 1329.15 569.66 1330.18 567.89 1331.2 566.13 1332.22 564.39 1333.25 562.66 1334.27 560.94 1335.29 559.24 1336.32 557.55 1337.34 555.88 1338.36 554.21 1339.38 552.56 1340.41 550.93 1341.43 549.31 1342.45 547.7 1343.48 546.1 1344.5 544.51 1345.52 542.94 1346.55 541.38 1347.57 539.84 1348.59 538.31 1349.62 536.79 1350.64 535.28 1351.66 533.78 1352.69 532.3 1353.71 530.83 1354.73 529.37 1355.75 527.93 1356.78 526.5 1357.8 525.08 1358.82 523.67 1359.85 522.27 1360.87 520.89 1361.89 519.51 1362.92 518.15 1363.94 516.81 1364.96 515.47 1365.99 514.14 1367.01 512.83 1368.03 511.53 1369.06 510.24 1370.08 508.96 1371.1 507.69 1372.13 506.44 1373.15 505.2 1374.17 503.96 1375.19 502.74 1376.22 501.53 1377.24 500.33 1378.26 499.15 1379.29 497.97 1380.31 496.8 1381.33 495.65 1382.36 494.51 1383.38 493.37 1384.4 492.25 1385.43 491.14 1386.45 490.04 1387.47 488.95 1388.5 487.87 1389.52 486.8 1390.54 485.74 1391.56 484.69 1392.59 483.66 1393.61 482.63 1394.63 481.61 1395.66 480.61 1396.68 479.61 1397.7 478.62 1398.73 477.65 1399.75 476.68 1400.77 475.72 1401.8 474.78 1402.82 473.84 1403.84 472.91 1404.87 471.99 1405.89 471.09 1406.91 470.19 1407.94 469.3 1408.96 468.42 1409.98 467.55 1411 466.69 1412.03 465.84 1413.05 465 1414.07 464.16 1415.1 463.34 1416.12 462.53 1417.14 461.72 1418.17 460.92 1419.19 460.14 1420.21 459.36 1421.24 458.59 1422.26 457.83 1423.28 457.07 1424.31 456.33 1425.33 455.6 1426.35 454.87 1427.38 454.15 1428.4 453.44 1429.42 452.74 1430.44 452.05 1431.47 451.37 1432.49 450.69 1433.51 450.02 1434.54 449.37 1435.56 448.72 1436.58 448.07 1437.61 447.44 1438.63 446.81 1439.65 446.2 1440.68 445.59 1441.7 444.99 1442.72 444.39 1443.75 443.81 1444.77 443.23 1445.79 442.66 1446.81 442.1 1447.84 441.55 1448.86 441 1449.88 440.46 1450.91 439.93 1451.93 439.41 1452.95 438.89 1453.98 438.39 1455 437.89 1456.02 437.39 1457.05 436.91 1458.07 436.43 1459.09 435.96 1460.12 435.5 1461.14 435.04 1462.16 434.59 1463.19 434.15 1464.21 433.72 1465.23 433.29 1466.25 432.87 1467.28 432.46 1468.3 432.05 1469.32 431.66 1470.35 431.26 1471.37 430.88 1472.39 430.5 1473.42 430.13 1474.44 429.77 1475.46 429.41 1476.49 429.06 1477.51 428.72 1478.53 428.38 1479.56 428.05 1480.58 427.73 1481.6 427.41 1482.62 427.1 1483.65 426.79 1484.67 426.49 1485.69 426.2 1486.72 425.92 1487.74 425.64 1488.76 425.37 1489.79 425.1 1490.81 424.84 1491.83 424.59 1492.86 424.34 1493.88 424.1 1494.9 423.86 1495.93 423.63 1496.95 423.41 1497.97 423.19 1499 422.98 1500.02 422.77 1501.04 422.57 1502.06 422.37 1503.09 422.19 1504.11 422 1505.13 421.82 1506.16 421.65 1507.18 421.49 1508.2 421.32 1509.23 421.17 1510.25 421.02 1511.27 420.87 1512.3 420.74 1513.32 420.6 1514.34 420.47 1515.37 420.35 1516.39 420.23 1517.41 420.12 1518.43 420.01 1519.46 419.91 1520.48 419.81 1521.5 419.72 1522.53 419.63 1523.55 419.55 1524.57 419.47 1525.6 419.4 1526.62 419.33 1527.64 419.26 1528.67 419.2 1529.69 419.15 1530.71 419.1 1531.74 419.06 1532.76 419.02 1533.78 418.98 1534.81 418.95 1535.83 418.92 1536.85 418.9 1537.87 418.88 1538.9 418.87 1539.92 418.86 1540.94 418.86 1541.97 418.86 1542.99 418.86 1544.01 418.87 1545.04 418.88 1546.06 418.89 1547.08 418.91 1548.11 418.94 1549.13 418.97 1550.15 419 1551.18 419.03 1552.2 419.07 1553.22 419.12 1554.24 419.16 1555.27 419.22 1556.29 419.27 1557.31 419.33 1558.34 419.39 1559.36 419.46 1560.38 419.52 1561.41 419.6 1562.43 419.67 1563.45 419.75 1564.48 419.84 1565.5 419.92 1566.52 420.01 1567.55 420.1 1568.57 420.2 1569.59 420.3 1570.62 420.4 1571.64 420.51 1572.66 420.61 1573.68 420.73 1574.71 420.84 1575.73 420.96 1576.75 421.08 1577.78 421.2 1578.8 421.33 1579.82 421.46 1580.85 421.59 1581.87 421.72 1582.89 421.86 1583.92 422 1584.94 422.14 1585.96 422.28 1586.99 422.43 1588.01 422.58 1589.03 422.73 1590.05 422.89 1591.08 423.04 1592.1 423.2 1593.12 423.37 1594.15 423.53 1595.17 423.7 1596.19 423.86 1597.22 424.03 1598.24 424.21 1599.26 424.38 1600.29 424.56 1601.31 424.73 1602.33 424.92 1603.36 425.1 1604.38 425.28 1605.4 425.47 1606.43 425.66 1607.45 425.84 1608.47 426.04 1609.49 426.23 1610.52 426.42 1611.54 426.62 1612.56 426.82 1613.59 427.02 1614.61 427.22 1615.63 427.42 1616.66 427.62 1617.68 427.83 1618.7 428.03 1619.73 428.24 1620.75 428.45 1621.77 428.66 1622.8 428.87 1623.82 429.08 1624.84 429.29 1625.87 429.51 1626.89 429.72 1627.91 429.94 1628.93 430.15 1629.96 430.37 1630.98 430.59 1632 430.81 1633.03 431.03 1634.05 431.25 1635.07 431.47 1636.1 431.7 1637.12 431.92 1638.14 432.14 1639.17 432.37 1640.19 432.59 1641.21 432.82 1642.24 433.04 1643.26 433.27 1644.28 433.49 1645.3 433.72 1646.33 433.94 1647.35 434.17 1648.37 434.4 1649.4 434.63 1650.42 434.85 1651.44 435.08 1652.47 435.31 1653.49 435.53 1654.51 435.76 1655.54 435.99 1656.56 436.22 1657.58 436.44 1658.61 436.67 1659.63 436.9 1660.65 437.12 1661.68 437.35 1662.7 437.57 1663.72 437.8 1664.74 438.02 1665.77 438.25 1666.79 438.47 1667.81 438.69 1668.84 438.92 1669.86 439.14 1670.88 439.36 1671.91 439.58 1672.93 439.8 1673.95 440.02 1674.98 440.24 1676 440.45 1677.02 440.67 1678.05 440.88 1679.07 441.1 1680.09 441.31 1681.11 441.52 1682.14 441.73 1683.16 441.94 1684.18 442.15 1685.21 442.36 1686.23 442.57 1687.25 442.77 1688.28 442.97 1689.3 443.18" stroke="#231f20" stroke-width="2.8" fill="none" stroke-linejoin="round"/>
<path d="M1281.07 1048.83 1282.09 1050.21 1283.11 1050.32 1284.13 1049.4 1285.16 1047.74 1286.18 1045.57 1287.2 1043.16 1288.23 1040.74 1289.25 1038.33 1290.27 1035.95 1291.3 1033.59 1292.32 1031.25 1293.34 1028.93 1294.37 1026.63 1295.39 1024.34 1296.41 1022.08 1297.44 1019.84 1298.46 1017.61 1299.48 1015.4 1300.51 1013.21 1301.53 1011.03 1302.55 1008.87 1303.57 1006.72 1304.6 1004.59 1305.62 1002.48 1306.64 1000.38 1307.67 998.29 1308.69 996.22 1309.71 994.17 1310.74 992.13 1311.76 990.1 1312.78 988.09 1313.81 986.09 1314.83 984.11 1315.85 982.14 1316.88 980.19 1317.9 978.25 1318.92 976.33 1319.94 974.42 1320.97 972.52 1321.99 970.64 1323.01 968.77 1324.04 966.92 1325.06 965.08 1326.08 963.25 1327.11 961.44 1328.13 959.64 1329.15 957.86 1330.18 956.09 1331.2 954.33 1332.22 952.59 1333.25 950.86 1334.27 949.14 1335.29 947.44 1336.32 945.75 1337.34 944.08 1338.36 942.41 1339.38 940.76 1340.41 939.13 1341.43 937.51 1342.45 935.9 1343.48 934.3 1344.5 932.71 1345.52 931.14 1346.55 929.58 1347.57 928.04 1348.59 926.51 1349.62 924.99 1350.64 923.48 1351.66 921.98 1352.69 920.5 1353.71 919.03 1354.73 917.57 1355.75 916.13 1356.78 914.7 1357.8 913.28 1358.82 911.87 1359.85 910.47 1360.87 909.09 1361.89 907.71 1362.92 906.35 1363.94 905.01 1364.96 903.67 1365.99 902.34 1367.01 901.03 1368.03 899.73 1369.06 898.44 1370.08 897.16 1371.1 895.89 1372.13 894.64 1373.15 893.4 1374.17 892.16 1375.19 890.94 1376.22 889.73 1377.24 888.53 1378.26 887.35 1379.29 886.17 1380.31 885 1381.33 883.85 1382.36 882.71 1383.38 881.57 1384.4 880.45 1385.43 879.34 1386.45 878.24 1387.47 877.15 1388.5 876.07 1389.52 875 1390.54 873.94 1391.56 872.89 1392.59 871.86 1393.61 870.83 1394.63 869.81 1395.66 868.81 1396.68 867.81 1397.7 866.82 1398.73 865.85 1399.75 864.88 1400.77 863.92 1401.8 862.98 1402.82 862.04 1403.84 861.11 1404.87 860.19 1405.89 859.29 1406.91 858.39 1407.94 857.5 1408.96 856.62 1409.98 855.75 1411 854.89 1412.03 854.04 1413.05 853.2 1414.07 852.36 1415.1 851.54 1416.12 850.73 1417.14 849.92 1418.17 849.12 1419.19 848.34 1420.21 847.56 1421.24 846.79 1422.26 846.03 1423.28 845.27 1424.31 844.53 1425.33 843.8 1426.35 843.07 1427.38 842.35 1428.4 841.64 1429.42 840.94 1430.44 840.25 1431.47 839.57 1432.49 838.89 1433.51 838.22 1434.54 837.57 1435.56 836.92 1436.58 836.27 1437.61 835.64 1438.63 835.01 1439.65 834.4 1440.68 833.79 1441.7 833.19 1442.72 832.59 1443.75 832.01 1444.77 831.43 1445.79 830.86 1446.81 830.3 1447.84 829.75 1448.86 829.2 1449.88 828.66 1450.91 828.13 1451.93 827.61 1452.95 827.09 1453.98 826.59 1455 826.09 1456.02 825.59 1457.05 825.11 1458.07 824.63 1459.09 824.16 1460.12 823.7 1461.14 823.24 1462.16 822.79 1463.19 822.35 1464.21 821.92 1465.23 821.49 1466.25 821.07 1467.28 820.66 1468.3 820.25 1469.32 819.86 1470.35 819.46 1471.37 819.08 1472.39 818.7 1473.42 818.33 1474.44 817.97 1475.46 817.61 1476.49 817.26 1477.51 816.92 1478.53 816.58 1479.56 816.25 1480.58 815.93 1481.6 815.61 1482.62 815.3 1483.65 814.99 1484.67 814.69 1485.69 814.4 1486.72 814.12 1487.74 813.84 1488.76 813.57 1489.79 813.3 1490.81 813.04 1491.83 812.79 1492.86 812.54 1493.88 812.3 1494.9 812.06 1495.93 811.83 1496.95 811.61 1497.97 811.39 1499 811.18 1500.02 810.97 1501.04 810.77 1502.06 810.57 1503.09 810.39 1504.11 810.2 1505.13 810.02 1506.16 809.85 1507.18 809.69 1508.2 809.52 1509.23 809.37 1510.25 809.22 1511.27 809.07 1512.3 808.94 1513.32 808.8 1514.34 808.67 1515.37 808.55 1516.39 808.43 1517.41 808.32 1518.43 808.21 1519.46 808.11 1520.48 808.01 1521.5 807.92 1522.53 807.83 1523.55 807.75 1524.57 807.67 1525.6 807.6 1526.62 807.53 1527.64 807.46 1528.67 807.4 1529.69 807.35 1530.71 807.3 1531.74 807.26 1532.76 807.22 1533.78 807.18 1534.81 807.15 1535.83 807.12 1536.85 807.1 1537.87 807.08 1538.9 807.07 1539.92 807.06 1540.94 807.06 1541.97 807.06 1542.99 807.06 1544.01 807.07 1545.04 807.08 1546.06 807.09 1547.08 807.11 1548.11 807.14 1549.13 807.17 1550.15 807.2 1551.18 807.23 1552.2 807.27 1553.22 807.32 1554.24 807.36 1555.27 807.42 1556.29 807.47 1557.31 807.53 1558.34 807.59 1559.36 807.66 1560.38 807.72 1561.41 807.8 1562.43 807.87 1563.45 807.95 1564.48 808.04 1565.5 808.12 1566.52 808.21 1567.55 808.3 1568.57 808.4 1569.59 808.5 1570.62 808.6 1571.64 808.71 1572.66 808.81 1573.68 808.93 1574.71 809.04 1575.73 809.16 1576.75 809.28 1577.78 809.4 1578.8 809.53 1579.82 809.66 1580.85 809.79 1581.87 809.92 1582.89 810.06 1583.92 810.2 1584.94 810.34 1585.96 810.48 1586.99 810.63 1588.01 810.78 1589.03 810.93 1590.05 811.09 1591.08 811.24 1592.1 811.4 1593.12 811.57 1594.15 811.73 1595.17 811.9 1596.19 812.06 1597.22 812.23 1598.24 812.41 1599.26 812.58 1600.29 812.76 1601.31 812.93 1602.33 813.12 1603.36 813.3 1604.38 813.48 1605.4 813.67 1606.43 813.86 1607.45 814.04 1608.47 814.24 1609.49 814.43 1610.52 814.62 1611.54 814.82 1612.56 815.02 1613.59 815.22 1614.61 815.42 1615.63 815.62 1616.66 815.82 1617.68 816.03 1618.7 816.23 1619.73 816.44 1620.75 816.65 1621.77 816.86 1622.8 817.07 1623.82 817.28 1624.84 817.49 1625.87 817.71 1626.89 817.92 1627.91 818.14 1628.93 818.35 1629.96 818.57 1630.98 818.79 1632 819.01 1633.03 819.23 1634.05 819.45 1635.07 819.67 1636.1 819.9 1637.12 820.12 1638.14 820.34 1639.17 820.57 1640.19 820.79 1641.21 821.02 1642.24 821.24 1643.26 821.47 1644.28 821.69 1645.3 821.92 1646.33 822.14 1647.35 822.37 1648.37 822.6 1649.4 822.83 1650.42 823.05 1651.44 823.28 1652.47 823.51 1653.49 823.73 1654.51 823.96 1655.54 824.19 1656.56 824.42 1657.58 824.64 1658.61 824.87 1659.63 825.1 1660.65 825.32 1661.68 825.55 1662.7 825.77 1663.72 826 1664.74 826.22 1665.77 826.45 1666.79 826.67 1667.81 826.89 1668.84 827.12 1669.86 827.34 1670.88 827.56 1671.91 827.78 1672.93 828 1673.95 828.22 1674.98 828.44 1676 828.65 1677.02 828.87 1678.05 829.08 1679.07 829.3 1680.09 829.51 1681.11 829.72 1682.14 829.93 1683.16 830.14 1684.18 830.35 1685.21 830.56 1686.23 830.77 1687.25 830.97 1688.28 831.17 1689.3 831.38" stroke="#231f20" stroke-width="2.8" fill="none" stroke-linejoin="round"/>
<path d="M107.9 269.5v-5M107.9 5v5M121.61 269.5v-3M121.61 5v3M135.31 269.5v-3M135.31 5v3M149.02 269.5v-3M149.02 5v3M162.73 269.5v-3M162.73 5v3M176.43 269.5v-5M176.43 5v5M190.14 269.5v-3M190.14 5v3M203.85 269.5v-3M203.85 5v3M217.55 269.5v-3M217.55 5v3M231.26 269.5v-3M231.26 5v3M244.97 269.5v-5M244.97 5v5M258.67 269.5v-3M258.67 5v3M272.38 269.5v-3M272.38 5v3M286.09 269.5v-3M286.09 5v3M299.79 269.5v-3M299.79 5v3M313.5 269.5v-5M313.5 5v5M327.21 269.5v-3M327.21 5v3M340.91 269.5v-3M340.91 5v3M354.62 269.5v-3M354.62 5v3M368.33 269.5v-3M368.33 5v3M382.03 269.5v-5M382.03 5v5M395.74 269.5v-3M395.74 5v3M409.45 269.5v-3M409.45 5v3M423.15 269.5v-3M423.15 5v3M436.86 269.5v-3M436.86 5v3M450.57 269.5v-5M450.57 5v5M464.27 269.5v-3M464.27 5v3M477.98 269.5v-3M477.98 5v3M491.69 269.5v-3M491.69 5v3M505.39 269.5v-3M505.39 5v3M519.1 269.5v-5M519.1 5v5M99.5 264.4h5M527.9 264.4h-5M99.5 254.35h3M527.9 254.35h-3M99.5 244.3h3M527.9 244.3h-3M99.5 234.26h3M527.9 234.26h-3M99.5 224.21h3M527.9 224.21h-3M99.5 214.16h5M527.9 214.16h-5M99.5 204.11h3M527.9 204.11h-3M99.5 194.06h3M527.9 194.06h-3M99.5 184.02h3M527.9 184.02h-3M99.5 173.97h3M527.9 173.97h-3M99.5 163.92h5M527.9 163.92h-5M99.5 153.87h3M527.9 153.87h-3M99.5 143.82h3M527.9 143.82h-3M99.5 133.78h3M527.9 133.78h-3M99.5 123.73h3M527.9 123.73h-3M99.5 113.68h5M527.9 113.68h-5M99.5 103.63h3M527.9 103.63h-3M99.5 93.58h3M527.9 93.58h-3M99.5 83.54h3M527.9 83.54h-3M99.5 73.49h3M527.9 73.49h-3M99.5 63.44h5M527.9 63.44h-5M99.5 53.39h3M527.9 53.39h-3M99.5 43.34h3M527.9 43.34h-3M99.5 33.3h3M527.9 33.3h-3M99.5 23.25h3M527.9 23.25h-3M99.5 13.2h5M527.9 13.2h-5" stroke="#231f20" stroke-width="1.15" fill="none"/>
<rect x="99.5" y="5" width="428.4" height="264.5" stroke="#231f20" stroke-width="1.6" fill="none"/>
<path d="M670 269.7v-5M670 5v5M683.71 269.7v-3M683.71 5v3M697.41 269.7v-3M697.41 5v3M711.12 269.7v-3M711.12 5v3M724.83 269.7v-3M724.83 5v3M738.53 269.7v-5M738.53 5v5M752.24 269.7v-3M752.24 5v3M765.95 269.7v-3M765.95 5v3M779.65 269.7v-3M779.65 5v3M793.36 269.7v-3M793.36 5v3M807.07 269.7v-5M807.07 5v5M820.77 269.7v-3M820.77 5v3M834.48 269.7v-3M834.48 5v3M848.19 269.7v-3M848.19 5v3M861.89 269.7v-3M861.89 5v3M875.6 269.7v-5M875.6 5v5M889.31 269.7v-3M889.31 5v3M903.01 269.7v-3M903.01 5v3M916.72 269.7v-3M916.72 5v3M930.43 269.7v-3M930.43 5v3M944.13 269.7v-5M944.13 5v5M957.84 269.7v-3M957.84 5v3M971.55 269.7v-3M971.55 5v3M985.25 269.7v-3M985.25 5v3M998.96 269.7v-3M998.96 5v3M1012.67 269.7v-5M1012.67 5v5M1026.37 269.7v-3M1026.37 5v3M1040.08 269.7v-3M1040.08 5v3M1053.79 269.7v-3M1053.79 5v3M1067.49 269.7v-3M1067.49 5v3M1081.2 269.7v-5M1081.2 5v5M661.4 264.6h5M1089.7 264.6h-5M661.4 254.55h3M1089.7 254.55h-3M661.4 244.51h3M1089.7 244.51h-3M661.4 234.46h3M1089.7 234.46h-3M661.4 224.42h3M1089.7 224.42h-3M661.4 214.37h5M1089.7 214.37h-5M661.4 204.33h3M1089.7 204.33h-3M661.4 194.28h3M1089.7 194.28h-3M661.4 184.24h3M1089.7 184.24h-3M661.4 174.19h3M1089.7 174.19h-3M661.4 164.14h5M1089.7 164.14h-5M661.4 154.1h3M1089.7 154.1h-3M661.4 144.05h3M1089.7 144.05h-3M661.4 134.01h3M1089.7 134.01h-3M661.4 123.96h3M1089.7 123.96h-3M661.4 113.92h5M1089.7 113.92h-5M661.4 103.87h3M1089.7 103.87h-3M661.4 93.82h3M1089.7 93.82h-3M661.4 83.78h3M1089.7 83.78h-3M661.4 73.73h3M1089.7 73.73h-3M661.4 63.69h5M1089.7 63.69h-5M661.4 53.64h3M1089.7 53.64h-3M661.4 43.6h3M1089.7 43.6h-3M661.4 33.55h3M1089.7 33.55h-3M661.4 23.51h3M1089.7 23.51h-3M661.4 13.46h5M1089.7 13.46h-5" stroke="#231f20" stroke-width="1.15" fill="none"/>
<rect x="661.4" y="5" width="428.3" height="264.7" stroke="#231f20" stroke-width="1.6" fill="none"/>
<path d="M1283.9 270.1v-5M1283.9 6.5v5M1297.54 270.1v-3M1297.54 6.5v3M1311.19 270.1v-3M1311.19 6.5v3M1324.83 270.1v-3M1324.83 6.5v3M1338.47 270.1v-3M1338.47 6.5v3M1352.12 270.1v-5M1352.12 6.5v5M1365.76 270.1v-3M1365.76 6.5v3M1379.4 270.1v-3M1379.4 6.5v3M1393.05 270.1v-3M1393.05 6.5v3M1406.69 270.1v-3M1406.69 6.5v3M1420.33 270.1v-5M1420.33 6.5v5M1433.98 270.1v-3M1433.98 6.5v3M1447.62 270.1v-3M1447.62 6.5v3M1461.26 270.1v-3M1461.26 6.5v3M1474.91 270.1v-3M1474.91 6.5v3M1488.55 270.1v-5M1488.55 6.5v5M1502.19 270.1v-3M1502.19 6.5v3M1515.84 270.1v-3M1515.84 6.5v3M1529.48 270.1v-3M1529.48 6.5v3M1543.12 270.1v-3M1543.12 6.5v3M1556.77 270.1v-5M1556.77 6.5v5M1570.41 270.1v-3M1570.41 6.5v3M1584.05 270.1v-3M1584.05 6.5v3M1597.7 270.1v-3M1597.7 6.5v3M1611.34 270.1v-3M1611.34 6.5v3M1624.98 270.1v-5M1624.98 6.5v5M1638.63 270.1v-3M1638.63 6.5v3M1652.27 270.1v-3M1652.27 6.5v3M1665.91 270.1v-3M1665.91 6.5v3M1679.56 270.1v-3M1679.56 6.5v3M1693.2 270.1v-5M1693.2 6.5v5M1275.5 264.9h5M1702.3 264.9h-5M1275.5 249.86h3M1702.3 249.86h-3M1275.5 234.82h3M1702.3 234.82h-3M1275.5 219.79h3M1702.3 219.79h-3M1275.5 204.75h5M1702.3 204.75h-5M1275.5 189.71h3M1702.3 189.71h-3M1275.5 174.68h3M1702.3 174.68h-3M1275.5 159.64h3M1702.3 159.64h-3M1275.5 144.6h5M1702.3 144.6h-5M1275.5 129.56h3M1702.3 129.56h-3M1275.5 114.53h3M1702.3 114.53h-3M1275.5 99.49h3M1702.3 99.49h-3M1275.5 84.45h5M1702.3 84.45h-5M1275.5 69.41h3M1702.3 69.41h-3M1275.5 54.38h3M1702.3 54.38h-3M1275.5 39.34h3M1702.3 39.34h-3M1275.5 24.3h5M1702.3 24.3h-5M1275.5 9.26h3M1702.3 9.26h-3" stroke="#231f20" stroke-width="1.15" fill="none"/>
<rect x="1275.5" y="6.5" width="426.8" height="263.6" stroke="#231f20" stroke-width="1.6" fill="none"/>
<path d="M107.6 666.5v-5M107.6 401.4v5M121.31 666.5v-3M121.31 401.4v3M135.03 666.5v-3M135.03 401.4v3M148.74 666.5v-3M148.74 401.4v3M162.45 666.5v-3M162.45 401.4v3M176.17 666.5v-5M176.17 401.4v5M189.88 666.5v-3M189.88 401.4v3M203.59 666.5v-3M203.59 401.4v3M217.31 666.5v-3M217.31 401.4v3M231.02 666.5v-3M231.02 401.4v3M244.73 666.5v-5M244.73 401.4v5M258.45 666.5v-3M258.45 401.4v3M272.16 666.5v-3M272.16 401.4v3M285.87 666.5v-3M285.87 401.4v3M299.59 666.5v-3M299.59 401.4v3M313.3 666.5v-5M313.3 401.4v5M327.01 666.5v-3M327.01 401.4v3M340.73 666.5v-3M340.73 401.4v3M354.44 666.5v-3M354.44 401.4v3M368.15 666.5v-3M368.15 401.4v3M381.87 666.5v-5M381.87 401.4v5M395.58 666.5v-3M395.58 401.4v3M409.29 666.5v-3M409.29 401.4v3M423.01 666.5v-3M423.01 401.4v3M436.72 666.5v-3M436.72 401.4v3M450.43 666.5v-5M450.43 401.4v5M464.15 666.5v-3M464.15 401.4v3M477.86 666.5v-3M477.86 401.4v3M491.57 666.5v-3M491.57 401.4v3M505.29 666.5v-3M505.29 401.4v3M519 666.5v-5M519 401.4v5M98.8 660.9h5M527.7 660.9h-5M98.8 648.23h3M527.7 648.23h-3M98.8 635.56h3M527.7 635.56h-3M98.8 622.89h3M527.7 622.89h-3M98.8 610.22h5M527.7 610.22h-5M98.8 597.55h3M527.7 597.55h-3M98.8 584.88h3M527.7 584.88h-3M98.8 572.21h3M527.7 572.21h-3M98.8 559.54h5M527.7 559.54h-5M98.8 546.87h3M527.7 546.87h-3M98.8 534.2h3M527.7 534.2h-3M98.8 521.53h3M527.7 521.53h-3M98.8 508.86h5M527.7 508.86h-5M98.8 496.19h3M527.7 496.19h-3M98.8 483.52h3M527.7 483.52h-3M98.8 470.85h3M527.7 470.85h-3M98.8 458.18h5M527.7 458.18h-5M98.8 445.51h3M527.7 445.51h-3M98.8 432.84h3M527.7 432.84h-3M98.8 420.17h3M527.7 420.17h-3M98.8 407.5h5M527.7 407.5h-5" stroke="#231f20" stroke-width="1.15" fill="none"/>
<rect x="98.8" y="401.4" width="428.9" height="265.1" stroke="#231f20" stroke-width="1.6" fill="none"/>
<path d="M671 666.3v-5M671 401v5M684.74 666.3v-3M684.74 401v3M698.47 666.3v-3M698.47 401v3M712.21 666.3v-3M712.21 401v3M725.95 666.3v-3M725.95 401v3M739.68 666.3v-5M739.68 401v5M753.42 666.3v-3M753.42 401v3M767.16 666.3v-3M767.16 401v3M780.89 666.3v-3M780.89 401v3M794.63 666.3v-3M794.63 401v3M808.37 666.3v-5M808.37 401v5M822.1 666.3v-3M822.1 401v3M835.84 666.3v-3M835.84 401v3M849.58 666.3v-3M849.58 401v3M863.31 666.3v-3M863.31 401v3M877.05 666.3v-5M877.05 401v5M890.79 666.3v-3M890.79 401v3M904.52 666.3v-3M904.52 401v3M918.26 666.3v-3M918.26 401v3M932 666.3v-3M932 401v3M945.73 666.3v-5M945.73 401v5M959.47 666.3v-3M959.47 401v3M973.21 666.3v-3M973.21 401v3M986.94 666.3v-3M986.94 401v3M1000.68 666.3v-3M1000.68 401v3M1014.42 666.3v-5M1014.42 401v5M1028.15 666.3v-3M1028.15 401v3M1041.89 666.3v-3M1041.89 401v3M1055.63 666.3v-3M1055.63 401v3M1069.36 666.3v-3M1069.36 401v3M1083.1 666.3v-5M1083.1 401v5M662.4 661.2h5M1091.8 661.2h-5M662.4 648.45h3M1091.8 648.45h-3M662.4 635.69h3M1091.8 635.69h-3M662.4 622.94h3M1091.8 622.94h-3M662.4 610.18h5M1091.8 610.18h-5M662.4 597.43h3M1091.8 597.43h-3M662.4 584.67h3M1091.8 584.67h-3M662.4 571.92h3M1091.8 571.92h-3M662.4 559.16h5M1091.8 559.16h-5M662.4 546.4h3M1091.8 546.4h-3M662.4 533.65h3M1091.8 533.65h-3M662.4 520.89h3M1091.8 520.89h-3M662.4 508.14h5M1091.8 508.14h-5M662.4 495.38h3M1091.8 495.38h-3M662.4 482.63h3M1091.8 482.63h-3M662.4 469.88h3M1091.8 469.88h-3M662.4 457.12h5M1091.8 457.12h-5M662.4 444.37h3M1091.8 444.37h-3M662.4 431.61h3M1091.8 431.61h-3M662.4 418.86h3M1091.8 418.86h-3M662.4 406.1h5M1091.8 406.1h-5" stroke="#231f20" stroke-width="1.15" fill="none"/>
<rect x="662.4" y="401" width="429.4" height="265.3" stroke="#231f20" stroke-width="1.6" fill="none"/>
<path d="M1279.7 668.5v-5M1279.7 404.7v5M1293.35 668.5v-3M1293.35 404.7v3M1307.01 668.5v-3M1307.01 404.7v3M1320.66 668.5v-3M1320.66 404.7v3M1334.31 668.5v-3M1334.31 404.7v3M1347.97 668.5v-5M1347.97 404.7v5M1361.62 668.5v-3M1361.62 404.7v3M1375.27 668.5v-3M1375.27 404.7v3M1388.93 668.5v-3M1388.93 404.7v3M1402.58 668.5v-3M1402.58 404.7v3M1416.23 668.5v-5M1416.23 404.7v5M1429.89 668.5v-3M1429.89 404.7v3M1443.54 668.5v-3M1443.54 404.7v3M1457.19 668.5v-3M1457.19 404.7v3M1470.85 668.5v-3M1470.85 404.7v3M1484.5 668.5v-5M1484.5 404.7v5M1498.15 668.5v-3M1498.15 404.7v3M1511.81 668.5v-3M1511.81 404.7v3M1525.46 668.5v-3M1525.46 404.7v3M1539.11 668.5v-3M1539.11 404.7v3M1552.77 668.5v-5M1552.77 404.7v5M1566.42 668.5v-3M1566.42 404.7v3M1580.07 668.5v-3M1580.07 404.7v3M1593.73 668.5v-3M1593.73 404.7v3M1607.38 668.5v-3M1607.38 404.7v3M1621.03 668.5v-5M1621.03 404.7v5M1634.69 668.5v-3M1634.69 404.7v3M1648.34 668.5v-3M1648.34 404.7v3M1661.99 668.5v-3M1661.99 404.7v3M1675.65 668.5v-3M1675.65 404.7v3M1689.3 668.5v-5M1689.3 404.7v5M1271.3 663h5M1698 663h-5M1271.3 648.01h3M1698 648.01h-3M1271.3 633.03h3M1698 633.03h-3M1271.3 618.04h3M1698 618.04h-3M1271.3 603.05h3M1698 603.05h-3M1271.3 588.07h5M1698 588.07h-5M1271.3 573.08h3M1698 573.08h-3M1271.3 558.09h3M1698 558.09h-3M1271.3 543.11h3M1698 543.11h-3M1271.3 528.12h3M1698 528.12h-3M1271.3 513.13h5M1698 513.13h-5M1271.3 498.15h3M1698 498.15h-3M1271.3 483.16h3M1698 483.16h-3M1271.3 468.17h3M1698 468.17h-3M1271.3 453.19h3M1698 453.19h-3M1271.3 438.2h5M1698 438.2h-5M1271.3 423.21h3M1698 423.21h-3M1271.3 408.23h3M1698 408.23h-3" stroke="#231f20" stroke-width="1.15" fill="none"/>
<rect x="1271.3" y="404.7" width="426.7" height="263.8" stroke="#231f20" stroke-width="1.6" fill="none"/>
<path d="M107.6 1057.8v-5M107.6 792.7v5M121.31 1057.8v-3M121.31 792.7v3M135.03 1057.8v-3M135.03 792.7v3M148.74 1057.8v-3M148.74 792.7v3M162.45 1057.8v-3M162.45 792.7v3M176.17 1057.8v-5M176.17 792.7v5M189.88 1057.8v-3M189.88 792.7v3M203.59 1057.8v-3M203.59 792.7v3M217.31 1057.8v-3M217.31 792.7v3M231.02 1057.8v-3M231.02 792.7v3M244.73 1057.8v-5M244.73 792.7v5M258.45 1057.8v-3M258.45 792.7v3M272.16 1057.8v-3M272.16 792.7v3M285.87 1057.8v-3M285.87 792.7v3M299.59 1057.8v-3M299.59 792.7v3M313.3 1057.8v-5M313.3 792.7v5M327.01 1057.8v-3M327.01 792.7v3M340.73 1057.8v-3M340.73 792.7v3M354.44 1057.8v-3M354.44 792.7v3M368.15 1057.8v-3M368.15 792.7v3M381.87 1057.8v-5M381.87 792.7v5M395.58 1057.8v-3M395.58 792.7v3M409.29 1057.8v-3M409.29 792.7v3M423.01 1057.8v-3M423.01 792.7v3M436.72 1057.8v-3M436.72 792.7v3M450.43 1057.8v-5M450.43 792.7v5M464.15 1057.8v-3M464.15 792.7v3M477.86 1057.8v-3M477.86 792.7v3M491.57 1057.8v-3M491.57 792.7v3M505.29 1057.8v-3M505.29 792.7v3M519 1057.8v-5M519 792.7v5M98.8 1052.2h5M527.7 1052.2h-5M98.8 1039.53h3M527.7 1039.53h-3M98.8 1026.86h3M527.7 1026.86h-3M98.8 1014.19h3M527.7 1014.19h-3M98.8 1001.52h5M527.7 1001.52h-5M98.8 988.85h3M527.7 988.85h-3M98.8 976.18h3M527.7 976.18h-3M98.8 963.51h3M527.7 963.51h-3M98.8 950.84h5M527.7 950.84h-5M98.8 938.17h3M527.7 938.17h-3M98.8 925.5h3M527.7 925.5h-3M98.8 912.83h3M527.7 912.83h-3M98.8 900.16h5M527.7 900.16h-5M98.8 887.49h3M527.7 887.49h-3M98.8 874.82h3M527.7 874.82h-3M98.8 862.15h3M527.7 862.15h-3M98.8 849.48h5M527.7 849.48h-5M98.8 836.81h3M527.7 836.81h-3M98.8 824.14h3M527.7 824.14h-3M98.8 811.47h3M527.7 811.47h-3M98.8 798.8h5M527.7 798.8h-5" stroke="#231f20" stroke-width="1.15" fill="none"/>
<rect x="98.8" y="792.7" width="428.9" height="265.1" stroke="#231f20" stroke-width="1.6" fill="none"/>
<path d="M671 1058.1v-5M671 792.8v5M684.74 1058.1v-3M684.74 792.8v3M698.47 1058.1v-3M698.47 792.8v3M712.21 1058.1v-3M712.21 792.8v3M725.95 1058.1v-3M725.95 792.8v3M739.68 1058.1v-5M739.68 792.8v5M753.42 1058.1v-3M753.42 792.8v3M767.16 1058.1v-3M767.16 792.8v3M780.89 1058.1v-3M780.89 792.8v3M794.63 1058.1v-3M794.63 792.8v3M808.37 1058.1v-5M808.37 792.8v5M822.1 1058.1v-3M822.1 792.8v3M835.84 1058.1v-3M835.84 792.8v3M849.58 1058.1v-3M849.58 792.8v3M863.31 1058.1v-3M863.31 792.8v3M877.05 1058.1v-5M877.05 792.8v5M890.79 1058.1v-3M890.79 792.8v3M904.52 1058.1v-3M904.52 792.8v3M918.26 1058.1v-3M918.26 792.8v3M932 1058.1v-3M932 792.8v3M945.73 1058.1v-5M945.73 792.8v5M959.47 1058.1v-3M959.47 792.8v3M973.21 1058.1v-3M973.21 792.8v3M986.94 1058.1v-3M986.94 792.8v3M1000.68 1058.1v-3M1000.68 792.8v3M1014.42 1058.1v-5M1014.42 792.8v5M1028.15 1058.1v-3M1028.15 792.8v3M1041.89 1058.1v-3M1041.89 792.8v3M1055.63 1058.1v-3M1055.63 792.8v3M1069.36 1058.1v-3M1069.36 792.8v3M1083.1 1058.1v-5M1083.1 792.8v5M662.4 1053h5M1091.8 1053h-5M662.4 1040.24h3M1091.8 1040.24h-3M662.4 1027.49h3M1091.8 1027.49h-3M662.4 1014.74h3M1091.8 1014.74h-3M662.4 1001.98h5M1091.8 1001.98h-5M662.4 989.23h3M1091.8 989.23h-3M662.4 976.47h3M1091.8 976.47h-3M662.4 963.72h3M1091.8 963.72h-3M662.4 950.96h5M1091.8 950.96h-5M662.4 938.21h3M1091.8 938.21h-3M662.4 925.45h3M1091.8 925.45h-3M662.4 912.7h3M1091.8 912.7h-3M662.4 899.94h5M1091.8 899.94h-5M662.4 887.19h3M1091.8 887.19h-3M662.4 874.43h3M1091.8 874.43h-3M662.4 861.68h3M1091.8 861.68h-3M662.4 848.92h5M1091.8 848.92h-5M662.4 836.17h3M1091.8 836.17h-3M662.4 823.41h3M1091.8 823.41h-3M662.4 810.66h3M1091.8 810.66h-3M662.4 797.9h5M1091.8 797.9h-5" stroke="#231f20" stroke-width="1.15" fill="none"/>
<rect x="662.4" y="792.8" width="429.4" height="265.3" stroke="#231f20" stroke-width="1.6" fill="none"/>
<path d="M1279.7 1056.7v-5M1279.7 792.9v5M1293.35 1056.7v-3M1293.35 792.9v3M1307.01 1056.7v-3M1307.01 792.9v3M1320.66 1056.7v-3M1320.66 792.9v3M1334.31 1056.7v-3M1334.31 792.9v3M1347.97 1056.7v-5M1347.97 792.9v5M1361.62 1056.7v-3M1361.62 792.9v3M1375.27 1056.7v-3M1375.27 792.9v3M1388.93 1056.7v-3M1388.93 792.9v3M1402.58 1056.7v-3M1402.58 792.9v3M1416.23 1056.7v-5M1416.23 792.9v5M1429.89 1056.7v-3M1429.89 792.9v3M1443.54 1056.7v-3M1443.54 792.9v3M1457.19 1056.7v-3M1457.19 792.9v3M1470.85 1056.7v-3M1470.85 792.9v3M1484.5 1056.7v-5M1484.5 792.9v5M1498.15 1056.7v-3M1498.15 792.9v3M1511.81 1056.7v-3M1511.81 792.9v3M1525.46 1056.7v-3M1525.46 792.9v3M1539.11 1056.7v-3M1539.11 792.9v3M1552.77 1056.7v-5M1552.77 792.9v5M1566.42 1056.7v-3M1566.42 792.9v3M1580.07 1056.7v-3M1580.07 792.9v3M1593.73 1056.7v-3M1593.73 792.9v3M1607.38 1056.7v-3M1607.38 792.9v3M1621.03 1056.7v-5M1621.03 792.9v5M1634.69 1056.7v-3M1634.69 792.9v3M1648.34 1056.7v-3M1648.34 792.9v3M1661.99 1056.7v-3M1661.99 792.9v3M1675.65 1056.7v-3M1675.65 792.9v3M1689.3 1056.7v-5M1689.3 792.9v5M1271.3 1051.2h5M1698 1051.2h-5M1271.3 1036.21h3M1698 1036.21h-3M1271.3 1021.23h3M1698 1021.23h-3M1271.3 1006.24h3M1698 1006.24h-3M1271.3 991.25h3M1698 991.25h-3M1271.3 976.27h5M1698 976.27h-5M1271.3 961.28h3M1698 961.28h-3M1271.3 946.29h3M1698 946.29h-3M1271.3 931.31h3M1698 931.31h-3M1271.3 916.32h3M1698 916.32h-3M1271.3 901.33h5M1698 901.33h-5M1271.3 886.35h3M1698 886.35h-3M1271.3 871.36h3M1698 871.36h-3M1271.3 856.37h3M1698 856.37h-3M1271.3 841.39h3M1698 841.39h-3M1271.3 826.4h5M1698 826.4h-5M1271.3 811.41h3M1698 811.41h-3M1271.3 796.43h3M1698 796.43h-3" stroke="#231f20" stroke-width="1.15" fill="none"/>
<rect x="1271.3" y="792.9" width="426.7" height="263.8" stroke="#231f20" stroke-width="1.6" fill="none"/>
<text x="107.9" y="306.6" font-size="37.5" text-anchor="middle">0</text>
<text x="176.43" y="306.6" font-size="37.5" text-anchor="middle">50</text>
<text x="244.97" y="306.6" font-size="37.5" text-anchor="middle">100</text>
<text x="313.5" y="306.6" font-size="37.5" text-anchor="middle">150</text>
<text x="382.03" y="306.6" font-size="37.5" text-anchor="middle">200</text>
<text x="450.57" y="306.6" font-size="37.5" text-anchor="middle">250</text>
<text x="519.1" y="306.6" font-size="37.5" text-anchor="middle">300</text>
<text x="93.7" y="276.38" font-size="37.5" text-anchor="end" textLength="45.08" lengthAdjust="spacing">0.0</text>
<text x="93.7" y="226.14" font-size="37.5" text-anchor="end" textLength="45.08" lengthAdjust="spacing">0.1</text>
<text x="93.7" y="175.9" font-size="37.5" text-anchor="end" textLength="45.08" lengthAdjust="spacing">0.2</text>
<text x="93.7" y="125.66" font-size="37.5" text-anchor="end" textLength="45.08" lengthAdjust="spacing">0.3</text>
<text x="93.7" y="75.42" font-size="37.5" text-anchor="end" textLength="45.08" lengthAdjust="spacing">0.4</text>
<text x="93.7" y="25.18" font-size="37.5" text-anchor="end" textLength="45.08" lengthAdjust="spacing">0.5</text>
<text x="670" y="306.6" font-size="37.5" text-anchor="middle">0</text>
<text x="738.53" y="306.6" font-size="37.5" text-anchor="middle">50</text>
<text x="807.07" y="306.6" font-size="37.5" text-anchor="middle">100</text>
<text x="875.6" y="306.6" font-size="37.5" text-anchor="middle">150</text>
<text x="944.13" y="306.6" font-size="37.5" text-anchor="middle">200</text>
<text x="1012.67" y="306.6" font-size="37.5" text-anchor="middle">250</text>
<text x="1081.2" y="306.6" font-size="37.5" text-anchor="middle">300</text>
<text x="655.6" y="276.59" font-size="37.5" text-anchor="end" textLength="45.08" lengthAdjust="spacing">0.0</text>
<text x="655.6" y="226.36" font-size="37.5" text-anchor="end" textLength="45.08" lengthAdjust="spacing">0.1</text>
<text x="655.6" y="176.13" font-size="37.5" text-anchor="end" textLength="45.08" lengthAdjust="spacing">0.2</text>
<text x="655.6" y="125.9" font-size="37.5" text-anchor="end" textLength="45.08" lengthAdjust="spacing">0.3</text>
<text x="655.6" y="75.67" font-size="37.5" text-anchor="end" textLength="45.08" lengthAdjust="spacing">0.4</text>
<text x="655.6" y="25.45" font-size="37.5" text-anchor="end" textLength="45.08" lengthAdjust="spacing">0.5</text>
<text x="1283.9" y="306.6" font-size="37.5" text-anchor="middle">0</text>
<text x="1352.12" y="306.6" font-size="37.5" text-anchor="middle">50</text>
<text x="1420.33" y="306.6" font-size="37.5" text-anchor="middle">100</text>
<text x="1488.55" y="306.6" font-size="37.5" text-anchor="middle">150</text>
<text x="1556.77" y="306.6" font-size="37.5" text-anchor="middle">200</text>
<text x="1624.98" y="306.6" font-size="37.5" text-anchor="middle">250</text>
<text x="1693.2" y="306.6" font-size="37.5" text-anchor="middle">300</text>
<text x="1270.1" y="277.27" font-size="40.8" text-anchor="end" textLength="90.3" lengthAdjust="spacing">0.000</text>
<text x="1270.1" y="217.12" font-size="40.8" text-anchor="end" textLength="90.3" lengthAdjust="spacing">0.002</text>
<text x="1270.1" y="156.97" font-size="40.8" text-anchor="end" textLength="90.3" lengthAdjust="spacing">0.004</text>
<text x="1270.1" y="96.82" font-size="40.8" text-anchor="end" textLength="90.3" lengthAdjust="spacing">0.006</text>
<text x="1270.1" y="36.67" font-size="40.8" text-anchor="end" textLength="90.3" lengthAdjust="spacing">0.008</text>
<text x="107.6" y="703" font-size="37.5" text-anchor="middle">0</text>
<text x="176.17" y="703" font-size="37.5" text-anchor="middle">50</text>
<text x="244.73" y="703" font-size="37.5" text-anchor="middle">100</text>
<text x="313.3" y="703" font-size="37.5" text-anchor="middle">150</text>
<text x="381.87" y="703" font-size="37.5" text-anchor="middle">200</text>
<text x="450.43" y="703" font-size="37.5" text-anchor="middle">250</text>
<text x="519" y="703" font-size="37.5" text-anchor="middle">300</text>
<text x="93" y="672.88" font-size="37.5" text-anchor="end" textLength="45.08" lengthAdjust="spacing">0.0</text>
<text x="93" y="622.21" font-size="37.5" text-anchor="end" textLength="45.08" lengthAdjust="spacing">0.2</text>
<text x="93" y="571.52" font-size="37.5" text-anchor="end" textLength="45.08" lengthAdjust="spacing">0.4</text>
<text x="93" y="520.85" font-size="37.5" text-anchor="end" textLength="45.08" lengthAdjust="spacing">0.6</text>
<text x="93" y="470.16" font-size="37.5" text-anchor="end" textLength="45.08" lengthAdjust="spacing">0.8</text>
<text x="93" y="419.49" font-size="37.5" text-anchor="end" textLength="45.08" lengthAdjust="spacing">1.0</text>
<text x="671" y="703" font-size="37.5" text-anchor="middle">0</text>
<text x="739.68" y="703" font-size="37.5" text-anchor="middle">50</text>
<text x="808.37" y="703" font-size="37.5" text-anchor="middle">100</text>
<text x="877.05" y="703" font-size="37.5" text-anchor="middle">150</text>
<text x="945.73" y="703" font-size="37.5" text-anchor="middle">200</text>
<text x="1014.42" y="703" font-size="37.5" text-anchor="middle">250</text>
<text x="1083.1" y="703" font-size="37.5" text-anchor="middle">300</text>
<text x="656.6" y="673.19" font-size="37.5" text-anchor="end" textLength="45.08" lengthAdjust="spacing">0.0</text>
<text x="656.6" y="622.17" font-size="37.5" text-anchor="end" textLength="45.08" lengthAdjust="spacing">0.2</text>
<text x="656.6" y="571.15" font-size="37.5" text-anchor="end" textLength="45.08" lengthAdjust="spacing">0.4</text>
<text x="656.6" y="520.13" font-size="37.5" text-anchor="end" textLength="45.08" lengthAdjust="spacing">0.6</text>
<text x="656.6" y="469.11" font-size="37.5" text-anchor="end" textLength="45.08" lengthAdjust="spacing">0.8</text>
<text x="656.6" y="418.09" font-size="37.5" text-anchor="end" textLength="45.08" lengthAdjust="spacing">1.0</text>
<text x="1279.7" y="703" font-size="37.5" text-anchor="middle">0</text>
<text x="1347.97" y="703" font-size="37.5" text-anchor="middle">50</text>
<text x="1416.23" y="703" font-size="37.5" text-anchor="middle">100</text>
<text x="1484.5" y="703" font-size="37.5" text-anchor="middle">150</text>
<text x="1552.77" y="703" font-size="37.5" text-anchor="middle">200</text>
<text x="1621.03" y="703" font-size="37.5" text-anchor="middle">250</text>
<text x="1689.3" y="703" font-size="37.5" text-anchor="middle">300</text>
<text x="1265.9" y="675.37" font-size="40.8" text-anchor="end" textLength="90.3" lengthAdjust="spacing">0.000</text>
<text x="1265.9" y="600.43" font-size="40.8" text-anchor="end" textLength="90.3" lengthAdjust="spacing">0.005</text>
<text x="1265.9" y="525.5" font-size="40.8" text-anchor="end" textLength="90.3" lengthAdjust="spacing">0.010</text>
<text x="1265.9" y="450.57" font-size="40.8" text-anchor="end" textLength="90.3" lengthAdjust="spacing">0.015</text>
<text x="107.6" y="1094.6" font-size="37.5" text-anchor="middle">0</text>
<text x="176.17" y="1094.6" font-size="37.5" text-anchor="middle">50</text>
<text x="244.73" y="1094.6" font-size="37.5" text-anchor="middle">100</text>
<text x="313.3" y="1094.6" font-size="37.5" text-anchor="middle">150</text>
<text x="381.87" y="1094.6" font-size="37.5" text-anchor="middle">200</text>
<text x="450.43" y="1094.6" font-size="37.5" text-anchor="middle">250</text>
<text x="519" y="1094.6" font-size="37.5" text-anchor="middle">300</text>
<text x="93" y="1064.19" font-size="37.5" text-anchor="end" textLength="45.08" lengthAdjust="spacing">0.0</text>
<text x="93" y="1013.5" font-size="37.5" text-anchor="end" textLength="45.08" lengthAdjust="spacing">0.2</text>
<text x="93" y="962.83" font-size="37.5" text-anchor="end" textLength="45.08" lengthAdjust="spacing">0.4</text>
<text x="93" y="912.14" font-size="37.5" text-anchor="end" textLength="45.08" lengthAdjust="spacing">0.6</text>
<text x="93" y="861.47" font-size="37.5" text-anchor="end" textLength="45.08" lengthAdjust="spacing">0.8</text>
<text x="93" y="810.78" font-size="37.5" text-anchor="end" textLength="45.08" lengthAdjust="spacing">1.0</text>
<text x="671" y="1094.6" font-size="37.5" text-anchor="middle">0</text>
<text x="739.68" y="1094.6" font-size="37.5" text-anchor="middle">50</text>
<text x="808.37" y="1094.6" font-size="37.5" text-anchor="middle">100</text>
<text x="877.05" y="1094.6" font-size="37.5" text-anchor="middle">150</text>
<text x="945.73" y="1094.6" font-size="37.5" text-anchor="middle">200</text>
<text x="1014.42" y="1094.6" font-size="37.5" text-anchor="middle">250</text>
<text x="1083.1" y="1094.6" font-size="37.5" text-anchor="middle">300</text>
<text x="656.6" y="1064.99" font-size="37.5" text-anchor="end" textLength="45.08" lengthAdjust="spacing">0.0</text>
<text x="656.6" y="1013.97" font-size="37.5" text-anchor="end" textLength="45.08" lengthAdjust="spacing">0.2</text>
<text x="656.6" y="962.95" font-size="37.5" text-anchor="end" textLength="45.08" lengthAdjust="spacing">0.4</text>
<text x="656.6" y="911.93" font-size="37.5" text-anchor="end" textLength="45.08" lengthAdjust="spacing">0.6</text>
<text x="656.6" y="860.91" font-size="37.5" text-anchor="end" textLength="45.08" lengthAdjust="spacing">0.8</text>
<text x="656.6" y="809.89" font-size="37.5" text-anchor="end" textLength="45.08" lengthAdjust="spacing">1.0</text>
<text x="1279.7" y="1094.6" font-size="37.5" text-anchor="middle">0</text>
<text x="1347.97" y="1094.6" font-size="37.5" text-anchor="middle">50</text>
<text x="1416.23" y="1094.6" font-size="37.5" text-anchor="middle">100</text>
<text x="1484.5" y="1094.6" font-size="37.5" text-anchor="middle">150</text>
<text x="1552.77" y="1094.6" font-size="37.5" text-anchor="middle">200</text>
<text x="1621.03" y="1094.6" font-size="37.5" text-anchor="middle">250</text>
<text x="1689.3" y="1094.6" font-size="37.5" text-anchor="middle">300</text>
<text x="1265.9" y="1063.57" font-size="40.8" text-anchor="end" textLength="90.3" lengthAdjust="spacing">0.000</text>
<text x="1265.9" y="988.63" font-size="40.8" text-anchor="end" textLength="90.3" lengthAdjust="spacing">0.005</text>
<text x="1265.9" y="913.7" font-size="40.8" text-anchor="end" textLength="90.3" lengthAdjust="spacing">0.010</text>
<text x="1265.9" y="838.77" font-size="40.8" text-anchor="end" textLength="90.3" lengthAdjust="spacing">0.015</text>
<text x="313.7" y="351.6" font-size="41.5" text-anchor="middle">t</text>
<text x="875.55" y="351.6" font-size="41.5" text-anchor="middle">t</text>
<text x="1488.9" y="351.6" font-size="41.5" text-anchor="middle">t</text>
<text x="313.25" y="747.6" font-size="41.5" text-anchor="middle">t</text>
<text x="877.1" y="747.6" font-size="41.5" text-anchor="middle">t</text>
<text x="1484.65" y="747.6" font-size="41.5" text-anchor="middle">t</text>
<text x="313.25" y="1136.5" font-size="41.5" text-anchor="middle">t</text>
<text x="877.1" y="1136.5" font-size="41.5" text-anchor="middle">t</text>
<text x="1484.65" y="1136.5" font-size="41.5" text-anchor="middle">t</text>
<text transform="translate(32.4,265) rotate(-90)" x="-0.77" y="0" font-size="43.3" textLength="257.35" lengthAdjust="spacingAndGlyphs">Trace Distance</text>
<text transform="translate(593,265.6) rotate(-90)" x="-0.77" y="0" font-size="43.3" textLength="257.35" lengthAdjust="spacingAndGlyphs">Trace Distance</text>
<text transform="translate(1164.3,265.8) rotate(-90)" x="-0.77" y="0" font-size="43.3" textLength="257.35" lengthAdjust="spacingAndGlyphs">Trace Distance</text>
<text transform="translate(30.1,694.5) rotate(-90)" x="-1.25" y="0" font-size="43.3" textLength="325.85" lengthAdjust="spacingAndGlyphs">Hellinger Distance</text>
<text transform="translate(593.9,694.5) rotate(-90)" x="-1.25" y="0" font-size="43.3" textLength="325.85" lengthAdjust="spacingAndGlyphs">Hellinger Distance</text>
<text transform="translate(1159.9,694.5) rotate(-90)" x="-1.25" y="0" font-size="43.3" textLength="325.85" lengthAdjust="spacingAndGlyphs">Hellinger Distance</text>
<text transform="translate(29.9,1053.4) rotate(-90)" x="-1.23" y="0" font-size="43.3" textLength="258.9" lengthAdjust="spacingAndGlyphs">Bures Distance</text>
<text transform="translate(595.9,1053) rotate(-90)" x="-1.23" y="0" font-size="43.3" textLength="258.9" lengthAdjust="spacingAndGlyphs">Bures Distance</text>
<text transform="translate(1160.9,1053) rotate(-90)" x="-1.23" y="0" font-size="43.3" textLength="258.9" lengthAdjust="spacingAndGlyphs">Bures Distance</text>
<text x="472.24" y="41.8" font-size="38.7" textLength="44.42" lengthAdjust="spacingAndGlyphs">(a)</text>
<text x="326.96" y="87.2" font-size="41" textLength="187.48" lengthAdjust="spacingAndGlyphs">Markovian-</text>
<text x="336.06" y="123.8" font-size="41" textLength="171.94" lengthAdjust="spacingAndGlyphs">Lorentzian</text>
<text x="1034.18" y="41.9" font-size="38.7" textLength="45.75" lengthAdjust="spacingAndGlyphs">(b)</text>
<text x="892.95" y="85.7" font-size="41" textLength="187.99" lengthAdjust="spacingAndGlyphs">Markovian-</text>
<text x="903.16" y="125.4" font-size="41" textLength="171.84" lengthAdjust="spacingAndGlyphs">Lorentzian</text>
<text x="925.67" y="165" font-size="41" textLength="123.62" lengthAdjust="spacingAndGlyphs">squared</text>
<text x="1642.65" y="42.1" font-size="38.7" textLength="44.2" lengthAdjust="spacingAndGlyphs">(c)</text>
<text x="1502.25" y="205.9" font-size="41" textLength="188.9" lengthAdjust="spacingAndGlyphs">Markovian-</text>
<text x="1540.96" y="245.6" font-size="41" textLength="108.97" lengthAdjust="spacingAndGlyphs">Ohmic</text>
<text x="472.26" y="442.1" font-size="38.7" textLength="46.07" lengthAdjust="spacingAndGlyphs">(d)</text>
<text x="327.16" y="485.8" font-size="41" textLength="187.58" lengthAdjust="spacingAndGlyphs">Markovian-</text>
<text x="336.36" y="522.9" font-size="41" textLength="171.14" lengthAdjust="spacingAndGlyphs">Lorentzian</text>
<text x="1037.27" y="438.2" font-size="38.7" textLength="43.66" lengthAdjust="spacingAndGlyphs">(e)</text>
<text x="893.05" y="480.7" font-size="41" textLength="188.09" lengthAdjust="spacingAndGlyphs">Markovian-</text>
<text x="903.26" y="520.4" font-size="41" textLength="171.84" lengthAdjust="spacingAndGlyphs">Lorentzian</text>
<text x="925.77" y="560" font-size="41" textLength="123.72" lengthAdjust="spacingAndGlyphs">squared</text>
<text x="1503.06" y="485.8" font-size="41" textLength="186.77" lengthAdjust="spacingAndGlyphs">Markovian-</text>
<text x="1540.96" y="525.5" font-size="41" textLength="108.97" lengthAdjust="spacingAndGlyphs">Ohmic</text>
<text x="1647.09" y="647.7" font-size="38.7" textLength="43.53" lengthAdjust="spacingAndGlyphs">(f)</text>
<text x="472.26" y="830.8" font-size="38.7" textLength="46.07" lengthAdjust="spacingAndGlyphs">(g)</text>
<text x="327.16" y="885.8" font-size="41" textLength="187.58" lengthAdjust="spacingAndGlyphs">Markovian-</text>
<text x="336.36" y="924.1" font-size="41" textLength="171.14" lengthAdjust="spacingAndGlyphs">Lorentzian</text>
<text x="1034.18" y="831.8" font-size="38.7" textLength="45.75" lengthAdjust="spacingAndGlyphs">(h)</text>
<text x="893.05" y="876.8" font-size="41" textLength="188.09" lengthAdjust="spacingAndGlyphs">Markovian-</text>
<text x="903.26" y="916.5" font-size="41" textLength="171.84" lengthAdjust="spacingAndGlyphs">Lorentzian</text>
<text x="925.77" y="956.1" font-size="41" textLength="123.72" lengthAdjust="spacingAndGlyphs">squared</text>
<text x="1502.26" y="880.7" font-size="41" textLength="187.58" lengthAdjust="spacingAndGlyphs">Markovian-</text>
<text x="1540.96" y="920.3" font-size="41" textLength="108.97" lengthAdjust="spacingAndGlyphs">Ohmic</text>
<text x="1650.15" y="1039.7" font-size="38.7" textLength="37.6" lengthAdjust="spacingAndGlyphs">(i)</text>
</svg></body></html>
